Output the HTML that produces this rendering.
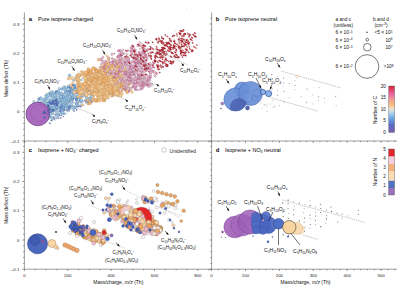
<!DOCTYPE html><html><head><meta charset="utf-8"><style>html,body{margin:0;padding:0;background:#fff;width:400px;height:300px;overflow:hidden}svg{display:block;font-family:"Liberation Sans",sans-serif}svg text{stroke:none}</style></head><body><svg width="400" height="300" viewBox="0 0 400 300"><rect width="400" height="300" fill="#fff"/><g><circle cx="83.6" cy="93.6" r="1.29" fill="#b2d8f5" stroke="#6e8597" stroke-width="0.3"/><circle cx="58.3" cy="90.8" r="1.09" fill="#b2d8f5" stroke="#6e8597" stroke-width="0.3"/><circle cx="69.1" cy="91.7" r="1.21" fill="#b2d8f5" stroke="#6e8597" stroke-width="0.3"/><circle cx="86.7" cy="91.5" r="1.22" fill="#b2d8f5" stroke="#6e8597" stroke-width="0.3"/><circle cx="69.5" cy="75.4" r="1.37" fill="#96c6f0" stroke="#5d7a94" stroke-width="0.3"/><circle cx="56.6" cy="104.6" r="0.95" fill="#b2d8f5" stroke="#6e8597" stroke-width="0.3"/><circle cx="48.6" cy="112.6" r="1.36" fill="#6996da" stroke="#415d87" stroke-width="0.3"/><circle cx="60.2" cy="102.7" r="0.87" fill="#b2d8f5" stroke="#6e8597" stroke-width="0.3"/><circle cx="57.5" cy="101.0" r="0.97" fill="#96c6f0" stroke="#5d7a94" stroke-width="0.3"/><circle cx="76.0" cy="103.5" r="0.88" fill="#6996da" stroke="#415d87" stroke-width="0.3"/><circle cx="68.4" cy="93.5" r="1.08" fill="#b2d8f5" stroke="#6e8597" stroke-width="0.3"/><circle cx="67.9" cy="86.8" r="0.99" fill="#b2d8f5" stroke="#6e8597" stroke-width="0.3"/><circle cx="62.4" cy="104.7" r="1.38" fill="#b2d8f5" stroke="#6e8597" stroke-width="0.3"/><circle cx="61.5" cy="108.6" r="0.84" fill="#b2d8f5" stroke="#6e8597" stroke-width="0.3"/><circle cx="52.1" cy="109.7" r="0.93" fill="#b2d8f5" stroke="#6e8597" stroke-width="0.3"/><circle cx="59.2" cy="88.7" r="1.27" fill="#b2d8f5" stroke="#6e8597" stroke-width="0.3"/><circle cx="51.9" cy="110.2" r="0.99" fill="#96c6f0" stroke="#5d7a94" stroke-width="0.3"/><circle cx="44.7" cy="107.3" r="1.28" fill="#b2d8f5" stroke="#6e8597" stroke-width="0.3"/><circle cx="48.5" cy="99.9" r="1.18" fill="#b2d8f5" stroke="#6e8597" stroke-width="0.3"/><circle cx="65.7" cy="107.2" r="1.13" fill="#b2d8f5" stroke="#6e8597" stroke-width="0.3"/><circle cx="59.0" cy="103.4" r="0.80" fill="#6996da" stroke="#415d87" stroke-width="0.3"/><circle cx="54.8" cy="108.7" r="1.19" fill="#96c6f0" stroke="#5d7a94" stroke-width="0.3"/><circle cx="45.3" cy="103.5" r="1.29" fill="#b2d8f5" stroke="#6e8597" stroke-width="0.3"/><circle cx="78.9" cy="93.0" r="1.28" fill="#b2d8f5" stroke="#6e8597" stroke-width="0.3"/><circle cx="68.1" cy="103.6" r="1.25" fill="#b2d8f5" stroke="#6e8597" stroke-width="0.3"/><circle cx="41.1" cy="104.0" r="1.39" fill="#96c6f0" stroke="#5d7a94" stroke-width="0.3"/><circle cx="81.4" cy="96.9" r="1.04" fill="#96c6f0" stroke="#5d7a94" stroke-width="0.3"/><circle cx="45.8" cy="103.9" r="1.34" fill="#b2d8f5" stroke="#6e8597" stroke-width="0.3"/><circle cx="79.1" cy="76.7" r="1.07" fill="#96c6f0" stroke="#5d7a94" stroke-width="0.3"/><circle cx="56.8" cy="92.8" r="1.26" fill="#b2d8f5" stroke="#6e8597" stroke-width="0.3"/><circle cx="73.4" cy="85.7" r="1.23" fill="#b2d8f5" stroke="#6e8597" stroke-width="0.3"/><circle cx="61.1" cy="93.0" r="1.11" fill="#96c6f0" stroke="#5d7a94" stroke-width="0.3"/><circle cx="67.6" cy="99.5" r="0.93" fill="#b2d8f5" stroke="#6e8597" stroke-width="0.3"/><circle cx="76.5" cy="104.2" r="1.31" fill="#96c6f0" stroke="#5d7a94" stroke-width="0.3"/><circle cx="53.7" cy="100.1" r="1.25" fill="#b2d8f5" stroke="#6e8597" stroke-width="0.3"/><circle cx="38.7" cy="98.5" r="0.88" fill="#b2d8f5" stroke="#6e8597" stroke-width="0.3"/><circle cx="46.4" cy="94.7" r="0.92" fill="#b2d8f5" stroke="#6e8597" stroke-width="0.3"/><circle cx="68.5" cy="96.7" r="1.10" fill="#b2d8f5" stroke="#6e8597" stroke-width="0.3"/><circle cx="69.5" cy="108.4" r="1.16" fill="#b2d8f5" stroke="#6e8597" stroke-width="0.3"/><circle cx="68.7" cy="86.9" r="1.32" fill="#6996da" stroke="#415d87" stroke-width="0.3"/><circle cx="46.9" cy="94.9" r="0.91" fill="#96c6f0" stroke="#5d7a94" stroke-width="0.3"/><circle cx="45.8" cy="110.6" r="1.11" fill="#96c6f0" stroke="#5d7a94" stroke-width="0.3"/><circle cx="58.2" cy="92.7" r="0.83" fill="#b2d8f5" stroke="#6e8597" stroke-width="0.3"/><circle cx="71.7" cy="107.9" r="0.88" fill="#b2d8f5" stroke="#6e8597" stroke-width="0.3"/><circle cx="66.7" cy="90.6" r="0.86" fill="#b2d8f5" stroke="#6e8597" stroke-width="0.3"/><circle cx="58.0" cy="99.8" r="0.91" fill="#b2d8f5" stroke="#6e8597" stroke-width="0.3"/><circle cx="57.7" cy="92.3" r="1.25" fill="#96c6f0" stroke="#5d7a94" stroke-width="0.3"/><circle cx="64.1" cy="106.1" r="1.25" fill="#96c6f0" stroke="#5d7a94" stroke-width="0.3"/><circle cx="68.9" cy="100.9" r="1.02" fill="#b2d8f5" stroke="#6e8597" stroke-width="0.3"/><circle cx="71.7" cy="95.4" r="1.06" fill="#b2d8f5" stroke="#6e8597" stroke-width="0.3"/><circle cx="63.1" cy="100.8" r="1.19" fill="#b2d8f5" stroke="#6e8597" stroke-width="0.3"/><circle cx="56.7" cy="107.3" r="1.32" fill="#b2d8f5" stroke="#6e8597" stroke-width="0.3"/><circle cx="52.8" cy="91.7" r="0.83" fill="#96c6f0" stroke="#5d7a94" stroke-width="0.3"/><circle cx="52.3" cy="100.6" r="0.95" fill="#b2d8f5" stroke="#6e8597" stroke-width="0.3"/><circle cx="78.0" cy="88.3" r="1.36" fill="#b2d8f5" stroke="#6e8597" stroke-width="0.3"/><circle cx="52.4" cy="94.2" r="1.25" fill="#96c6f0" stroke="#5d7a94" stroke-width="0.3"/><circle cx="62.3" cy="88.7" r="1.05" fill="#6996da" stroke="#415d87" stroke-width="0.3"/><circle cx="58.1" cy="106.8" r="1.15" fill="#96c6f0" stroke="#5d7a94" stroke-width="0.3"/><circle cx="59.1" cy="99.9" r="1.11" fill="#96c6f0" stroke="#5d7a94" stroke-width="0.3"/><circle cx="53.1" cy="110.7" r="1.32" fill="#b2d8f5" stroke="#6e8597" stroke-width="0.3"/><circle cx="45.9" cy="112.1" r="1.38" fill="#b2d8f5" stroke="#6e8597" stroke-width="0.3"/><circle cx="65.8" cy="92.3" r="1.34" fill="#6996da" stroke="#415d87" stroke-width="0.3"/><circle cx="62.0" cy="104.7" r="1.00" fill="#b2d8f5" stroke="#6e8597" stroke-width="0.3"/><circle cx="79.0" cy="98.1" r="0.96" fill="#b2d8f5" stroke="#6e8597" stroke-width="0.3"/><circle cx="69.7" cy="101.6" r="0.95" fill="#96c6f0" stroke="#5d7a94" stroke-width="0.3"/><circle cx="76.3" cy="100.4" r="1.20" fill="#b2d8f5" stroke="#6e8597" stroke-width="0.3"/><circle cx="69.6" cy="94.0" r="0.92" fill="#6996da" stroke="#415d87" stroke-width="0.3"/><circle cx="39.3" cy="103.6" r="1.37" fill="#96c6f0" stroke="#5d7a94" stroke-width="0.3"/><circle cx="77.0" cy="97.9" r="1.16" fill="#6996da" stroke="#415d87" stroke-width="0.3"/><circle cx="76.3" cy="98.8" r="1.03" fill="#96c6f0" stroke="#5d7a94" stroke-width="0.3"/><circle cx="77.6" cy="80.0" r="1.35" fill="#96c6f0" stroke="#5d7a94" stroke-width="0.3"/><circle cx="65.9" cy="99.3" r="1.16" fill="#96c6f0" stroke="#5d7a94" stroke-width="0.3"/><circle cx="44.4" cy="102.8" r="1.30" fill="#b2d8f5" stroke="#6e8597" stroke-width="0.3"/><circle cx="73.6" cy="90.5" r="1.31" fill="#96c6f0" stroke="#5d7a94" stroke-width="0.3"/><circle cx="47.1" cy="109.1" r="1.00" fill="#96c6f0" stroke="#5d7a94" stroke-width="0.3"/><circle cx="55.5" cy="103.8" r="1.17" fill="#b2d8f5" stroke="#6e8597" stroke-width="0.3"/><circle cx="56.5" cy="106.6" r="0.80" fill="#b2d8f5" stroke="#6e8597" stroke-width="0.3"/><circle cx="52.8" cy="106.4" r="1.39" fill="#b2d8f5" stroke="#6e8597" stroke-width="0.3"/><circle cx="66.4" cy="96.8" r="0.92" fill="#96c6f0" stroke="#5d7a94" stroke-width="0.3"/><circle cx="46.3" cy="102.3" r="1.17" fill="#b2d8f5" stroke="#6e8597" stroke-width="0.3"/><circle cx="64.0" cy="113.9" r="0.90" fill="#96c6f0" stroke="#5d7a94" stroke-width="0.3"/><circle cx="53.1" cy="104.4" r="1.34" fill="#b2d8f5" stroke="#6e8597" stroke-width="0.3"/><circle cx="87.4" cy="98.1" r="1.18" fill="#96c6f0" stroke="#5d7a94" stroke-width="0.3"/><circle cx="40.0" cy="104.0" r="1.11" fill="#96c6f0" stroke="#5d7a94" stroke-width="0.3"/><circle cx="75.1" cy="90.6" r="0.99" fill="#6996da" stroke="#415d87" stroke-width="0.3"/><circle cx="68.5" cy="95.3" r="1.07" fill="#96c6f0" stroke="#5d7a94" stroke-width="0.3"/><circle cx="85.7" cy="96.4" r="0.84" fill="#b2d8f5" stroke="#6e8597" stroke-width="0.3"/><circle cx="66.3" cy="103.5" r="0.88" fill="#6996da" stroke="#415d87" stroke-width="0.3"/><circle cx="60.6" cy="110.8" r="0.96" fill="#b2d8f5" stroke="#6e8597" stroke-width="0.3"/><circle cx="66.6" cy="99.3" r="1.22" fill="#96c6f0" stroke="#5d7a94" stroke-width="0.3"/><circle cx="79.1" cy="86.5" r="1.00" fill="#b2d8f5" stroke="#6e8597" stroke-width="0.3"/><circle cx="43.8" cy="109.3" r="1.02" fill="#b2d8f5" stroke="#6e8597" stroke-width="0.3"/><circle cx="61.1" cy="108.2" r="1.36" fill="#b2d8f5" stroke="#6e8597" stroke-width="0.3"/><circle cx="76.1" cy="77.0" r="1.17" fill="#b2d8f5" stroke="#6e8597" stroke-width="0.3"/><circle cx="52.7" cy="113.8" r="1.30" fill="#b2d8f5" stroke="#6e8597" stroke-width="0.3"/><circle cx="72.4" cy="84.8" r="0.85" fill="#6996da" stroke="#415d87" stroke-width="0.3"/><circle cx="74.9" cy="88.8" r="1.36" fill="#b2d8f5" stroke="#6e8597" stroke-width="0.3"/><circle cx="44.6" cy="104.4" r="1.06" fill="#b2d8f5" stroke="#6e8597" stroke-width="0.3"/><circle cx="42.3" cy="105.1" r="1.28" fill="#b2d8f5" stroke="#6e8597" stroke-width="0.3"/><circle cx="71.6" cy="100.8" r="1.05" fill="#b2d8f5" stroke="#6e8597" stroke-width="0.3"/><circle cx="46.0" cy="113.0" r="1.05" fill="#b2d8f5" stroke="#6e8597" stroke-width="0.3"/><circle cx="71.1" cy="97.7" r="1.25" fill="#6996da" stroke="#415d87" stroke-width="0.3"/><circle cx="53.8" cy="102.0" r="1.14" fill="#b2d8f5" stroke="#6e8597" stroke-width="0.3"/><circle cx="77.2" cy="103.6" r="1.03" fill="#6996da" stroke="#415d87" stroke-width="0.3"/><circle cx="67.9" cy="91.5" r="1.29" fill="#96c6f0" stroke="#5d7a94" stroke-width="0.3"/><circle cx="80.3" cy="98.6" r="1.33" fill="#b2d8f5" stroke="#6e8597" stroke-width="0.3"/><circle cx="58.4" cy="94.0" r="1.26" fill="#96c6f0" stroke="#5d7a94" stroke-width="0.3"/><circle cx="55.1" cy="105.1" r="1.18" fill="#96c6f0" stroke="#5d7a94" stroke-width="0.3"/><circle cx="56.5" cy="98.0" r="1.17" fill="#b2d8f5" stroke="#6e8597" stroke-width="0.3"/><circle cx="63.2" cy="104.9" r="1.35" fill="#96c6f0" stroke="#5d7a94" stroke-width="0.3"/><circle cx="53.7" cy="110.1" r="1.25" fill="#96c6f0" stroke="#5d7a94" stroke-width="0.3"/><circle cx="88.2" cy="100.3" r="1.04" fill="#96c6f0" stroke="#5d7a94" stroke-width="0.3"/><circle cx="59.9" cy="94.0" r="1.30" fill="#b2d8f5" stroke="#6e8597" stroke-width="0.3"/><circle cx="64.1" cy="106.7" r="1.30" fill="#b2d8f5" stroke="#6e8597" stroke-width="0.3"/><circle cx="46.3" cy="97.7" r="1.19" fill="#b2d8f5" stroke="#6e8597" stroke-width="0.3"/><circle cx="72.2" cy="91.1" r="1.16" fill="#b2d8f5" stroke="#6e8597" stroke-width="0.3"/><circle cx="74.1" cy="106.6" r="1.21" fill="#b2d8f5" stroke="#6e8597" stroke-width="0.3"/><circle cx="78.0" cy="101.6" r="1.12" fill="#b2d8f5" stroke="#6e8597" stroke-width="0.3"/><circle cx="43.4" cy="99.6" r="1.38" fill="#96c6f0" stroke="#5d7a94" stroke-width="0.3"/><circle cx="63.4" cy="110.3" r="1.35" fill="#96c6f0" stroke="#5d7a94" stroke-width="0.3"/><circle cx="51.2" cy="112.3" r="1.34" fill="#b2d8f5" stroke="#6e8597" stroke-width="0.3"/><circle cx="61.1" cy="104.9" r="1.08" fill="#b2d8f5" stroke="#6e8597" stroke-width="0.3"/><circle cx="45.8" cy="95.9" r="1.26" fill="#b2d8f5" stroke="#6e8597" stroke-width="0.3"/><circle cx="49.7" cy="93.4" r="1.13" fill="#b2d8f5" stroke="#6e8597" stroke-width="0.3"/><circle cx="67.8" cy="106.2" r="1.29" fill="#b2d8f5" stroke="#6e8597" stroke-width="0.3"/><circle cx="48.1" cy="106.8" r="1.37" fill="#b2d8f5" stroke="#6e8597" stroke-width="0.3"/><circle cx="62.6" cy="96.9" r="1.35" fill="#b2d8f5" stroke="#6e8597" stroke-width="0.3"/><circle cx="50.3" cy="94.0" r="1.40" fill="#6996da" stroke="#415d87" stroke-width="0.3"/><circle cx="68.9" cy="106.7" r="1.06" fill="#96c6f0" stroke="#5d7a94" stroke-width="0.3"/><circle cx="83.6" cy="94.5" r="0.95" fill="#96c6f0" stroke="#5d7a94" stroke-width="0.3"/><circle cx="76.7" cy="106.8" r="0.91" fill="#96c6f0" stroke="#5d7a94" stroke-width="0.3"/><circle cx="49.3" cy="109.9" r="0.89" fill="#6996da" stroke="#415d87" stroke-width="0.3"/><circle cx="54.1" cy="95.6" r="1.31" fill="#b2d8f5" stroke="#6e8597" stroke-width="0.3"/><circle cx="49.6" cy="94.7" r="1.37" fill="#96c6f0" stroke="#5d7a94" stroke-width="0.3"/><circle cx="65.7" cy="98.0" r="0.93" fill="#96c6f0" stroke="#5d7a94" stroke-width="0.3"/><circle cx="48.3" cy="103.5" r="1.04" fill="#96c6f0" stroke="#5d7a94" stroke-width="0.3"/><circle cx="49.7" cy="105.2" r="1.25" fill="#b2d8f5" stroke="#6e8597" stroke-width="0.3"/><circle cx="44.5" cy="100.9" r="1.10" fill="#96c6f0" stroke="#5d7a94" stroke-width="0.3"/><circle cx="48.2" cy="115.8" r="0.84" fill="#6996da" stroke="#415d87" stroke-width="0.3"/><circle cx="61.7" cy="99.0" r="1.32" fill="#b2d8f5" stroke="#6e8597" stroke-width="0.3"/><circle cx="63.2" cy="94.4" r="1.07" fill="#b2d8f5" stroke="#6e8597" stroke-width="0.3"/><circle cx="44.6" cy="116.0" r="0.83" fill="#96c6f0" stroke="#5d7a94" stroke-width="0.3"/><circle cx="53.7" cy="103.0" r="0.99" fill="#96c6f0" stroke="#5d7a94" stroke-width="0.3"/><circle cx="62.7" cy="102.3" r="1.31" fill="#96c6f0" stroke="#5d7a94" stroke-width="0.3"/><circle cx="65.9" cy="94.8" r="0.89" fill="#b2d8f5" stroke="#6e8597" stroke-width="0.3"/><circle cx="63.4" cy="107.3" r="1.40" fill="#96c6f0" stroke="#5d7a94" stroke-width="0.3"/><circle cx="64.3" cy="88.3" r="1.17" fill="#96c6f0" stroke="#5d7a94" stroke-width="0.3"/><circle cx="51.4" cy="99.6" r="1.00" fill="#b2d8f5" stroke="#6e8597" stroke-width="0.3"/><circle cx="69.6" cy="108.3" r="1.15" fill="#b2d8f5" stroke="#6e8597" stroke-width="0.3"/><circle cx="59.8" cy="107.8" r="1.28" fill="#b2d8f5" stroke="#6e8597" stroke-width="0.3"/><circle cx="72.4" cy="91.2" r="1.03" fill="#6996da" stroke="#415d87" stroke-width="0.3"/><circle cx="63.6" cy="112.7" r="0.89" fill="#96c6f0" stroke="#5d7a94" stroke-width="0.3"/><circle cx="58.2" cy="92.9" r="1.09" fill="#96c6f0" stroke="#5d7a94" stroke-width="0.3"/><circle cx="57.1" cy="109.0" r="0.81" fill="#6996da" stroke="#415d87" stroke-width="0.3"/><circle cx="45.4" cy="111.8" r="0.81" fill="#96c6f0" stroke="#5d7a94" stroke-width="0.3"/><circle cx="50.6" cy="102.5" r="1.09" fill="#b2d8f5" stroke="#6e8597" stroke-width="0.3"/><circle cx="66.2" cy="93.7" r="1.09" fill="#b2d8f5" stroke="#6e8597" stroke-width="0.3"/><circle cx="46.0" cy="104.3" r="1.22" fill="#96c6f0" stroke="#5d7a94" stroke-width="0.3"/><circle cx="87.5" cy="89.9" r="1.27" fill="#96c6f0" stroke="#5d7a94" stroke-width="0.3"/><circle cx="46.4" cy="104.0" r="0.91" fill="#b2d8f5" stroke="#6e8597" stroke-width="0.3"/><circle cx="65.9" cy="104.4" r="1.28" fill="#6996da" stroke="#415d87" stroke-width="0.3"/><circle cx="46.0" cy="107.2" r="0.99" fill="#6996da" stroke="#415d87" stroke-width="0.3"/><circle cx="51.2" cy="103.5" r="0.86" fill="#6996da" stroke="#415d87" stroke-width="0.3"/><circle cx="83.7" cy="85.2" r="1.12" fill="#b2d8f5" stroke="#6e8597" stroke-width="0.3"/><circle cx="82.3" cy="101.2" r="0.96" fill="#6996da" stroke="#415d87" stroke-width="0.3"/><circle cx="57.0" cy="92.0" r="1.34" fill="#96c6f0" stroke="#5d7a94" stroke-width="0.3"/><circle cx="68.8" cy="105.9" r="1.34" fill="#b2d8f5" stroke="#6e8597" stroke-width="0.3"/><circle cx="92.0" cy="99.2" r="0.88" fill="#6996da" stroke="#415d87" stroke-width="0.3"/><circle cx="71.9" cy="96.2" r="1.25" fill="#b2d8f5" stroke="#6e8597" stroke-width="0.3"/><circle cx="73.3" cy="95.5" r="1.34" fill="#96c6f0" stroke="#5d7a94" stroke-width="0.3"/><circle cx="87.1" cy="89.8" r="0.90" fill="#6996da" stroke="#415d87" stroke-width="0.3"/><circle cx="61.7" cy="101.8" r="1.12" fill="#b2d8f5" stroke="#6e8597" stroke-width="0.3"/><circle cx="66.1" cy="109.6" r="1.24" fill="#96c6f0" stroke="#5d7a94" stroke-width="0.3"/><circle cx="64.0" cy="97.8" r="0.94" fill="#b2d8f5" stroke="#6e8597" stroke-width="0.3"/><circle cx="52.6" cy="109.1" r="1.17" fill="#96c6f0" stroke="#5d7a94" stroke-width="0.3"/><circle cx="63.5" cy="97.3" r="1.26" fill="#6996da" stroke="#415d87" stroke-width="0.3"/><circle cx="82.8" cy="104.8" r="0.88" fill="#b2d8f5" stroke="#6e8597" stroke-width="0.3"/><circle cx="50.6" cy="109.3" r="0.85" fill="#b2d8f5" stroke="#6e8597" stroke-width="0.3"/><circle cx="62.8" cy="106.2" r="1.14" fill="#96c6f0" stroke="#5d7a94" stroke-width="0.3"/><circle cx="57.6" cy="108.8" r="0.83" fill="#96c6f0" stroke="#5d7a94" stroke-width="0.3"/><circle cx="51.9" cy="108.8" r="1.23" fill="#b2d8f5" stroke="#6e8597" stroke-width="0.3"/><circle cx="60.3" cy="101.7" r="0.85" fill="#6996da" stroke="#415d87" stroke-width="0.3"/><circle cx="46.0" cy="99.3" r="1.05" fill="#96c6f0" stroke="#5d7a94" stroke-width="0.3"/><circle cx="56.9" cy="93.0" r="0.98" fill="#b2d8f5" stroke="#6e8597" stroke-width="0.3"/><circle cx="61.8" cy="98.9" r="0.98" fill="#b2d8f5" stroke="#6e8597" stroke-width="0.3"/><circle cx="64.4" cy="104.7" r="1.39" fill="#b2d8f5" stroke="#6e8597" stroke-width="0.3"/><circle cx="73.8" cy="97.5" r="1.22" fill="#96c6f0" stroke="#5d7a94" stroke-width="0.3"/><circle cx="67.6" cy="96.5" r="1.30" fill="#96c6f0" stroke="#5d7a94" stroke-width="0.3"/><circle cx="88.5" cy="98.8" r="1.02" fill="#b2d8f5" stroke="#6e8597" stroke-width="0.3"/><circle cx="56.8" cy="112.3" r="1.27" fill="#b2d8f5" stroke="#6e8597" stroke-width="0.3"/><circle cx="73.1" cy="87.0" r="1.15" fill="#b2d8f5" stroke="#6e8597" stroke-width="0.3"/><circle cx="45.4" cy="103.2" r="1.02" fill="#b2d8f5" stroke="#6e8597" stroke-width="0.3"/><circle cx="71.9" cy="105.7" r="1.34" fill="#96c6f0" stroke="#5d7a94" stroke-width="0.3"/><circle cx="79.2" cy="84.5" r="1.09" fill="#6996da" stroke="#415d87" stroke-width="0.3"/><circle cx="54.0" cy="105.1" r="0.90" fill="#b2d8f5" stroke="#6e8597" stroke-width="0.3"/><circle cx="71.2" cy="102.5" r="1.00" fill="#96c6f0" stroke="#5d7a94" stroke-width="0.3"/><circle cx="69.2" cy="96.9" r="1.35" fill="#b2d8f5" stroke="#6e8597" stroke-width="0.3"/><circle cx="60.8" cy="106.5" r="1.06" fill="#b2d8f5" stroke="#6e8597" stroke-width="0.3"/><circle cx="111.7" cy="72.4" r="1.19" fill="#f8be7d" stroke="#b2885a" stroke-width="0.3"/><circle cx="66.2" cy="98.5" r="0.96" fill="#96c6f0" stroke="#5d7a94" stroke-width="0.3"/><circle cx="106.7" cy="73.5" r="1.41" fill="#facf98" stroke="#b4956d" stroke-width="0.3"/><circle cx="86.6" cy="83.0" r="1.35" fill="#f4af69" stroke="#af7e4b" stroke-width="0.3"/><circle cx="73.3" cy="90.4" r="1.36" fill="#96c6f0" stroke="#5d7a94" stroke-width="0.3"/><circle cx="120.8" cy="72.7" r="1.42" fill="#f4af69" stroke="#af7e4b" stroke-width="0.3"/><circle cx="116.2" cy="68.3" r="1.10" fill="#facf98" stroke="#b4956d" stroke-width="0.3"/><circle cx="124.8" cy="78.8" r="1.61" fill="#facf98" stroke="#b4956d" stroke-width="0.3"/><circle cx="95.0" cy="89.9" r="1.13" fill="#f8be7d" stroke="#b2885a" stroke-width="0.3"/><circle cx="121.7" cy="84.4" r="1.54" fill="#f8be7d" stroke="#b2885a" stroke-width="0.3"/><circle cx="54.7" cy="101.8" r="1.21" fill="#b2d8f5" stroke="#6e8597" stroke-width="0.3"/><circle cx="69.7" cy="99.1" r="0.84" fill="#96c6f0" stroke="#5d7a94" stroke-width="0.3"/><circle cx="61.4" cy="105.2" r="1.08" fill="#96c6f0" stroke="#5d7a94" stroke-width="0.3"/><circle cx="102.4" cy="91.0" r="1.50" fill="#f8be7d" stroke="#b2885a" stroke-width="0.3"/><circle cx="111.7" cy="77.5" r="1.16" fill="#f8be7d" stroke="#b2885a" stroke-width="0.3"/><circle cx="104.8" cy="83.6" r="1.04" fill="#facf98" stroke="#b4956d" stroke-width="0.3"/><circle cx="67.4" cy="102.0" r="1.32" fill="#b2d8f5" stroke="#6e8597" stroke-width="0.3"/><circle cx="105.1" cy="69.1" r="1.45" fill="#f8be7d" stroke="#b2885a" stroke-width="0.3"/><circle cx="114.8" cy="64.6" r="1.13" fill="#f4af69" stroke="#af7e4b" stroke-width="0.3"/><circle cx="118.9" cy="72.9" r="1.33" fill="#f8be7d" stroke="#b2885a" stroke-width="0.3"/><circle cx="116.2" cy="77.3" r="1.64" fill="#f8be7d" stroke="#b2885a" stroke-width="0.3"/><circle cx="79.5" cy="94.2" r="1.36" fill="#b2d8f5" stroke="#6e8597" stroke-width="0.3"/><circle cx="119.0" cy="75.5" r="1.59" fill="#f8be7d" stroke="#b2885a" stroke-width="0.3"/><circle cx="70.2" cy="85.5" r="1.10" fill="#96c6f0" stroke="#5d7a94" stroke-width="0.3"/><circle cx="71.3" cy="91.0" r="1.32" fill="#b2d8f5" stroke="#6e8597" stroke-width="0.3"/><circle cx="106.9" cy="74.4" r="1.40" fill="#f4af69" stroke="#af7e4b" stroke-width="0.3"/><circle cx="92.5" cy="94.6" r="1.43" fill="#facf98" stroke="#b4956d" stroke-width="0.3"/><circle cx="70.6" cy="101.0" r="0.99" fill="#6996da" stroke="#415d87" stroke-width="0.3"/><circle cx="102.8" cy="83.6" r="1.45" fill="#f8be7d" stroke="#b2885a" stroke-width="0.3"/><circle cx="132.0" cy="92.0" r="1.39" fill="#facf98" stroke="#b4956d" stroke-width="0.3"/><circle cx="119.4" cy="91.9" r="1.64" fill="#f8be7d" stroke="#b2885a" stroke-width="0.3"/><circle cx="87.7" cy="74.7" r="1.04" fill="#f8be7d" stroke="#b2885a" stroke-width="0.3"/><circle cx="70.8" cy="85.1" r="1.41" fill="#facf98" stroke="#b4956d" stroke-width="0.3"/><circle cx="53.6" cy="101.6" r="1.16" fill="#b2d8f5" stroke="#6e8597" stroke-width="0.3"/><circle cx="51.5" cy="101.1" r="1.13" fill="#b2d8f5" stroke="#6e8597" stroke-width="0.3"/><circle cx="79.0" cy="96.2" r="1.08" fill="#b2d8f5" stroke="#6e8597" stroke-width="0.3"/><circle cx="89.5" cy="93.8" r="1.02" fill="#f8be7d" stroke="#b2885a" stroke-width="0.3"/><circle cx="47.1" cy="106.8" r="1.12" fill="#b2d8f5" stroke="#6e8597" stroke-width="0.3"/><circle cx="107.5" cy="65.5" r="1.44" fill="#f8be7d" stroke="#b2885a" stroke-width="0.3"/><circle cx="76.6" cy="91.0" r="1.09" fill="#f4af69" stroke="#af7e4b" stroke-width="0.3"/><circle cx="85.4" cy="94.3" r="0.91" fill="#b2d8f5" stroke="#6e8597" stroke-width="0.3"/><circle cx="43.4" cy="113.0" r="0.94" fill="#b2d8f5" stroke="#6e8597" stroke-width="0.3"/><circle cx="42.3" cy="109.9" r="1.08" fill="#b2d8f5" stroke="#6e8597" stroke-width="0.3"/><circle cx="64.8" cy="95.6" r="1.35" fill="#b2d8f5" stroke="#6e8597" stroke-width="0.3"/><circle cx="65.8" cy="102.0" r="1.21" fill="#b2d8f5" stroke="#6e8597" stroke-width="0.3"/><circle cx="114.2" cy="60.4" r="1.22" fill="#facf98" stroke="#b4956d" stroke-width="0.3"/><circle cx="67.2" cy="102.2" r="1.31" fill="#96c6f0" stroke="#5d7a94" stroke-width="0.3"/><circle cx="83.8" cy="89.8" r="1.14" fill="#facf98" stroke="#b4956d" stroke-width="0.3"/><circle cx="74.5" cy="85.5" r="1.29" fill="#6996da" stroke="#415d87" stroke-width="0.3"/><circle cx="113.1" cy="92.4" r="1.18" fill="#f8be7d" stroke="#b2885a" stroke-width="0.3"/><circle cx="113.9" cy="70.5" r="1.12" fill="#facf98" stroke="#b4956d" stroke-width="0.3"/><circle cx="57.5" cy="101.7" r="1.27" fill="#b2d8f5" stroke="#6e8597" stroke-width="0.3"/><circle cx="58.2" cy="106.5" r="1.04" fill="#b2d8f5" stroke="#6e8597" stroke-width="0.3"/><circle cx="75.4" cy="87.0" r="0.97" fill="#96c6f0" stroke="#5d7a94" stroke-width="0.3"/><circle cx="52.2" cy="112.0" r="1.38" fill="#b2d8f5" stroke="#6e8597" stroke-width="0.3"/><circle cx="73.9" cy="87.0" r="1.14" fill="#96c6f0" stroke="#5d7a94" stroke-width="0.3"/><circle cx="93.2" cy="95.9" r="1.38" fill="#f8be7d" stroke="#b2885a" stroke-width="0.3"/><circle cx="119.5" cy="77.3" r="1.64" fill="#f4af69" stroke="#af7e4b" stroke-width="0.3"/><circle cx="97.6" cy="96.6" r="1.08" fill="#f8be7d" stroke="#b2885a" stroke-width="0.3"/><circle cx="95.4" cy="79.1" r="1.30" fill="#f4af69" stroke="#af7e4b" stroke-width="0.3"/><circle cx="74.6" cy="88.0" r="1.11" fill="#6996da" stroke="#415d87" stroke-width="0.3"/><circle cx="65.6" cy="92.7" r="1.04" fill="#b2d8f5" stroke="#6e8597" stroke-width="0.3"/><circle cx="91.3" cy="80.7" r="1.28" fill="#f4af69" stroke="#af7e4b" stroke-width="0.3"/><circle cx="93.8" cy="78.1" r="1.28" fill="#f4af69" stroke="#af7e4b" stroke-width="0.3"/><circle cx="99.3" cy="89.0" r="1.17" fill="#f8be7d" stroke="#b2885a" stroke-width="0.3"/><circle cx="105.7" cy="84.4" r="1.45" fill="#f8be7d" stroke="#b2885a" stroke-width="0.3"/><circle cx="72.9" cy="109.1" r="1.04" fill="#b2d8f5" stroke="#6e8597" stroke-width="0.3"/><circle cx="91.5" cy="100.6" r="1.32" fill="#b2d8f5" stroke="#6e8597" stroke-width="0.3"/><circle cx="115.2" cy="77.5" r="1.27" fill="#f8be7d" stroke="#b2885a" stroke-width="0.3"/><circle cx="80.1" cy="94.0" r="0.97" fill="#96c6f0" stroke="#5d7a94" stroke-width="0.3"/><circle cx="58.3" cy="114.6" r="1.02" fill="#6996da" stroke="#415d87" stroke-width="0.3"/><circle cx="55.5" cy="107.8" r="0.81" fill="#6996da" stroke="#415d87" stroke-width="0.3"/><circle cx="103.5" cy="81.9" r="1.62" fill="#f8be7d" stroke="#b2885a" stroke-width="0.3"/><circle cx="57.9" cy="101.7" r="1.10" fill="#96c6f0" stroke="#5d7a94" stroke-width="0.3"/><circle cx="65.0" cy="97.3" r="1.38" fill="#b2d8f5" stroke="#6e8597" stroke-width="0.3"/><circle cx="41.5" cy="105.2" r="0.95" fill="#b2d8f5" stroke="#6e8597" stroke-width="0.3"/><circle cx="99.3" cy="97.7" r="1.42" fill="#f8be7d" stroke="#b2885a" stroke-width="0.3"/><circle cx="56.2" cy="96.3" r="0.90" fill="#b2d8f5" stroke="#6e8597" stroke-width="0.3"/><circle cx="51.1" cy="106.5" r="1.27" fill="#b2d8f5" stroke="#6e8597" stroke-width="0.3"/><circle cx="33.9" cy="101.6" r="1.28" fill="#b2d8f5" stroke="#6e8597" stroke-width="0.3"/><circle cx="115.0" cy="90.6" r="1.01" fill="#f8be7d" stroke="#b2885a" stroke-width="0.3"/><circle cx="93.7" cy="73.4" r="1.09" fill="#f4af69" stroke="#af7e4b" stroke-width="0.3"/><circle cx="69.4" cy="105.7" r="0.88" fill="#b2d8f5" stroke="#6e8597" stroke-width="0.3"/><circle cx="124.8" cy="89.4" r="1.35" fill="#f8be7d" stroke="#b2885a" stroke-width="0.3"/><circle cx="113.2" cy="95.0" r="1.52" fill="#f8be7d" stroke="#b2885a" stroke-width="0.3"/><circle cx="104.7" cy="65.1" r="1.10" fill="#f4af69" stroke="#af7e4b" stroke-width="0.3"/><circle cx="107.2" cy="81.4" r="1.38" fill="#f8be7d" stroke="#b2885a" stroke-width="0.3"/><circle cx="47.8" cy="111.4" r="1.19" fill="#96c6f0" stroke="#5d7a94" stroke-width="0.3"/><circle cx="65.8" cy="107.5" r="0.94" fill="#96c6f0" stroke="#5d7a94" stroke-width="0.3"/><circle cx="100.1" cy="86.2" r="1.63" fill="#f8be7d" stroke="#b2885a" stroke-width="0.3"/><circle cx="55.3" cy="95.7" r="1.15" fill="#96c6f0" stroke="#5d7a94" stroke-width="0.3"/><circle cx="92.5" cy="77.1" r="1.25" fill="#f8be7d" stroke="#b2885a" stroke-width="0.3"/><circle cx="107.4" cy="73.0" r="1.37" fill="#f8be7d" stroke="#b2885a" stroke-width="0.3"/><circle cx="114.9" cy="77.4" r="1.43" fill="#f8be7d" stroke="#b2885a" stroke-width="0.3"/><circle cx="109.8" cy="63.4" r="1.29" fill="#facf98" stroke="#b4956d" stroke-width="0.3"/><circle cx="73.7" cy="86.3" r="1.13" fill="#96c6f0" stroke="#5d7a94" stroke-width="0.3"/><circle cx="109.8" cy="64.3" r="1.19" fill="#f4af69" stroke="#af7e4b" stroke-width="0.3"/><circle cx="56.1" cy="110.8" r="1.38" fill="#b2d8f5" stroke="#6e8597" stroke-width="0.3"/><circle cx="125.9" cy="87.4" r="1.05" fill="#f4af69" stroke="#af7e4b" stroke-width="0.3"/><circle cx="104.9" cy="93.7" r="1.33" fill="#facf98" stroke="#b4956d" stroke-width="0.3"/><circle cx="125.3" cy="71.3" r="1.47" fill="#facf98" stroke="#b4956d" stroke-width="0.3"/><circle cx="115.6" cy="75.8" r="1.65" fill="#facf98" stroke="#b4956d" stroke-width="0.3"/><circle cx="79.0" cy="92.4" r="1.06" fill="#f8be7d" stroke="#b2885a" stroke-width="0.3"/><circle cx="83.9" cy="84.4" r="1.33" fill="#f8be7d" stroke="#b2885a" stroke-width="0.3"/><circle cx="109.8" cy="66.6" r="1.31" fill="#f4af69" stroke="#af7e4b" stroke-width="0.3"/><circle cx="106.9" cy="63.2" r="1.40" fill="#facf98" stroke="#b4956d" stroke-width="0.3"/><circle cx="98.1" cy="85.2" r="1.18" fill="#facf98" stroke="#b4956d" stroke-width="0.3"/><circle cx="100.5" cy="87.3" r="1.01" fill="#facf98" stroke="#b4956d" stroke-width="0.3"/><circle cx="58.6" cy="95.5" r="1.07" fill="#b2d8f5" stroke="#6e8597" stroke-width="0.3"/><circle cx="45.3" cy="98.8" r="1.22" fill="#96c6f0" stroke="#5d7a94" stroke-width="0.3"/><circle cx="104.7" cy="72.7" r="1.36" fill="#f8be7d" stroke="#b2885a" stroke-width="0.3"/><circle cx="117.5" cy="83.3" r="1.46" fill="#f8be7d" stroke="#b2885a" stroke-width="0.3"/><circle cx="80.6" cy="106.1" r="1.21" fill="#6996da" stroke="#415d87" stroke-width="0.3"/><circle cx="107.9" cy="84.2" r="1.19" fill="#f8be7d" stroke="#b2885a" stroke-width="0.3"/><circle cx="73.3" cy="98.8" r="0.96" fill="#96c6f0" stroke="#5d7a94" stroke-width="0.3"/><circle cx="119.0" cy="81.2" r="1.08" fill="#f8be7d" stroke="#b2885a" stroke-width="0.3"/><circle cx="48.7" cy="101.3" r="0.80" fill="#96c6f0" stroke="#5d7a94" stroke-width="0.3"/><circle cx="70.8" cy="99.7" r="1.16" fill="#b2d8f5" stroke="#6e8597" stroke-width="0.3"/><circle cx="118.4" cy="79.8" r="1.21" fill="#facf98" stroke="#b4956d" stroke-width="0.3"/><circle cx="102.2" cy="72.5" r="1.08" fill="#f8be7d" stroke="#b2885a" stroke-width="0.3"/><circle cx="104.7" cy="100.0" r="1.42" fill="#f8be7d" stroke="#b2885a" stroke-width="0.3"/><circle cx="106.0" cy="76.6" r="1.06" fill="#f4af69" stroke="#af7e4b" stroke-width="0.3"/><circle cx="90.5" cy="96.8" r="1.23" fill="#facf98" stroke="#b4956d" stroke-width="0.3"/><circle cx="87.0" cy="100.8" r="1.45" fill="#f4af69" stroke="#af7e4b" stroke-width="0.3"/><circle cx="88.6" cy="93.8" r="0.87" fill="#6996da" stroke="#415d87" stroke-width="0.3"/><circle cx="102.2" cy="73.4" r="1.61" fill="#f8be7d" stroke="#b2885a" stroke-width="0.3"/><circle cx="105.6" cy="98.4" r="1.05" fill="#facf98" stroke="#b4956d" stroke-width="0.3"/><circle cx="111.4" cy="91.0" r="1.44" fill="#facf98" stroke="#b4956d" stroke-width="0.3"/><circle cx="100.2" cy="91.3" r="1.44" fill="#f8be7d" stroke="#b2885a" stroke-width="0.3"/><circle cx="67.0" cy="100.0" r="1.08" fill="#96c6f0" stroke="#5d7a94" stroke-width="0.3"/><circle cx="100.1" cy="81.1" r="1.46" fill="#facf98" stroke="#b4956d" stroke-width="0.3"/><circle cx="112.5" cy="65.4" r="1.08" fill="#facf98" stroke="#b4956d" stroke-width="0.3"/><circle cx="72.8" cy="93.4" r="1.19" fill="#96c6f0" stroke="#5d7a94" stroke-width="0.3"/><circle cx="64.6" cy="101.1" r="1.29" fill="#b2d8f5" stroke="#6e8597" stroke-width="0.3"/><circle cx="51.4" cy="112.1" r="1.34" fill="#b2d8f5" stroke="#6e8597" stroke-width="0.3"/><circle cx="106.5" cy="96.8" r="1.52" fill="#f8be7d" stroke="#b2885a" stroke-width="0.3"/><circle cx="108.4" cy="85.4" r="1.59" fill="#f8be7d" stroke="#b2885a" stroke-width="0.3"/><circle cx="98.9" cy="90.0" r="1.48" fill="#facf98" stroke="#b4956d" stroke-width="0.3"/><circle cx="90.3" cy="81.3" r="1.46" fill="#facf98" stroke="#b4956d" stroke-width="0.3"/><circle cx="63.7" cy="102.0" r="0.96" fill="#6996da" stroke="#415d87" stroke-width="0.3"/><circle cx="71.7" cy="102.0" r="1.25" fill="#6996da" stroke="#415d87" stroke-width="0.3"/><circle cx="73.4" cy="102.4" r="0.99" fill="#b2d8f5" stroke="#6e8597" stroke-width="0.3"/><circle cx="94.8" cy="90.4" r="1.08" fill="#f8be7d" stroke="#b2885a" stroke-width="0.3"/><circle cx="53.2" cy="106.1" r="1.06" fill="#96c6f0" stroke="#5d7a94" stroke-width="0.3"/><circle cx="103.6" cy="76.9" r="1.58" fill="#facf98" stroke="#b4956d" stroke-width="0.3"/><circle cx="95.8" cy="83.9" r="1.43" fill="#f4af69" stroke="#af7e4b" stroke-width="0.3"/><circle cx="94.6" cy="83.7" r="1.04" fill="#f4af69" stroke="#af7e4b" stroke-width="0.3"/><circle cx="68.7" cy="85.9" r="0.94" fill="#b2d8f5" stroke="#6e8597" stroke-width="0.3"/><circle cx="92.1" cy="80.7" r="1.11" fill="#facf98" stroke="#b4956d" stroke-width="0.3"/><circle cx="86.7" cy="88.3" r="1.13" fill="#f4af69" stroke="#af7e4b" stroke-width="0.3"/><circle cx="95.0" cy="91.7" r="1.40" fill="#f8be7d" stroke="#b2885a" stroke-width="0.3"/><circle cx="51.8" cy="99.5" r="0.89" fill="#b2d8f5" stroke="#6e8597" stroke-width="0.3"/><circle cx="100.5" cy="85.3" r="1.56" fill="#f8be7d" stroke="#b2885a" stroke-width="0.3"/><circle cx="87.6" cy="71.9" r="1.13" fill="#f8be7d" stroke="#b2885a" stroke-width="0.3"/><circle cx="123.7" cy="78.3" r="1.64" fill="#f8be7d" stroke="#b2885a" stroke-width="0.3"/><circle cx="47.9" cy="106.0" r="0.98" fill="#96c6f0" stroke="#5d7a94" stroke-width="0.3"/><circle cx="55.7" cy="110.0" r="0.87" fill="#b2d8f5" stroke="#6e8597" stroke-width="0.3"/><circle cx="76.3" cy="79.2" r="1.39" fill="#96c6f0" stroke="#5d7a94" stroke-width="0.3"/><circle cx="104.3" cy="95.0" r="1.26" fill="#f8be7d" stroke="#b2885a" stroke-width="0.3"/><circle cx="63.3" cy="97.0" r="0.96" fill="#b2d8f5" stroke="#6e8597" stroke-width="0.3"/><circle cx="94.3" cy="89.2" r="1.10" fill="#f8be7d" stroke="#b2885a" stroke-width="0.3"/><circle cx="106.9" cy="65.0" r="1.05" fill="#facf98" stroke="#b4956d" stroke-width="0.3"/><circle cx="99.0" cy="88.2" r="1.35" fill="#facf98" stroke="#b4956d" stroke-width="0.3"/><circle cx="94.2" cy="87.1" r="1.20" fill="#f8be7d" stroke="#b2885a" stroke-width="0.3"/><circle cx="51.3" cy="108.5" r="1.31" fill="#6996da" stroke="#415d87" stroke-width="0.3"/><circle cx="111.8" cy="87.7" r="1.21" fill="#f8be7d" stroke="#b2885a" stroke-width="0.3"/><circle cx="99.8" cy="94.2" r="1.60" fill="#f4af69" stroke="#af7e4b" stroke-width="0.3"/><circle cx="104.3" cy="100.3" r="1.51" fill="#f8be7d" stroke="#b2885a" stroke-width="0.3"/><circle cx="59.7" cy="107.1" r="1.10" fill="#96c6f0" stroke="#5d7a94" stroke-width="0.3"/><circle cx="61.3" cy="115.0" r="0.97" fill="#96c6f0" stroke="#5d7a94" stroke-width="0.3"/><circle cx="64.8" cy="101.9" r="0.94" fill="#b2d8f5" stroke="#6e8597" stroke-width="0.3"/><circle cx="71.6" cy="95.9" r="1.36" fill="#6996da" stroke="#415d87" stroke-width="0.3"/><circle cx="110.8" cy="85.2" r="1.15" fill="#facf98" stroke="#b4956d" stroke-width="0.3"/><circle cx="120.2" cy="88.1" r="1.59" fill="#f8be7d" stroke="#b2885a" stroke-width="0.3"/><circle cx="99.4" cy="84.7" r="1.36" fill="#facf98" stroke="#b4956d" stroke-width="0.3"/><circle cx="65.5" cy="99.2" r="1.33" fill="#b2d8f5" stroke="#6e8597" stroke-width="0.3"/><circle cx="81.7" cy="96.9" r="0.99" fill="#96c6f0" stroke="#5d7a94" stroke-width="0.3"/><circle cx="67.2" cy="88.9" r="1.21" fill="#96c6f0" stroke="#5d7a94" stroke-width="0.3"/><circle cx="100.6" cy="89.1" r="1.51" fill="#facf98" stroke="#b4956d" stroke-width="0.3"/><circle cx="100.5" cy="74.3" r="1.22" fill="#facf98" stroke="#b4956d" stroke-width="0.3"/><circle cx="67.3" cy="99.1" r="0.80" fill="#b2d8f5" stroke="#6e8597" stroke-width="0.3"/><circle cx="113.3" cy="64.3" r="1.09" fill="#f8be7d" stroke="#b2885a" stroke-width="0.3"/><circle cx="67.5" cy="94.3" r="0.93" fill="#96c6f0" stroke="#5d7a94" stroke-width="0.3"/><circle cx="47.8" cy="114.7" r="0.93" fill="#96c6f0" stroke="#5d7a94" stroke-width="0.3"/><circle cx="68.7" cy="109.9" r="1.35" fill="#b2d8f5" stroke="#6e8597" stroke-width="0.3"/><circle cx="98.2" cy="71.5" r="1.41" fill="#f8be7d" stroke="#b2885a" stroke-width="0.3"/><circle cx="100.7" cy="92.9" r="1.40" fill="#f4af69" stroke="#af7e4b" stroke-width="0.3"/><circle cx="70.1" cy="100.8" r="0.81" fill="#b2d8f5" stroke="#6e8597" stroke-width="0.3"/><circle cx="113.0" cy="88.2" r="1.22" fill="#f8be7d" stroke="#b2885a" stroke-width="0.3"/><circle cx="127.3" cy="88.1" r="1.48" fill="#facf98" stroke="#b4956d" stroke-width="0.3"/><circle cx="83.2" cy="94.6" r="1.05" fill="#f8be7d" stroke="#b2885a" stroke-width="0.3"/><circle cx="62.8" cy="102.2" r="0.85" fill="#96c6f0" stroke="#5d7a94" stroke-width="0.3"/><circle cx="79.6" cy="74.2" r="1.00" fill="#f8be7d" stroke="#b2885a" stroke-width="0.3"/><circle cx="41.3" cy="100.6" r="1.19" fill="#b2d8f5" stroke="#6e8597" stroke-width="0.3"/><circle cx="101.4" cy="78.6" r="1.35" fill="#f4af69" stroke="#af7e4b" stroke-width="0.3"/><circle cx="79.7" cy="101.0" r="1.24" fill="#96c6f0" stroke="#5d7a94" stroke-width="0.3"/><circle cx="81.6" cy="71.7" r="1.27" fill="#f8be7d" stroke="#b2885a" stroke-width="0.3"/><circle cx="90.3" cy="71.0" r="1.33" fill="#f8be7d" stroke="#b2885a" stroke-width="0.3"/><circle cx="83.3" cy="78.1" r="0.93" fill="#b2d8f5" stroke="#6e8597" stroke-width="0.3"/><circle cx="86.0" cy="100.8" r="1.61" fill="#f4af69" stroke="#af7e4b" stroke-width="0.3"/><circle cx="63.6" cy="105.1" r="1.17" fill="#96c6f0" stroke="#5d7a94" stroke-width="0.3"/><circle cx="71.7" cy="92.7" r="0.98" fill="#b2d8f5" stroke="#6e8597" stroke-width="0.3"/><circle cx="63.8" cy="86.7" r="1.11" fill="#b2d8f5" stroke="#6e8597" stroke-width="0.3"/><circle cx="55.3" cy="99.1" r="1.38" fill="#6996da" stroke="#415d87" stroke-width="0.3"/><circle cx="97.9" cy="78.7" r="1.27" fill="#facf98" stroke="#b4956d" stroke-width="0.3"/><circle cx="47.0" cy="108.6" r="1.06" fill="#96c6f0" stroke="#5d7a94" stroke-width="0.3"/><circle cx="103.7" cy="99.5" r="1.54" fill="#f8be7d" stroke="#b2885a" stroke-width="0.3"/><circle cx="88.8" cy="78.9" r="1.38" fill="#f8be7d" stroke="#b2885a" stroke-width="0.3"/><circle cx="128.7" cy="88.8" r="1.40" fill="#f8be7d" stroke="#b2885a" stroke-width="0.3"/><circle cx="106.6" cy="96.9" r="1.56" fill="#facf98" stroke="#b4956d" stroke-width="0.3"/><circle cx="116.4" cy="65.8" r="1.42" fill="#f4af69" stroke="#af7e4b" stroke-width="0.3"/><circle cx="79.5" cy="93.6" r="0.90" fill="#b2d8f5" stroke="#6e8597" stroke-width="0.3"/><circle cx="92.1" cy="92.9" r="1.43" fill="#f8be7d" stroke="#b2885a" stroke-width="0.3"/><circle cx="55.4" cy="102.0" r="1.11" fill="#b2d8f5" stroke="#6e8597" stroke-width="0.3"/><circle cx="49.5" cy="103.9" r="1.05" fill="#b2d8f5" stroke="#6e8597" stroke-width="0.3"/><circle cx="56.9" cy="98.2" r="1.29" fill="#b2d8f5" stroke="#6e8597" stroke-width="0.3"/><circle cx="61.1" cy="111.7" r="1.21" fill="#96c6f0" stroke="#5d7a94" stroke-width="0.3"/><circle cx="94.5" cy="85.4" r="1.15" fill="#f8be7d" stroke="#b2885a" stroke-width="0.3"/><circle cx="68.5" cy="108.7" r="0.90" fill="#6996da" stroke="#415d87" stroke-width="0.3"/><circle cx="107.2" cy="63.9" r="1.45" fill="#f8be7d" stroke="#b2885a" stroke-width="0.3"/><circle cx="118.8" cy="93.7" r="1.11" fill="#f8be7d" stroke="#b2885a" stroke-width="0.3"/><circle cx="68.0" cy="109.9" r="1.02" fill="#96c6f0" stroke="#5d7a94" stroke-width="0.3"/><circle cx="60.3" cy="107.4" r="1.10" fill="#b2d8f5" stroke="#6e8597" stroke-width="0.3"/><circle cx="72.5" cy="97.3" r="1.06" fill="#b2d8f5" stroke="#6e8597" stroke-width="0.3"/><circle cx="63.1" cy="97.9" r="0.87" fill="#96c6f0" stroke="#5d7a94" stroke-width="0.3"/><circle cx="60.1" cy="98.2" r="1.09" fill="#6996da" stroke="#415d87" stroke-width="0.3"/><circle cx="70.2" cy="95.3" r="0.83" fill="#96c6f0" stroke="#5d7a94" stroke-width="0.3"/><circle cx="70.8" cy="93.9" r="1.31" fill="#b2d8f5" stroke="#6e8597" stroke-width="0.3"/><circle cx="112.7" cy="78.8" r="1.29" fill="#f8be7d" stroke="#b2885a" stroke-width="0.3"/><circle cx="100.5" cy="86.9" r="1.11" fill="#f4af69" stroke="#af7e4b" stroke-width="0.3"/><circle cx="118.0" cy="76.8" r="1.15" fill="#f8be7d" stroke="#b2885a" stroke-width="0.3"/><circle cx="103.1" cy="69.1" r="1.21" fill="#f8be7d" stroke="#b2885a" stroke-width="0.3"/><circle cx="38.1" cy="101.5" r="1.25" fill="#b2d8f5" stroke="#6e8597" stroke-width="0.3"/><circle cx="42.8" cy="99.2" r="1.10" fill="#b2d8f5" stroke="#6e8597" stroke-width="0.3"/><circle cx="67.3" cy="97.4" r="1.30" fill="#96c6f0" stroke="#5d7a94" stroke-width="0.3"/><circle cx="86.3" cy="98.1" r="1.03" fill="#b2d8f5" stroke="#6e8597" stroke-width="0.3"/><circle cx="117.4" cy="88.5" r="1.20" fill="#f8be7d" stroke="#b2885a" stroke-width="0.3"/><circle cx="119.3" cy="74.8" r="1.20" fill="#f4af69" stroke="#af7e4b" stroke-width="0.3"/><circle cx="93.0" cy="89.7" r="1.10" fill="#f8be7d" stroke="#b2885a" stroke-width="0.3"/><circle cx="87.3" cy="90.5" r="1.44" fill="#f8be7d" stroke="#b2885a" stroke-width="0.3"/><circle cx="111.2" cy="64.0" r="1.39" fill="#f8be7d" stroke="#b2885a" stroke-width="0.3"/><circle cx="47.0" cy="103.5" r="1.14" fill="#96c6f0" stroke="#5d7a94" stroke-width="0.3"/><circle cx="119.1" cy="75.0" r="1.52" fill="#f4af69" stroke="#af7e4b" stroke-width="0.3"/><circle cx="116.8" cy="76.3" r="1.10" fill="#f4af69" stroke="#af7e4b" stroke-width="0.3"/><circle cx="111.4" cy="89.4" r="1.56" fill="#f4af69" stroke="#af7e4b" stroke-width="0.3"/><circle cx="107.9" cy="68.4" r="1.29" fill="#f8be7d" stroke="#b2885a" stroke-width="0.3"/><circle cx="113.3" cy="74.1" r="1.60" fill="#f8be7d" stroke="#b2885a" stroke-width="0.3"/><circle cx="45.8" cy="116.5" r="1.29" fill="#b2d8f5" stroke="#6e8597" stroke-width="0.3"/><circle cx="124.6" cy="78.0" r="1.57" fill="#f8be7d" stroke="#b2885a" stroke-width="0.3"/><circle cx="52.7" cy="103.5" r="1.02" fill="#96c6f0" stroke="#5d7a94" stroke-width="0.3"/><circle cx="103.8" cy="66.9" r="1.54" fill="#f4af69" stroke="#af7e4b" stroke-width="0.3"/><circle cx="65.2" cy="96.3" r="1.29" fill="#96c6f0" stroke="#5d7a94" stroke-width="0.3"/><circle cx="80.6" cy="100.7" r="1.40" fill="#6996da" stroke="#415d87" stroke-width="0.3"/><circle cx="114.7" cy="72.9" r="1.07" fill="#facf98" stroke="#b4956d" stroke-width="0.3"/><circle cx="103.9" cy="80.9" r="1.29" fill="#f8be7d" stroke="#b2885a" stroke-width="0.3"/><circle cx="119.0" cy="66.9" r="1.33" fill="#f4af69" stroke="#af7e4b" stroke-width="0.3"/><circle cx="39.9" cy="103.4" r="1.26" fill="#6996da" stroke="#415d87" stroke-width="0.3"/><circle cx="63.7" cy="95.9" r="1.20" fill="#96c6f0" stroke="#5d7a94" stroke-width="0.3"/><circle cx="39.8" cy="98.3" r="1.22" fill="#b2d8f5" stroke="#6e8597" stroke-width="0.3"/><circle cx="104.5" cy="86.0" r="1.55" fill="#f8be7d" stroke="#b2885a" stroke-width="0.3"/><circle cx="120.2" cy="95.7" r="1.16" fill="#f8be7d" stroke="#b2885a" stroke-width="0.3"/><circle cx="77.2" cy="74.8" r="1.13" fill="#f8be7d" stroke="#b2885a" stroke-width="0.3"/><circle cx="53.6" cy="98.8" r="1.00" fill="#b2d8f5" stroke="#6e8597" stroke-width="0.3"/><circle cx="113.5" cy="94.3" r="1.22" fill="#f8be7d" stroke="#b2885a" stroke-width="0.3"/><circle cx="87.7" cy="84.4" r="1.60" fill="#f4af69" stroke="#af7e4b" stroke-width="0.3"/><circle cx="37.8" cy="103.6" r="0.96" fill="#6996da" stroke="#415d87" stroke-width="0.3"/><circle cx="77.1" cy="79.9" r="1.36" fill="#f8be7d" stroke="#b2885a" stroke-width="0.3"/><circle cx="122.0" cy="67.6" r="1.39" fill="#facf98" stroke="#b4956d" stroke-width="0.3"/><circle cx="89.0" cy="89.2" r="1.61" fill="#facf98" stroke="#b4956d" stroke-width="0.3"/><circle cx="52.3" cy="93.2" r="1.17" fill="#b2d8f5" stroke="#6e8597" stroke-width="0.3"/><circle cx="117.0" cy="85.0" r="1.37" fill="#f8be7d" stroke="#b2885a" stroke-width="0.3"/><circle cx="75.7" cy="79.5" r="1.61" fill="#f8be7d" stroke="#b2885a" stroke-width="0.3"/><circle cx="102.3" cy="97.5" r="1.12" fill="#f4af69" stroke="#af7e4b" stroke-width="0.3"/><circle cx="51.0" cy="105.6" r="1.26" fill="#6996da" stroke="#415d87" stroke-width="0.3"/><circle cx="101.1" cy="59.5" r="1.17" fill="#f8be7d" stroke="#b2885a" stroke-width="0.3"/><circle cx="97.3" cy="91.1" r="1.53" fill="#f4af69" stroke="#af7e4b" stroke-width="0.3"/><circle cx="112.8" cy="77.1" r="1.42" fill="#f8be7d" stroke="#b2885a" stroke-width="0.3"/><circle cx="50.5" cy="114.3" r="0.81" fill="#96c6f0" stroke="#5d7a94" stroke-width="0.3"/><circle cx="50.8" cy="117.5" r="1.03" fill="#96c6f0" stroke="#5d7a94" stroke-width="0.3"/><circle cx="92.6" cy="92.6" r="1.00" fill="#f8be7d" stroke="#b2885a" stroke-width="0.3"/><circle cx="113.8" cy="86.6" r="1.16" fill="#f8be7d" stroke="#b2885a" stroke-width="0.3"/><circle cx="56.7" cy="115.6" r="1.34" fill="#96c6f0" stroke="#5d7a94" stroke-width="0.3"/><circle cx="117.1" cy="89.2" r="1.55" fill="#f8be7d" stroke="#b2885a" stroke-width="0.3"/><circle cx="97.9" cy="90.0" r="1.57" fill="#facf98" stroke="#b4956d" stroke-width="0.3"/><circle cx="41.3" cy="114.5" r="0.86" fill="#b2d8f5" stroke="#6e8597" stroke-width="0.3"/><circle cx="93.4" cy="67.7" r="1.18" fill="#f8be7d" stroke="#b2885a" stroke-width="0.3"/><circle cx="91.7" cy="101.4" r="1.02" fill="#b2d8f5" stroke="#6e8597" stroke-width="0.3"/><circle cx="88.0" cy="99.2" r="1.15" fill="#b2d8f5" stroke="#6e8597" stroke-width="0.3"/><circle cx="113.1" cy="88.3" r="1.07" fill="#f4af69" stroke="#af7e4b" stroke-width="0.3"/><circle cx="104.2" cy="79.1" r="1.15" fill="#facf98" stroke="#b4956d" stroke-width="0.3"/><circle cx="60.3" cy="114.5" r="1.07" fill="#b2d8f5" stroke="#6e8597" stroke-width="0.3"/><circle cx="63.1" cy="88.9" r="0.84" fill="#b2d8f5" stroke="#6e8597" stroke-width="0.3"/><circle cx="120.5" cy="83.5" r="1.10" fill="#facf98" stroke="#b4956d" stroke-width="0.3"/><circle cx="108.8" cy="86.8" r="1.40" fill="#f8be7d" stroke="#b2885a" stroke-width="0.3"/><circle cx="106.7" cy="73.4" r="1.18" fill="#f8be7d" stroke="#b2885a" stroke-width="0.3"/><circle cx="56.1" cy="99.6" r="1.30" fill="#6996da" stroke="#415d87" stroke-width="0.3"/><circle cx="54.1" cy="96.2" r="0.84" fill="#b2d8f5" stroke="#6e8597" stroke-width="0.3"/><circle cx="72.3" cy="91.0" r="0.80" fill="#96c6f0" stroke="#5d7a94" stroke-width="0.3"/><circle cx="96.6" cy="89.5" r="1.53" fill="#f4af69" stroke="#af7e4b" stroke-width="0.3"/><circle cx="115.7" cy="71.8" r="1.07" fill="#facf98" stroke="#b4956d" stroke-width="0.3"/><circle cx="106.7" cy="91.2" r="1.15" fill="#f4af69" stroke="#af7e4b" stroke-width="0.3"/><circle cx="86.4" cy="88.4" r="1.17" fill="#96c6f0" stroke="#5d7a94" stroke-width="0.3"/><circle cx="99.0" cy="79.7" r="1.27" fill="#f8be7d" stroke="#b2885a" stroke-width="0.3"/><circle cx="55.6" cy="109.1" r="1.17" fill="#96c6f0" stroke="#5d7a94" stroke-width="0.3"/><circle cx="99.5" cy="83.1" r="1.08" fill="#f4af69" stroke="#af7e4b" stroke-width="0.3"/><circle cx="50.5" cy="108.4" r="1.38" fill="#b2d8f5" stroke="#6e8597" stroke-width="0.3"/><circle cx="41.2" cy="103.7" r="1.36" fill="#b2d8f5" stroke="#6e8597" stroke-width="0.3"/><circle cx="52.0" cy="108.9" r="0.89" fill="#96c6f0" stroke="#5d7a94" stroke-width="0.3"/><circle cx="115.3" cy="84.3" r="1.05" fill="#f8be7d" stroke="#b2885a" stroke-width="0.3"/><circle cx="106.1" cy="91.8" r="1.61" fill="#facf98" stroke="#b4956d" stroke-width="0.3"/><circle cx="72.7" cy="88.5" r="1.05" fill="#b2d8f5" stroke="#6e8597" stroke-width="0.3"/><circle cx="101.8" cy="76.5" r="1.41" fill="#f8be7d" stroke="#b2885a" stroke-width="0.3"/><circle cx="103.5" cy="82.8" r="1.59" fill="#f8be7d" stroke="#b2885a" stroke-width="0.3"/><circle cx="99.7" cy="67.2" r="1.01" fill="#facf98" stroke="#b4956d" stroke-width="0.3"/><circle cx="38.9" cy="99.2" r="0.96" fill="#6996da" stroke="#415d87" stroke-width="0.3"/><circle cx="102.4" cy="97.4" r="1.43" fill="#f8be7d" stroke="#b2885a" stroke-width="0.3"/><circle cx="55.0" cy="96.9" r="1.12" fill="#b2d8f5" stroke="#6e8597" stroke-width="0.3"/><circle cx="73.1" cy="87.1" r="1.16" fill="#96c6f0" stroke="#5d7a94" stroke-width="0.3"/><circle cx="86.9" cy="102.5" r="1.03" fill="#b2d8f5" stroke="#6e8597" stroke-width="0.3"/><circle cx="61.3" cy="93.3" r="1.15" fill="#96c6f0" stroke="#5d7a94" stroke-width="0.3"/><circle cx="109.6" cy="93.9" r="1.55" fill="#facf98" stroke="#b4956d" stroke-width="0.3"/><circle cx="46.6" cy="105.9" r="0.92" fill="#b2d8f5" stroke="#6e8597" stroke-width="0.3"/><circle cx="86.2" cy="83.6" r="1.51" fill="#facf98" stroke="#b4956d" stroke-width="0.3"/><circle cx="78.2" cy="81.3" r="1.62" fill="#f4af69" stroke="#af7e4b" stroke-width="0.3"/><circle cx="96.5" cy="83.4" r="1.04" fill="#f8be7d" stroke="#b2885a" stroke-width="0.3"/><circle cx="118.9" cy="86.1" r="1.09" fill="#f4af69" stroke="#af7e4b" stroke-width="0.3"/><circle cx="116.6" cy="72.6" r="1.61" fill="#f4af69" stroke="#af7e4b" stroke-width="0.3"/><circle cx="78.1" cy="87.3" r="1.53" fill="#facf98" stroke="#b4956d" stroke-width="0.3"/><circle cx="72.0" cy="100.7" r="1.18" fill="#b2d8f5" stroke="#6e8597" stroke-width="0.3"/><circle cx="109.7" cy="69.4" r="1.55" fill="#f4af69" stroke="#af7e4b" stroke-width="0.3"/><circle cx="116.1" cy="74.0" r="1.13" fill="#f4af69" stroke="#af7e4b" stroke-width="0.3"/><circle cx="109.8" cy="64.4" r="1.65" fill="#facf98" stroke="#b4956d" stroke-width="0.3"/><circle cx="121.7" cy="75.3" r="1.30" fill="#f8be7d" stroke="#b2885a" stroke-width="0.3"/><circle cx="120.9" cy="85.4" r="1.46" fill="#f8be7d" stroke="#b2885a" stroke-width="0.3"/><circle cx="52.4" cy="104.2" r="1.21" fill="#96c6f0" stroke="#5d7a94" stroke-width="0.3"/><circle cx="112.9" cy="84.9" r="1.16" fill="#facf98" stroke="#b4956d" stroke-width="0.3"/><circle cx="70.6" cy="89.4" r="1.30" fill="#96c6f0" stroke="#5d7a94" stroke-width="0.3"/><circle cx="93.0" cy="80.6" r="1.29" fill="#f4af69" stroke="#af7e4b" stroke-width="0.3"/><circle cx="89.5" cy="99.8" r="1.47" fill="#f8be7d" stroke="#b2885a" stroke-width="0.3"/><circle cx="100.6" cy="93.9" r="1.59" fill="#facf98" stroke="#b4956d" stroke-width="0.3"/><circle cx="81.1" cy="88.1" r="1.35" fill="#facf98" stroke="#b4956d" stroke-width="0.3"/><circle cx="109.6" cy="90.9" r="1.38" fill="#facf98" stroke="#b4956d" stroke-width="0.3"/><circle cx="73.5" cy="80.0" r="1.29" fill="#b2d8f5" stroke="#6e8597" stroke-width="0.3"/><circle cx="92.1" cy="96.4" r="1.52" fill="#facf98" stroke="#b4956d" stroke-width="0.3"/><circle cx="50.1" cy="116.4" r="1.24" fill="#96c6f0" stroke="#5d7a94" stroke-width="0.3"/><circle cx="108.3" cy="82.7" r="1.47" fill="#f8be7d" stroke="#b2885a" stroke-width="0.3"/><circle cx="119.3" cy="82.5" r="1.26" fill="#facf98" stroke="#b4956d" stroke-width="0.3"/><circle cx="113.9" cy="87.2" r="1.08" fill="#f8be7d" stroke="#b2885a" stroke-width="0.3"/><circle cx="95.1" cy="68.9" r="1.46" fill="#f4af69" stroke="#af7e4b" stroke-width="0.3"/><circle cx="77.5" cy="90.5" r="1.23" fill="#b2d8f5" stroke="#6e8597" stroke-width="0.3"/><circle cx="98.6" cy="91.6" r="1.45" fill="#f8be7d" stroke="#b2885a" stroke-width="0.3"/><circle cx="95.9" cy="77.1" r="1.42" fill="#f8be7d" stroke="#b2885a" stroke-width="0.3"/><circle cx="69.7" cy="95.9" r="0.91" fill="#b2d8f5" stroke="#6e8597" stroke-width="0.3"/><circle cx="77.2" cy="96.7" r="1.33" fill="#f4af69" stroke="#af7e4b" stroke-width="0.3"/><circle cx="98.1" cy="87.7" r="1.19" fill="#f4af69" stroke="#af7e4b" stroke-width="0.3"/><circle cx="114.7" cy="92.1" r="1.12" fill="#facf98" stroke="#b4956d" stroke-width="0.3"/><circle cx="63.3" cy="110.3" r="1.05" fill="#b2d8f5" stroke="#6e8597" stroke-width="0.3"/><circle cx="90.9" cy="91.0" r="1.53" fill="#f8be7d" stroke="#b2885a" stroke-width="0.3"/><circle cx="95.5" cy="71.1" r="1.45" fill="#f8be7d" stroke="#b2885a" stroke-width="0.3"/><circle cx="68.8" cy="78.4" r="1.43" fill="#f8be7d" stroke="#b2885a" stroke-width="0.3"/><circle cx="90.1" cy="98.7" r="0.87" fill="#6996da" stroke="#415d87" stroke-width="0.3"/><circle cx="51.5" cy="92.1" r="1.30" fill="#96c6f0" stroke="#5d7a94" stroke-width="0.3"/><circle cx="49.0" cy="115.9" r="0.89" fill="#6996da" stroke="#415d87" stroke-width="0.3"/><circle cx="78.6" cy="74.7" r="1.55" fill="#f8be7d" stroke="#b2885a" stroke-width="0.3"/><circle cx="102.9" cy="96.1" r="1.31" fill="#f8be7d" stroke="#b2885a" stroke-width="0.3"/><circle cx="94.3" cy="92.4" r="1.40" fill="#f4af69" stroke="#af7e4b" stroke-width="0.3"/><circle cx="63.0" cy="97.0" r="1.35" fill="#96c6f0" stroke="#5d7a94" stroke-width="0.3"/><circle cx="111.9" cy="76.3" r="1.07" fill="#f4af69" stroke="#af7e4b" stroke-width="0.3"/><circle cx="112.9" cy="83.4" r="1.64" fill="#f8be7d" stroke="#b2885a" stroke-width="0.3"/><circle cx="106.6" cy="77.3" r="1.31" fill="#f8be7d" stroke="#b2885a" stroke-width="0.3"/><circle cx="104.6" cy="81.9" r="1.63" fill="#f4af69" stroke="#af7e4b" stroke-width="0.3"/><circle cx="74.9" cy="97.5" r="1.17" fill="#b2d8f5" stroke="#6e8597" stroke-width="0.3"/><circle cx="93.8" cy="78.4" r="1.12" fill="#f8be7d" stroke="#b2885a" stroke-width="0.3"/><circle cx="95.3" cy="75.5" r="1.04" fill="#f8be7d" stroke="#b2885a" stroke-width="0.3"/><circle cx="100.5" cy="90.2" r="1.52" fill="#f8be7d" stroke="#b2885a" stroke-width="0.3"/><circle cx="80.1" cy="92.6" r="0.81" fill="#b2d8f5" stroke="#6e8597" stroke-width="0.3"/><circle cx="87.5" cy="85.3" r="1.23" fill="#f8be7d" stroke="#b2885a" stroke-width="0.3"/><circle cx="96.0" cy="87.8" r="1.51" fill="#f4af69" stroke="#af7e4b" stroke-width="0.3"/><circle cx="64.5" cy="103.1" r="1.14" fill="#b2d8f5" stroke="#6e8597" stroke-width="0.3"/><circle cx="101.4" cy="90.8" r="1.37" fill="#f8be7d" stroke="#b2885a" stroke-width="0.3"/><circle cx="77.8" cy="93.0" r="0.92" fill="#96c6f0" stroke="#5d7a94" stroke-width="0.3"/><circle cx="104.8" cy="78.6" r="1.26" fill="#f4af69" stroke="#af7e4b" stroke-width="0.3"/><circle cx="111.2" cy="73.8" r="1.27" fill="#f8be7d" stroke="#b2885a" stroke-width="0.3"/><circle cx="55.5" cy="108.3" r="0.91" fill="#b2d8f5" stroke="#6e8597" stroke-width="0.3"/><circle cx="55.1" cy="93.5" r="1.08" fill="#6996da" stroke="#415d87" stroke-width="0.3"/><circle cx="80.8" cy="88.9" r="1.28" fill="#b2d8f5" stroke="#6e8597" stroke-width="0.3"/><circle cx="57.9" cy="93.3" r="1.33" fill="#b2d8f5" stroke="#6e8597" stroke-width="0.3"/><circle cx="64.4" cy="102.5" r="1.13" fill="#b2d8f5" stroke="#6e8597" stroke-width="0.3"/><circle cx="117.8" cy="78.7" r="1.03" fill="#facf98" stroke="#b4956d" stroke-width="0.3"/><circle cx="73.7" cy="95.8" r="1.07" fill="#b2d8f5" stroke="#6e8597" stroke-width="0.3"/><circle cx="64.1" cy="102.3" r="1.11" fill="#b2d8f5" stroke="#6e8597" stroke-width="0.3"/><circle cx="106.0" cy="82.3" r="1.59" fill="#f8be7d" stroke="#b2885a" stroke-width="0.3"/><circle cx="56.0" cy="108.1" r="0.99" fill="#6996da" stroke="#415d87" stroke-width="0.3"/><circle cx="89.9" cy="98.8" r="1.29" fill="#b2d8f5" stroke="#6e8597" stroke-width="0.3"/><circle cx="62.6" cy="109.6" r="1.14" fill="#96c6f0" stroke="#5d7a94" stroke-width="0.3"/><circle cx="110.7" cy="80.4" r="1.17" fill="#facf98" stroke="#b4956d" stroke-width="0.3"/><circle cx="50.7" cy="105.8" r="1.29" fill="#b2d8f5" stroke="#6e8597" stroke-width="0.3"/><circle cx="64.5" cy="108.3" r="0.84" fill="#6996da" stroke="#415d87" stroke-width="0.3"/><circle cx="60.7" cy="94.9" r="1.37" fill="#96c6f0" stroke="#5d7a94" stroke-width="0.3"/><circle cx="96.3" cy="73.9" r="1.19" fill="#f8be7d" stroke="#b2885a" stroke-width="0.3"/><circle cx="84.7" cy="90.4" r="1.50" fill="#f4af69" stroke="#af7e4b" stroke-width="0.3"/><circle cx="84.0" cy="77.6" r="1.28" fill="#facf98" stroke="#b4956d" stroke-width="0.3"/><circle cx="98.1" cy="85.7" r="1.46" fill="#facf98" stroke="#b4956d" stroke-width="0.3"/><circle cx="129.7" cy="83.7" r="1.60" fill="#f8be7d" stroke="#b2885a" stroke-width="0.3"/><circle cx="99.1" cy="89.1" r="1.55" fill="#f8be7d" stroke="#b2885a" stroke-width="0.3"/><circle cx="116.2" cy="92.1" r="1.13" fill="#f8be7d" stroke="#b2885a" stroke-width="0.3"/><circle cx="114.2" cy="90.2" r="1.60" fill="#facf98" stroke="#b4956d" stroke-width="0.3"/><circle cx="77.4" cy="94.1" r="1.05" fill="#b2d8f5" stroke="#6e8597" stroke-width="0.3"/><circle cx="113.5" cy="74.4" r="1.63" fill="#f4af69" stroke="#af7e4b" stroke-width="0.3"/><circle cx="58.5" cy="113.7" r="1.14" fill="#b2d8f5" stroke="#6e8597" stroke-width="0.3"/><circle cx="65.5" cy="100.8" r="1.08" fill="#b2d8f5" stroke="#6e8597" stroke-width="0.3"/><circle cx="58.5" cy="108.3" r="1.03" fill="#b2d8f5" stroke="#6e8597" stroke-width="0.3"/><circle cx="90.0" cy="98.3" r="0.88" fill="#b2d8f5" stroke="#6e8597" stroke-width="0.3"/><circle cx="53.4" cy="101.9" r="0.85" fill="#6996da" stroke="#415d87" stroke-width="0.3"/><circle cx="85.6" cy="74.7" r="1.56" fill="#facf98" stroke="#b4956d" stroke-width="0.3"/><circle cx="80.4" cy="101.6" r="1.38" fill="#b2d8f5" stroke="#6e8597" stroke-width="0.3"/><circle cx="83.1" cy="74.4" r="1.08" fill="#f8be7d" stroke="#b2885a" stroke-width="0.3"/><circle cx="118.0" cy="72.0" r="1.42" fill="#f4af69" stroke="#af7e4b" stroke-width="0.3"/><circle cx="84.9" cy="72.7" r="1.55" fill="#facf98" stroke="#b4956d" stroke-width="0.3"/><circle cx="67.2" cy="104.7" r="0.93" fill="#6996da" stroke="#415d87" stroke-width="0.3"/><circle cx="88.3" cy="100.8" r="1.51" fill="#facf98" stroke="#b4956d" stroke-width="0.3"/><circle cx="90.6" cy="80.5" r="1.64" fill="#facf98" stroke="#b4956d" stroke-width="0.3"/><circle cx="43.3" cy="108.8" r="1.07" fill="#b2d8f5" stroke="#6e8597" stroke-width="0.3"/><circle cx="91.6" cy="96.5" r="1.27" fill="#b2d8f5" stroke="#6e8597" stroke-width="0.3"/><circle cx="103.8" cy="88.1" r="1.34" fill="#f8be7d" stroke="#b2885a" stroke-width="0.3"/><circle cx="72.1" cy="77.9" r="1.61" fill="#facf98" stroke="#b4956d" stroke-width="0.3"/><circle cx="72.8" cy="82.8" r="1.27" fill="#facf98" stroke="#b4956d" stroke-width="0.3"/><circle cx="58.1" cy="95.9" r="1.39" fill="#b2d8f5" stroke="#6e8597" stroke-width="0.3"/><circle cx="96.8" cy="91.1" r="1.11" fill="#f8be7d" stroke="#b2885a" stroke-width="0.3"/><circle cx="105.8" cy="80.4" r="1.33" fill="#f8be7d" stroke="#b2885a" stroke-width="0.3"/><circle cx="92.9" cy="93.7" r="1.28" fill="#f8be7d" stroke="#b2885a" stroke-width="0.3"/><circle cx="56.6" cy="105.6" r="1.22" fill="#96c6f0" stroke="#5d7a94" stroke-width="0.3"/><circle cx="111.5" cy="85.3" r="1.05" fill="#f4af69" stroke="#af7e4b" stroke-width="0.3"/><circle cx="80.5" cy="99.1" r="1.31" fill="#96c6f0" stroke="#5d7a94" stroke-width="0.3"/><circle cx="85.5" cy="83.3" r="1.38" fill="#b2d8f5" stroke="#6e8597" stroke-width="0.3"/><circle cx="52.6" cy="95.0" r="0.97" fill="#b2d8f5" stroke="#6e8597" stroke-width="0.3"/><circle cx="92.8" cy="80.4" r="1.23" fill="#f8be7d" stroke="#b2885a" stroke-width="0.3"/><circle cx="117.4" cy="95.6" r="1.17" fill="#f8be7d" stroke="#b2885a" stroke-width="0.3"/><circle cx="92.5" cy="100.8" r="1.18" fill="#f8be7d" stroke="#b2885a" stroke-width="0.3"/><circle cx="47.5" cy="96.3" r="0.96" fill="#96c6f0" stroke="#5d7a94" stroke-width="0.3"/><circle cx="117.4" cy="90.6" r="1.59" fill="#f4af69" stroke="#af7e4b" stroke-width="0.3"/><circle cx="69.1" cy="100.0" r="1.15" fill="#96c6f0" stroke="#5d7a94" stroke-width="0.3"/><circle cx="98.2" cy="83.9" r="1.21" fill="#f8be7d" stroke="#b2885a" stroke-width="0.3"/><circle cx="107.2" cy="78.1" r="1.08" fill="#facf98" stroke="#b4956d" stroke-width="0.3"/><circle cx="121.9" cy="78.0" r="1.33" fill="#f8be7d" stroke="#b2885a" stroke-width="0.3"/><circle cx="107.3" cy="78.8" r="1.49" fill="#facf98" stroke="#b4956d" stroke-width="0.3"/><circle cx="61.8" cy="114.0" r="1.12" fill="#96c6f0" stroke="#5d7a94" stroke-width="0.3"/><circle cx="61.2" cy="93.0" r="0.91" fill="#b2d8f5" stroke="#6e8597" stroke-width="0.3"/><circle cx="104.9" cy="95.7" r="1.21" fill="#facf98" stroke="#b4956d" stroke-width="0.3"/><circle cx="49.4" cy="107.1" r="1.02" fill="#b2d8f5" stroke="#6e8597" stroke-width="0.3"/><circle cx="85.3" cy="86.0" r="1.21" fill="#facf98" stroke="#b4956d" stroke-width="0.3"/><circle cx="48.8" cy="109.6" r="1.38" fill="#6996da" stroke="#415d87" stroke-width="0.3"/><circle cx="91.5" cy="98.7" r="1.29" fill="#96c6f0" stroke="#5d7a94" stroke-width="0.3"/><circle cx="89.4" cy="73.0" r="1.38" fill="#f4af69" stroke="#af7e4b" stroke-width="0.3"/><circle cx="117.1" cy="84.4" r="1.21" fill="#facf98" stroke="#b4956d" stroke-width="0.3"/><circle cx="48.6" cy="102.6" r="0.93" fill="#6996da" stroke="#415d87" stroke-width="0.3"/><circle cx="64.3" cy="100.4" r="1.34" fill="#96c6f0" stroke="#5d7a94" stroke-width="0.3"/><circle cx="74.9" cy="89.8" r="1.03" fill="#b2d8f5" stroke="#6e8597" stroke-width="0.3"/><circle cx="64.1" cy="89.8" r="0.98" fill="#b2d8f5" stroke="#6e8597" stroke-width="0.3"/><circle cx="99.2" cy="82.2" r="1.25" fill="#f4af69" stroke="#af7e4b" stroke-width="0.3"/><circle cx="108.6" cy="58.5" r="1.47" fill="#f4af69" stroke="#af7e4b" stroke-width="0.3"/><circle cx="79.6" cy="88.9" r="0.81" fill="#b2d8f5" stroke="#6e8597" stroke-width="0.3"/><circle cx="49.6" cy="111.9" r="1.07" fill="#6996da" stroke="#415d87" stroke-width="0.3"/><circle cx="106.7" cy="85.3" r="1.17" fill="#f8be7d" stroke="#b2885a" stroke-width="0.3"/><circle cx="99.7" cy="70.2" r="1.54" fill="#f8be7d" stroke="#b2885a" stroke-width="0.3"/><circle cx="49.5" cy="99.6" r="0.83" fill="#96c6f0" stroke="#5d7a94" stroke-width="0.3"/><circle cx="63.9" cy="99.3" r="1.02" fill="#96c6f0" stroke="#5d7a94" stroke-width="0.3"/><circle cx="69.4" cy="78.5" r="1.53" fill="#facf98" stroke="#b4956d" stroke-width="0.3"/><circle cx="110.8" cy="83.1" r="1.03" fill="#f8be7d" stroke="#b2885a" stroke-width="0.3"/><circle cx="121.2" cy="60.4" r="1.09" fill="#facf98" stroke="#b4956d" stroke-width="0.3"/><circle cx="102.4" cy="94.8" r="1.03" fill="#f8be7d" stroke="#b2885a" stroke-width="0.3"/><circle cx="65.4" cy="90.5" r="1.10" fill="#96c6f0" stroke="#5d7a94" stroke-width="0.3"/><circle cx="103.3" cy="73.2" r="1.46" fill="#facf98" stroke="#b4956d" stroke-width="0.3"/><circle cx="116.7" cy="75.8" r="1.28" fill="#facf98" stroke="#b4956d" stroke-width="0.3"/><circle cx="41.7" cy="106.2" r="0.94" fill="#b2d8f5" stroke="#6e8597" stroke-width="0.3"/><circle cx="58.6" cy="107.4" r="1.03" fill="#96c6f0" stroke="#5d7a94" stroke-width="0.3"/><circle cx="60.0" cy="98.2" r="0.99" fill="#96c6f0" stroke="#5d7a94" stroke-width="0.3"/><circle cx="62.8" cy="101.6" r="1.19" fill="#b2d8f5" stroke="#6e8597" stroke-width="0.3"/><circle cx="86.7" cy="81.4" r="1.63" fill="#f4af69" stroke="#af7e4b" stroke-width="0.3"/><circle cx="72.9" cy="99.1" r="0.83" fill="#6996da" stroke="#415d87" stroke-width="0.3"/><circle cx="114.5" cy="91.1" r="1.50" fill="#f8be7d" stroke="#b2885a" stroke-width="0.3"/><circle cx="77.3" cy="91.7" r="1.33" fill="#f8be7d" stroke="#b2885a" stroke-width="0.3"/><circle cx="84.3" cy="84.3" r="1.22" fill="#6996da" stroke="#415d87" stroke-width="0.3"/><circle cx="57.9" cy="115.8" r="1.00" fill="#b2d8f5" stroke="#6e8597" stroke-width="0.3"/><circle cx="70.2" cy="100.1" r="0.90" fill="#96c6f0" stroke="#5d7a94" stroke-width="0.3"/><circle cx="63.9" cy="109.5" r="1.17" fill="#6996da" stroke="#415d87" stroke-width="0.3"/><circle cx="108.0" cy="91.1" r="1.35" fill="#f8be7d" stroke="#b2885a" stroke-width="0.3"/><circle cx="58.6" cy="91.9" r="1.07" fill="#96c6f0" stroke="#5d7a94" stroke-width="0.3"/><circle cx="114.2" cy="78.7" r="1.13" fill="#facf98" stroke="#b4956d" stroke-width="0.3"/><circle cx="94.2" cy="91.6" r="1.26" fill="#f8be7d" stroke="#b2885a" stroke-width="0.3"/><circle cx="84.2" cy="85.2" r="1.49" fill="#facf98" stroke="#b4956d" stroke-width="0.3"/><circle cx="81.1" cy="100.0" r="1.25" fill="#b2d8f5" stroke="#6e8597" stroke-width="0.3"/><circle cx="109.0" cy="63.5" r="1.25" fill="#f2b9d4" stroke="#9f7a8b" stroke-width="0.4"/><circle cx="94.1" cy="83.0" r="1.17" fill="#facf98" stroke="#b4956d" stroke-width="0.3"/><circle cx="71.8" cy="91.3" r="1.19" fill="#96c6f0" stroke="#5d7a94" stroke-width="0.3"/><circle cx="97.8" cy="83.9" r="1.00" fill="#facf98" stroke="#b4956d" stroke-width="0.3"/><circle cx="67.4" cy="104.8" r="1.37" fill="#96c6f0" stroke="#5d7a94" stroke-width="0.3"/><circle cx="47.8" cy="105.8" r="1.13" fill="#b2d8f5" stroke="#6e8597" stroke-width="0.3"/><circle cx="135.3" cy="63.8" r="0.95" fill="#f2b9d4" stroke="#9f7a8b" stroke-width="0.4"/><circle cx="135.8" cy="86.9" r="1.20" fill="#e48cb9" stroke="#965c7a" stroke-width="0.4"/><circle cx="100.6" cy="91.6" r="1.22" fill="#f8be7d" stroke="#b2885a" stroke-width="0.3"/><circle cx="98.6" cy="98.5" r="1.46" fill="#f8be7d" stroke="#b2885a" stroke-width="0.3"/><circle cx="113.3" cy="81.6" r="1.30" fill="#facf98" stroke="#b4956d" stroke-width="0.3"/><circle cx="90.0" cy="86.0" r="1.25" fill="#f8be7d" stroke="#b2885a" stroke-width="0.3"/><circle cx="119.3" cy="72.7" r="1.18" fill="#f2b9d4" stroke="#9f7a8b" stroke-width="0.4"/><circle cx="125.2" cy="63.6" r="1.14" fill="#f2b9d4" stroke="#9f7a8b" stroke-width="0.4"/><circle cx="101.1" cy="93.1" r="1.35" fill="#f4af69" stroke="#af7e4b" stroke-width="0.3"/><circle cx="68.3" cy="91.8" r="1.25" fill="#96c6f0" stroke="#5d7a94" stroke-width="0.3"/><circle cx="120.5" cy="72.4" r="0.90" fill="#fad2e4" stroke="#a58a96" stroke-width="0.4"/><circle cx="124.5" cy="62.7" r="1.21" fill="#e48cb9" stroke="#965c7a" stroke-width="0.4"/><circle cx="152.0" cy="84.1" r="0.82" fill="#fad2e4" stroke="#a58a96" stroke-width="0.4"/><circle cx="89.1" cy="91.3" r="1.01" fill="#96c6f0" stroke="#5d7a94" stroke-width="0.3"/><circle cx="95.1" cy="76.1" r="1.59" fill="#f8be7d" stroke="#b2885a" stroke-width="0.3"/><circle cx="69.4" cy="96.9" r="1.04" fill="#b2d8f5" stroke="#6e8597" stroke-width="0.3"/><circle cx="57.0" cy="112.6" r="1.08" fill="#b2d8f5" stroke="#6e8597" stroke-width="0.3"/><circle cx="54.3" cy="99.1" r="1.25" fill="#b2d8f5" stroke="#6e8597" stroke-width="0.3"/><circle cx="100.9" cy="95.2" r="1.33" fill="#f4af69" stroke="#af7e4b" stroke-width="0.3"/><circle cx="60.7" cy="107.1" r="1.39" fill="#96c6f0" stroke="#5d7a94" stroke-width="0.3"/><circle cx="107.9" cy="73.2" r="1.01" fill="#f2b9d4" stroke="#9f7a8b" stroke-width="0.4"/><circle cx="60.4" cy="96.5" r="0.80" fill="#96c6f0" stroke="#5d7a94" stroke-width="0.3"/><circle cx="79.3" cy="83.5" r="1.10" fill="#facf98" stroke="#b4956d" stroke-width="0.3"/><circle cx="79.2" cy="95.2" r="1.53" fill="#facf98" stroke="#b4956d" stroke-width="0.3"/><circle cx="91.0" cy="82.5" r="1.06" fill="#f4af69" stroke="#af7e4b" stroke-width="0.3"/><circle cx="129.3" cy="80.3" r="1.17" fill="#f2b9d4" stroke="#9f7a8b" stroke-width="0.4"/><circle cx="49.2" cy="100.6" r="0.88" fill="#6996da" stroke="#415d87" stroke-width="0.3"/><circle cx="54.1" cy="95.1" r="1.31" fill="#b2d8f5" stroke="#6e8597" stroke-width="0.3"/><circle cx="143.3" cy="74.2" r="0.92" fill="#f2b9d4" stroke="#9f7a8b" stroke-width="0.4"/><circle cx="104.7" cy="63.6" r="1.52" fill="#f8be7d" stroke="#b2885a" stroke-width="0.3"/><circle cx="103.5" cy="85.8" r="1.16" fill="#f4af69" stroke="#af7e4b" stroke-width="0.3"/><circle cx="112.6" cy="62.3" r="0.95" fill="#fad2e4" stroke="#a58a96" stroke-width="0.4"/><circle cx="58.1" cy="105.4" r="0.83" fill="#96c6f0" stroke="#5d7a94" stroke-width="0.3"/><circle cx="89.7" cy="91.4" r="1.01" fill="#facf98" stroke="#b4956d" stroke-width="0.3"/><circle cx="77.2" cy="94.0" r="1.46" fill="#f4af69" stroke="#af7e4b" stroke-width="0.3"/><circle cx="102.3" cy="93.4" r="1.32" fill="#f8be7d" stroke="#b2885a" stroke-width="0.3"/><circle cx="48.3" cy="93.9" r="1.03" fill="#96c6f0" stroke="#5d7a94" stroke-width="0.3"/><circle cx="97.4" cy="95.8" r="1.03" fill="#facf98" stroke="#b4956d" stroke-width="0.3"/><circle cx="116.3" cy="76.0" r="1.49" fill="#f8be7d" stroke="#b2885a" stroke-width="0.3"/><circle cx="48.3" cy="118.6" r="1.06" fill="#b2d8f5" stroke="#6e8597" stroke-width="0.3"/><circle cx="128.7" cy="60.9" r="0.90" fill="#f2b9d4" stroke="#9f7a8b" stroke-width="0.4"/><circle cx="75.7" cy="97.2" r="0.97" fill="#b2d8f5" stroke="#6e8597" stroke-width="0.3"/><circle cx="81.0" cy="101.9" r="1.20" fill="#96c6f0" stroke="#5d7a94" stroke-width="0.3"/><circle cx="86.3" cy="81.1" r="1.05" fill="#f8be7d" stroke="#b2885a" stroke-width="0.3"/><circle cx="58.8" cy="100.4" r="1.36" fill="#96c6f0" stroke="#5d7a94" stroke-width="0.3"/><circle cx="91.4" cy="82.8" r="1.28" fill="#f8be7d" stroke="#b2885a" stroke-width="0.3"/><circle cx="84.6" cy="88.8" r="1.39" fill="#f4af69" stroke="#af7e4b" stroke-width="0.3"/><circle cx="103.2" cy="100.3" r="1.41" fill="#f4af69" stroke="#af7e4b" stroke-width="0.3"/><circle cx="56.2" cy="116.5" r="0.92" fill="#b2d8f5" stroke="#6e8597" stroke-width="0.3"/><circle cx="92.1" cy="84.3" r="1.50" fill="#f8be7d" stroke="#b2885a" stroke-width="0.3"/><circle cx="60.0" cy="103.2" r="1.07" fill="#b2d8f5" stroke="#6e8597" stroke-width="0.3"/><circle cx="137.6" cy="64.2" r="1.10" fill="#e48cb9" stroke="#965c7a" stroke-width="0.4"/><circle cx="64.6" cy="99.2" r="1.23" fill="#96c6f0" stroke="#5d7a94" stroke-width="0.3"/><circle cx="119.4" cy="60.1" r="1.05" fill="#e48cb9" stroke="#965c7a" stroke-width="0.4"/><circle cx="61.5" cy="108.2" r="1.30" fill="#96c6f0" stroke="#5d7a94" stroke-width="0.3"/><circle cx="116.3" cy="87.8" r="1.50" fill="#facf98" stroke="#b4956d" stroke-width="0.3"/><circle cx="93.2" cy="98.7" r="1.53" fill="#f8be7d" stroke="#b2885a" stroke-width="0.3"/><circle cx="93.1" cy="79.4" r="1.10" fill="#f8be7d" stroke="#b2885a" stroke-width="0.3"/><circle cx="96.5" cy="69.4" r="1.01" fill="#f4af69" stroke="#af7e4b" stroke-width="0.3"/><circle cx="96.6" cy="85.4" r="1.43" fill="#facf98" stroke="#b4956d" stroke-width="0.3"/><circle cx="65.7" cy="105.9" r="1.05" fill="#96c6f0" stroke="#5d7a94" stroke-width="0.3"/><circle cx="146.6" cy="75.2" r="1.19" fill="#f2b9d4" stroke="#9f7a8b" stroke-width="0.4"/><circle cx="120.1" cy="55.7" r="1.02" fill="#f2b9d4" stroke="#9f7a8b" stroke-width="0.4"/><circle cx="77.9" cy="106.2" r="0.82" fill="#6996da" stroke="#415d87" stroke-width="0.3"/><circle cx="114.3" cy="95.1" r="1.14" fill="#f4af69" stroke="#af7e4b" stroke-width="0.3"/><circle cx="132.0" cy="72.2" r="0.91" fill="#fad2e4" stroke="#a58a96" stroke-width="0.4"/><circle cx="108.0" cy="71.4" r="1.57" fill="#f4af69" stroke="#af7e4b" stroke-width="0.3"/><circle cx="62.8" cy="102.6" r="1.24" fill="#96c6f0" stroke="#5d7a94" stroke-width="0.3"/><circle cx="111.8" cy="92.0" r="1.41" fill="#f4af69" stroke="#af7e4b" stroke-width="0.3"/><circle cx="156.5" cy="73.4" r="1.12" fill="#e48cb9" stroke="#965c7a" stroke-width="0.4"/><circle cx="61.2" cy="96.7" r="1.31" fill="#6996da" stroke="#415d87" stroke-width="0.3"/><circle cx="119.9" cy="50.6" r="1.23" fill="#f2b9d4" stroke="#9f7a8b" stroke-width="0.4"/><circle cx="50.2" cy="102.1" r="0.91" fill="#96c6f0" stroke="#5d7a94" stroke-width="0.3"/><circle cx="39.7" cy="110.0" r="1.08" fill="#b2d8f5" stroke="#6e8597" stroke-width="0.3"/><circle cx="139.0" cy="62.3" r="1.09" fill="#f2b9d4" stroke="#9f7a8b" stroke-width="0.4"/><circle cx="98.7" cy="87.6" r="1.33" fill="#facf98" stroke="#b4956d" stroke-width="0.3"/><circle cx="90.6" cy="84.0" r="1.39" fill="#f8be7d" stroke="#b2885a" stroke-width="0.3"/><circle cx="45.9" cy="114.9" r="1.37" fill="#b2d8f5" stroke="#6e8597" stroke-width="0.3"/><circle cx="78.3" cy="85.7" r="1.16" fill="#f4af69" stroke="#af7e4b" stroke-width="0.3"/><circle cx="146.0" cy="55.0" r="1.05" fill="#e48cb9" stroke="#965c7a" stroke-width="0.4"/><circle cx="47.1" cy="106.6" r="1.00" fill="#b2d8f5" stroke="#6e8597" stroke-width="0.3"/><circle cx="118.4" cy="87.1" r="1.23" fill="#facf98" stroke="#b4956d" stroke-width="0.3"/><circle cx="126.1" cy="65.5" r="0.99" fill="#fad2e4" stroke="#a58a96" stroke-width="0.4"/><circle cx="119.3" cy="81.0" r="1.11" fill="#e48cb9" stroke="#965c7a" stroke-width="0.4"/><circle cx="90.6" cy="93.0" r="1.37" fill="#facf98" stroke="#b4956d" stroke-width="0.3"/><circle cx="118.2" cy="72.5" r="1.16" fill="#facf98" stroke="#b4956d" stroke-width="0.3"/><circle cx="116.3" cy="91.4" r="1.59" fill="#f8be7d" stroke="#b2885a" stroke-width="0.3"/><circle cx="114.6" cy="77.2" r="1.34" fill="#f8be7d" stroke="#b2885a" stroke-width="0.3"/><circle cx="105.5" cy="79.4" r="1.25" fill="#f8be7d" stroke="#b2885a" stroke-width="0.3"/><circle cx="72.4" cy="95.6" r="1.32" fill="#b2d8f5" stroke="#6e8597" stroke-width="0.3"/><circle cx="122.7" cy="67.2" r="1.23" fill="#f2b9d4" stroke="#9f7a8b" stroke-width="0.4"/><circle cx="80.7" cy="75.6" r="1.03" fill="#f4af69" stroke="#af7e4b" stroke-width="0.3"/><circle cx="61.3" cy="89.1" r="1.29" fill="#96c6f0" stroke="#5d7a94" stroke-width="0.3"/><circle cx="144.4" cy="83.0" r="1.22" fill="#e48cb9" stroke="#965c7a" stroke-width="0.4"/><circle cx="128.5" cy="58.7" r="1.09" fill="#e48cb9" stroke="#965c7a" stroke-width="0.4"/><circle cx="43.7" cy="106.2" r="0.85" fill="#b2d8f5" stroke="#6e8597" stroke-width="0.3"/><circle cx="109.5" cy="83.0" r="1.02" fill="#f8be7d" stroke="#b2885a" stroke-width="0.3"/><circle cx="138.8" cy="81.8" r="0.88" fill="#f2b9d4" stroke="#9f7a8b" stroke-width="0.4"/><circle cx="132.7" cy="66.0" r="1.26" fill="#f2b9d4" stroke="#9f7a8b" stroke-width="0.4"/><circle cx="111.2" cy="78.5" r="1.64" fill="#f8be7d" stroke="#b2885a" stroke-width="0.3"/><circle cx="46.2" cy="95.7" r="1.08" fill="#b2d8f5" stroke="#6e8597" stroke-width="0.3"/><circle cx="97.0" cy="81.9" r="1.54" fill="#facf98" stroke="#b4956d" stroke-width="0.3"/><circle cx="142.4" cy="80.4" r="1.12" fill="#fad2e4" stroke="#a58a96" stroke-width="0.4"/><circle cx="81.7" cy="80.2" r="0.83" fill="#b2d8f5" stroke="#6e8597" stroke-width="0.3"/><circle cx="91.6" cy="72.3" r="1.04" fill="#facf98" stroke="#b4956d" stroke-width="0.3"/><circle cx="48.0" cy="103.5" r="1.06" fill="#96c6f0" stroke="#5d7a94" stroke-width="0.3"/><circle cx="53.7" cy="104.5" r="1.03" fill="#b2d8f5" stroke="#6e8597" stroke-width="0.3"/><circle cx="125.0" cy="57.7" r="1.24" fill="#f2b9d4" stroke="#9f7a8b" stroke-width="0.4"/><circle cx="120.5" cy="90.4" r="1.19" fill="#f8be7d" stroke="#b2885a" stroke-width="0.3"/><circle cx="88.1" cy="81.4" r="1.42" fill="#f8be7d" stroke="#b2885a" stroke-width="0.3"/><circle cx="97.0" cy="73.2" r="1.41" fill="#f8be7d" stroke="#b2885a" stroke-width="0.3"/><circle cx="135.6" cy="77.4" r="1.21" fill="#f2b9d4" stroke="#9f7a8b" stroke-width="0.4"/><circle cx="138.3" cy="80.0" r="0.99" fill="#e48cb9" stroke="#965c7a" stroke-width="0.4"/><circle cx="140.8" cy="86.1" r="1.26" fill="#f2b9d4" stroke="#9f7a8b" stroke-width="0.4"/><circle cx="61.4" cy="108.0" r="0.88" fill="#96c6f0" stroke="#5d7a94" stroke-width="0.3"/><circle cx="130.4" cy="82.2" r="0.97" fill="#f2b9d4" stroke="#9f7a8b" stroke-width="0.4"/><circle cx="104.6" cy="72.4" r="1.05" fill="#f8be7d" stroke="#b2885a" stroke-width="0.3"/><circle cx="111.1" cy="73.6" r="0.95" fill="#e48cb9" stroke="#965c7a" stroke-width="0.4"/><circle cx="49.1" cy="100.4" r="0.85" fill="#96c6f0" stroke="#5d7a94" stroke-width="0.3"/><circle cx="133.9" cy="48.5" r="1.17" fill="#fad2e4" stroke="#a58a96" stroke-width="0.4"/><circle cx="55.0" cy="97.8" r="1.13" fill="#96c6f0" stroke="#5d7a94" stroke-width="0.3"/><circle cx="60.8" cy="103.5" r="0.88" fill="#b2d8f5" stroke="#6e8597" stroke-width="0.3"/><circle cx="61.4" cy="104.9" r="1.06" fill="#b2d8f5" stroke="#6e8597" stroke-width="0.3"/><circle cx="122.4" cy="70.8" r="1.22" fill="#e48cb9" stroke="#965c7a" stroke-width="0.4"/><circle cx="68.7" cy="92.5" r="1.26" fill="#b2d8f5" stroke="#6e8597" stroke-width="0.3"/><circle cx="83.1" cy="91.0" r="1.19" fill="#facf98" stroke="#b4956d" stroke-width="0.3"/><circle cx="103.4" cy="80.0" r="1.53" fill="#f8be7d" stroke="#b2885a" stroke-width="0.3"/><circle cx="129.4" cy="69.5" r="0.92" fill="#fad2e4" stroke="#a58a96" stroke-width="0.4"/><circle cx="48.5" cy="99.2" r="1.33" fill="#b2d8f5" stroke="#6e8597" stroke-width="0.3"/><circle cx="122.2" cy="64.3" r="1.25" fill="#f2b9d4" stroke="#9f7a8b" stroke-width="0.4"/><circle cx="127.3" cy="60.2" r="0.90" fill="#f2b9d4" stroke="#9f7a8b" stroke-width="0.4"/><circle cx="69.8" cy="106.2" r="1.31" fill="#6996da" stroke="#415d87" stroke-width="0.3"/><circle cx="132.4" cy="78.3" r="0.92" fill="#f2b9d4" stroke="#9f7a8b" stroke-width="0.4"/><circle cx="66.0" cy="105.8" r="1.20" fill="#96c6f0" stroke="#5d7a94" stroke-width="0.3"/><circle cx="52.1" cy="119.8" r="1.22" fill="#b2d8f5" stroke="#6e8597" stroke-width="0.3"/><circle cx="92.3" cy="93.4" r="1.55" fill="#f4af69" stroke="#af7e4b" stroke-width="0.3"/><circle cx="96.4" cy="80.8" r="1.22" fill="#facf98" stroke="#b4956d" stroke-width="0.3"/><circle cx="126.9" cy="58.2" r="0.98" fill="#f2b9d4" stroke="#9f7a8b" stroke-width="0.4"/><circle cx="132.5" cy="61.4" r="1.14" fill="#f2b9d4" stroke="#9f7a8b" stroke-width="0.4"/><circle cx="85.3" cy="73.7" r="1.34" fill="#facf98" stroke="#b4956d" stroke-width="0.3"/><circle cx="53.6" cy="93.0" r="0.88" fill="#b2d8f5" stroke="#6e8597" stroke-width="0.3"/><circle cx="150.3" cy="75.6" r="1.21" fill="#f2b9d4" stroke="#9f7a8b" stroke-width="0.4"/><circle cx="146.6" cy="69.9" r="0.89" fill="#e48cb9" stroke="#965c7a" stroke-width="0.4"/><circle cx="79.8" cy="89.5" r="1.07" fill="#96c6f0" stroke="#5d7a94" stroke-width="0.3"/><circle cx="150.5" cy="84.1" r="1.17" fill="#f2b9d4" stroke="#9f7a8b" stroke-width="0.4"/><circle cx="60.7" cy="97.7" r="1.16" fill="#96c6f0" stroke="#5d7a94" stroke-width="0.3"/><circle cx="40.9" cy="97.5" r="0.99" fill="#96c6f0" stroke="#5d7a94" stroke-width="0.3"/><circle cx="65.4" cy="108.7" r="1.18" fill="#b2d8f5" stroke="#6e8597" stroke-width="0.3"/><circle cx="141.2" cy="80.5" r="1.18" fill="#f2b9d4" stroke="#9f7a8b" stroke-width="0.4"/><circle cx="62.2" cy="93.0" r="1.00" fill="#b2d8f5" stroke="#6e8597" stroke-width="0.3"/><circle cx="56.5" cy="100.8" r="1.15" fill="#b2d8f5" stroke="#6e8597" stroke-width="0.3"/><circle cx="50.7" cy="111.7" r="0.99" fill="#6996da" stroke="#415d87" stroke-width="0.3"/><circle cx="59.3" cy="99.1" r="1.19" fill="#b2d8f5" stroke="#6e8597" stroke-width="0.3"/><circle cx="56.8" cy="92.4" r="1.21" fill="#96c6f0" stroke="#5d7a94" stroke-width="0.3"/><circle cx="122.0" cy="54.8" r="1.04" fill="#e48cb9" stroke="#965c7a" stroke-width="0.4"/><circle cx="114.1" cy="78.2" r="1.02" fill="#e48cb9" stroke="#965c7a" stroke-width="0.4"/><circle cx="127.2" cy="75.0" r="1.24" fill="#fad2e4" stroke="#a58a96" stroke-width="0.4"/><circle cx="60.5" cy="99.5" r="0.81" fill="#96c6f0" stroke="#5d7a94" stroke-width="0.3"/><circle cx="59.4" cy="100.2" r="1.01" fill="#b2d8f5" stroke="#6e8597" stroke-width="0.3"/><circle cx="93.8" cy="89.6" r="1.38" fill="#f8be7d" stroke="#b2885a" stroke-width="0.3"/><circle cx="48.9" cy="106.1" r="0.83" fill="#6996da" stroke="#415d87" stroke-width="0.3"/><circle cx="79.3" cy="80.0" r="1.62" fill="#f8be7d" stroke="#b2885a" stroke-width="0.3"/><circle cx="115.5" cy="82.7" r="1.61" fill="#facf98" stroke="#b4956d" stroke-width="0.3"/><circle cx="71.8" cy="87.4" r="1.49" fill="#f8be7d" stroke="#b2885a" stroke-width="0.3"/><circle cx="68.8" cy="104.8" r="1.10" fill="#b2d8f5" stroke="#6e8597" stroke-width="0.3"/><circle cx="82.9" cy="74.0" r="1.49" fill="#f8be7d" stroke="#b2885a" stroke-width="0.3"/><circle cx="110.3" cy="91.3" r="1.25" fill="#facf98" stroke="#b4956d" stroke-width="0.3"/><circle cx="56.0" cy="91.5" r="1.01" fill="#6996da" stroke="#415d87" stroke-width="0.3"/><circle cx="72.6" cy="96.2" r="0.91" fill="#96c6f0" stroke="#5d7a94" stroke-width="0.3"/><circle cx="144.1" cy="65.2" r="1.22" fill="#e48cb9" stroke="#965c7a" stroke-width="0.4"/><circle cx="98.6" cy="59.7" r="1.43" fill="#f8be7d" stroke="#b2885a" stroke-width="0.3"/><circle cx="82.0" cy="105.0" r="1.21" fill="#facf98" stroke="#b4956d" stroke-width="0.3"/><circle cx="128.0" cy="76.5" r="1.03" fill="#e48cb9" stroke="#965c7a" stroke-width="0.4"/><circle cx="146.9" cy="70.4" r="1.00" fill="#f2b9d4" stroke="#9f7a8b" stroke-width="0.4"/><circle cx="96.0" cy="80.8" r="1.61" fill="#f8be7d" stroke="#b2885a" stroke-width="0.3"/><circle cx="87.0" cy="93.3" r="1.01" fill="#facf98" stroke="#b4956d" stroke-width="0.3"/><circle cx="71.5" cy="94.9" r="1.35" fill="#96c6f0" stroke="#5d7a94" stroke-width="0.3"/><circle cx="76.3" cy="99.5" r="1.21" fill="#6996da" stroke="#415d87" stroke-width="0.3"/><circle cx="140.0" cy="77.6" r="0.84" fill="#f2b9d4" stroke="#9f7a8b" stroke-width="0.4"/><circle cx="100.1" cy="91.5" r="1.12" fill="#f4af69" stroke="#af7e4b" stroke-width="0.3"/><circle cx="138.0" cy="45.6" r="1.19" fill="#f2b9d4" stroke="#9f7a8b" stroke-width="0.4"/><circle cx="134.3" cy="80.5" r="1.03" fill="#e48cb9" stroke="#965c7a" stroke-width="0.4"/><circle cx="46.1" cy="96.5" r="1.10" fill="#b2d8f5" stroke="#6e8597" stroke-width="0.3"/><circle cx="124.2" cy="71.7" r="1.42" fill="#facf98" stroke="#b4956d" stroke-width="0.3"/><circle cx="126.9" cy="54.4" r="0.87" fill="#fad2e4" stroke="#a58a96" stroke-width="0.4"/><circle cx="96.7" cy="94.8" r="1.43" fill="#f8be7d" stroke="#b2885a" stroke-width="0.3"/><circle cx="95.4" cy="84.8" r="1.06" fill="#f4af69" stroke="#af7e4b" stroke-width="0.3"/><circle cx="76.8" cy="103.7" r="1.23" fill="#96c6f0" stroke="#5d7a94" stroke-width="0.3"/><circle cx="122.8" cy="80.5" r="1.04" fill="#f2b9d4" stroke="#9f7a8b" stroke-width="0.4"/><circle cx="137.3" cy="89.9" r="0.94" fill="#f2b9d4" stroke="#9f7a8b" stroke-width="0.4"/><circle cx="119.1" cy="86.0" r="1.05" fill="#f8be7d" stroke="#b2885a" stroke-width="0.3"/><circle cx="56.3" cy="107.2" r="1.06" fill="#b2d8f5" stroke="#6e8597" stroke-width="0.3"/><circle cx="61.5" cy="109.0" r="0.89" fill="#96c6f0" stroke="#5d7a94" stroke-width="0.3"/><circle cx="124.7" cy="65.2" r="1.16" fill="#f2b9d4" stroke="#9f7a8b" stroke-width="0.4"/><circle cx="77.4" cy="95.0" r="1.28" fill="#b2d8f5" stroke="#6e8597" stroke-width="0.3"/><circle cx="131.3" cy="69.3" r="0.83" fill="#e48cb9" stroke="#965c7a" stroke-width="0.4"/><circle cx="97.4" cy="82.4" r="1.37" fill="#f8be7d" stroke="#b2885a" stroke-width="0.3"/><circle cx="120.4" cy="72.6" r="1.28" fill="#e48cb9" stroke="#965c7a" stroke-width="0.4"/><circle cx="90.5" cy="91.7" r="1.46" fill="#facf98" stroke="#b4956d" stroke-width="0.3"/><circle cx="145.1" cy="64.2" r="0.92" fill="#fad2e4" stroke="#a58a96" stroke-width="0.4"/><circle cx="113.2" cy="86.3" r="1.01" fill="#facf98" stroke="#b4956d" stroke-width="0.3"/><circle cx="57.3" cy="102.4" r="1.35" fill="#6996da" stroke="#415d87" stroke-width="0.3"/><circle cx="102.4" cy="76.8" r="1.19" fill="#facf98" stroke="#b4956d" stroke-width="0.3"/><circle cx="52.9" cy="116.9" r="0.87" fill="#b2d8f5" stroke="#6e8597" stroke-width="0.3"/><circle cx="109.2" cy="79.2" r="1.62" fill="#f8be7d" stroke="#b2885a" stroke-width="0.3"/><circle cx="149.3" cy="70.8" r="1.05" fill="#fad2e4" stroke="#a58a96" stroke-width="0.4"/><circle cx="95.6" cy="89.9" r="1.12" fill="#facf98" stroke="#b4956d" stroke-width="0.3"/><circle cx="123.8" cy="85.1" r="1.04" fill="#f4af69" stroke="#af7e4b" stroke-width="0.3"/><circle cx="64.5" cy="93.2" r="0.92" fill="#96c6f0" stroke="#5d7a94" stroke-width="0.3"/><circle cx="122.7" cy="87.5" r="1.30" fill="#f8be7d" stroke="#b2885a" stroke-width="0.3"/><circle cx="124.9" cy="60.6" r="0.82" fill="#f2b9d4" stroke="#9f7a8b" stroke-width="0.4"/><circle cx="121.1" cy="90.6" r="1.53" fill="#f8be7d" stroke="#b2885a" stroke-width="0.3"/><circle cx="140.6" cy="77.5" r="0.91" fill="#fad2e4" stroke="#a58a96" stroke-width="0.4"/><circle cx="50.4" cy="108.5" r="0.95" fill="#b2d8f5" stroke="#6e8597" stroke-width="0.3"/><circle cx="98.4" cy="70.9" r="1.15" fill="#facf98" stroke="#b4956d" stroke-width="0.3"/><circle cx="113.3" cy="67.6" r="1.01" fill="#f8be7d" stroke="#b2885a" stroke-width="0.3"/><circle cx="81.4" cy="90.2" r="1.18" fill="#b2d8f5" stroke="#6e8597" stroke-width="0.3"/><circle cx="106.8" cy="72.1" r="1.54" fill="#f4af69" stroke="#af7e4b" stroke-width="0.3"/><circle cx="82.2" cy="101.6" r="1.11" fill="#b2d8f5" stroke="#6e8597" stroke-width="0.3"/><circle cx="123.8" cy="83.5" r="1.40" fill="#f4af69" stroke="#af7e4b" stroke-width="0.3"/><circle cx="122.3" cy="64.5" r="1.45" fill="#f8be7d" stroke="#b2885a" stroke-width="0.3"/><circle cx="68.9" cy="90.5" r="1.17" fill="#b2d8f5" stroke="#6e8597" stroke-width="0.3"/><circle cx="140.5" cy="82.9" r="1.27" fill="#f2b9d4" stroke="#9f7a8b" stroke-width="0.4"/><circle cx="102.0" cy="84.0" r="1.04" fill="#f4af69" stroke="#af7e4b" stroke-width="0.3"/><circle cx="82.6" cy="84.6" r="1.31" fill="#f8be7d" stroke="#b2885a" stroke-width="0.3"/><circle cx="101.7" cy="88.8" r="1.21" fill="#facf98" stroke="#b4956d" stroke-width="0.3"/><circle cx="101.6" cy="97.6" r="1.29" fill="#f8be7d" stroke="#b2885a" stroke-width="0.3"/><circle cx="54.3" cy="93.3" r="0.95" fill="#b2d8f5" stroke="#6e8597" stroke-width="0.3"/><circle cx="113.7" cy="70.6" r="1.15" fill="#fad2e4" stroke="#a58a96" stroke-width="0.4"/><circle cx="46.2" cy="104.1" r="1.08" fill="#b2d8f5" stroke="#6e8597" stroke-width="0.3"/><circle cx="93.1" cy="89.1" r="1.33" fill="#facf98" stroke="#b4956d" stroke-width="0.3"/><circle cx="68.4" cy="89.3" r="1.31" fill="#b2d8f5" stroke="#6e8597" stroke-width="0.3"/><circle cx="105.6" cy="65.7" r="1.24" fill="#e48cb9" stroke="#965c7a" stroke-width="0.4"/><circle cx="55.0" cy="95.5" r="1.35" fill="#b2d8f5" stroke="#6e8597" stroke-width="0.3"/><circle cx="54.5" cy="94.6" r="1.06" fill="#96c6f0" stroke="#5d7a94" stroke-width="0.3"/><circle cx="87.1" cy="73.3" r="1.63" fill="#f4af69" stroke="#af7e4b" stroke-width="0.3"/><circle cx="68.0" cy="109.6" r="1.04" fill="#b2d8f5" stroke="#6e8597" stroke-width="0.3"/><circle cx="149.3" cy="76.9" r="1.17" fill="#e48cb9" stroke="#965c7a" stroke-width="0.4"/><circle cx="134.3" cy="51.4" r="1.04" fill="#e48cb9" stroke="#965c7a" stroke-width="0.4"/><circle cx="60.9" cy="96.4" r="1.19" fill="#b2d8f5" stroke="#6e8597" stroke-width="0.3"/><circle cx="150.4" cy="73.2" r="1.19" fill="#f2b9d4" stroke="#9f7a8b" stroke-width="0.4"/><circle cx="134.5" cy="74.2" r="0.96" fill="#f2b9d4" stroke="#9f7a8b" stroke-width="0.4"/><circle cx="140.1" cy="49.0" r="0.81" fill="#fad2e4" stroke="#a58a96" stroke-width="0.4"/><circle cx="101.2" cy="97.3" r="1.53" fill="#facf98" stroke="#b4956d" stroke-width="0.3"/><circle cx="71.7" cy="99.8" r="0.85" fill="#96c6f0" stroke="#5d7a94" stroke-width="0.3"/><circle cx="47.9" cy="96.3" r="1.28" fill="#96c6f0" stroke="#5d7a94" stroke-width="0.3"/><circle cx="44.0" cy="101.1" r="0.88" fill="#b2d8f5" stroke="#6e8597" stroke-width="0.3"/><circle cx="48.0" cy="94.5" r="1.35" fill="#b2d8f5" stroke="#6e8597" stroke-width="0.3"/><circle cx="106.2" cy="83.5" r="1.48" fill="#facf98" stroke="#b4956d" stroke-width="0.3"/><circle cx="101.5" cy="94.3" r="1.35" fill="#facf98" stroke="#b4956d" stroke-width="0.3"/><circle cx="78.3" cy="96.7" r="1.09" fill="#facf98" stroke="#b4956d" stroke-width="0.3"/><circle cx="104.5" cy="88.6" r="1.25" fill="#facf98" stroke="#b4956d" stroke-width="0.3"/><circle cx="102.0" cy="83.8" r="1.50" fill="#f4af69" stroke="#af7e4b" stroke-width="0.3"/><circle cx="106.3" cy="67.2" r="1.17" fill="#f8be7d" stroke="#b2885a" stroke-width="0.3"/><circle cx="110.9" cy="93.2" r="1.46" fill="#f8be7d" stroke="#b2885a" stroke-width="0.3"/><circle cx="134.5" cy="59.7" r="1.20" fill="#f2b9d4" stroke="#9f7a8b" stroke-width="0.4"/><circle cx="105.4" cy="91.3" r="1.06" fill="#f8be7d" stroke="#b2885a" stroke-width="0.3"/><circle cx="58.4" cy="100.5" r="1.03" fill="#96c6f0" stroke="#5d7a94" stroke-width="0.3"/><circle cx="114.9" cy="76.7" r="1.08" fill="#f8be7d" stroke="#b2885a" stroke-width="0.3"/><circle cx="121.2" cy="84.5" r="1.38" fill="#f8be7d" stroke="#b2885a" stroke-width="0.3"/><circle cx="137.4" cy="72.8" r="1.10" fill="#fad2e4" stroke="#a58a96" stroke-width="0.4"/><circle cx="147.8" cy="84.7" r="1.07" fill="#e48cb9" stroke="#965c7a" stroke-width="0.4"/><circle cx="148.6" cy="84.1" r="1.09" fill="#f2b9d4" stroke="#9f7a8b" stroke-width="0.4"/><circle cx="78.8" cy="90.5" r="1.52" fill="#f8be7d" stroke="#b2885a" stroke-width="0.3"/><circle cx="110.8" cy="62.8" r="1.29" fill="#e48cb9" stroke="#965c7a" stroke-width="0.4"/><circle cx="145.0" cy="68.0" r="0.96" fill="#e48cb9" stroke="#965c7a" stroke-width="0.4"/><circle cx="113.9" cy="60.1" r="1.17" fill="#f2b9d4" stroke="#9f7a8b" stroke-width="0.4"/><circle cx="70.0" cy="94.0" r="0.87" fill="#b2d8f5" stroke="#6e8597" stroke-width="0.3"/><circle cx="134.9" cy="77.8" r="0.82" fill="#f2b9d4" stroke="#9f7a8b" stroke-width="0.4"/><circle cx="149.6" cy="77.2" r="0.92" fill="#f2b9d4" stroke="#9f7a8b" stroke-width="0.4"/><circle cx="126.2" cy="61.9" r="0.99" fill="#f2b9d4" stroke="#9f7a8b" stroke-width="0.4"/><circle cx="56.5" cy="106.4" r="0.98" fill="#96c6f0" stroke="#5d7a94" stroke-width="0.3"/><circle cx="53.4" cy="104.3" r="0.84" fill="#96c6f0" stroke="#5d7a94" stroke-width="0.3"/><circle cx="137.7" cy="74.6" r="0.84" fill="#f2b9d4" stroke="#9f7a8b" stroke-width="0.4"/><circle cx="139.0" cy="75.4" r="0.99" fill="#fad2e4" stroke="#a58a96" stroke-width="0.4"/><circle cx="67.7" cy="95.7" r="0.92" fill="#96c6f0" stroke="#5d7a94" stroke-width="0.3"/><circle cx="54.7" cy="98.7" r="1.16" fill="#96c6f0" stroke="#5d7a94" stroke-width="0.3"/><circle cx="126.4" cy="77.3" r="1.27" fill="#f2b9d4" stroke="#9f7a8b" stroke-width="0.4"/><circle cx="48.6" cy="95.0" r="0.96" fill="#b2d8f5" stroke="#6e8597" stroke-width="0.3"/><circle cx="137.6" cy="83.7" r="0.86" fill="#fad2e4" stroke="#a58a96" stroke-width="0.4"/><circle cx="88.9" cy="101.3" r="1.04" fill="#f8be7d" stroke="#b2885a" stroke-width="0.3"/><circle cx="150.8" cy="64.9" r="1.16" fill="#f2b9d4" stroke="#9f7a8b" stroke-width="0.4"/><circle cx="121.4" cy="51.6" r="0.87" fill="#fad2e4" stroke="#a58a96" stroke-width="0.4"/><circle cx="126.3" cy="72.5" r="0.99" fill="#f2b9d4" stroke="#9f7a8b" stroke-width="0.4"/><circle cx="53.6" cy="107.7" r="1.34" fill="#96c6f0" stroke="#5d7a94" stroke-width="0.3"/><circle cx="109.3" cy="84.8" r="1.48" fill="#facf98" stroke="#b4956d" stroke-width="0.3"/><circle cx="56.7" cy="104.2" r="1.36" fill="#96c6f0" stroke="#5d7a94" stroke-width="0.3"/><circle cx="149.2" cy="77.5" r="0.98" fill="#f2b9d4" stroke="#9f7a8b" stroke-width="0.4"/><circle cx="113.3" cy="80.9" r="1.19" fill="#f4af69" stroke="#af7e4b" stroke-width="0.3"/><circle cx="85.7" cy="101.1" r="0.90" fill="#96c6f0" stroke="#5d7a94" stroke-width="0.3"/><circle cx="130.7" cy="51.1" r="1.05" fill="#e48cb9" stroke="#965c7a" stroke-width="0.4"/><circle cx="97.2" cy="71.7" r="1.11" fill="#facf98" stroke="#b4956d" stroke-width="0.3"/><circle cx="106.8" cy="89.9" r="1.45" fill="#f8be7d" stroke="#b2885a" stroke-width="0.3"/><circle cx="145.4" cy="78.1" r="0.82" fill="#f2b9d4" stroke="#9f7a8b" stroke-width="0.4"/><circle cx="140.6" cy="63.4" r="0.97" fill="#fad2e4" stroke="#a58a96" stroke-width="0.4"/><circle cx="136.1" cy="79.1" r="0.97" fill="#f2b9d4" stroke="#9f7a8b" stroke-width="0.4"/><circle cx="149.6" cy="86.1" r="0.96" fill="#f2b9d4" stroke="#9f7a8b" stroke-width="0.4"/><circle cx="108.1" cy="97.5" r="1.30" fill="#facf98" stroke="#b4956d" stroke-width="0.3"/><circle cx="115.3" cy="62.1" r="1.15" fill="#f4af69" stroke="#af7e4b" stroke-width="0.3"/><circle cx="110.8" cy="78.6" r="1.11" fill="#facf98" stroke="#b4956d" stroke-width="0.3"/><circle cx="76.3" cy="93.3" r="0.92" fill="#6996da" stroke="#415d87" stroke-width="0.3"/><circle cx="52.2" cy="102.6" r="1.11" fill="#b2d8f5" stroke="#6e8597" stroke-width="0.3"/><circle cx="102.1" cy="91.7" r="1.38" fill="#facf98" stroke="#b4956d" stroke-width="0.3"/><circle cx="119.6" cy="69.0" r="1.09" fill="#f4af69" stroke="#af7e4b" stroke-width="0.3"/><circle cx="142.9" cy="67.5" r="1.19" fill="#f2b9d4" stroke="#9f7a8b" stroke-width="0.4"/><circle cx="114.5" cy="76.0" r="1.07" fill="#e48cb9" stroke="#965c7a" stroke-width="0.4"/><circle cx="63.0" cy="100.3" r="1.20" fill="#96c6f0" stroke="#5d7a94" stroke-width="0.3"/><circle cx="89.2" cy="102.1" r="1.14" fill="#96c6f0" stroke="#5d7a94" stroke-width="0.3"/><circle cx="65.3" cy="87.0" r="0.99" fill="#96c6f0" stroke="#5d7a94" stroke-width="0.3"/><circle cx="107.0" cy="83.1" r="1.56" fill="#f8be7d" stroke="#b2885a" stroke-width="0.3"/><circle cx="88.3" cy="69.2" r="1.40" fill="#f4af69" stroke="#af7e4b" stroke-width="0.3"/><circle cx="118.3" cy="79.1" r="1.39" fill="#facf98" stroke="#b4956d" stroke-width="0.3"/><circle cx="98.0" cy="76.8" r="1.03" fill="#f4af69" stroke="#af7e4b" stroke-width="0.3"/><circle cx="142.5" cy="61.1" r="1.27" fill="#e48cb9" stroke="#965c7a" stroke-width="0.4"/><circle cx="98.6" cy="81.0" r="1.05" fill="#f8be7d" stroke="#b2885a" stroke-width="0.3"/><circle cx="112.4" cy="62.2" r="1.01" fill="#e48cb9" stroke="#965c7a" stroke-width="0.4"/><circle cx="123.7" cy="78.7" r="0.86" fill="#e48cb9" stroke="#965c7a" stroke-width="0.4"/><circle cx="114.1" cy="75.2" r="1.61" fill="#f4af69" stroke="#af7e4b" stroke-width="0.3"/><circle cx="74.0" cy="96.1" r="1.09" fill="#b2d8f5" stroke="#6e8597" stroke-width="0.3"/><circle cx="105.4" cy="77.8" r="1.03" fill="#f8be7d" stroke="#b2885a" stroke-width="0.3"/><circle cx="54.1" cy="118.4" r="1.00" fill="#96c6f0" stroke="#5d7a94" stroke-width="0.3"/><circle cx="60.8" cy="108.0" r="1.24" fill="#6996da" stroke="#415d87" stroke-width="0.3"/><circle cx="91.3" cy="92.0" r="1.16" fill="#facf98" stroke="#b4956d" stroke-width="0.3"/><circle cx="50.6" cy="96.2" r="1.03" fill="#96c6f0" stroke="#5d7a94" stroke-width="0.3"/><circle cx="51.8" cy="97.0" r="0.93" fill="#96c6f0" stroke="#5d7a94" stroke-width="0.3"/><circle cx="147.3" cy="51.2" r="0.87" fill="#fad2e4" stroke="#a58a96" stroke-width="0.4"/><circle cx="124.6" cy="83.8" r="1.41" fill="#f4af69" stroke="#af7e4b" stroke-width="0.3"/><circle cx="67.7" cy="103.1" r="0.93" fill="#b2d8f5" stroke="#6e8597" stroke-width="0.3"/><circle cx="94.9" cy="84.4" r="1.10" fill="#f8be7d" stroke="#b2885a" stroke-width="0.3"/><circle cx="51.0" cy="92.1" r="1.12" fill="#b2d8f5" stroke="#6e8597" stroke-width="0.3"/><circle cx="104.5" cy="73.2" r="1.43" fill="#f8be7d" stroke="#b2885a" stroke-width="0.3"/><circle cx="141.7" cy="72.1" r="1.24" fill="#f2b9d4" stroke="#9f7a8b" stroke-width="0.4"/><circle cx="141.6" cy="72.3" r="1.09" fill="#fad2e4" stroke="#a58a96" stroke-width="0.4"/><circle cx="107.3" cy="70.4" r="1.62" fill="#facf98" stroke="#b4956d" stroke-width="0.3"/><circle cx="125.5" cy="68.6" r="1.12" fill="#f4af69" stroke="#af7e4b" stroke-width="0.3"/><circle cx="81.1" cy="93.9" r="1.20" fill="#96c6f0" stroke="#5d7a94" stroke-width="0.3"/><circle cx="37.9" cy="106.4" r="0.83" fill="#b2d8f5" stroke="#6e8597" stroke-width="0.3"/><circle cx="42.7" cy="102.9" r="1.27" fill="#b2d8f5" stroke="#6e8597" stroke-width="0.3"/><circle cx="52.9" cy="98.6" r="0.94" fill="#b2d8f5" stroke="#6e8597" stroke-width="0.3"/><circle cx="115.4" cy="76.0" r="0.89" fill="#f2b9d4" stroke="#9f7a8b" stroke-width="0.4"/><circle cx="134.1" cy="74.8" r="0.94" fill="#f2b9d4" stroke="#9f7a8b" stroke-width="0.4"/><circle cx="69.7" cy="91.4" r="1.39" fill="#6996da" stroke="#415d87" stroke-width="0.3"/><circle cx="132.2" cy="70.7" r="1.25" fill="#f2b9d4" stroke="#9f7a8b" stroke-width="0.4"/><circle cx="90.1" cy="86.4" r="1.02" fill="#f8be7d" stroke="#b2885a" stroke-width="0.3"/><circle cx="149.2" cy="66.2" r="1.25" fill="#f2b9d4" stroke="#9f7a8b" stroke-width="0.4"/><circle cx="129.8" cy="67.0" r="1.28" fill="#f2b9d4" stroke="#9f7a8b" stroke-width="0.4"/><circle cx="65.2" cy="94.8" r="1.25" fill="#b2d8f5" stroke="#6e8597" stroke-width="0.3"/><circle cx="120.3" cy="68.5" r="0.99" fill="#f2b9d4" stroke="#9f7a8b" stroke-width="0.4"/><circle cx="155.4" cy="76.4" r="0.95" fill="#fad2e4" stroke="#a58a96" stroke-width="0.4"/><circle cx="100.4" cy="97.2" r="1.09" fill="#facf98" stroke="#b4956d" stroke-width="0.3"/><circle cx="91.3" cy="73.7" r="1.50" fill="#f8be7d" stroke="#b2885a" stroke-width="0.3"/><circle cx="117.4" cy="92.1" r="1.49" fill="#f4af69" stroke="#af7e4b" stroke-width="0.3"/><circle cx="83.1" cy="72.5" r="1.09" fill="#facf98" stroke="#b4956d" stroke-width="0.3"/><circle cx="83.8" cy="96.1" r="1.12" fill="#b2d8f5" stroke="#6e8597" stroke-width="0.3"/><circle cx="93.0" cy="79.8" r="1.54" fill="#f4af69" stroke="#af7e4b" stroke-width="0.3"/><circle cx="71.5" cy="102.1" r="1.22" fill="#b2d8f5" stroke="#6e8597" stroke-width="0.3"/><circle cx="115.4" cy="73.2" r="1.05" fill="#facf98" stroke="#b4956d" stroke-width="0.3"/><circle cx="114.1" cy="65.1" r="1.00" fill="#fad2e4" stroke="#a58a96" stroke-width="0.4"/><circle cx="90.4" cy="85.4" r="1.48" fill="#f4af69" stroke="#af7e4b" stroke-width="0.3"/><circle cx="103.5" cy="94.7" r="1.02" fill="#f8be7d" stroke="#b2885a" stroke-width="0.3"/><circle cx="76.0" cy="94.6" r="1.34" fill="#b2d8f5" stroke="#6e8597" stroke-width="0.3"/><circle cx="50.4" cy="114.3" r="1.35" fill="#b2d8f5" stroke="#6e8597" stroke-width="0.3"/><circle cx="117.5" cy="67.1" r="0.90" fill="#e48cb9" stroke="#965c7a" stroke-width="0.4"/><circle cx="113.3" cy="94.2" r="1.40" fill="#f4af69" stroke="#af7e4b" stroke-width="0.3"/><circle cx="52.7" cy="118.4" r="0.91" fill="#b2d8f5" stroke="#6e8597" stroke-width="0.3"/><circle cx="43.5" cy="109.1" r="1.13" fill="#b2d8f5" stroke="#6e8597" stroke-width="0.3"/><circle cx="130.1" cy="75.4" r="1.24" fill="#f2b9d4" stroke="#9f7a8b" stroke-width="0.4"/><circle cx="102.6" cy="73.0" r="1.52" fill="#f8be7d" stroke="#b2885a" stroke-width="0.3"/><circle cx="60.0" cy="102.6" r="0.87" fill="#b2d8f5" stroke="#6e8597" stroke-width="0.3"/><circle cx="119.2" cy="84.8" r="1.56" fill="#f8be7d" stroke="#b2885a" stroke-width="0.3"/><circle cx="124.6" cy="85.5" r="1.08" fill="#fad2e4" stroke="#a58a96" stroke-width="0.4"/><circle cx="68.6" cy="98.2" r="0.98" fill="#b2d8f5" stroke="#6e8597" stroke-width="0.3"/><circle cx="55.5" cy="103.9" r="0.98" fill="#96c6f0" stroke="#5d7a94" stroke-width="0.3"/><circle cx="89.0" cy="102.5" r="1.32" fill="#f8be7d" stroke="#b2885a" stroke-width="0.3"/><circle cx="106.0" cy="92.5" r="1.06" fill="#f8be7d" stroke="#b2885a" stroke-width="0.3"/><circle cx="126.6" cy="65.9" r="1.00" fill="#f2b9d4" stroke="#9f7a8b" stroke-width="0.4"/><circle cx="128.1" cy="57.6" r="1.26" fill="#fad2e4" stroke="#a58a96" stroke-width="0.4"/><circle cx="53.2" cy="105.3" r="1.37" fill="#b2d8f5" stroke="#6e8597" stroke-width="0.3"/><circle cx="119.6" cy="54.5" r="0.90" fill="#e48cb9" stroke="#965c7a" stroke-width="0.4"/><circle cx="96.1" cy="78.1" r="1.42" fill="#f4af69" stroke="#af7e4b" stroke-width="0.3"/><circle cx="60.5" cy="114.7" r="1.25" fill="#b2d8f5" stroke="#6e8597" stroke-width="0.3"/><circle cx="99.1" cy="81.5" r="1.43" fill="#f8be7d" stroke="#b2885a" stroke-width="0.3"/><circle cx="106.9" cy="56.0" r="1.12" fill="#facf98" stroke="#b4956d" stroke-width="0.3"/><circle cx="127.3" cy="71.5" r="1.06" fill="#f2b9d4" stroke="#9f7a8b" stroke-width="0.4"/><circle cx="139.4" cy="67.2" r="1.07" fill="#f2b9d4" stroke="#9f7a8b" stroke-width="0.4"/><circle cx="103.2" cy="82.3" r="1.05" fill="#f8be7d" stroke="#b2885a" stroke-width="0.3"/><circle cx="132.3" cy="50.5" r="1.28" fill="#e48cb9" stroke="#965c7a" stroke-width="0.4"/><circle cx="96.5" cy="76.7" r="1.09" fill="#f8be7d" stroke="#b2885a" stroke-width="0.3"/><circle cx="78.3" cy="104.9" r="1.10" fill="#b2d8f5" stroke="#6e8597" stroke-width="0.3"/><circle cx="59.8" cy="110.9" r="1.16" fill="#6996da" stroke="#415d87" stroke-width="0.3"/><circle cx="139.0" cy="61.8" r="0.89" fill="#e48cb9" stroke="#965c7a" stroke-width="0.4"/><circle cx="74.9" cy="107.9" r="1.34" fill="#96c6f0" stroke="#5d7a94" stroke-width="0.3"/><circle cx="85.7" cy="75.1" r="1.24" fill="#f8be7d" stroke="#b2885a" stroke-width="0.3"/><circle cx="140.7" cy="64.0" r="1.05" fill="#f2b9d4" stroke="#9f7a8b" stroke-width="0.4"/><circle cx="131.0" cy="68.9" r="1.05" fill="#e48cb9" stroke="#965c7a" stroke-width="0.4"/><circle cx="101.8" cy="66.6" r="1.16" fill="#f4af69" stroke="#af7e4b" stroke-width="0.3"/><circle cx="58.5" cy="103.9" r="1.25" fill="#b2d8f5" stroke="#6e8597" stroke-width="0.3"/><circle cx="103.2" cy="73.0" r="1.44" fill="#f8be7d" stroke="#b2885a" stroke-width="0.3"/><circle cx="111.3" cy="79.4" r="1.25" fill="#facf98" stroke="#b4956d" stroke-width="0.3"/><circle cx="109.6" cy="79.4" r="1.38" fill="#facf98" stroke="#b4956d" stroke-width="0.3"/><circle cx="61.3" cy="105.3" r="0.85" fill="#b2d8f5" stroke="#6e8597" stroke-width="0.3"/><circle cx="61.8" cy="105.8" r="1.04" fill="#6996da" stroke="#415d87" stroke-width="0.3"/><circle cx="140.4" cy="68.2" r="1.05" fill="#f2b9d4" stroke="#9f7a8b" stroke-width="0.4"/><circle cx="116.4" cy="85.4" r="1.05" fill="#facf98" stroke="#b4956d" stroke-width="0.3"/><circle cx="55.6" cy="104.9" r="1.19" fill="#96c6f0" stroke="#5d7a94" stroke-width="0.3"/><circle cx="134.2" cy="50.3" r="1.01" fill="#fad2e4" stroke="#a58a96" stroke-width="0.4"/><circle cx="125.7" cy="80.6" r="1.48" fill="#f4af69" stroke="#af7e4b" stroke-width="0.3"/><circle cx="100.1" cy="89.2" r="1.64" fill="#facf98" stroke="#b4956d" stroke-width="0.3"/><circle cx="126.7" cy="91.8" r="1.06" fill="#f8be7d" stroke="#b2885a" stroke-width="0.3"/><circle cx="54.8" cy="109.1" r="0.95" fill="#b2d8f5" stroke="#6e8597" stroke-width="0.3"/><circle cx="107.6" cy="86.7" r="1.07" fill="#f4af69" stroke="#af7e4b" stroke-width="0.3"/><circle cx="94.2" cy="79.3" r="1.38" fill="#f4af69" stroke="#af7e4b" stroke-width="0.3"/><circle cx="70.8" cy="88.1" r="0.98" fill="#6996da" stroke="#415d87" stroke-width="0.3"/><circle cx="100.8" cy="75.8" r="1.20" fill="#f8be7d" stroke="#b2885a" stroke-width="0.3"/><circle cx="138.4" cy="68.3" r="1.13" fill="#fad2e4" stroke="#a58a96" stroke-width="0.4"/><circle cx="113.6" cy="70.3" r="1.23" fill="#f2b9d4" stroke="#9f7a8b" stroke-width="0.4"/><circle cx="110.6" cy="87.4" r="1.13" fill="#facf98" stroke="#b4956d" stroke-width="0.3"/><circle cx="105.4" cy="82.8" r="1.00" fill="#f8be7d" stroke="#b2885a" stroke-width="0.3"/><circle cx="151.0" cy="76.9" r="0.97" fill="#f2b9d4" stroke="#9f7a8b" stroke-width="0.4"/><circle cx="102.0" cy="80.4" r="1.44" fill="#f8be7d" stroke="#b2885a" stroke-width="0.3"/><circle cx="89.8" cy="77.5" r="1.05" fill="#f4af69" stroke="#af7e4b" stroke-width="0.3"/><circle cx="139.9" cy="65.0" r="1.12" fill="#fad2e4" stroke="#a58a96" stroke-width="0.4"/><circle cx="151.7" cy="85.0" r="1.15" fill="#fad2e4" stroke="#a58a96" stroke-width="0.4"/><circle cx="109.9" cy="89.4" r="1.42" fill="#f8be7d" stroke="#b2885a" stroke-width="0.3"/><circle cx="133.5" cy="86.7" r="1.17" fill="#f2b9d4" stroke="#9f7a8b" stroke-width="0.4"/><circle cx="135.8" cy="89.9" r="0.82" fill="#f2b9d4" stroke="#9f7a8b" stroke-width="0.4"/><circle cx="85.3" cy="88.5" r="1.24" fill="#f4af69" stroke="#af7e4b" stroke-width="0.3"/><circle cx="117.9" cy="69.1" r="1.13" fill="#f2b9d4" stroke="#9f7a8b" stroke-width="0.4"/><circle cx="96.8" cy="100.0" r="1.38" fill="#f4af69" stroke="#af7e4b" stroke-width="0.3"/><circle cx="131.1" cy="88.0" r="1.07" fill="#f2b9d4" stroke="#9f7a8b" stroke-width="0.4"/><circle cx="133.3" cy="51.0" r="0.98" fill="#e48cb9" stroke="#965c7a" stroke-width="0.4"/><circle cx="123.7" cy="62.3" r="0.81" fill="#f2b9d4" stroke="#9f7a8b" stroke-width="0.4"/><circle cx="110.3" cy="66.5" r="1.29" fill="#facf98" stroke="#b4956d" stroke-width="0.3"/><circle cx="118.5" cy="76.1" r="1.65" fill="#f4af69" stroke="#af7e4b" stroke-width="0.3"/><circle cx="91.2" cy="71.2" r="1.49" fill="#f8be7d" stroke="#b2885a" stroke-width="0.3"/><circle cx="107.9" cy="80.2" r="1.26" fill="#f8be7d" stroke="#b2885a" stroke-width="0.3"/><circle cx="103.1" cy="74.4" r="1.01" fill="#f4af69" stroke="#af7e4b" stroke-width="0.3"/><circle cx="121.9" cy="88.9" r="1.13" fill="#facf98" stroke="#b4956d" stroke-width="0.3"/><circle cx="115.5" cy="79.9" r="1.23" fill="#f2b9d4" stroke="#9f7a8b" stroke-width="0.4"/><circle cx="87.6" cy="93.0" r="1.54" fill="#f4af69" stroke="#af7e4b" stroke-width="0.3"/><circle cx="143.8" cy="75.5" r="0.88" fill="#fad2e4" stroke="#a58a96" stroke-width="0.4"/><circle cx="102.9" cy="57.4" r="1.06" fill="#f2b9d4" stroke="#9f7a8b" stroke-width="0.4"/><circle cx="111.8" cy="62.8" r="1.12" fill="#e48cb9" stroke="#965c7a" stroke-width="0.4"/><circle cx="119.3" cy="72.6" r="1.38" fill="#f8be7d" stroke="#b2885a" stroke-width="0.3"/><circle cx="130.5" cy="77.7" r="0.95" fill="#fad2e4" stroke="#a58a96" stroke-width="0.4"/><circle cx="106.2" cy="71.1" r="1.55" fill="#facf98" stroke="#b4956d" stroke-width="0.3"/><circle cx="119.9" cy="83.7" r="1.05" fill="#f8be7d" stroke="#b2885a" stroke-width="0.3"/><circle cx="100.0" cy="77.7" r="1.26" fill="#facf98" stroke="#b4956d" stroke-width="0.3"/><circle cx="128.2" cy="61.5" r="1.01" fill="#f2b9d4" stroke="#9f7a8b" stroke-width="0.4"/><circle cx="118.6" cy="76.9" r="1.09" fill="#f8be7d" stroke="#b2885a" stroke-width="0.3"/><circle cx="128.0" cy="84.7" r="1.25" fill="#f8be7d" stroke="#b2885a" stroke-width="0.3"/><circle cx="95.6" cy="101.2" r="1.38" fill="#f8be7d" stroke="#b2885a" stroke-width="0.3"/><circle cx="111.4" cy="86.2" r="1.05" fill="#f8be7d" stroke="#b2885a" stroke-width="0.3"/><circle cx="116.3" cy="65.4" r="0.91" fill="#f2b9d4" stroke="#9f7a8b" stroke-width="0.4"/><circle cx="113.9" cy="72.6" r="1.23" fill="#f8be7d" stroke="#b2885a" stroke-width="0.3"/><circle cx="110.0" cy="85.3" r="1.45" fill="#f4af69" stroke="#af7e4b" stroke-width="0.3"/><circle cx="112.8" cy="73.1" r="1.46" fill="#f8be7d" stroke="#b2885a" stroke-width="0.3"/><circle cx="88.1" cy="87.1" r="1.15" fill="#facf98" stroke="#b4956d" stroke-width="0.3"/><circle cx="141.4" cy="56.7" r="1.28" fill="#e48cb9" stroke="#965c7a" stroke-width="0.4"/><circle cx="96.6" cy="71.2" r="1.57" fill="#f4af69" stroke="#af7e4b" stroke-width="0.3"/><circle cx="100.5" cy="90.1" r="1.34" fill="#f8be7d" stroke="#b2885a" stroke-width="0.3"/><circle cx="123.4" cy="88.5" r="1.21" fill="#f4af69" stroke="#af7e4b" stroke-width="0.3"/><circle cx="142.4" cy="77.1" r="1.25" fill="#fad2e4" stroke="#a58a96" stroke-width="0.4"/><circle cx="145.9" cy="67.5" r="1.22" fill="#fad2e4" stroke="#a58a96" stroke-width="0.4"/><circle cx="138.9" cy="78.3" r="1.27" fill="#f2b9d4" stroke="#9f7a8b" stroke-width="0.4"/><circle cx="110.3" cy="66.6" r="1.18" fill="#f4af69" stroke="#af7e4b" stroke-width="0.3"/><circle cx="129.5" cy="60.2" r="0.84" fill="#fad2e4" stroke="#a58a96" stroke-width="0.4"/><circle cx="141.6" cy="53.7" r="1.18" fill="#fad2e4" stroke="#a58a96" stroke-width="0.4"/><circle cx="95.4" cy="80.4" r="1.30" fill="#f8be7d" stroke="#b2885a" stroke-width="0.3"/><circle cx="100.9" cy="59.1" r="1.29" fill="#f2b9d4" stroke="#9f7a8b" stroke-width="0.4"/><circle cx="100.7" cy="77.7" r="1.36" fill="#f8be7d" stroke="#b2885a" stroke-width="0.3"/><circle cx="140.1" cy="59.7" r="0.82" fill="#f2b9d4" stroke="#9f7a8b" stroke-width="0.4"/><circle cx="142.4" cy="82.3" r="0.85" fill="#fad2e4" stroke="#a58a96" stroke-width="0.4"/><circle cx="123.0" cy="50.0" r="1.12" fill="#fad2e4" stroke="#a58a96" stroke-width="0.4"/><circle cx="92.6" cy="68.8" r="1.65" fill="#f8be7d" stroke="#b2885a" stroke-width="0.3"/><circle cx="142.9" cy="60.3" r="0.98" fill="#fad2e4" stroke="#a58a96" stroke-width="0.4"/><circle cx="111.9" cy="54.3" r="1.14" fill="#f2b9d4" stroke="#9f7a8b" stroke-width="0.4"/><circle cx="92.5" cy="91.4" r="1.18" fill="#f8be7d" stroke="#b2885a" stroke-width="0.3"/><circle cx="95.7" cy="84.5" r="1.44" fill="#facf98" stroke="#b4956d" stroke-width="0.3"/><circle cx="112.0" cy="75.9" r="1.26" fill="#facf98" stroke="#b4956d" stroke-width="0.3"/><circle cx="86.6" cy="95.3" r="1.61" fill="#f8be7d" stroke="#b2885a" stroke-width="0.3"/><circle cx="108.5" cy="74.1" r="1.16" fill="#f8be7d" stroke="#b2885a" stroke-width="0.3"/><circle cx="144.3" cy="48.8" r="1.19" fill="#f2b9d4" stroke="#9f7a8b" stroke-width="0.4"/><circle cx="94.5" cy="76.9" r="1.55" fill="#f8be7d" stroke="#b2885a" stroke-width="0.3"/><circle cx="117.4" cy="69.0" r="1.65" fill="#facf98" stroke="#b4956d" stroke-width="0.3"/><circle cx="103.6" cy="87.3" r="1.21" fill="#f8be7d" stroke="#b2885a" stroke-width="0.3"/><circle cx="90.8" cy="71.8" r="1.53" fill="#f4af69" stroke="#af7e4b" stroke-width="0.3"/><circle cx="120.6" cy="56.2" r="1.23" fill="#fad2e4" stroke="#a58a96" stroke-width="0.4"/><circle cx="90.6" cy="92.1" r="1.50" fill="#facf98" stroke="#b4956d" stroke-width="0.3"/><circle cx="146.5" cy="84.7" r="1.01" fill="#f2b9d4" stroke="#9f7a8b" stroke-width="0.4"/><circle cx="99.7" cy="100.1" r="1.53" fill="#facf98" stroke="#b4956d" stroke-width="0.3"/><circle cx="148.0" cy="81.3" r="0.88" fill="#e48cb9" stroke="#965c7a" stroke-width="0.4"/><circle cx="108.0" cy="97.3" r="1.50" fill="#facf98" stroke="#b4956d" stroke-width="0.3"/><circle cx="131.4" cy="83.0" r="0.88" fill="#f2b9d4" stroke="#9f7a8b" stroke-width="0.4"/><circle cx="134.1" cy="74.4" r="0.83" fill="#f2b9d4" stroke="#9f7a8b" stroke-width="0.4"/><circle cx="114.6" cy="81.7" r="1.39" fill="#facf98" stroke="#b4956d" stroke-width="0.3"/><circle cx="81.1" cy="97.7" r="1.00" fill="#f8be7d" stroke="#b2885a" stroke-width="0.3"/><circle cx="124.6" cy="62.6" r="0.84" fill="#e48cb9" stroke="#965c7a" stroke-width="0.4"/><circle cx="112.5" cy="75.0" r="1.52" fill="#f8be7d" stroke="#b2885a" stroke-width="0.3"/><circle cx="142.5" cy="44.8" r="1.17" fill="#fad2e4" stroke="#a58a96" stroke-width="0.4"/><circle cx="108.9" cy="94.0" r="1.21" fill="#f4af69" stroke="#af7e4b" stroke-width="0.3"/><circle cx="135.7" cy="67.7" r="0.84" fill="#f2b9d4" stroke="#9f7a8b" stroke-width="0.4"/><circle cx="138.4" cy="78.2" r="0.86" fill="#f2b9d4" stroke="#9f7a8b" stroke-width="0.4"/><circle cx="105.4" cy="78.3" r="1.42" fill="#f4af69" stroke="#af7e4b" stroke-width="0.3"/><circle cx="137.7" cy="67.8" r="0.93" fill="#fad2e4" stroke="#a58a96" stroke-width="0.4"/><circle cx="97.3" cy="74.0" r="1.37" fill="#facf98" stroke="#b4956d" stroke-width="0.3"/><circle cx="115.7" cy="92.4" r="1.14" fill="#facf98" stroke="#b4956d" stroke-width="0.3"/><circle cx="118.3" cy="90.6" r="1.46" fill="#f4af69" stroke="#af7e4b" stroke-width="0.3"/><circle cx="101.8" cy="82.7" r="1.35" fill="#f4af69" stroke="#af7e4b" stroke-width="0.3"/><circle cx="121.1" cy="64.8" r="1.53" fill="#f8be7d" stroke="#b2885a" stroke-width="0.3"/><circle cx="100.8" cy="69.4" r="1.04" fill="#facf98" stroke="#b4956d" stroke-width="0.3"/><circle cx="143.1" cy="75.3" r="0.84" fill="#f2b9d4" stroke="#9f7a8b" stroke-width="0.4"/><circle cx="115.4" cy="75.1" r="1.10" fill="#f4af69" stroke="#af7e4b" stroke-width="0.3"/><circle cx="147.3" cy="64.5" r="1.14" fill="#fad2e4" stroke="#a58a96" stroke-width="0.4"/><circle cx="142.0" cy="82.4" r="0.81" fill="#f2b9d4" stroke="#9f7a8b" stroke-width="0.4"/><circle cx="90.1" cy="78.9" r="1.47" fill="#f8be7d" stroke="#b2885a" stroke-width="0.3"/><circle cx="118.9" cy="91.4" r="1.19" fill="#facf98" stroke="#b4956d" stroke-width="0.3"/><circle cx="149.9" cy="67.7" r="1.22" fill="#f2b9d4" stroke="#9f7a8b" stroke-width="0.4"/><circle cx="117.0" cy="64.2" r="1.13" fill="#f2b9d4" stroke="#9f7a8b" stroke-width="0.4"/><circle cx="83.3" cy="93.6" r="1.12" fill="#f8be7d" stroke="#b2885a" stroke-width="0.3"/><circle cx="87.3" cy="71.8" r="1.00" fill="#f4af69" stroke="#af7e4b" stroke-width="0.3"/><circle cx="84.8" cy="82.4" r="1.47" fill="#facf98" stroke="#b4956d" stroke-width="0.3"/><circle cx="115.8" cy="60.1" r="1.45" fill="#facf98" stroke="#b4956d" stroke-width="0.3"/><circle cx="121.6" cy="62.2" r="1.11" fill="#e48cb9" stroke="#965c7a" stroke-width="0.4"/><circle cx="135.3" cy="88.4" r="1.14" fill="#f2b9d4" stroke="#9f7a8b" stroke-width="0.4"/><circle cx="92.1" cy="92.9" r="1.23" fill="#facf98" stroke="#b4956d" stroke-width="0.3"/><circle cx="134.1" cy="79.8" r="0.91" fill="#f2b9d4" stroke="#9f7a8b" stroke-width="0.4"/><circle cx="143.1" cy="81.4" r="0.82" fill="#f2b9d4" stroke="#9f7a8b" stroke-width="0.4"/><circle cx="106.7" cy="65.8" r="1.32" fill="#f8be7d" stroke="#b2885a" stroke-width="0.3"/><circle cx="148.6" cy="86.5" r="1.23" fill="#fad2e4" stroke="#a58a96" stroke-width="0.4"/><circle cx="120.2" cy="79.5" r="0.89" fill="#f2b9d4" stroke="#9f7a8b" stroke-width="0.4"/><circle cx="122.6" cy="74.1" r="1.05" fill="#f2b9d4" stroke="#9f7a8b" stroke-width="0.4"/><circle cx="115.1" cy="81.9" r="1.61" fill="#f8be7d" stroke="#b2885a" stroke-width="0.3"/><circle cx="131.5" cy="55.1" r="1.10" fill="#f2b9d4" stroke="#9f7a8b" stroke-width="0.4"/><circle cx="122.0" cy="87.6" r="1.00" fill="#f2b9d4" stroke="#9f7a8b" stroke-width="0.4"/><circle cx="105.4" cy="96.6" r="1.59" fill="#facf98" stroke="#b4956d" stroke-width="0.3"/><circle cx="113.6" cy="71.4" r="0.95" fill="#f2b9d4" stroke="#9f7a8b" stroke-width="0.4"/><circle cx="149.9" cy="63.3" r="1.15" fill="#fad2e4" stroke="#a58a96" stroke-width="0.4"/><circle cx="128.8" cy="79.7" r="1.17" fill="#fad2e4" stroke="#a58a96" stroke-width="0.4"/><circle cx="100.0" cy="75.5" r="1.43" fill="#facf98" stroke="#b4956d" stroke-width="0.3"/><circle cx="117.8" cy="57.1" r="1.29" fill="#f2b9d4" stroke="#9f7a8b" stroke-width="0.4"/><circle cx="118.1" cy="56.5" r="1.13" fill="#e48cb9" stroke="#965c7a" stroke-width="0.4"/><circle cx="99.5" cy="77.5" r="1.46" fill="#facf98" stroke="#b4956d" stroke-width="0.3"/><circle cx="84.6" cy="88.8" r="1.20" fill="#facf98" stroke="#b4956d" stroke-width="0.3"/><circle cx="115.7" cy="65.9" r="0.87" fill="#e48cb9" stroke="#965c7a" stroke-width="0.4"/><circle cx="112.9" cy="73.9" r="0.81" fill="#e48cb9" stroke="#965c7a" stroke-width="0.4"/><circle cx="133.9" cy="83.5" r="0.91" fill="#fad2e4" stroke="#a58a96" stroke-width="0.4"/><circle cx="101.2" cy="87.0" r="1.62" fill="#facf98" stroke="#b4956d" stroke-width="0.3"/><circle cx="121.1" cy="65.3" r="1.05" fill="#f2b9d4" stroke="#9f7a8b" stroke-width="0.4"/><circle cx="153.1" cy="71.4" r="1.15" fill="#e48cb9" stroke="#965c7a" stroke-width="0.4"/><circle cx="135.2" cy="65.4" r="1.26" fill="#fad2e4" stroke="#a58a96" stroke-width="0.4"/><circle cx="94.8" cy="86.5" r="1.26" fill="#f8be7d" stroke="#b2885a" stroke-width="0.3"/><circle cx="143.7" cy="66.8" r="1.23" fill="#e48cb9" stroke="#965c7a" stroke-width="0.4"/><circle cx="132.2" cy="51.2" r="0.90" fill="#f2b9d4" stroke="#9f7a8b" stroke-width="0.4"/><circle cx="145.9" cy="84.6" r="1.13" fill="#f2b9d4" stroke="#9f7a8b" stroke-width="0.4"/><circle cx="116.7" cy="63.7" r="1.44" fill="#f4af69" stroke="#af7e4b" stroke-width="0.3"/><circle cx="104.1" cy="68.1" r="1.23" fill="#e48cb9" stroke="#965c7a" stroke-width="0.4"/><circle cx="90.0" cy="102.3" r="1.58" fill="#facf98" stroke="#b4956d" stroke-width="0.3"/><circle cx="81.4" cy="93.9" r="1.45" fill="#f8be7d" stroke="#b2885a" stroke-width="0.3"/><circle cx="143.8" cy="54.3" r="1.12" fill="#e48cb9" stroke="#965c7a" stroke-width="0.4"/><circle cx="84.9" cy="85.9" r="1.01" fill="#f8be7d" stroke="#b2885a" stroke-width="0.3"/><circle cx="128.4" cy="58.3" r="1.00" fill="#f2b9d4" stroke="#9f7a8b" stroke-width="0.4"/><circle cx="106.9" cy="63.9" r="1.59" fill="#f4af69" stroke="#af7e4b" stroke-width="0.3"/><circle cx="121.3" cy="90.1" r="1.00" fill="#f8be7d" stroke="#b2885a" stroke-width="0.3"/><circle cx="102.6" cy="61.4" r="1.09" fill="#fad2e4" stroke="#a58a96" stroke-width="0.4"/><circle cx="88.9" cy="79.5" r="1.47" fill="#f8be7d" stroke="#b2885a" stroke-width="0.3"/><circle cx="101.5" cy="72.1" r="1.21" fill="#f8be7d" stroke="#b2885a" stroke-width="0.3"/><circle cx="99.0" cy="78.1" r="1.09" fill="#f4af69" stroke="#af7e4b" stroke-width="0.3"/><circle cx="151.0" cy="69.6" r="1.22" fill="#f2b9d4" stroke="#9f7a8b" stroke-width="0.4"/><circle cx="110.5" cy="71.5" r="1.43" fill="#f8be7d" stroke="#b2885a" stroke-width="0.3"/><circle cx="137.2" cy="60.3" r="1.09" fill="#f2b9d4" stroke="#9f7a8b" stroke-width="0.4"/><circle cx="149.6" cy="77.6" r="1.12" fill="#e48cb9" stroke="#965c7a" stroke-width="0.4"/><circle cx="137.2" cy="82.4" r="1.06" fill="#e48cb9" stroke="#965c7a" stroke-width="0.4"/><circle cx="111.4" cy="62.2" r="0.86" fill="#fad2e4" stroke="#a58a96" stroke-width="0.4"/><circle cx="113.6" cy="67.4" r="1.09" fill="#facf98" stroke="#b4956d" stroke-width="0.3"/><circle cx="142.0" cy="71.4" r="0.86" fill="#f2b9d4" stroke="#9f7a8b" stroke-width="0.4"/><circle cx="111.4" cy="66.9" r="1.56" fill="#f8be7d" stroke="#b2885a" stroke-width="0.3"/><circle cx="106.0" cy="95.9" r="1.64" fill="#f8be7d" stroke="#b2885a" stroke-width="0.3"/><circle cx="126.7" cy="79.3" r="1.27" fill="#e48cb9" stroke="#965c7a" stroke-width="0.4"/><circle cx="105.4" cy="87.1" r="1.32" fill="#f8be7d" stroke="#b2885a" stroke-width="0.3"/><circle cx="99.6" cy="70.6" r="1.08" fill="#f4af69" stroke="#af7e4b" stroke-width="0.3"/><circle cx="85.6" cy="80.1" r="1.38" fill="#f8be7d" stroke="#b2885a" stroke-width="0.3"/><circle cx="111.9" cy="72.4" r="1.18" fill="#f2b9d4" stroke="#9f7a8b" stroke-width="0.4"/><circle cx="91.4" cy="74.7" r="1.17" fill="#f8be7d" stroke="#b2885a" stroke-width="0.3"/><circle cx="129.7" cy="87.9" r="1.05" fill="#facf98" stroke="#b4956d" stroke-width="0.3"/><circle cx="121.8" cy="80.7" r="1.05" fill="#f2b9d4" stroke="#9f7a8b" stroke-width="0.4"/><circle cx="86.1" cy="85.0" r="1.48" fill="#facf98" stroke="#b4956d" stroke-width="0.3"/><circle cx="122.7" cy="53.7" r="1.22" fill="#fad2e4" stroke="#a58a96" stroke-width="0.4"/><circle cx="123.8" cy="62.8" r="0.93" fill="#f2b9d4" stroke="#9f7a8b" stroke-width="0.4"/><circle cx="136.4" cy="83.0" r="0.82" fill="#e48cb9" stroke="#965c7a" stroke-width="0.4"/><circle cx="136.6" cy="78.8" r="1.08" fill="#e48cb9" stroke="#965c7a" stroke-width="0.4"/><circle cx="128.1" cy="74.7" r="1.27" fill="#f2b9d4" stroke="#9f7a8b" stroke-width="0.4"/><circle cx="77.9" cy="78.9" r="1.24" fill="#facf98" stroke="#b4956d" stroke-width="0.3"/><circle cx="91.2" cy="93.1" r="1.45" fill="#f8be7d" stroke="#b2885a" stroke-width="0.3"/><circle cx="78.6" cy="75.9" r="1.52" fill="#f8be7d" stroke="#b2885a" stroke-width="0.3"/><circle cx="140.0" cy="89.5" r="1.06" fill="#f2b9d4" stroke="#9f7a8b" stroke-width="0.4"/><circle cx="119.4" cy="94.6" r="1.22" fill="#facf98" stroke="#b4956d" stroke-width="0.3"/><circle cx="89.0" cy="79.2" r="1.02" fill="#f8be7d" stroke="#b2885a" stroke-width="0.3"/><circle cx="137.1" cy="70.5" r="1.19" fill="#f2b9d4" stroke="#9f7a8b" stroke-width="0.4"/><circle cx="90.1" cy="103.5" r="1.23" fill="#f4af69" stroke="#af7e4b" stroke-width="0.3"/><circle cx="146.1" cy="68.0" r="1.24" fill="#e48cb9" stroke="#965c7a" stroke-width="0.4"/><circle cx="104.7" cy="80.8" r="1.45" fill="#facf98" stroke="#b4956d" stroke-width="0.3"/><circle cx="139.2" cy="52.5" r="1.18" fill="#e48cb9" stroke="#965c7a" stroke-width="0.4"/><circle cx="118.7" cy="72.7" r="0.97" fill="#e48cb9" stroke="#965c7a" stroke-width="0.4"/><circle cx="97.4" cy="74.0" r="1.61" fill="#f8be7d" stroke="#b2885a" stroke-width="0.3"/><circle cx="108.8" cy="60.6" r="0.83" fill="#f2b9d4" stroke="#9f7a8b" stroke-width="0.4"/><circle cx="122.6" cy="60.9" r="1.00" fill="#f2b9d4" stroke="#9f7a8b" stroke-width="0.4"/><circle cx="107.8" cy="92.6" r="1.43" fill="#facf98" stroke="#b4956d" stroke-width="0.3"/><circle cx="133.9" cy="79.8" r="0.95" fill="#f2b9d4" stroke="#9f7a8b" stroke-width="0.4"/><circle cx="119.1" cy="81.6" r="1.07" fill="#facf98" stroke="#b4956d" stroke-width="0.3"/><circle cx="116.9" cy="71.0" r="1.16" fill="#facf98" stroke="#b4956d" stroke-width="0.3"/><circle cx="109.0" cy="64.1" r="1.42" fill="#f4af69" stroke="#af7e4b" stroke-width="0.3"/><circle cx="126.8" cy="90.6" r="0.98" fill="#fad2e4" stroke="#a58a96" stroke-width="0.4"/><circle cx="134.9" cy="89.1" r="0.84" fill="#e48cb9" stroke="#965c7a" stroke-width="0.4"/><circle cx="99.6" cy="81.6" r="1.35" fill="#f8be7d" stroke="#b2885a" stroke-width="0.3"/><circle cx="149.9" cy="80.2" r="0.99" fill="#f2b9d4" stroke="#9f7a8b" stroke-width="0.4"/><circle cx="127.4" cy="92.0" r="1.57" fill="#f4af69" stroke="#af7e4b" stroke-width="0.3"/><circle cx="136.5" cy="77.7" r="0.98" fill="#e48cb9" stroke="#965c7a" stroke-width="0.4"/><circle cx="124.4" cy="70.7" r="0.91" fill="#fad2e4" stroke="#a58a96" stroke-width="0.4"/><circle cx="88.1" cy="104.1" r="1.08" fill="#f8be7d" stroke="#b2885a" stroke-width="0.3"/><circle cx="86.5" cy="94.6" r="1.53" fill="#facf98" stroke="#b4956d" stroke-width="0.3"/><circle cx="131.5" cy="47.9" r="1.22" fill="#e48cb9" stroke="#965c7a" stroke-width="0.4"/><circle cx="75.5" cy="91.6" r="1.40" fill="#f4af69" stroke="#af7e4b" stroke-width="0.3"/><circle cx="103.3" cy="84.6" r="1.39" fill="#f8be7d" stroke="#b2885a" stroke-width="0.3"/><circle cx="142.4" cy="80.1" r="1.09" fill="#f2b9d4" stroke="#9f7a8b" stroke-width="0.4"/><circle cx="141.1" cy="61.6" r="0.86" fill="#fad2e4" stroke="#a58a96" stroke-width="0.4"/><circle cx="120.0" cy="92.2" r="1.28" fill="#facf98" stroke="#b4956d" stroke-width="0.3"/><circle cx="126.1" cy="73.2" r="1.25" fill="#f2b9d4" stroke="#9f7a8b" stroke-width="0.4"/><circle cx="84.3" cy="73.6" r="1.05" fill="#f8be7d" stroke="#b2885a" stroke-width="0.3"/><circle cx="144.0" cy="70.6" r="0.88" fill="#f2b9d4" stroke="#9f7a8b" stroke-width="0.4"/><circle cx="113.7" cy="79.4" r="1.22" fill="#f8be7d" stroke="#b2885a" stroke-width="0.3"/><circle cx="128.8" cy="70.4" r="1.15" fill="#f2b9d4" stroke="#9f7a8b" stroke-width="0.4"/><circle cx="131.0" cy="65.3" r="0.99" fill="#f2b9d4" stroke="#9f7a8b" stroke-width="0.4"/><circle cx="114.2" cy="53.6" r="0.82" fill="#f2b9d4" stroke="#9f7a8b" stroke-width="0.4"/><circle cx="136.7" cy="80.7" r="1.11" fill="#e48cb9" stroke="#965c7a" stroke-width="0.4"/><circle cx="114.6" cy="87.3" r="1.56" fill="#f8be7d" stroke="#b2885a" stroke-width="0.3"/><circle cx="147.0" cy="84.7" r="0.88" fill="#e48cb9" stroke="#965c7a" stroke-width="0.4"/><circle cx="129.7" cy="62.6" r="0.94" fill="#f2b9d4" stroke="#9f7a8b" stroke-width="0.4"/><circle cx="118.4" cy="92.6" r="1.46" fill="#f4af69" stroke="#af7e4b" stroke-width="0.3"/><circle cx="94.5" cy="94.0" r="1.53" fill="#facf98" stroke="#b4956d" stroke-width="0.3"/><circle cx="119.1" cy="63.2" r="1.02" fill="#f2b9d4" stroke="#9f7a8b" stroke-width="0.4"/><circle cx="116.3" cy="72.5" r="1.07" fill="#facf98" stroke="#b4956d" stroke-width="0.3"/><circle cx="124.3" cy="87.6" r="1.63" fill="#f4af69" stroke="#af7e4b" stroke-width="0.3"/><circle cx="120.9" cy="95.5" r="1.44" fill="#facf98" stroke="#b4956d" stroke-width="0.3"/><circle cx="122.3" cy="83.6" r="1.38" fill="#f8be7d" stroke="#b2885a" stroke-width="0.3"/><circle cx="91.5" cy="90.8" r="1.34" fill="#f8be7d" stroke="#b2885a" stroke-width="0.3"/><circle cx="101.3" cy="81.7" r="1.14" fill="#f4af69" stroke="#af7e4b" stroke-width="0.3"/><circle cx="92.4" cy="82.2" r="1.08" fill="#f4af69" stroke="#af7e4b" stroke-width="0.3"/><circle cx="123.4" cy="79.3" r="0.92" fill="#f2b9d4" stroke="#9f7a8b" stroke-width="0.4"/><circle cx="138.8" cy="60.4" r="1.17" fill="#f2b9d4" stroke="#9f7a8b" stroke-width="0.4"/><circle cx="130.1" cy="72.1" r="1.17" fill="#f2b9d4" stroke="#9f7a8b" stroke-width="0.4"/><circle cx="118.9" cy="81.1" r="1.15" fill="#f8be7d" stroke="#b2885a" stroke-width="0.3"/><circle cx="107.9" cy="75.8" r="1.05" fill="#facf98" stroke="#b4956d" stroke-width="0.3"/><circle cx="89.4" cy="76.2" r="1.15" fill="#f4af69" stroke="#af7e4b" stroke-width="0.3"/><circle cx="104.4" cy="96.4" r="1.26" fill="#f8be7d" stroke="#b2885a" stroke-width="0.3"/><circle cx="141.6" cy="54.7" r="0.88" fill="#e48cb9" stroke="#965c7a" stroke-width="0.4"/><circle cx="99.5" cy="93.0" r="1.60" fill="#f4af69" stroke="#af7e4b" stroke-width="0.3"/><circle cx="106.4" cy="92.6" r="1.33" fill="#facf98" stroke="#b4956d" stroke-width="0.3"/><circle cx="110.2" cy="87.1" r="1.17" fill="#facf98" stroke="#b4956d" stroke-width="0.3"/><circle cx="127.3" cy="91.0" r="1.61" fill="#f8be7d" stroke="#b2885a" stroke-width="0.3"/><circle cx="123.5" cy="71.4" r="1.50" fill="#f8be7d" stroke="#b2885a" stroke-width="0.3"/><circle cx="115.4" cy="62.9" r="0.90" fill="#f2b9d4" stroke="#9f7a8b" stroke-width="0.4"/><circle cx="86.8" cy="84.2" r="1.19" fill="#f8be7d" stroke="#b2885a" stroke-width="0.3"/><circle cx="111.0" cy="76.6" r="1.64" fill="#f8be7d" stroke="#b2885a" stroke-width="0.3"/><circle cx="137.8" cy="69.8" r="0.89" fill="#e48cb9" stroke="#965c7a" stroke-width="0.4"/><circle cx="135.2" cy="56.5" r="1.04" fill="#fad2e4" stroke="#a58a96" stroke-width="0.4"/><circle cx="132.0" cy="80.7" r="0.81" fill="#f2b9d4" stroke="#9f7a8b" stroke-width="0.4"/><circle cx="142.8" cy="87.4" r="1.11" fill="#f2b9d4" stroke="#9f7a8b" stroke-width="0.4"/><circle cx="133.5" cy="71.5" r="1.01" fill="#f2b9d4" stroke="#9f7a8b" stroke-width="0.4"/><circle cx="128.1" cy="71.5" r="1.12" fill="#fad2e4" stroke="#a58a96" stroke-width="0.4"/><circle cx="78.1" cy="87.5" r="1.14" fill="#f4af69" stroke="#af7e4b" stroke-width="0.3"/><circle cx="85.1" cy="86.8" r="1.57" fill="#f8be7d" stroke="#b2885a" stroke-width="0.3"/><circle cx="98.7" cy="82.9" r="1.44" fill="#f8be7d" stroke="#b2885a" stroke-width="0.3"/><circle cx="99.4" cy="73.8" r="1.63" fill="#f4af69" stroke="#af7e4b" stroke-width="0.3"/><circle cx="124.2" cy="82.0" r="1.51" fill="#facf98" stroke="#b4956d" stroke-width="0.3"/><circle cx="120.6" cy="76.1" r="1.61" fill="#facf98" stroke="#b4956d" stroke-width="0.3"/><circle cx="130.1" cy="89.2" r="1.56" fill="#f8be7d" stroke="#b2885a" stroke-width="0.3"/><circle cx="89.2" cy="93.2" r="1.52" fill="#facf98" stroke="#b4956d" stroke-width="0.3"/><circle cx="100.1" cy="101.0" r="1.08" fill="#facf98" stroke="#b4956d" stroke-width="0.3"/><circle cx="92.4" cy="89.8" r="1.56" fill="#f8be7d" stroke="#b2885a" stroke-width="0.3"/><circle cx="79.1" cy="85.3" r="1.02" fill="#f8be7d" stroke="#b2885a" stroke-width="0.3"/><circle cx="106.7" cy="87.3" r="1.31" fill="#facf98" stroke="#b4956d" stroke-width="0.3"/><circle cx="134.6" cy="65.8" r="0.86" fill="#f2b9d4" stroke="#9f7a8b" stroke-width="0.4"/><circle cx="83.9" cy="87.0" r="1.13" fill="#f4af69" stroke="#af7e4b" stroke-width="0.3"/><circle cx="114.0" cy="95.1" r="1.02" fill="#facf98" stroke="#b4956d" stroke-width="0.3"/><circle cx="110.8" cy="83.4" r="1.08" fill="#facf98" stroke="#b4956d" stroke-width="0.3"/><circle cx="96.0" cy="86.8" r="1.05" fill="#facf98" stroke="#b4956d" stroke-width="0.3"/><circle cx="81.5" cy="84.2" r="1.17" fill="#f4af69" stroke="#af7e4b" stroke-width="0.3"/><circle cx="108.6" cy="78.7" r="1.17" fill="#f8be7d" stroke="#b2885a" stroke-width="0.3"/><circle cx="145.1" cy="78.9" r="0.91" fill="#f2b9d4" stroke="#9f7a8b" stroke-width="0.4"/><circle cx="119.0" cy="68.7" r="1.03" fill="#f2b9d4" stroke="#9f7a8b" stroke-width="0.4"/><circle cx="111.8" cy="65.3" r="1.60" fill="#f4af69" stroke="#af7e4b" stroke-width="0.3"/><circle cx="89.0" cy="77.2" r="1.50" fill="#f4af69" stroke="#af7e4b" stroke-width="0.3"/><circle cx="94.4" cy="77.5" r="1.23" fill="#f4af69" stroke="#af7e4b" stroke-width="0.3"/><circle cx="133.2" cy="74.7" r="0.94" fill="#e48cb9" stroke="#965c7a" stroke-width="0.4"/><circle cx="128.5" cy="84.7" r="1.02" fill="#f2b9d4" stroke="#9f7a8b" stroke-width="0.4"/><circle cx="135.9" cy="62.4" r="0.81" fill="#e48cb9" stroke="#965c7a" stroke-width="0.4"/><circle cx="79.3" cy="93.1" r="1.56" fill="#f8be7d" stroke="#b2885a" stroke-width="0.3"/><circle cx="111.8" cy="96.3" r="1.02" fill="#f4af69" stroke="#af7e4b" stroke-width="0.3"/><circle cx="93.8" cy="82.5" r="1.13" fill="#facf98" stroke="#b4956d" stroke-width="0.3"/><circle cx="77.2" cy="83.9" r="1.13" fill="#f8be7d" stroke="#b2885a" stroke-width="0.3"/><circle cx="97.3" cy="100.9" r="1.24" fill="#f4af69" stroke="#af7e4b" stroke-width="0.3"/><circle cx="119.1" cy="70.8" r="1.11" fill="#e48cb9" stroke="#965c7a" stroke-width="0.4"/><circle cx="147.8" cy="67.8" r="1.21" fill="#f2b9d4" stroke="#9f7a8b" stroke-width="0.4"/><circle cx="102.2" cy="91.7" r="1.59" fill="#facf98" stroke="#b4956d" stroke-width="0.3"/><circle cx="115.3" cy="75.8" r="1.01" fill="#f8be7d" stroke="#b2885a" stroke-width="0.3"/><circle cx="148.0" cy="49.2" r="0.98" fill="#f2b9d4" stroke="#9f7a8b" stroke-width="0.4"/><circle cx="112.6" cy="82.7" r="1.59" fill="#facf98" stroke="#b4956d" stroke-width="0.3"/><circle cx="96.8" cy="84.9" r="1.63" fill="#f8be7d" stroke="#b2885a" stroke-width="0.3"/><circle cx="120.0" cy="88.1" r="1.10" fill="#facf98" stroke="#b4956d" stroke-width="0.3"/><circle cx="121.9" cy="87.2" r="1.60" fill="#f4af69" stroke="#af7e4b" stroke-width="0.3"/><circle cx="74.1" cy="92.3" r="1.43" fill="#facf98" stroke="#b4956d" stroke-width="0.3"/><circle cx="125.7" cy="79.4" r="1.11" fill="#f8be7d" stroke="#b2885a" stroke-width="0.3"/><circle cx="99.6" cy="81.4" r="1.51" fill="#facf98" stroke="#b4956d" stroke-width="0.3"/><circle cx="139.0" cy="61.5" r="1.10" fill="#f2b9d4" stroke="#9f7a8b" stroke-width="0.4"/><circle cx="81.5" cy="89.3" r="1.44" fill="#f8be7d" stroke="#b2885a" stroke-width="0.3"/><circle cx="89.6" cy="82.8" r="1.59" fill="#f8be7d" stroke="#b2885a" stroke-width="0.3"/><circle cx="105.8" cy="78.3" r="1.61" fill="#f8be7d" stroke="#b2885a" stroke-width="0.3"/><circle cx="144.5" cy="53.5" r="1.18" fill="#e48cb9" stroke="#965c7a" stroke-width="0.4"/><circle cx="107.0" cy="62.5" r="1.35" fill="#f8be7d" stroke="#b2885a" stroke-width="0.3"/><circle cx="115.7" cy="79.3" r="1.16" fill="#f8be7d" stroke="#b2885a" stroke-width="0.3"/><circle cx="91.5" cy="94.1" r="1.26" fill="#f8be7d" stroke="#b2885a" stroke-width="0.3"/><circle cx="81.9" cy="85.5" r="1.63" fill="#f8be7d" stroke="#b2885a" stroke-width="0.3"/><circle cx="123.2" cy="83.5" r="1.43" fill="#f4af69" stroke="#af7e4b" stroke-width="0.3"/><circle cx="98.3" cy="85.7" r="1.32" fill="#facf98" stroke="#b4956d" stroke-width="0.3"/><circle cx="100.4" cy="92.0" r="1.11" fill="#facf98" stroke="#b4956d" stroke-width="0.3"/><circle cx="104.0" cy="72.8" r="1.24" fill="#f4af69" stroke="#af7e4b" stroke-width="0.3"/><circle cx="143.3" cy="83.1" r="0.85" fill="#fad2e4" stroke="#a58a96" stroke-width="0.4"/><circle cx="116.1" cy="73.0" r="1.09" fill="#f2b9d4" stroke="#9f7a8b" stroke-width="0.4"/><circle cx="87.8" cy="71.4" r="1.00" fill="#f4af69" stroke="#af7e4b" stroke-width="0.3"/><circle cx="89.0" cy="77.9" r="1.29" fill="#f8be7d" stroke="#b2885a" stroke-width="0.3"/><circle cx="115.8" cy="88.4" r="1.48" fill="#facf98" stroke="#b4956d" stroke-width="0.3"/><circle cx="116.6" cy="73.9" r="1.37" fill="#facf98" stroke="#b4956d" stroke-width="0.3"/><circle cx="102.7" cy="84.3" r="1.19" fill="#f8be7d" stroke="#b2885a" stroke-width="0.3"/><circle cx="150.1" cy="76.2" r="0.90" fill="#fad2e4" stroke="#a58a96" stroke-width="0.4"/><circle cx="142.3" cy="79.9" r="0.99" fill="#fad2e4" stroke="#a58a96" stroke-width="0.4"/><circle cx="144.1" cy="85.2" r="0.96" fill="#f2b9d4" stroke="#9f7a8b" stroke-width="0.4"/><circle cx="111.3" cy="71.7" r="1.11" fill="#e48cb9" stroke="#965c7a" stroke-width="0.4"/><circle cx="129.2" cy="77.2" r="1.07" fill="#e48cb9" stroke="#965c7a" stroke-width="0.4"/><circle cx="102.1" cy="91.3" r="1.57" fill="#facf98" stroke="#b4956d" stroke-width="0.3"/><circle cx="124.0" cy="73.7" r="1.20" fill="#e48cb9" stroke="#965c7a" stroke-width="0.4"/><circle cx="125.7" cy="81.3" r="1.20" fill="#fad2e4" stroke="#a58a96" stroke-width="0.4"/><circle cx="136.8" cy="65.0" r="0.86" fill="#f2b9d4" stroke="#9f7a8b" stroke-width="0.4"/><circle cx="139.2" cy="54.8" r="1.16" fill="#e48cb9" stroke="#965c7a" stroke-width="0.4"/><circle cx="118.1" cy="88.8" r="1.05" fill="#f8be7d" stroke="#b2885a" stroke-width="0.3"/><circle cx="138.4" cy="67.8" r="0.81" fill="#f2b9d4" stroke="#9f7a8b" stroke-width="0.4"/><circle cx="90.5" cy="75.0" r="1.13" fill="#f8be7d" stroke="#b2885a" stroke-width="0.3"/><circle cx="85.7" cy="72.2" r="1.50" fill="#f8be7d" stroke="#b2885a" stroke-width="0.3"/><circle cx="115.3" cy="74.1" r="1.06" fill="#e48cb9" stroke="#965c7a" stroke-width="0.4"/><circle cx="104.9" cy="97.7" r="1.09" fill="#facf98" stroke="#b4956d" stroke-width="0.3"/><circle cx="141.5" cy="52.7" r="1.21" fill="#f2b9d4" stroke="#9f7a8b" stroke-width="0.4"/><circle cx="112.2" cy="69.1" r="1.45" fill="#facf98" stroke="#b4956d" stroke-width="0.3"/><circle cx="120.8" cy="89.6" r="1.54" fill="#facf98" stroke="#b4956d" stroke-width="0.3"/><circle cx="106.2" cy="74.8" r="1.20" fill="#f8be7d" stroke="#b2885a" stroke-width="0.3"/><circle cx="136.7" cy="84.3" r="0.81" fill="#f2b9d4" stroke="#9f7a8b" stroke-width="0.4"/><circle cx="103.6" cy="72.8" r="1.63" fill="#facf98" stroke="#b4956d" stroke-width="0.3"/><circle cx="91.1" cy="93.1" r="1.11" fill="#f8be7d" stroke="#b2885a" stroke-width="0.3"/><circle cx="121.7" cy="57.9" r="1.17" fill="#fad2e4" stroke="#a58a96" stroke-width="0.4"/><circle cx="77.3" cy="79.4" r="1.05" fill="#facf98" stroke="#b4956d" stroke-width="0.3"/><circle cx="142.9" cy="55.2" r="1.01" fill="#fad2e4" stroke="#a58a96" stroke-width="0.4"/><circle cx="140.5" cy="72.9" r="1.06" fill="#e48cb9" stroke="#965c7a" stroke-width="0.4"/><circle cx="103.1" cy="91.1" r="1.53" fill="#facf98" stroke="#b4956d" stroke-width="0.3"/><circle cx="128.7" cy="81.0" r="0.98" fill="#e48cb9" stroke="#965c7a" stroke-width="0.4"/><circle cx="132.6" cy="81.0" r="0.88" fill="#f2b9d4" stroke="#9f7a8b" stroke-width="0.4"/><circle cx="95.6" cy="99.7" r="1.30" fill="#f4af69" stroke="#af7e4b" stroke-width="0.3"/><circle cx="147.2" cy="59.5" r="0.88" fill="#f2b9d4" stroke="#9f7a8b" stroke-width="0.4"/><circle cx="111.0" cy="81.8" r="1.54" fill="#facf98" stroke="#b4956d" stroke-width="0.3"/><circle cx="136.8" cy="72.8" r="1.29" fill="#f2b9d4" stroke="#9f7a8b" stroke-width="0.4"/><circle cx="141.1" cy="86.2" r="1.23" fill="#f2b9d4" stroke="#9f7a8b" stroke-width="0.4"/><circle cx="134.9" cy="55.0" r="1.14" fill="#fad2e4" stroke="#a58a96" stroke-width="0.4"/><circle cx="118.7" cy="82.9" r="1.28" fill="#facf98" stroke="#b4956d" stroke-width="0.3"/><circle cx="78.5" cy="74.5" r="1.39" fill="#facf98" stroke="#b4956d" stroke-width="0.3"/><circle cx="89.0" cy="82.7" r="1.41" fill="#facf98" stroke="#b4956d" stroke-width="0.3"/><circle cx="135.6" cy="78.9" r="1.28" fill="#f2b9d4" stroke="#9f7a8b" stroke-width="0.4"/><circle cx="134.4" cy="72.2" r="1.06" fill="#fad2e4" stroke="#a58a96" stroke-width="0.4"/><circle cx="127.2" cy="75.7" r="0.94" fill="#f2b9d4" stroke="#9f7a8b" stroke-width="0.4"/><circle cx="120.5" cy="73.8" r="1.24" fill="#facf98" stroke="#b4956d" stroke-width="0.3"/><circle cx="129.0" cy="67.1" r="0.87" fill="#fad2e4" stroke="#a58a96" stroke-width="0.4"/><circle cx="138.1" cy="80.8" r="1.18" fill="#fad2e4" stroke="#a58a96" stroke-width="0.4"/><circle cx="86.3" cy="77.0" r="1.49" fill="#f8be7d" stroke="#b2885a" stroke-width="0.3"/><circle cx="130.8" cy="82.2" r="0.98" fill="#fad2e4" stroke="#a58a96" stroke-width="0.4"/><circle cx="102.6" cy="86.2" r="1.16" fill="#facf98" stroke="#b4956d" stroke-width="0.3"/><circle cx="109.8" cy="83.7" r="1.26" fill="#f8be7d" stroke="#b2885a" stroke-width="0.3"/><circle cx="146.5" cy="57.5" r="1.02" fill="#e48cb9" stroke="#965c7a" stroke-width="0.4"/><circle cx="109.0" cy="80.0" r="1.19" fill="#f8be7d" stroke="#b2885a" stroke-width="0.3"/><circle cx="130.7" cy="75.5" r="0.84" fill="#e48cb9" stroke="#965c7a" stroke-width="0.4"/><circle cx="115.0" cy="68.0" r="1.17" fill="#f8be7d" stroke="#b2885a" stroke-width="0.3"/><circle cx="132.4" cy="68.8" r="0.97" fill="#fad2e4" stroke="#a58a96" stroke-width="0.4"/><circle cx="88.7" cy="88.5" r="1.38" fill="#f4af69" stroke="#af7e4b" stroke-width="0.3"/><circle cx="108.2" cy="68.0" r="0.92" fill="#f2b9d4" stroke="#9f7a8b" stroke-width="0.4"/><circle cx="115.0" cy="77.4" r="0.85" fill="#e48cb9" stroke="#965c7a" stroke-width="0.4"/><circle cx="101.7" cy="80.6" r="1.07" fill="#f8be7d" stroke="#b2885a" stroke-width="0.3"/><circle cx="108.5" cy="90.8" r="1.35" fill="#f8be7d" stroke="#b2885a" stroke-width="0.3"/><circle cx="81.1" cy="91.8" r="1.57" fill="#facf98" stroke="#b4956d" stroke-width="0.3"/><circle cx="88.2" cy="77.0" r="1.61" fill="#f8be7d" stroke="#b2885a" stroke-width="0.3"/><circle cx="142.3" cy="69.3" r="0.85" fill="#f2b9d4" stroke="#9f7a8b" stroke-width="0.4"/><circle cx="96.0" cy="76.2" r="1.48" fill="#f8be7d" stroke="#b2885a" stroke-width="0.3"/><circle cx="115.6" cy="82.0" r="1.41" fill="#f8be7d" stroke="#b2885a" stroke-width="0.3"/><circle cx="99.3" cy="74.7" r="1.16" fill="#facf98" stroke="#b4956d" stroke-width="0.3"/><circle cx="91.9" cy="84.5" r="1.57" fill="#f8be7d" stroke="#b2885a" stroke-width="0.3"/><circle cx="110.1" cy="84.8" r="1.27" fill="#f8be7d" stroke="#b2885a" stroke-width="0.3"/><circle cx="135.6" cy="70.5" r="0.84" fill="#f2b9d4" stroke="#9f7a8b" stroke-width="0.4"/><circle cx="143.4" cy="51.2" r="1.03" fill="#fad2e4" stroke="#a58a96" stroke-width="0.4"/><circle cx="114.8" cy="88.2" r="1.14" fill="#facf98" stroke="#b4956d" stroke-width="0.3"/><circle cx="132.4" cy="80.2" r="1.22" fill="#f2b9d4" stroke="#9f7a8b" stroke-width="0.4"/><circle cx="116.9" cy="66.0" r="1.46" fill="#f8be7d" stroke="#b2885a" stroke-width="0.3"/><circle cx="102.4" cy="77.1" r="1.24" fill="#f8be7d" stroke="#b2885a" stroke-width="0.3"/><circle cx="104.8" cy="90.4" r="1.30" fill="#f8be7d" stroke="#b2885a" stroke-width="0.3"/><circle cx="114.5" cy="71.1" r="1.36" fill="#f8be7d" stroke="#b2885a" stroke-width="0.3"/><circle cx="103.7" cy="92.2" r="1.19" fill="#f8be7d" stroke="#b2885a" stroke-width="0.3"/><circle cx="149.7" cy="78.3" r="1.08" fill="#e48cb9" stroke="#965c7a" stroke-width="0.4"/><circle cx="122.8" cy="84.7" r="1.03" fill="#f4af69" stroke="#af7e4b" stroke-width="0.3"/><circle cx="105.3" cy="73.1" r="1.49" fill="#facf98" stroke="#b4956d" stroke-width="0.3"/><circle cx="121.5" cy="52.1" r="1.13" fill="#fad2e4" stroke="#a58a96" stroke-width="0.4"/><circle cx="144.2" cy="59.8" r="1.29" fill="#fad2e4" stroke="#a58a96" stroke-width="0.4"/><circle cx="107.4" cy="88.6" r="1.34" fill="#f8be7d" stroke="#b2885a" stroke-width="0.3"/><circle cx="109.6" cy="83.6" r="1.09" fill="#facf98" stroke="#b4956d" stroke-width="0.3"/><circle cx="122.2" cy="83.4" r="1.41" fill="#f8be7d" stroke="#b2885a" stroke-width="0.3"/><circle cx="115.5" cy="83.7" r="1.03" fill="#f2b9d4" stroke="#9f7a8b" stroke-width="0.4"/><circle cx="103.9" cy="93.4" r="1.24" fill="#f8be7d" stroke="#b2885a" stroke-width="0.3"/><circle cx="143.0" cy="48.8" r="1.16" fill="#e48cb9" stroke="#965c7a" stroke-width="0.4"/><circle cx="114.0" cy="71.3" r="1.11" fill="#fad2e4" stroke="#a58a96" stroke-width="0.4"/><circle cx="83.2" cy="86.9" r="1.62" fill="#f8be7d" stroke="#b2885a" stroke-width="0.3"/><circle cx="106.8" cy="64.2" r="0.90" fill="#f2b9d4" stroke="#9f7a8b" stroke-width="0.4"/><circle cx="104.1" cy="70.5" r="1.10" fill="#f4af69" stroke="#af7e4b" stroke-width="0.3"/><circle cx="140.2" cy="85.2" r="0.97" fill="#f2b9d4" stroke="#9f7a8b" stroke-width="0.4"/><circle cx="100.2" cy="78.8" r="1.43" fill="#f8be7d" stroke="#b2885a" stroke-width="0.3"/><circle cx="136.8" cy="62.8" r="1.26" fill="#e48cb9" stroke="#965c7a" stroke-width="0.4"/><circle cx="119.9" cy="75.4" r="1.25" fill="#facf98" stroke="#b4956d" stroke-width="0.3"/><circle cx="154.6" cy="75.4" r="0.90" fill="#fad2e4" stroke="#a58a96" stroke-width="0.4"/><circle cx="109.2" cy="86.0" r="1.12" fill="#f8be7d" stroke="#b2885a" stroke-width="0.3"/><circle cx="131.7" cy="50.6" r="0.85" fill="#f2b9d4" stroke="#9f7a8b" stroke-width="0.4"/><circle cx="115.9" cy="64.5" r="1.22" fill="#e48cb9" stroke="#965c7a" stroke-width="0.4"/><circle cx="129.3" cy="62.7" r="0.90" fill="#f2b9d4" stroke="#9f7a8b" stroke-width="0.4"/><circle cx="105.4" cy="71.5" r="1.49" fill="#f8be7d" stroke="#b2885a" stroke-width="0.3"/><circle cx="121.6" cy="53.3" r="1.30" fill="#f2b9d4" stroke="#9f7a8b" stroke-width="0.4"/><circle cx="88.7" cy="76.8" r="1.06" fill="#facf98" stroke="#b4956d" stroke-width="0.3"/><circle cx="143.2" cy="64.9" r="0.99" fill="#f2b9d4" stroke="#9f7a8b" stroke-width="0.4"/><circle cx="116.4" cy="76.4" r="1.19" fill="#f8be7d" stroke="#b2885a" stroke-width="0.3"/><circle cx="154.4" cy="72.3" r="1.28" fill="#f2b9d4" stroke="#9f7a8b" stroke-width="0.4"/><circle cx="106.4" cy="76.3" r="1.62" fill="#f4af69" stroke="#af7e4b" stroke-width="0.3"/><circle cx="118.3" cy="92.2" r="1.18" fill="#f8be7d" stroke="#b2885a" stroke-width="0.3"/><circle cx="99.6" cy="94.1" r="1.43" fill="#facf98" stroke="#b4956d" stroke-width="0.3"/><circle cx="115.6" cy="60.9" r="0.82" fill="#f2b9d4" stroke="#9f7a8b" stroke-width="0.4"/><circle cx="134.4" cy="50.9" r="0.86" fill="#f2b9d4" stroke="#9f7a8b" stroke-width="0.4"/><circle cx="112.1" cy="71.5" r="1.23" fill="#fad2e4" stroke="#a58a96" stroke-width="0.4"/><circle cx="117.0" cy="74.2" r="0.92" fill="#e48cb9" stroke="#965c7a" stroke-width="0.4"/><circle cx="124.4" cy="73.3" r="1.30" fill="#f4af69" stroke="#af7e4b" stroke-width="0.3"/><circle cx="104.0" cy="80.3" r="1.60" fill="#f4af69" stroke="#af7e4b" stroke-width="0.3"/><circle cx="139.2" cy="78.4" r="1.18" fill="#e48cb9" stroke="#965c7a" stroke-width="0.4"/><circle cx="79.4" cy="89.1" r="1.60" fill="#f8be7d" stroke="#b2885a" stroke-width="0.3"/><circle cx="135.6" cy="50.0" r="1.01" fill="#fad2e4" stroke="#a58a96" stroke-width="0.4"/><circle cx="126.8" cy="76.0" r="1.17" fill="#f2b9d4" stroke="#9f7a8b" stroke-width="0.4"/><circle cx="122.9" cy="83.8" r="1.34" fill="#f8be7d" stroke="#b2885a" stroke-width="0.3"/><circle cx="102.6" cy="61.4" r="0.87" fill="#f2b9d4" stroke="#9f7a8b" stroke-width="0.4"/><circle cx="97.2" cy="85.0" r="1.20" fill="#f8be7d" stroke="#b2885a" stroke-width="0.3"/><circle cx="105.4" cy="72.9" r="1.14" fill="#f4af69" stroke="#af7e4b" stroke-width="0.3"/><circle cx="80.9" cy="84.2" r="1.40" fill="#f8be7d" stroke="#b2885a" stroke-width="0.3"/><circle cx="77.2" cy="76.6" r="1.57" fill="#f8be7d" stroke="#b2885a" stroke-width="0.3"/><circle cx="110.6" cy="77.1" r="1.30" fill="#facf98" stroke="#b4956d" stroke-width="0.3"/><circle cx="129.3" cy="66.9" r="0.87" fill="#f2b9d4" stroke="#9f7a8b" stroke-width="0.4"/><circle cx="108.8" cy="57.4" r="0.83" fill="#fad2e4" stroke="#a58a96" stroke-width="0.4"/><circle cx="96.0" cy="74.6" r="1.37" fill="#f8be7d" stroke="#b2885a" stroke-width="0.3"/><circle cx="133.7" cy="71.5" r="0.94" fill="#f2b9d4" stroke="#9f7a8b" stroke-width="0.4"/><circle cx="129.0" cy="63.2" r="0.91" fill="#fad2e4" stroke="#a58a96" stroke-width="0.4"/><circle cx="108.7" cy="64.3" r="1.64" fill="#f8be7d" stroke="#b2885a" stroke-width="0.3"/><circle cx="92.1" cy="88.3" r="1.55" fill="#facf98" stroke="#b4956d" stroke-width="0.3"/><circle cx="137.5" cy="57.6" r="1.03" fill="#e48cb9" stroke="#965c7a" stroke-width="0.4"/><circle cx="139.4" cy="67.6" r="1.29" fill="#fad2e4" stroke="#a58a96" stroke-width="0.4"/><circle cx="122.1" cy="93.5" r="1.46" fill="#facf98" stroke="#b4956d" stroke-width="0.3"/><circle cx="147.7" cy="65.1" r="1.11" fill="#fad2e4" stroke="#a58a96" stroke-width="0.4"/><circle cx="133.7" cy="83.4" r="1.06" fill="#e48cb9" stroke="#965c7a" stroke-width="0.4"/><circle cx="116.7" cy="93.2" r="1.62" fill="#facf98" stroke="#b4956d" stroke-width="0.3"/><circle cx="130.4" cy="76.6" r="1.10" fill="#f2b9d4" stroke="#9f7a8b" stroke-width="0.4"/><circle cx="84.6" cy="83.7" r="1.61" fill="#f8be7d" stroke="#b2885a" stroke-width="0.3"/><ellipse transform="translate(147.7 42.9) rotate(32)" rx="0.74" ry="0.37" fill="#d7323e" stroke="#96232b" stroke-width="0.4"/><ellipse transform="translate(173.8 47.0) rotate(32)" rx="1.04" ry="0.52" fill="#c31e2d" stroke="#88151f" stroke-width="0.4"/><circle cx="130.5" cy="74.0" r="0.88" fill="#f2b9d4" stroke="#9f7a8b" stroke-width="0.4"/><ellipse transform="translate(185.5 55.4) rotate(32)" rx="0.82" ry="0.41" fill="#c31e2d" stroke="#88151f" stroke-width="0.4"/><circle cx="147.3" cy="78.0" r="0.80" fill="#fad2e4" stroke="#a58a96" stroke-width="0.4"/><circle cx="105.1" cy="71.1" r="0.95" fill="#f2b9d4" stroke="#9f7a8b" stroke-width="0.4"/><ellipse transform="translate(186.3 44.8) rotate(32)" rx="0.80" ry="0.40" fill="#eb7882" stroke="#a4545b" stroke-width="0.4"/><circle cx="127.8" cy="74.8" r="1.12" fill="#fad2e4" stroke="#a58a96" stroke-width="0.4"/><circle cx="140.1" cy="75.7" r="1.02" fill="#e48cb9" stroke="#965c7a" stroke-width="0.4"/><circle cx="115.4" cy="64.8" r="0.94" fill="#f2b9d4" stroke="#9f7a8b" stroke-width="0.4"/><circle cx="144.7" cy="60.5" r="1.09" fill="#fad2e4" stroke="#a58a96" stroke-width="0.4"/><circle cx="130.5" cy="63.8" r="1.15" fill="#f2b9d4" stroke="#9f7a8b" stroke-width="0.4"/><ellipse transform="translate(186.5 40.4) rotate(32)" rx="0.97" ry="0.48" fill="#c31e2d" stroke="#88151f" stroke-width="0.4"/><ellipse transform="translate(179.2 33.1) rotate(32)" rx="1.05" ry="0.53" fill="#eb7882" stroke="#a4545b" stroke-width="0.4"/><circle cx="133.7" cy="67.7" r="0.94" fill="#e48cb9" stroke="#965c7a" stroke-width="0.4"/><ellipse transform="translate(173.0 62.2) rotate(32)" rx="1.02" ry="0.51" fill="#d7323e" stroke="#96232b" stroke-width="0.4"/><ellipse transform="translate(157.6 52.4) rotate(32)" rx="1.09" ry="0.55" fill="#c31e2d" stroke="#88151f" stroke-width="0.4"/><ellipse transform="translate(164.2 48.4) rotate(32)" rx="0.93" ry="0.47" fill="#d7323e" stroke="#96232b" stroke-width="0.4"/><ellipse transform="translate(167.5 64.8) rotate(32)" rx="1.05" ry="0.52" fill="#d7323e" stroke="#96232b" stroke-width="0.4"/><circle cx="134.0" cy="85.8" r="0.93" fill="#e48cb9" stroke="#965c7a" stroke-width="0.4"/><circle cx="134.8" cy="57.8" r="0.86" fill="#e48cb9" stroke="#965c7a" stroke-width="0.4"/><ellipse transform="translate(170.2 48.4) rotate(32)" rx="0.80" ry="0.40" fill="#c31e2d" stroke="#88151f" stroke-width="0.4"/><ellipse transform="translate(148.5 68.1) rotate(32)" rx="0.77" ry="0.39" fill="#d7323e" stroke="#96232b" stroke-width="0.4"/><circle cx="140.0" cy="76.9" r="0.82" fill="#f2b9d4" stroke="#9f7a8b" stroke-width="0.4"/><ellipse transform="translate(189.9 34.5) rotate(32)" rx="0.98" ry="0.49" fill="#d7323e" stroke="#96232b" stroke-width="0.4"/><circle cx="146.3" cy="68.0" r="0.84" fill="#f2b9d4" stroke="#9f7a8b" stroke-width="0.4"/><ellipse transform="translate(180.8 47.7) rotate(32)" rx="0.79" ry="0.40" fill="#c31e2d" stroke="#88151f" stroke-width="0.4"/><ellipse transform="translate(150.3 47.0) rotate(32)" rx="0.77" ry="0.39" fill="#d7323e" stroke="#96232b" stroke-width="0.4"/><circle cx="127.1" cy="73.9" r="1.01" fill="#e48cb9" stroke="#965c7a" stroke-width="0.4"/><ellipse transform="translate(152.7 62.4) rotate(32)" rx="0.68" ry="0.34" fill="#eb7882" stroke="#a4545b" stroke-width="0.4"/><ellipse transform="translate(196.9 45.1) rotate(32)" rx="0.70" ry="0.35" fill="#d7323e" stroke="#96232b" stroke-width="0.4"/><ellipse transform="translate(159.7 39.9) rotate(32)" rx="0.88" ry="0.44" fill="#eb7882" stroke="#a4545b" stroke-width="0.4"/><circle cx="134.5" cy="75.2" r="0.89" fill="#f2b9d4" stroke="#9f7a8b" stroke-width="0.4"/><circle cx="124.0" cy="88.0" r="0.84" fill="#f2b9d4" stroke="#9f7a8b" stroke-width="0.4"/><circle cx="146.4" cy="65.7" r="1.16" fill="#fad2e4" stroke="#a58a96" stroke-width="0.4"/><circle cx="143.1" cy="55.3" r="1.24" fill="#fad2e4" stroke="#a58a96" stroke-width="0.4"/><circle cx="130.8" cy="76.6" r="1.10" fill="#f2b9d4" stroke="#9f7a8b" stroke-width="0.4"/><circle cx="125.1" cy="72.4" r="1.29" fill="#e48cb9" stroke="#965c7a" stroke-width="0.4"/><ellipse transform="translate(192.5 50.2) rotate(32)" rx="1.07" ry="0.54" fill="#d7323e" stroke="#96232b" stroke-width="0.4"/><circle cx="144.1" cy="80.1" r="1.06" fill="#fad2e4" stroke="#a58a96" stroke-width="0.4"/><circle cx="132.1" cy="45.9" r="1.02" fill="#f2b9d4" stroke="#9f7a8b" stroke-width="0.4"/><circle cx="136.6" cy="59.5" r="0.87" fill="#fad2e4" stroke="#a58a96" stroke-width="0.4"/><ellipse transform="translate(170.9 40.7) rotate(32)" rx="0.70" ry="0.35" fill="#d7323e" stroke="#96232b" stroke-width="0.4"/><circle cx="138.8" cy="85.7" r="1.12" fill="#f2b9d4" stroke="#9f7a8b" stroke-width="0.4"/><circle cx="101.0" cy="67.5" r="0.93" fill="#f2b9d4" stroke="#9f7a8b" stroke-width="0.4"/><ellipse transform="translate(136.2 59.2) rotate(32)" rx="1.02" ry="0.51" fill="#d7323e" stroke="#96232b" stroke-width="0.4"/><circle cx="141.3" cy="73.8" r="1.19" fill="#f2b9d4" stroke="#9f7a8b" stroke-width="0.4"/><ellipse transform="translate(163.1 48.0) rotate(32)" rx="0.96" ry="0.48" fill="#d7323e" stroke="#96232b" stroke-width="0.4"/><ellipse transform="translate(145.6 51.3) rotate(32)" rx="0.80" ry="0.40" fill="#d7323e" stroke="#96232b" stroke-width="0.4"/><circle cx="127.2" cy="58.3" r="1.07" fill="#f2b9d4" stroke="#9f7a8b" stroke-width="0.4"/><circle cx="125.6" cy="81.5" r="0.93" fill="#f2b9d4" stroke="#9f7a8b" stroke-width="0.4"/><circle cx="149.7" cy="71.1" r="1.21" fill="#e48cb9" stroke="#965c7a" stroke-width="0.4"/><circle cx="119.8" cy="63.6" r="1.16" fill="#e48cb9" stroke="#965c7a" stroke-width="0.4"/><ellipse transform="translate(162.6 59.4) rotate(32)" rx="0.81" ry="0.40" fill="#d7323e" stroke="#96232b" stroke-width="0.4"/><circle cx="132.4" cy="80.7" r="1.19" fill="#f2b9d4" stroke="#9f7a8b" stroke-width="0.4"/><circle cx="120.6" cy="78.4" r="1.25" fill="#f2b9d4" stroke="#9f7a8b" stroke-width="0.4"/><circle cx="127.9" cy="69.6" r="1.22" fill="#f2b9d4" stroke="#9f7a8b" stroke-width="0.4"/><circle cx="114.5" cy="62.9" r="1.02" fill="#fad2e4" stroke="#a58a96" stroke-width="0.4"/><ellipse transform="translate(170.5 56.3) rotate(32)" rx="0.68" ry="0.34" fill="#eb7882" stroke="#a4545b" stroke-width="0.4"/><circle cx="128.8" cy="71.7" r="1.29" fill="#f2b9d4" stroke="#9f7a8b" stroke-width="0.4"/><circle cx="112.3" cy="62.9" r="1.00" fill="#e48cb9" stroke="#965c7a" stroke-width="0.4"/><ellipse transform="translate(185.8 52.1) rotate(32)" rx="1.09" ry="0.55" fill="#eb7882" stroke="#a4545b" stroke-width="0.4"/><ellipse transform="translate(160.3 66.4) rotate(32)" rx="1.05" ry="0.53" fill="#eb7882" stroke="#a4545b" stroke-width="0.4"/><circle cx="130.3" cy="68.7" r="0.95" fill="#e48cb9" stroke="#965c7a" stroke-width="0.4"/><circle cx="143.3" cy="51.6" r="0.97" fill="#f2b9d4" stroke="#9f7a8b" stroke-width="0.4"/><circle cx="128.9" cy="89.1" r="0.96" fill="#fad2e4" stroke="#a58a96" stroke-width="0.4"/><circle cx="132.9" cy="81.4" r="0.81" fill="#fad2e4" stroke="#a58a96" stroke-width="0.4"/><ellipse transform="translate(185.3 55.5) rotate(32)" rx="0.87" ry="0.44" fill="#eb7882" stroke="#a4545b" stroke-width="0.4"/><ellipse transform="translate(154.7 61.0) rotate(32)" rx="1.01" ry="0.51" fill="#d7323e" stroke="#96232b" stroke-width="0.4"/><circle cx="123.8" cy="87.1" r="1.11" fill="#f2b9d4" stroke="#9f7a8b" stroke-width="0.4"/><circle cx="128.3" cy="67.2" r="1.06" fill="#fad2e4" stroke="#a58a96" stroke-width="0.4"/><circle cx="123.7" cy="62.8" r="1.08" fill="#e48cb9" stroke="#965c7a" stroke-width="0.4"/><ellipse transform="translate(177.2 44.6) rotate(32)" rx="1.08" ry="0.54" fill="#d7323e" stroke="#96232b" stroke-width="0.4"/><ellipse transform="translate(181.4 42.4) rotate(32)" rx="1.06" ry="0.53" fill="#eb7882" stroke="#a4545b" stroke-width="0.4"/><circle cx="136.7" cy="70.1" r="1.06" fill="#f2b9d4" stroke="#9f7a8b" stroke-width="0.4"/><circle cx="144.8" cy="82.0" r="1.18" fill="#f2b9d4" stroke="#9f7a8b" stroke-width="0.4"/><ellipse transform="translate(167.5 46.5) rotate(32)" rx="0.98" ry="0.49" fill="#c31e2d" stroke="#88151f" stroke-width="0.4"/><ellipse transform="translate(155.5 60.6) rotate(32)" rx="0.82" ry="0.41" fill="#c31e2d" stroke="#88151f" stroke-width="0.4"/><ellipse transform="translate(152.8 48.9) rotate(32)" rx="1.04" ry="0.52" fill="#d7323e" stroke="#96232b" stroke-width="0.4"/><circle cx="120.6" cy="57.5" r="0.88" fill="#f2b9d4" stroke="#9f7a8b" stroke-width="0.4"/><ellipse transform="translate(169.1 42.8) rotate(32)" rx="0.92" ry="0.46" fill="#c31e2d" stroke="#88151f" stroke-width="0.4"/><ellipse transform="translate(180.8 50.5) rotate(32)" rx="1.05" ry="0.53" fill="#c31e2d" stroke="#88151f" stroke-width="0.4"/><ellipse transform="translate(163.1 49.2) rotate(32)" rx="0.84" ry="0.42" fill="#c31e2d" stroke="#88151f" stroke-width="0.4"/><ellipse transform="translate(166.2 51.8) rotate(32)" rx="0.85" ry="0.43" fill="#eb7882" stroke="#a4545b" stroke-width="0.4"/><circle cx="122.5" cy="59.7" r="1.16" fill="#f2b9d4" stroke="#9f7a8b" stroke-width="0.4"/><ellipse transform="translate(125.2 56.8) rotate(32)" rx="0.84" ry="0.42" fill="#d7323e" stroke="#96232b" stroke-width="0.4"/><ellipse transform="translate(121.1 55.3) rotate(32)" rx="0.78" ry="0.39" fill="#c31e2d" stroke="#88151f" stroke-width="0.4"/><circle cx="110.8" cy="63.3" r="1.28" fill="#f2b9d4" stroke="#9f7a8b" stroke-width="0.4"/><circle cx="145.4" cy="61.7" r="1.20" fill="#f2b9d4" stroke="#9f7a8b" stroke-width="0.4"/><ellipse transform="translate(183.9 46.3) rotate(32)" rx="0.99" ry="0.50" fill="#d7323e" stroke="#96232b" stroke-width="0.4"/><ellipse transform="translate(162.6 56.2) rotate(32)" rx="0.94" ry="0.47" fill="#c31e2d" stroke="#88151f" stroke-width="0.4"/><circle cx="133.5" cy="57.9" r="1.14" fill="#e48cb9" stroke="#965c7a" stroke-width="0.4"/><circle cx="125.4" cy="75.9" r="0.84" fill="#e48cb9" stroke="#965c7a" stroke-width="0.4"/><ellipse transform="translate(158.4 41.3) rotate(32)" rx="0.71" ry="0.35" fill="#c31e2d" stroke="#88151f" stroke-width="0.4"/><circle cx="124.3" cy="83.5" r="0.93" fill="#fad2e4" stroke="#a58a96" stroke-width="0.4"/><ellipse transform="translate(170.4 61.1) rotate(32)" rx="0.70" ry="0.35" fill="#d7323e" stroke="#96232b" stroke-width="0.4"/><circle cx="151.1" cy="72.2" r="1.29" fill="#f2b9d4" stroke="#9f7a8b" stroke-width="0.4"/><ellipse transform="translate(185.3 52.8) rotate(32)" rx="0.78" ry="0.39" fill="#c31e2d" stroke="#88151f" stroke-width="0.4"/><ellipse transform="translate(159.6 51.3) rotate(32)" rx="0.89" ry="0.45" fill="#d7323e" stroke="#96232b" stroke-width="0.4"/><ellipse transform="translate(182.5 52.4) rotate(32)" rx="0.74" ry="0.37" fill="#c31e2d" stroke="#88151f" stroke-width="0.4"/><ellipse transform="translate(156.6 46.9) rotate(32)" rx="0.84" ry="0.42" fill="#d7323e" stroke="#96232b" stroke-width="0.4"/><circle cx="133.7" cy="85.6" r="0.98" fill="#f2b9d4" stroke="#9f7a8b" stroke-width="0.4"/><circle cx="118.5" cy="61.3" r="0.97" fill="#fad2e4" stroke="#a58a96" stroke-width="0.4"/><circle cx="144.3" cy="62.8" r="1.10" fill="#e48cb9" stroke="#965c7a" stroke-width="0.4"/><circle cx="143.0" cy="51.9" r="0.84" fill="#f2b9d4" stroke="#9f7a8b" stroke-width="0.4"/><circle cx="149.1" cy="70.4" r="1.28" fill="#f2b9d4" stroke="#9f7a8b" stroke-width="0.4"/><circle cx="133.6" cy="67.1" r="1.18" fill="#f2b9d4" stroke="#9f7a8b" stroke-width="0.4"/><ellipse transform="translate(191.8 51.3) rotate(32)" rx="1.07" ry="0.54" fill="#c31e2d" stroke="#88151f" stroke-width="0.4"/><circle cx="138.4" cy="75.1" r="1.06" fill="#e48cb9" stroke="#965c7a" stroke-width="0.4"/><circle cx="129.8" cy="66.2" r="0.83" fill="#e48cb9" stroke="#965c7a" stroke-width="0.4"/><ellipse transform="translate(181.4 30.9) rotate(32)" rx="0.73" ry="0.36" fill="#c31e2d" stroke="#88151f" stroke-width="0.4"/><ellipse transform="translate(174.5 56.6) rotate(32)" rx="1.09" ry="0.54" fill="#d7323e" stroke="#96232b" stroke-width="0.4"/><ellipse transform="translate(186.8 49.6) rotate(32)" rx="1.01" ry="0.51" fill="#c31e2d" stroke="#88151f" stroke-width="0.4"/><circle cx="130.9" cy="88.7" r="0.99" fill="#fad2e4" stroke="#a58a96" stroke-width="0.4"/><circle cx="136.9" cy="84.0" r="1.25" fill="#fad2e4" stroke="#a58a96" stroke-width="0.4"/><circle cx="128.2" cy="75.2" r="0.88" fill="#f2b9d4" stroke="#9f7a8b" stroke-width="0.4"/><ellipse transform="translate(169.3 48.9) rotate(32)" rx="1.08" ry="0.54" fill="#d7323e" stroke="#96232b" stroke-width="0.4"/><circle cx="105.7" cy="61.1" r="1.00" fill="#f2b9d4" stroke="#9f7a8b" stroke-width="0.4"/><ellipse transform="translate(189.9 49.0) rotate(32)" rx="0.88" ry="0.44" fill="#c31e2d" stroke="#88151f" stroke-width="0.4"/><circle cx="131.0" cy="80.7" r="1.02" fill="#e48cb9" stroke="#965c7a" stroke-width="0.4"/><ellipse transform="translate(179.4 43.1) rotate(32)" rx="0.80" ry="0.40" fill="#d7323e" stroke="#96232b" stroke-width="0.4"/><circle cx="109.6" cy="66.2" r="0.93" fill="#fad2e4" stroke="#a58a96" stroke-width="0.4"/><circle cx="119.6" cy="81.1" r="1.12" fill="#fad2e4" stroke="#a58a96" stroke-width="0.4"/><ellipse transform="translate(145.0 56.4) rotate(32)" rx="0.78" ry="0.39" fill="#eb7882" stroke="#a4545b" stroke-width="0.4"/><ellipse transform="translate(170.9 41.4) rotate(32)" rx="0.94" ry="0.47" fill="#d7323e" stroke="#96232b" stroke-width="0.4"/><circle cx="141.1" cy="74.9" r="1.00" fill="#e48cb9" stroke="#965c7a" stroke-width="0.4"/><circle cx="118.4" cy="61.5" r="0.91" fill="#f2b9d4" stroke="#9f7a8b" stroke-width="0.4"/><circle cx="130.5" cy="72.5" r="1.04" fill="#e48cb9" stroke="#965c7a" stroke-width="0.4"/><circle cx="148.4" cy="78.3" r="1.17" fill="#f2b9d4" stroke="#9f7a8b" stroke-width="0.4"/><circle cx="141.8" cy="70.4" r="1.12" fill="#f2b9d4" stroke="#9f7a8b" stroke-width="0.4"/><circle cx="143.5" cy="67.7" r="1.10" fill="#fad2e4" stroke="#a58a96" stroke-width="0.4"/><ellipse transform="translate(182.0 41.1) rotate(32)" rx="1.06" ry="0.53" fill="#d7323e" stroke="#96232b" stroke-width="0.4"/><ellipse transform="translate(144.5 51.8) rotate(32)" rx="0.93" ry="0.47" fill="#c31e2d" stroke="#88151f" stroke-width="0.4"/><circle cx="112.2" cy="58.4" r="0.99" fill="#f2b9d4" stroke="#9f7a8b" stroke-width="0.4"/><ellipse transform="translate(137.1 66.0) rotate(32)" rx="0.69" ry="0.34" fill="#eb7882" stroke="#a4545b" stroke-width="0.4"/><circle cx="120.8" cy="79.1" r="0.96" fill="#f2b9d4" stroke="#9f7a8b" stroke-width="0.4"/><ellipse transform="translate(171.3 52.2) rotate(32)" rx="0.72" ry="0.36" fill="#c31e2d" stroke="#88151f" stroke-width="0.4"/><circle cx="143.7" cy="77.6" r="0.93" fill="#f2b9d4" stroke="#9f7a8b" stroke-width="0.4"/><circle cx="127.5" cy="59.8" r="0.89" fill="#f2b9d4" stroke="#9f7a8b" stroke-width="0.4"/><circle cx="138.4" cy="78.2" r="1.12" fill="#f2b9d4" stroke="#9f7a8b" stroke-width="0.4"/><circle cx="113.2" cy="59.8" r="1.28" fill="#f2b9d4" stroke="#9f7a8b" stroke-width="0.4"/><ellipse transform="translate(181.1 39.1) rotate(32)" rx="0.73" ry="0.37" fill="#eb7882" stroke="#a4545b" stroke-width="0.4"/><circle cx="147.8" cy="43.1" r="1.16" fill="#f2b9d4" stroke="#9f7a8b" stroke-width="0.4"/><circle cx="125.8" cy="80.2" r="0.83" fill="#f2b9d4" stroke="#9f7a8b" stroke-width="0.4"/><circle cx="141.9" cy="88.8" r="0.88" fill="#e48cb9" stroke="#965c7a" stroke-width="0.4"/><ellipse transform="translate(151.3 58.9) rotate(32)" rx="0.82" ry="0.41" fill="#c31e2d" stroke="#88151f" stroke-width="0.4"/><circle cx="120.3" cy="57.8" r="1.11" fill="#f2b9d4" stroke="#9f7a8b" stroke-width="0.4"/><ellipse transform="translate(182.7 46.4) rotate(32)" rx="0.70" ry="0.35" fill="#c31e2d" stroke="#88151f" stroke-width="0.4"/><ellipse transform="translate(164.9 61.2) rotate(32)" rx="0.83" ry="0.42" fill="#d7323e" stroke="#96232b" stroke-width="0.4"/><ellipse transform="translate(170.2 50.6) rotate(32)" rx="0.65" ry="0.33" fill="#eb7882" stroke="#a4545b" stroke-width="0.4"/><circle cx="122.9" cy="67.0" r="1.17" fill="#f2b9d4" stroke="#9f7a8b" stroke-width="0.4"/><circle cx="130.2" cy="78.2" r="0.95" fill="#e48cb9" stroke="#965c7a" stroke-width="0.4"/><circle cx="139.5" cy="58.9" r="1.00" fill="#f2b9d4" stroke="#9f7a8b" stroke-width="0.4"/><ellipse transform="translate(186.6 50.3) rotate(32)" rx="0.75" ry="0.38" fill="#d7323e" stroke="#96232b" stroke-width="0.4"/><circle cx="122.8" cy="61.7" r="1.26" fill="#fad2e4" stroke="#a58a96" stroke-width="0.4"/><ellipse transform="translate(183.2 36.0) rotate(32)" rx="0.90" ry="0.45" fill="#d7323e" stroke="#96232b" stroke-width="0.4"/><ellipse transform="translate(150.9 56.0) rotate(32)" rx="1.01" ry="0.51" fill="#c31e2d" stroke="#88151f" stroke-width="0.4"/><circle cx="123.5" cy="63.9" r="1.17" fill="#f2b9d4" stroke="#9f7a8b" stroke-width="0.4"/><circle cx="137.7" cy="82.8" r="0.87" fill="#e48cb9" stroke="#965c7a" stroke-width="0.4"/><circle cx="138.1" cy="61.8" r="1.05" fill="#e48cb9" stroke="#965c7a" stroke-width="0.4"/><ellipse transform="translate(179.8 34.1) rotate(32)" rx="0.99" ry="0.49" fill="#c31e2d" stroke="#88151f" stroke-width="0.4"/><circle cx="139.9" cy="42.8" r="1.26" fill="#fad2e4" stroke="#a58a96" stroke-width="0.4"/><ellipse transform="translate(165.6 48.8) rotate(32)" rx="0.72" ry="0.36" fill="#eb7882" stroke="#a4545b" stroke-width="0.4"/><ellipse transform="translate(162.0 38.5) rotate(32)" rx="0.67" ry="0.33" fill="#c31e2d" stroke="#88151f" stroke-width="0.4"/><circle cx="135.4" cy="83.8" r="1.01" fill="#e48cb9" stroke="#965c7a" stroke-width="0.4"/><ellipse transform="translate(170.8 61.7) rotate(32)" rx="0.82" ry="0.41" fill="#d7323e" stroke="#96232b" stroke-width="0.4"/><circle cx="122.0" cy="53.8" r="1.02" fill="#f2b9d4" stroke="#9f7a8b" stroke-width="0.4"/><circle cx="146.2" cy="81.9" r="1.18" fill="#f2b9d4" stroke="#9f7a8b" stroke-width="0.4"/><ellipse transform="translate(167.1 43.9) rotate(32)" rx="0.99" ry="0.49" fill="#d7323e" stroke="#96232b" stroke-width="0.4"/><circle cx="148.1" cy="81.5" r="1.24" fill="#f2b9d4" stroke="#9f7a8b" stroke-width="0.4"/><circle cx="103.8" cy="63.0" r="1.27" fill="#f2b9d4" stroke="#9f7a8b" stroke-width="0.4"/><circle cx="136.9" cy="55.2" r="0.94" fill="#e48cb9" stroke="#965c7a" stroke-width="0.4"/><circle cx="143.1" cy="62.1" r="0.92" fill="#fad2e4" stroke="#a58a96" stroke-width="0.4"/><ellipse transform="translate(184.1 34.5) rotate(32)" rx="0.92" ry="0.46" fill="#c31e2d" stroke="#88151f" stroke-width="0.4"/><circle cx="127.1" cy="66.4" r="1.25" fill="#fad2e4" stroke="#a58a96" stroke-width="0.4"/><circle cx="126.3" cy="61.0" r="0.87" fill="#f2b9d4" stroke="#9f7a8b" stroke-width="0.4"/><ellipse transform="translate(143.0 62.0) rotate(32)" rx="0.93" ry="0.46" fill="#d7323e" stroke="#96232b" stroke-width="0.4"/><circle cx="142.3" cy="58.0" r="1.02" fill="#f2b9d4" stroke="#9f7a8b" stroke-width="0.4"/><circle cx="107.6" cy="74.1" r="1.20" fill="#fad2e4" stroke="#a58a96" stroke-width="0.4"/><circle cx="122.5" cy="68.1" r="1.09" fill="#f2b9d4" stroke="#9f7a8b" stroke-width="0.4"/><circle cx="141.2" cy="67.1" r="1.14" fill="#f2b9d4" stroke="#9f7a8b" stroke-width="0.4"/><circle cx="149.3" cy="56.3" r="1.09" fill="#f2b9d4" stroke="#9f7a8b" stroke-width="0.4"/><ellipse transform="translate(180.5 52.1) rotate(32)" rx="0.70" ry="0.35" fill="#c31e2d" stroke="#88151f" stroke-width="0.4"/><ellipse transform="translate(194.8 36.4) rotate(32)" rx="1.03" ry="0.51" fill="#c31e2d" stroke="#88151f" stroke-width="0.4"/><circle cx="118.0" cy="60.9" r="1.23" fill="#f2b9d4" stroke="#9f7a8b" stroke-width="0.4"/><circle cx="122.3" cy="80.4" r="0.95" fill="#f2b9d4" stroke="#9f7a8b" stroke-width="0.4"/><circle cx="144.2" cy="75.8" r="1.10" fill="#f2b9d4" stroke="#9f7a8b" stroke-width="0.4"/><ellipse transform="translate(131.7 57.1) rotate(32)" rx="0.90" ry="0.45" fill="#d7323e" stroke="#96232b" stroke-width="0.4"/><ellipse transform="translate(170.2 47.1) rotate(32)" rx="1.01" ry="0.50" fill="#c31e2d" stroke="#88151f" stroke-width="0.4"/><circle cx="135.5" cy="66.1" r="0.81" fill="#f2b9d4" stroke="#9f7a8b" stroke-width="0.4"/><circle cx="119.3" cy="76.3" r="0.83" fill="#f2b9d4" stroke="#9f7a8b" stroke-width="0.4"/><circle cx="128.3" cy="61.2" r="0.85" fill="#e48cb9" stroke="#965c7a" stroke-width="0.4"/><circle cx="124.9" cy="76.3" r="1.22" fill="#f2b9d4" stroke="#9f7a8b" stroke-width="0.4"/><circle cx="132.9" cy="50.8" r="1.27" fill="#fad2e4" stroke="#a58a96" stroke-width="0.4"/><ellipse transform="translate(172.0 53.1) rotate(32)" rx="1.06" ry="0.53" fill="#d7323e" stroke="#96232b" stroke-width="0.4"/><ellipse transform="translate(160.8 61.4) rotate(32)" rx="1.03" ry="0.52" fill="#d7323e" stroke="#96232b" stroke-width="0.4"/><circle cx="145.9" cy="65.6" r="1.01" fill="#f2b9d4" stroke="#9f7a8b" stroke-width="0.4"/><circle cx="135.5" cy="66.1" r="1.07" fill="#e48cb9" stroke="#965c7a" stroke-width="0.4"/><circle cx="142.4" cy="74.0" r="1.14" fill="#fad2e4" stroke="#a58a96" stroke-width="0.4"/><circle cx="127.9" cy="88.8" r="1.01" fill="#fad2e4" stroke="#a58a96" stroke-width="0.4"/><ellipse transform="translate(173.8 45.0) rotate(32)" rx="0.71" ry="0.35" fill="#d7323e" stroke="#96232b" stroke-width="0.4"/><ellipse transform="translate(155.3 55.4) rotate(32)" rx="0.68" ry="0.34" fill="#d7323e" stroke="#96232b" stroke-width="0.4"/><circle cx="140.7" cy="73.4" r="0.98" fill="#fad2e4" stroke="#a58a96" stroke-width="0.4"/><circle cx="140.8" cy="60.8" r="1.23" fill="#f2b9d4" stroke="#9f7a8b" stroke-width="0.4"/><circle cx="129.8" cy="75.0" r="1.02" fill="#e48cb9" stroke="#965c7a" stroke-width="0.4"/><circle cx="141.7" cy="84.8" r="1.23" fill="#e48cb9" stroke="#965c7a" stroke-width="0.4"/><circle cx="128.1" cy="60.0" r="0.92" fill="#f2b9d4" stroke="#9f7a8b" stroke-width="0.4"/><circle cx="116.8" cy="76.0" r="1.26" fill="#f2b9d4" stroke="#9f7a8b" stroke-width="0.4"/><circle cx="142.7" cy="61.7" r="0.87" fill="#e48cb9" stroke="#965c7a" stroke-width="0.4"/><ellipse transform="translate(158.2 50.0) rotate(32)" rx="0.99" ry="0.49" fill="#eb7882" stroke="#a4545b" stroke-width="0.4"/><ellipse transform="translate(162.1 53.2) rotate(32)" rx="0.87" ry="0.44" fill="#eb7882" stroke="#a4545b" stroke-width="0.4"/><circle cx="152.8" cy="67.1" r="0.96" fill="#e48cb9" stroke="#965c7a" stroke-width="0.4"/><circle cx="120.7" cy="89.7" r="1.27" fill="#fad2e4" stroke="#a58a96" stroke-width="0.4"/><circle cx="137.0" cy="57.1" r="1.20" fill="#fad2e4" stroke="#a58a96" stroke-width="0.4"/><circle cx="120.0" cy="64.0" r="0.88" fill="#fad2e4" stroke="#a58a96" stroke-width="0.4"/><ellipse transform="translate(175.7 57.3) rotate(32)" rx="0.72" ry="0.36" fill="#c31e2d" stroke="#88151f" stroke-width="0.4"/><circle cx="113.4" cy="74.6" r="1.08" fill="#fad2e4" stroke="#a58a96" stroke-width="0.4"/><circle cx="139.3" cy="72.7" r="1.28" fill="#fad2e4" stroke="#a58a96" stroke-width="0.4"/><ellipse transform="translate(180.8 50.8) rotate(32)" rx="0.86" ry="0.43" fill="#d7323e" stroke="#96232b" stroke-width="0.4"/><circle cx="131.7" cy="53.6" r="0.97" fill="#e48cb9" stroke="#965c7a" stroke-width="0.4"/><circle cx="126.9" cy="87.0" r="1.21" fill="#fad2e4" stroke="#a58a96" stroke-width="0.4"/><circle cx="127.4" cy="65.0" r="1.12" fill="#f2b9d4" stroke="#9f7a8b" stroke-width="0.4"/><circle cx="133.0" cy="72.1" r="1.22" fill="#e48cb9" stroke="#965c7a" stroke-width="0.4"/><ellipse transform="translate(178.8 39.6) rotate(32)" rx="1.07" ry="0.54" fill="#c31e2d" stroke="#88151f" stroke-width="0.4"/><circle cx="135.3" cy="52.8" r="1.26" fill="#fad2e4" stroke="#a58a96" stroke-width="0.4"/><ellipse transform="translate(164.3 51.6) rotate(32)" rx="0.88" ry="0.44" fill="#c31e2d" stroke="#88151f" stroke-width="0.4"/><circle cx="122.1" cy="72.2" r="0.81" fill="#f2b9d4" stroke="#9f7a8b" stroke-width="0.4"/><circle cx="136.4" cy="77.2" r="0.85" fill="#fad2e4" stroke="#a58a96" stroke-width="0.4"/><circle cx="126.0" cy="64.6" r="1.03" fill="#f2b9d4" stroke="#9f7a8b" stroke-width="0.4"/><ellipse transform="translate(177.1 36.1) rotate(32)" rx="0.73" ry="0.36" fill="#eb7882" stroke="#a4545b" stroke-width="0.4"/><circle cx="112.4" cy="72.4" r="0.88" fill="#f2b9d4" stroke="#9f7a8b" stroke-width="0.4"/><circle cx="139.6" cy="70.7" r="0.91" fill="#f2b9d4" stroke="#9f7a8b" stroke-width="0.4"/><circle cx="118.7" cy="50.9" r="1.20" fill="#e48cb9" stroke="#965c7a" stroke-width="0.4"/><ellipse transform="translate(179.7 38.2) rotate(32)" rx="0.91" ry="0.46" fill="#eb7882" stroke="#a4545b" stroke-width="0.4"/><circle cx="135.7" cy="67.1" r="1.20" fill="#f2b9d4" stroke="#9f7a8b" stroke-width="0.4"/><ellipse transform="translate(194.0 46.8) rotate(32)" rx="0.93" ry="0.47" fill="#d7323e" stroke="#96232b" stroke-width="0.4"/><circle cx="134.3" cy="62.2" r="1.14" fill="#e48cb9" stroke="#965c7a" stroke-width="0.4"/><ellipse transform="translate(156.1 53.6) rotate(32)" rx="0.83" ry="0.41" fill="#d7323e" stroke="#96232b" stroke-width="0.4"/><ellipse transform="translate(148.4 53.8) rotate(32)" rx="0.79" ry="0.39" fill="#d7323e" stroke="#96232b" stroke-width="0.4"/><circle cx="132.9" cy="55.8" r="0.88" fill="#fad2e4" stroke="#a58a96" stroke-width="0.4"/><ellipse transform="translate(194.9 33.1) rotate(32)" rx="0.96" ry="0.48" fill="#c31e2d" stroke="#88151f" stroke-width="0.4"/><ellipse transform="translate(170.7 39.9) rotate(32)" rx="0.96" ry="0.48" fill="#eb7882" stroke="#a4545b" stroke-width="0.4"/><ellipse transform="translate(155.2 57.3) rotate(32)" rx="1.01" ry="0.51" fill="#d7323e" stroke="#96232b" stroke-width="0.4"/><ellipse transform="translate(185.4 33.8) rotate(32)" rx="0.72" ry="0.36" fill="#d7323e" stroke="#96232b" stroke-width="0.4"/><circle cx="103.6" cy="61.3" r="1.08" fill="#fad2e4" stroke="#a58a96" stroke-width="0.4"/><circle cx="153.9" cy="63.0" r="1.18" fill="#e48cb9" stroke="#965c7a" stroke-width="0.4"/><circle cx="125.2" cy="89.8" r="1.00" fill="#e48cb9" stroke="#965c7a" stroke-width="0.4"/><ellipse transform="translate(188.6 52.1) rotate(32)" rx="0.88" ry="0.44" fill="#c31e2d" stroke="#88151f" stroke-width="0.4"/><ellipse transform="translate(174.0 48.1) rotate(32)" rx="0.75" ry="0.37" fill="#eb7882" stroke="#a4545b" stroke-width="0.4"/><ellipse transform="translate(160.4 50.3) rotate(32)" rx="0.80" ry="0.40" fill="#c31e2d" stroke="#88151f" stroke-width="0.4"/><circle cx="133.0" cy="86.5" r="0.90" fill="#e48cb9" stroke="#965c7a" stroke-width="0.4"/><ellipse transform="translate(159.5 60.7) rotate(32)" rx="1.00" ry="0.50" fill="#c31e2d" stroke="#88151f" stroke-width="0.4"/><ellipse transform="translate(157.7 66.7) rotate(32)" rx="1.04" ry="0.52" fill="#c31e2d" stroke="#88151f" stroke-width="0.4"/><circle cx="128.0" cy="50.6" r="1.02" fill="#f2b9d4" stroke="#9f7a8b" stroke-width="0.4"/><circle cx="124.2" cy="78.5" r="1.14" fill="#fad2e4" stroke="#a58a96" stroke-width="0.4"/><ellipse transform="translate(179.2 47.8) rotate(32)" rx="0.99" ry="0.50" fill="#d7323e" stroke="#96232b" stroke-width="0.4"/><circle cx="122.4" cy="82.0" r="0.94" fill="#f2b9d4" stroke="#9f7a8b" stroke-width="0.4"/><ellipse transform="translate(126.6 56.2) rotate(32)" rx="0.89" ry="0.45" fill="#d7323e" stroke="#96232b" stroke-width="0.4"/><circle cx="134.4" cy="67.0" r="0.96" fill="#f2b9d4" stroke="#9f7a8b" stroke-width="0.4"/><circle cx="143.4" cy="86.2" r="1.09" fill="#e48cb9" stroke="#965c7a" stroke-width="0.4"/><ellipse transform="translate(170.7 49.1) rotate(32)" rx="0.81" ry="0.40" fill="#c31e2d" stroke="#88151f" stroke-width="0.4"/><circle cx="127.2" cy="82.4" r="1.24" fill="#fad2e4" stroke="#a58a96" stroke-width="0.4"/><ellipse transform="translate(183.4 55.3) rotate(32)" rx="0.94" ry="0.47" fill="#c31e2d" stroke="#88151f" stroke-width="0.4"/><ellipse transform="translate(178.2 57.2) rotate(32)" rx="1.01" ry="0.50" fill="#c31e2d" stroke="#88151f" stroke-width="0.4"/><circle cx="101.2" cy="64.1" r="0.94" fill="#f2b9d4" stroke="#9f7a8b" stroke-width="0.4"/><ellipse transform="translate(176.2 49.3) rotate(32)" rx="0.86" ry="0.43" fill="#c31e2d" stroke="#88151f" stroke-width="0.4"/><circle cx="122.7" cy="67.5" r="1.14" fill="#f2b9d4" stroke="#9f7a8b" stroke-width="0.4"/><ellipse transform="translate(195.9 47.9) rotate(32)" rx="1.01" ry="0.50" fill="#eb7882" stroke="#a4545b" stroke-width="0.4"/><circle cx="134.0" cy="65.9" r="1.15" fill="#f2b9d4" stroke="#9f7a8b" stroke-width="0.4"/><ellipse transform="translate(188.6 43.7) rotate(32)" rx="1.06" ry="0.53" fill="#d7323e" stroke="#96232b" stroke-width="0.4"/><ellipse transform="translate(162.7 62.2) rotate(32)" rx="0.82" ry="0.41" fill="#d7323e" stroke="#96232b" stroke-width="0.4"/><circle cx="136.1" cy="69.3" r="1.26" fill="#fad2e4" stroke="#a58a96" stroke-width="0.4"/><ellipse transform="translate(163.9 51.9) rotate(32)" rx="0.83" ry="0.41" fill="#c31e2d" stroke="#88151f" stroke-width="0.4"/><circle cx="147.6" cy="85.4" r="0.98" fill="#e48cb9" stroke="#965c7a" stroke-width="0.4"/><ellipse transform="translate(172.5 53.2) rotate(32)" rx="0.98" ry="0.49" fill="#d7323e" stroke="#96232b" stroke-width="0.4"/><circle cx="126.3" cy="60.3" r="1.22" fill="#f2b9d4" stroke="#9f7a8b" stroke-width="0.4"/><circle cx="125.9" cy="77.9" r="1.21" fill="#fad2e4" stroke="#a58a96" stroke-width="0.4"/><circle cx="133.8" cy="67.6" r="1.10" fill="#e48cb9" stroke="#965c7a" stroke-width="0.4"/><ellipse transform="translate(195.6 36.4) rotate(32)" rx="1.02" ry="0.51" fill="#c31e2d" stroke="#88151f" stroke-width="0.4"/><ellipse transform="translate(140.5 60.6) rotate(32)" rx="0.93" ry="0.47" fill="#c31e2d" stroke="#88151f" stroke-width="0.4"/><ellipse transform="translate(145.2 45.9) rotate(32)" rx="0.99" ry="0.49" fill="#c31e2d" stroke="#88151f" stroke-width="0.4"/><circle cx="126.0" cy="83.3" r="1.10" fill="#f2b9d4" stroke="#9f7a8b" stroke-width="0.4"/><circle cx="140.2" cy="46.0" r="0.96" fill="#f2b9d4" stroke="#9f7a8b" stroke-width="0.4"/><ellipse transform="translate(150.7 48.7) rotate(32)" rx="0.78" ry="0.39" fill="#d7323e" stroke="#96232b" stroke-width="0.4"/><circle cx="108.1" cy="74.2" r="0.99" fill="#fad2e4" stroke="#a58a96" stroke-width="0.4"/><circle cx="143.1" cy="83.2" r="0.94" fill="#e48cb9" stroke="#965c7a" stroke-width="0.4"/><circle cx="127.6" cy="85.0" r="1.28" fill="#f2b9d4" stroke="#9f7a8b" stroke-width="0.4"/><ellipse transform="translate(176.7 55.0) rotate(32)" rx="0.87" ry="0.44" fill="#c31e2d" stroke="#88151f" stroke-width="0.4"/><circle cx="124.4" cy="53.4" r="0.81" fill="#f2b9d4" stroke="#9f7a8b" stroke-width="0.4"/><circle cx="129.9" cy="82.0" r="1.04" fill="#f2b9d4" stroke="#9f7a8b" stroke-width="0.4"/><ellipse transform="translate(133.8 51.2) rotate(32)" rx="1.09" ry="0.55" fill="#d7323e" stroke="#96232b" stroke-width="0.4"/><circle cx="144.4" cy="71.3" r="1.27" fill="#f2b9d4" stroke="#9f7a8b" stroke-width="0.4"/><circle cx="137.8" cy="65.2" r="1.25" fill="#f2b9d4" stroke="#9f7a8b" stroke-width="0.4"/><circle cx="129.1" cy="91.1" r="0.85" fill="#e48cb9" stroke="#965c7a" stroke-width="0.4"/><ellipse transform="translate(163.0 51.1) rotate(32)" rx="1.00" ry="0.50" fill="#eb7882" stroke="#a4545b" stroke-width="0.4"/><circle cx="118.3" cy="82.8" r="0.81" fill="#f2b9d4" stroke="#9f7a8b" stroke-width="0.4"/><circle cx="138.1" cy="79.0" r="1.09" fill="#e48cb9" stroke="#965c7a" stroke-width="0.4"/><circle cx="139.5" cy="58.8" r="1.26" fill="#fad2e4" stroke="#a58a96" stroke-width="0.4"/><ellipse transform="translate(185.5 42.1) rotate(32)" rx="0.88" ry="0.44" fill="#c31e2d" stroke="#88151f" stroke-width="0.4"/><circle cx="135.1" cy="85.6" r="1.25" fill="#f2b9d4" stroke="#9f7a8b" stroke-width="0.4"/><circle cx="144.0" cy="62.7" r="0.81" fill="#fad2e4" stroke="#a58a96" stroke-width="0.4"/><circle cx="141.2" cy="78.8" r="0.86" fill="#f2b9d4" stroke="#9f7a8b" stroke-width="0.4"/><circle cx="144.5" cy="80.1" r="1.16" fill="#fad2e4" stroke="#a58a96" stroke-width="0.4"/><ellipse transform="translate(185.1 43.9) rotate(32)" rx="0.95" ry="0.47" fill="#d7323e" stroke="#96232b" stroke-width="0.4"/><circle cx="122.5" cy="73.2" r="1.29" fill="#fad2e4" stroke="#a58a96" stroke-width="0.4"/><ellipse transform="translate(188.0 43.2) rotate(32)" rx="0.83" ry="0.42" fill="#c31e2d" stroke="#88151f" stroke-width="0.4"/><circle cx="132.6" cy="78.3" r="0.84" fill="#fad2e4" stroke="#a58a96" stroke-width="0.4"/><circle cx="140.7" cy="60.4" r="1.13" fill="#f2b9d4" stroke="#9f7a8b" stroke-width="0.4"/><circle cx="126.8" cy="63.6" r="1.05" fill="#f2b9d4" stroke="#9f7a8b" stroke-width="0.4"/><ellipse transform="translate(180.3 31.1) rotate(32)" rx="0.93" ry="0.47" fill="#d7323e" stroke="#96232b" stroke-width="0.4"/><circle cx="128.1" cy="89.1" r="1.15" fill="#fad2e4" stroke="#a58a96" stroke-width="0.4"/><circle cx="128.1" cy="73.8" r="0.99" fill="#fad2e4" stroke="#a58a96" stroke-width="0.4"/><circle cx="110.1" cy="71.1" r="1.06" fill="#f2b9d4" stroke="#9f7a8b" stroke-width="0.4"/><circle cx="124.0" cy="87.2" r="1.07" fill="#f2b9d4" stroke="#9f7a8b" stroke-width="0.4"/><circle cx="126.9" cy="87.2" r="0.96" fill="#f2b9d4" stroke="#9f7a8b" stroke-width="0.4"/><ellipse transform="translate(189.4 46.9) rotate(32)" rx="0.76" ry="0.38" fill="#eb7882" stroke="#a4545b" stroke-width="0.4"/><circle cx="115.4" cy="68.8" r="1.15" fill="#fad2e4" stroke="#a58a96" stroke-width="0.4"/><ellipse transform="translate(126.3 50.8) rotate(32)" rx="1.09" ry="0.55" fill="#d7323e" stroke="#96232b" stroke-width="0.4"/><circle cx="147.5" cy="79.9" r="0.87" fill="#e48cb9" stroke="#965c7a" stroke-width="0.4"/><ellipse transform="translate(148.7 64.0) rotate(32)" rx="1.02" ry="0.51" fill="#d7323e" stroke="#96232b" stroke-width="0.4"/><circle cx="136.5" cy="61.0" r="0.96" fill="#f2b9d4" stroke="#9f7a8b" stroke-width="0.4"/><ellipse transform="translate(145.3 69.6) rotate(32)" rx="0.73" ry="0.36" fill="#eb7882" stroke="#a4545b" stroke-width="0.4"/><circle cx="128.4" cy="73.0" r="0.97" fill="#f2b9d4" stroke="#9f7a8b" stroke-width="0.4"/><circle cx="131.1" cy="62.8" r="1.10" fill="#f2b9d4" stroke="#9f7a8b" stroke-width="0.4"/><circle cx="130.5" cy="70.6" r="1.11" fill="#f2b9d4" stroke="#9f7a8b" stroke-width="0.4"/><ellipse transform="translate(143.8 45.3) rotate(32)" rx="0.68" ry="0.34" fill="#c31e2d" stroke="#88151f" stroke-width="0.4"/><ellipse transform="translate(166.9 44.2) rotate(32)" rx="0.76" ry="0.38" fill="#d7323e" stroke="#96232b" stroke-width="0.4"/><ellipse transform="translate(157.1 65.3) rotate(32)" rx="1.02" ry="0.51" fill="#d7323e" stroke="#96232b" stroke-width="0.4"/><ellipse transform="translate(168.2 50.1) rotate(32)" rx="0.73" ry="0.37" fill="#eb7882" stroke="#a4545b" stroke-width="0.4"/><ellipse transform="translate(171.2 45.0) rotate(32)" rx="0.86" ry="0.43" fill="#c31e2d" stroke="#88151f" stroke-width="0.4"/><ellipse transform="translate(181.6 52.0) rotate(32)" rx="0.89" ry="0.45" fill="#c31e2d" stroke="#88151f" stroke-width="0.4"/><ellipse transform="translate(170.1 44.9) rotate(32)" rx="0.78" ry="0.39" fill="#d7323e" stroke="#96232b" stroke-width="0.4"/><ellipse transform="translate(162.2 40.9) rotate(32)" rx="0.76" ry="0.38" fill="#c31e2d" stroke="#88151f" stroke-width="0.4"/><ellipse transform="translate(176.8 34.0) rotate(32)" rx="0.78" ry="0.39" fill="#d7323e" stroke="#96232b" stroke-width="0.4"/><ellipse transform="translate(174.7 47.8) rotate(32)" rx="0.73" ry="0.36" fill="#d7323e" stroke="#96232b" stroke-width="0.4"/><ellipse transform="translate(163.6 62.5) rotate(32)" rx="0.98" ry="0.49" fill="#d7323e" stroke="#96232b" stroke-width="0.4"/><ellipse transform="translate(188.6 43.0) rotate(32)" rx="0.71" ry="0.36" fill="#d7323e" stroke="#96232b" stroke-width="0.4"/><ellipse transform="translate(145.5 70.4) rotate(32)" rx="0.86" ry="0.43" fill="#eb7882" stroke="#a4545b" stroke-width="0.4"/><ellipse transform="translate(168.8 51.2) rotate(32)" rx="0.89" ry="0.44" fill="#eb7882" stroke="#a4545b" stroke-width="0.4"/><ellipse transform="translate(160.5 57.2) rotate(32)" rx="0.86" ry="0.43" fill="#c31e2d" stroke="#88151f" stroke-width="0.4"/><ellipse transform="translate(157.6 53.6) rotate(32)" rx="0.89" ry="0.44" fill="#c31e2d" stroke="#88151f" stroke-width="0.4"/><ellipse transform="translate(172.6 36.3) rotate(32)" rx="0.89" ry="0.44" fill="#d7323e" stroke="#96232b" stroke-width="0.4"/><ellipse transform="translate(187.1 41.0) rotate(32)" rx="0.87" ry="0.43" fill="#d7323e" stroke="#96232b" stroke-width="0.4"/><ellipse transform="translate(181.1 55.2) rotate(32)" rx="0.66" ry="0.33" fill="#d7323e" stroke="#96232b" stroke-width="0.4"/><ellipse transform="translate(169.4 47.9) rotate(32)" rx="1.06" ry="0.53" fill="#d7323e" stroke="#96232b" stroke-width="0.4"/><ellipse transform="translate(137.4 54.9) rotate(32)" rx="0.94" ry="0.47" fill="#d7323e" stroke="#96232b" stroke-width="0.4"/><ellipse transform="translate(145.7 42.4) rotate(32)" rx="0.82" ry="0.41" fill="#c31e2d" stroke="#88151f" stroke-width="0.4"/><ellipse transform="translate(146.2 60.3) rotate(32)" rx="0.79" ry="0.40" fill="#c31e2d" stroke="#88151f" stroke-width="0.4"/><ellipse transform="translate(160.1 50.3) rotate(32)" rx="0.97" ry="0.49" fill="#c31e2d" stroke="#88151f" stroke-width="0.4"/><ellipse transform="translate(167.4 36.5) rotate(32)" rx="0.96" ry="0.48" fill="#eb7882" stroke="#a4545b" stroke-width="0.4"/><ellipse transform="translate(179.5 46.6) rotate(32)" rx="0.93" ry="0.46" fill="#d7323e" stroke="#96232b" stroke-width="0.4"/><ellipse transform="translate(133.7 58.0) rotate(32)" rx="0.92" ry="0.46" fill="#c31e2d" stroke="#88151f" stroke-width="0.4"/><ellipse transform="translate(181.5 36.0) rotate(32)" rx="1.03" ry="0.52" fill="#eb7882" stroke="#a4545b" stroke-width="0.4"/><ellipse transform="translate(157.4 49.3) rotate(32)" rx="0.92" ry="0.46" fill="#c31e2d" stroke="#88151f" stroke-width="0.4"/><ellipse transform="translate(188.8 42.2) rotate(32)" rx="1.06" ry="0.53" fill="#d7323e" stroke="#96232b" stroke-width="0.4"/><ellipse transform="translate(144.6 69.0) rotate(32)" rx="0.74" ry="0.37" fill="#c31e2d" stroke="#88151f" stroke-width="0.4"/><ellipse transform="translate(152.9 65.2) rotate(32)" rx="1.01" ry="0.51" fill="#d7323e" stroke="#96232b" stroke-width="0.4"/><ellipse transform="translate(138.4 44.7) rotate(32)" rx="1.08" ry="0.54" fill="#c31e2d" stroke="#88151f" stroke-width="0.4"/><ellipse transform="translate(188.1 40.8) rotate(32)" rx="1.03" ry="0.52" fill="#eb7882" stroke="#a4545b" stroke-width="0.4"/><ellipse transform="translate(183.7 39.6) rotate(32)" rx="0.98" ry="0.49" fill="#c31e2d" stroke="#88151f" stroke-width="0.4"/><ellipse transform="translate(163.3 56.8) rotate(32)" rx="1.09" ry="0.55" fill="#eb7882" stroke="#a4545b" stroke-width="0.4"/><ellipse transform="translate(180.4 33.3) rotate(32)" rx="1.04" ry="0.52" fill="#c31e2d" stroke="#88151f" stroke-width="0.4"/><ellipse transform="translate(144.4 65.9) rotate(32)" rx="0.94" ry="0.47" fill="#d7323e" stroke="#96232b" stroke-width="0.4"/><ellipse transform="translate(178.9 41.2) rotate(32)" rx="0.70" ry="0.35" fill="#eb7882" stroke="#a4545b" stroke-width="0.4"/><ellipse transform="translate(174.4 35.7) rotate(32)" rx="0.79" ry="0.40" fill="#eb7882" stroke="#a4545b" stroke-width="0.4"/><ellipse transform="translate(180.0 48.7) rotate(32)" rx="0.72" ry="0.36" fill="#d7323e" stroke="#96232b" stroke-width="0.4"/><ellipse transform="translate(188.8 36.8) rotate(32)" rx="0.72" ry="0.36" fill="#c31e2d" stroke="#88151f" stroke-width="0.4"/><ellipse transform="translate(149.0 71.8) rotate(32)" rx="0.69" ry="0.35" fill="#eb7882" stroke="#a4545b" stroke-width="0.4"/><ellipse transform="translate(184.1 52.9) rotate(32)" rx="1.02" ry="0.51" fill="#c31e2d" stroke="#88151f" stroke-width="0.4"/><ellipse transform="translate(182.8 50.1) rotate(32)" rx="0.97" ry="0.49" fill="#eb7882" stroke="#a4545b" stroke-width="0.4"/><ellipse transform="translate(192.6 42.8) rotate(32)" rx="0.80" ry="0.40" fill="#c31e2d" stroke="#88151f" stroke-width="0.4"/><ellipse transform="translate(177.1 57.4) rotate(32)" rx="0.89" ry="0.44" fill="#c31e2d" stroke="#88151f" stroke-width="0.4"/><ellipse transform="translate(151.8 52.4) rotate(32)" rx="0.65" ry="0.33" fill="#c31e2d" stroke="#88151f" stroke-width="0.4"/><ellipse transform="translate(178.9 57.1) rotate(32)" rx="0.91" ry="0.46" fill="#d7323e" stroke="#96232b" stroke-width="0.4"/><ellipse transform="translate(166.0 66.0) rotate(32)" rx="0.96" ry="0.48" fill="#c31e2d" stroke="#88151f" stroke-width="0.4"/><ellipse transform="translate(136.2 58.0) rotate(32)" rx="0.96" ry="0.48" fill="#eb7882" stroke="#a4545b" stroke-width="0.4"/><ellipse transform="translate(184.7 45.2) rotate(32)" rx="0.75" ry="0.38" fill="#d7323e" stroke="#96232b" stroke-width="0.4"/><ellipse transform="translate(186.0 42.4) rotate(32)" rx="0.67" ry="0.34" fill="#c31e2d" stroke="#88151f" stroke-width="0.4"/><ellipse transform="translate(191.7 40.2) rotate(32)" rx="0.97" ry="0.48" fill="#eb7882" stroke="#a4545b" stroke-width="0.4"/><ellipse transform="translate(156.9 56.8) rotate(32)" rx="0.73" ry="0.37" fill="#c31e2d" stroke="#88151f" stroke-width="0.4"/><ellipse transform="translate(167.8 50.9) rotate(32)" rx="0.66" ry="0.33" fill="#d7323e" stroke="#96232b" stroke-width="0.4"/><ellipse transform="translate(162.7 63.7) rotate(32)" rx="0.66" ry="0.33" fill="#d7323e" stroke="#96232b" stroke-width="0.4"/><ellipse transform="translate(149.9 49.4) rotate(32)" rx="1.06" ry="0.53" fill="#c31e2d" stroke="#88151f" stroke-width="0.4"/><ellipse transform="translate(161.3 41.3) rotate(32)" rx="1.07" ry="0.54" fill="#d7323e" stroke="#96232b" stroke-width="0.4"/><ellipse transform="translate(165.7 58.3) rotate(32)" rx="0.87" ry="0.43" fill="#d7323e" stroke="#96232b" stroke-width="0.4"/><ellipse transform="translate(171.1 56.8) rotate(32)" rx="1.07" ry="0.53" fill="#d7323e" stroke="#96232b" stroke-width="0.4"/><ellipse transform="translate(160.4 53.7) rotate(32)" rx="1.08" ry="0.54" fill="#d7323e" stroke="#96232b" stroke-width="0.4"/><ellipse transform="translate(183.0 42.5) rotate(32)" rx="0.69" ry="0.35" fill="#eb7882" stroke="#a4545b" stroke-width="0.4"/><ellipse transform="translate(169.5 38.6) rotate(32)" rx="0.74" ry="0.37" fill="#c31e2d" stroke="#88151f" stroke-width="0.4"/><ellipse transform="translate(161.8 49.5) rotate(32)" rx="0.73" ry="0.36" fill="#d7323e" stroke="#96232b" stroke-width="0.4"/><ellipse transform="translate(165.5 45.1) rotate(32)" rx="1.05" ry="0.53" fill="#c31e2d" stroke="#88151f" stroke-width="0.4"/><ellipse transform="translate(184.4 39.6) rotate(32)" rx="0.98" ry="0.49" fill="#eb7882" stroke="#a4545b" stroke-width="0.4"/><ellipse transform="translate(172.7 53.0) rotate(32)" rx="0.66" ry="0.33" fill="#d7323e" stroke="#96232b" stroke-width="0.4"/><ellipse transform="translate(157.7 61.9) rotate(32)" rx="0.98" ry="0.49" fill="#d7323e" stroke="#96232b" stroke-width="0.4"/><ellipse transform="translate(155.3 58.5) rotate(32)" rx="0.69" ry="0.35" fill="#d7323e" stroke="#96232b" stroke-width="0.4"/><ellipse transform="translate(181.8 52.2) rotate(32)" rx="0.87" ry="0.43" fill="#d7323e" stroke="#96232b" stroke-width="0.4"/><ellipse transform="translate(166.0 64.1) rotate(32)" rx="0.97" ry="0.48" fill="#d7323e" stroke="#96232b" stroke-width="0.4"/><ellipse transform="translate(162.4 47.8) rotate(32)" rx="1.05" ry="0.53" fill="#c31e2d" stroke="#88151f" stroke-width="0.4"/><ellipse transform="translate(180.8 53.6) rotate(32)" rx="0.98" ry="0.49" fill="#c31e2d" stroke="#88151f" stroke-width="0.4"/><ellipse transform="translate(157.6 67.4) rotate(32)" rx="0.86" ry="0.43" fill="#d7323e" stroke="#96232b" stroke-width="0.4"/><ellipse transform="translate(185.5 44.7) rotate(32)" rx="0.73" ry="0.37" fill="#d7323e" stroke="#96232b" stroke-width="0.4"/><ellipse transform="translate(170.6 47.1) rotate(32)" rx="0.92" ry="0.46" fill="#d7323e" stroke="#96232b" stroke-width="0.4"/><ellipse transform="translate(192.0 37.7) rotate(32)" rx="1.06" ry="0.53" fill="#d7323e" stroke="#96232b" stroke-width="0.4"/><ellipse transform="translate(175.3 52.3) rotate(32)" rx="1.06" ry="0.53" fill="#d7323e" stroke="#96232b" stroke-width="0.4"/><ellipse transform="translate(176.0 54.5) rotate(32)" rx="0.81" ry="0.41" fill="#c31e2d" stroke="#88151f" stroke-width="0.4"/><ellipse transform="translate(159.4 52.9) rotate(32)" rx="0.96" ry="0.48" fill="#d7323e" stroke="#96232b" stroke-width="0.4"/><ellipse transform="translate(130.3 55.4) rotate(32)" rx="0.80" ry="0.40" fill="#d7323e" stroke="#96232b" stroke-width="0.4"/><ellipse transform="translate(155.2 61.6) rotate(32)" rx="1.05" ry="0.52" fill="#d7323e" stroke="#96232b" stroke-width="0.4"/><ellipse transform="translate(155.0 60.5) rotate(32)" rx="0.98" ry="0.49" fill="#c31e2d" stroke="#88151f" stroke-width="0.4"/><ellipse transform="translate(141.0 63.8) rotate(32)" rx="0.72" ry="0.36" fill="#c31e2d" stroke="#88151f" stroke-width="0.4"/><ellipse transform="translate(144.0 65.3) rotate(32)" rx="0.99" ry="0.50" fill="#d7323e" stroke="#96232b" stroke-width="0.4"/><ellipse transform="translate(182.7 31.1) rotate(32)" rx="1.06" ry="0.53" fill="#d7323e" stroke="#96232b" stroke-width="0.4"/><ellipse transform="translate(184.0 43.7) rotate(32)" rx="0.75" ry="0.38" fill="#c31e2d" stroke="#88151f" stroke-width="0.4"/><ellipse transform="translate(159.4 54.5) rotate(32)" rx="1.07" ry="0.54" fill="#d7323e" stroke="#96232b" stroke-width="0.4"/><ellipse transform="translate(167.9 43.0) rotate(32)" rx="1.09" ry="0.55" fill="#d7323e" stroke="#96232b" stroke-width="0.4"/><ellipse transform="translate(156.1 55.1) rotate(32)" rx="0.86" ry="0.43" fill="#eb7882" stroke="#a4545b" stroke-width="0.4"/><ellipse transform="translate(134.5 51.9) rotate(32)" rx="0.82" ry="0.41" fill="#d7323e" stroke="#96232b" stroke-width="0.4"/><ellipse transform="translate(165.0 63.5) rotate(32)" rx="0.77" ry="0.39" fill="#eb7882" stroke="#a4545b" stroke-width="0.4"/><ellipse transform="translate(135.8 66.2) rotate(32)" rx="1.03" ry="0.51" fill="#c31e2d" stroke="#88151f" stroke-width="0.4"/><ellipse transform="translate(186.5 49.9) rotate(32)" rx="0.74" ry="0.37" fill="#d7323e" stroke="#96232b" stroke-width="0.4"/><ellipse transform="translate(176.4 50.7) rotate(32)" rx="0.85" ry="0.43" fill="#d7323e" stroke="#96232b" stroke-width="0.4"/><ellipse transform="translate(137.8 56.6) rotate(32)" rx="0.92" ry="0.46" fill="#d7323e" stroke="#96232b" stroke-width="0.4"/><ellipse transform="translate(187.2 47.0) rotate(32)" rx="0.81" ry="0.40" fill="#d7323e" stroke="#96232b" stroke-width="0.4"/><ellipse transform="translate(163.7 54.8) rotate(32)" rx="0.83" ry="0.42" fill="#eb7882" stroke="#a4545b" stroke-width="0.4"/><ellipse transform="translate(166.9 65.0) rotate(32)" rx="0.72" ry="0.36" fill="#c31e2d" stroke="#88151f" stroke-width="0.4"/><ellipse transform="translate(171.2 61.9) rotate(32)" rx="1.04" ry="0.52" fill="#d7323e" stroke="#96232b" stroke-width="0.4"/><ellipse transform="translate(161.4 67.7) rotate(32)" rx="0.66" ry="0.33" fill="#d7323e" stroke="#96232b" stroke-width="0.4"/><ellipse transform="translate(162.5 50.6) rotate(32)" rx="0.86" ry="0.43" fill="#c31e2d" stroke="#88151f" stroke-width="0.4"/><ellipse transform="translate(165.5 59.5) rotate(32)" rx="0.82" ry="0.41" fill="#d7323e" stroke="#96232b" stroke-width="0.4"/><ellipse transform="translate(161.2 51.6) rotate(32)" rx="0.68" ry="0.34" fill="#eb7882" stroke="#a4545b" stroke-width="0.4"/><ellipse transform="translate(158.2 69.4) rotate(32)" rx="0.90" ry="0.45" fill="#d7323e" stroke="#96232b" stroke-width="0.4"/><ellipse transform="translate(156.3 39.6) rotate(32)" rx="0.94" ry="0.47" fill="#c31e2d" stroke="#88151f" stroke-width="0.4"/><ellipse transform="translate(143.6 45.7) rotate(32)" rx="1.05" ry="0.52" fill="#c31e2d" stroke="#88151f" stroke-width="0.4"/><ellipse transform="translate(174.6 55.6) rotate(32)" rx="0.81" ry="0.41" fill="#d7323e" stroke="#96232b" stroke-width="0.4"/><ellipse transform="translate(175.8 46.2) rotate(32)" rx="0.76" ry="0.38" fill="#d7323e" stroke="#96232b" stroke-width="0.4"/><ellipse transform="translate(182.1 38.5) rotate(32)" rx="0.95" ry="0.47" fill="#d7323e" stroke="#96232b" stroke-width="0.4"/><ellipse transform="translate(164.4 48.1) rotate(32)" rx="0.79" ry="0.40" fill="#c31e2d" stroke="#88151f" stroke-width="0.4"/><ellipse transform="translate(158.0 66.2) rotate(32)" rx="0.65" ry="0.33" fill="#d7323e" stroke="#96232b" stroke-width="0.4"/><ellipse transform="translate(161.7 42.7) rotate(32)" rx="0.82" ry="0.41" fill="#d7323e" stroke="#96232b" stroke-width="0.4"/><ellipse transform="translate(173.5 61.3) rotate(32)" rx="0.90" ry="0.45" fill="#d7323e" stroke="#96232b" stroke-width="0.4"/><ellipse transform="translate(163.4 44.2) rotate(32)" rx="0.69" ry="0.35" fill="#eb7882" stroke="#a4545b" stroke-width="0.4"/><ellipse transform="translate(174.9 43.3) rotate(32)" rx="1.09" ry="0.54" fill="#c31e2d" stroke="#88151f" stroke-width="0.4"/><ellipse transform="translate(134.5 50.5) rotate(32)" rx="0.99" ry="0.50" fill="#d7323e" stroke="#96232b" stroke-width="0.4"/><ellipse transform="translate(135.8 69.8) rotate(32)" rx="0.98" ry="0.49" fill="#d7323e" stroke="#96232b" stroke-width="0.4"/><ellipse transform="translate(173.9 35.5) rotate(32)" rx="0.76" ry="0.38" fill="#d7323e" stroke="#96232b" stroke-width="0.4"/><ellipse transform="translate(156.5 38.9) rotate(32)" rx="0.85" ry="0.42" fill="#c31e2d" stroke="#88151f" stroke-width="0.4"/><ellipse transform="translate(141.0 59.3) rotate(32)" rx="0.89" ry="0.45" fill="#c31e2d" stroke="#88151f" stroke-width="0.4"/><ellipse transform="translate(154.2 67.6) rotate(32)" rx="0.83" ry="0.41" fill="#eb7882" stroke="#a4545b" stroke-width="0.4"/><ellipse transform="translate(174.1 41.5) rotate(32)" rx="0.77" ry="0.38" fill="#d7323e" stroke="#96232b" stroke-width="0.4"/><ellipse transform="translate(161.9 57.4) rotate(32)" rx="1.01" ry="0.51" fill="#c31e2d" stroke="#88151f" stroke-width="0.4"/><ellipse transform="translate(181.0 40.6) rotate(32)" rx="0.85" ry="0.42" fill="#c31e2d" stroke="#88151f" stroke-width="0.4"/><ellipse transform="translate(160.0 57.8) rotate(32)" rx="0.76" ry="0.38" fill="#d7323e" stroke="#96232b" stroke-width="0.4"/><ellipse transform="translate(161.8 37.1) rotate(32)" rx="0.73" ry="0.36" fill="#c31e2d" stroke="#88151f" stroke-width="0.4"/><ellipse transform="translate(158.5 65.2) rotate(32)" rx="0.76" ry="0.38" fill="#d7323e" stroke="#96232b" stroke-width="0.4"/><ellipse transform="translate(157.9 57.5) rotate(32)" rx="0.66" ry="0.33" fill="#c31e2d" stroke="#88151f" stroke-width="0.4"/><ellipse transform="translate(152.9 52.6) rotate(32)" rx="0.89" ry="0.44" fill="#eb7882" stroke="#a4545b" stroke-width="0.4"/><ellipse transform="translate(178.3 47.2) rotate(32)" rx="0.66" ry="0.33" fill="#d7323e" stroke="#96232b" stroke-width="0.4"/><ellipse transform="translate(152.5 52.0) rotate(32)" rx="0.78" ry="0.39" fill="#d7323e" stroke="#96232b" stroke-width="0.4"/><ellipse transform="translate(150.9 47.1) rotate(32)" rx="0.70" ry="0.35" fill="#d7323e" stroke="#96232b" stroke-width="0.4"/><ellipse transform="translate(160.8 54.7) rotate(32)" rx="0.80" ry="0.40" fill="#c31e2d" stroke="#88151f" stroke-width="0.4"/><ellipse transform="translate(163.0 47.6) rotate(32)" rx="0.66" ry="0.33" fill="#c31e2d" stroke="#88151f" stroke-width="0.4"/><ellipse transform="translate(166.6 54.1) rotate(32)" rx="1.05" ry="0.53" fill="#eb7882" stroke="#a4545b" stroke-width="0.4"/><ellipse transform="translate(142.1 75.0) rotate(32)" rx="0.96" ry="0.48" fill="#c31e2d" stroke="#88151f" stroke-width="0.4"/><ellipse transform="translate(170.4 63.4) rotate(32)" rx="0.86" ry="0.43" fill="#c31e2d" stroke="#88151f" stroke-width="0.4"/><ellipse transform="translate(146.5 68.5) rotate(32)" rx="1.01" ry="0.50" fill="#c31e2d" stroke="#88151f" stroke-width="0.4"/><ellipse transform="translate(162.0 43.7) rotate(32)" rx="0.65" ry="0.33" fill="#c31e2d" stroke="#88151f" stroke-width="0.4"/><ellipse transform="translate(129.4 63.0) rotate(32)" rx="0.91" ry="0.45" fill="#c31e2d" stroke="#88151f" stroke-width="0.4"/><ellipse transform="translate(163.4 42.8) rotate(32)" rx="1.09" ry="0.54" fill="#d7323e" stroke="#96232b" stroke-width="0.4"/><ellipse transform="translate(190.6 39.4) rotate(32)" rx="0.99" ry="0.49" fill="#c31e2d" stroke="#88151f" stroke-width="0.4"/><ellipse transform="translate(172.2 47.8) rotate(32)" rx="0.69" ry="0.35" fill="#c31e2d" stroke="#88151f" stroke-width="0.4"/><ellipse transform="translate(182.4 40.9) rotate(32)" rx="1.01" ry="0.50" fill="#c31e2d" stroke="#88151f" stroke-width="0.4"/><ellipse transform="translate(183.6 29.9) rotate(32)" rx="0.81" ry="0.41" fill="#c31e2d" stroke="#88151f" stroke-width="0.4"/><ellipse transform="translate(143.7 50.8) rotate(32)" rx="1.08" ry="0.54" fill="#c31e2d" stroke="#88151f" stroke-width="0.4"/><ellipse transform="translate(140.4 55.3) rotate(32)" rx="0.96" ry="0.48" fill="#c31e2d" stroke="#88151f" stroke-width="0.4"/><ellipse transform="translate(143.8 57.6) rotate(32)" rx="0.98" ry="0.49" fill="#c31e2d" stroke="#88151f" stroke-width="0.4"/><ellipse transform="translate(152.6 42.4) rotate(32)" rx="0.77" ry="0.38" fill="#c31e2d" stroke="#88151f" stroke-width="0.4"/><ellipse transform="translate(172.5 63.3) rotate(32)" rx="0.80" ry="0.40" fill="#eb7882" stroke="#a4545b" stroke-width="0.4"/><ellipse transform="translate(164.9 53.3) rotate(32)" rx="0.70" ry="0.35" fill="#eb7882" stroke="#a4545b" stroke-width="0.4"/><ellipse transform="translate(142.4 47.2) rotate(32)" rx="0.99" ry="0.50" fill="#d7323e" stroke="#96232b" stroke-width="0.4"/><ellipse transform="translate(179.1 48.5) rotate(32)" rx="0.96" ry="0.48" fill="#eb7882" stroke="#a4545b" stroke-width="0.4"/><ellipse transform="translate(189.5 35.7) rotate(32)" rx="0.75" ry="0.38" fill="#c31e2d" stroke="#88151f" stroke-width="0.4"/><ellipse transform="translate(181.6 44.5) rotate(32)" rx="0.85" ry="0.43" fill="#c31e2d" stroke="#88151f" stroke-width="0.4"/><ellipse transform="translate(146.8 50.2) rotate(32)" rx="1.01" ry="0.51" fill="#eb7882" stroke="#a4545b" stroke-width="0.4"/><ellipse transform="translate(163.5 52.8) rotate(32)" rx="1.08" ry="0.54" fill="#c31e2d" stroke="#88151f" stroke-width="0.4"/><ellipse transform="translate(157.1 52.9) rotate(32)" rx="0.78" ry="0.39" fill="#d7323e" stroke="#96232b" stroke-width="0.4"/><ellipse transform="translate(184.7 34.0) rotate(32)" rx="0.96" ry="0.48" fill="#c31e2d" stroke="#88151f" stroke-width="0.4"/><ellipse transform="translate(185.7 49.1) rotate(32)" rx="0.81" ry="0.41" fill="#d7323e" stroke="#96232b" stroke-width="0.4"/><ellipse transform="translate(160.8 65.2) rotate(32)" rx="0.75" ry="0.37" fill="#c31e2d" stroke="#88151f" stroke-width="0.4"/><ellipse transform="translate(168.8 61.5) rotate(32)" rx="0.67" ry="0.33" fill="#c31e2d" stroke="#88151f" stroke-width="0.4"/><ellipse transform="translate(150.6 52.9) rotate(32)" rx="0.91" ry="0.45" fill="#d7323e" stroke="#96232b" stroke-width="0.4"/><ellipse transform="translate(168.9 43.5) rotate(32)" rx="0.99" ry="0.49" fill="#c31e2d" stroke="#88151f" stroke-width="0.4"/><ellipse transform="translate(181.9 46.5) rotate(32)" rx="0.67" ry="0.34" fill="#d7323e" stroke="#96232b" stroke-width="0.4"/><ellipse transform="translate(134.9 54.6) rotate(32)" rx="1.00" ry="0.50" fill="#d7323e" stroke="#96232b" stroke-width="0.4"/><ellipse transform="translate(174.3 46.0) rotate(32)" rx="0.97" ry="0.48" fill="#d7323e" stroke="#96232b" stroke-width="0.4"/><ellipse transform="translate(148.7 42.7) rotate(32)" rx="0.82" ry="0.41" fill="#d7323e" stroke="#96232b" stroke-width="0.4"/><ellipse transform="translate(171.5 63.7) rotate(32)" rx="0.78" ry="0.39" fill="#c31e2d" stroke="#88151f" stroke-width="0.4"/><ellipse transform="translate(188.0 33.3) rotate(32)" rx="0.81" ry="0.41" fill="#eb7882" stroke="#a4545b" stroke-width="0.4"/><ellipse transform="translate(174.4 40.4) rotate(32)" rx="0.89" ry="0.45" fill="#eb7882" stroke="#a4545b" stroke-width="0.4"/><ellipse transform="translate(140.6 58.2) rotate(32)" rx="0.67" ry="0.33" fill="#c31e2d" stroke="#88151f" stroke-width="0.4"/><ellipse transform="translate(170.0 51.3) rotate(32)" rx="1.05" ry="0.52" fill="#eb7882" stroke="#a4545b" stroke-width="0.4"/><ellipse transform="translate(185.4 55.3) rotate(32)" rx="0.92" ry="0.46" fill="#d7323e" stroke="#96232b" stroke-width="0.4"/><ellipse transform="translate(148.6 55.7) rotate(32)" rx="0.79" ry="0.40" fill="#eb7882" stroke="#a4545b" stroke-width="0.4"/><ellipse transform="translate(160.1 41.6) rotate(32)" rx="0.89" ry="0.45" fill="#d7323e" stroke="#96232b" stroke-width="0.4"/><ellipse transform="translate(183.5 52.5) rotate(32)" rx="0.68" ry="0.34" fill="#c31e2d" stroke="#88151f" stroke-width="0.4"/><ellipse transform="translate(145.7 74.4) rotate(32)" rx="0.89" ry="0.44" fill="#c31e2d" stroke="#88151f" stroke-width="0.4"/><ellipse transform="translate(179.0 46.3) rotate(32)" rx="0.99" ry="0.50" fill="#d7323e" stroke="#96232b" stroke-width="0.4"/><ellipse transform="translate(165.4 35.1) rotate(32)" rx="0.71" ry="0.35" fill="#c31e2d" stroke="#88151f" stroke-width="0.4"/><ellipse transform="translate(173.8 46.0) rotate(32)" rx="0.93" ry="0.47" fill="#d7323e" stroke="#96232b" stroke-width="0.4"/><ellipse transform="translate(162.5 56.3) rotate(32)" rx="1.07" ry="0.54" fill="#eb7882" stroke="#a4545b" stroke-width="0.4"/><ellipse transform="translate(159.7 72.6) rotate(32)" rx="0.72" ry="0.36" fill="#c31e2d" stroke="#88151f" stroke-width="0.4"/><ellipse transform="translate(133.1 46.1) rotate(32)" rx="1.09" ry="0.54" fill="#c31e2d" stroke="#88151f" stroke-width="0.4"/><ellipse transform="translate(181.6 46.2) rotate(32)" rx="0.66" ry="0.33" fill="#c31e2d" stroke="#88151f" stroke-width="0.4"/><ellipse transform="translate(155.5 56.2) rotate(32)" rx="0.92" ry="0.46" fill="#c31e2d" stroke="#88151f" stroke-width="0.4"/><ellipse transform="translate(161.9 50.1) rotate(32)" rx="1.06" ry="0.53" fill="#c31e2d" stroke="#88151f" stroke-width="0.4"/><ellipse transform="translate(165.6 45.4) rotate(32)" rx="1.05" ry="0.52" fill="#d7323e" stroke="#96232b" stroke-width="0.4"/><ellipse transform="translate(164.5 45.7) rotate(32)" rx="0.69" ry="0.35" fill="#c31e2d" stroke="#88151f" stroke-width="0.4"/><ellipse transform="translate(173.1 49.2) rotate(32)" rx="0.73" ry="0.37" fill="#eb7882" stroke="#a4545b" stroke-width="0.4"/><ellipse transform="translate(165.4 54.9) rotate(32)" rx="0.88" ry="0.44" fill="#c31e2d" stroke="#88151f" stroke-width="0.4"/><ellipse transform="translate(151.2 58.1) rotate(32)" rx="0.74" ry="0.37" fill="#d7323e" stroke="#96232b" stroke-width="0.4"/><ellipse transform="translate(166.9 53.8) rotate(32)" rx="0.67" ry="0.33" fill="#eb7882" stroke="#a4545b" stroke-width="0.4"/><ellipse transform="translate(169.8 40.9) rotate(32)" rx="0.74" ry="0.37" fill="#eb7882" stroke="#a4545b" stroke-width="0.4"/><ellipse transform="translate(167.4 66.2) rotate(32)" rx="0.86" ry="0.43" fill="#c31e2d" stroke="#88151f" stroke-width="0.4"/><ellipse transform="translate(145.8 64.6) rotate(32)" rx="0.79" ry="0.40" fill="#eb7882" stroke="#a4545b" stroke-width="0.4"/><ellipse transform="translate(173.5 47.9) rotate(32)" rx="0.73" ry="0.36" fill="#c31e2d" stroke="#88151f" stroke-width="0.4"/><ellipse transform="translate(171.0 49.3) rotate(32)" rx="0.71" ry="0.35" fill="#d7323e" stroke="#96232b" stroke-width="0.4"/><ellipse transform="translate(157.9 42.7) rotate(32)" rx="0.90" ry="0.45" fill="#d7323e" stroke="#96232b" stroke-width="0.4"/><ellipse transform="translate(150.5 55.6) rotate(32)" rx="0.98" ry="0.49" fill="#d7323e" stroke="#96232b" stroke-width="0.4"/><ellipse transform="translate(181.4 31.2) rotate(32)" rx="0.67" ry="0.33" fill="#d7323e" stroke="#96232b" stroke-width="0.4"/><ellipse transform="translate(182.4 57.1) rotate(32)" rx="0.67" ry="0.34" fill="#d7323e" stroke="#96232b" stroke-width="0.4"/><ellipse transform="translate(174.3 41.6) rotate(32)" rx="0.91" ry="0.45" fill="#d7323e" stroke="#96232b" stroke-width="0.4"/><ellipse transform="translate(143.2 61.1) rotate(32)" rx="1.02" ry="0.51" fill="#c31e2d" stroke="#88151f" stroke-width="0.4"/><ellipse transform="translate(193.3 34.7) rotate(32)" rx="0.97" ry="0.48" fill="#c31e2d" stroke="#88151f" stroke-width="0.4"/><ellipse transform="translate(184.2 35.8) rotate(32)" rx="0.68" ry="0.34" fill="#eb7882" stroke="#a4545b" stroke-width="0.4"/><ellipse transform="translate(159.2 69.1) rotate(32)" rx="0.77" ry="0.39" fill="#d7323e" stroke="#96232b" stroke-width="0.4"/><ellipse transform="translate(166.7 60.3) rotate(32)" rx="1.02" ry="0.51" fill="#c31e2d" stroke="#88151f" stroke-width="0.4"/><ellipse transform="translate(156.4 49.2) rotate(32)" rx="0.86" ry="0.43" fill="#eb7882" stroke="#a4545b" stroke-width="0.4"/><ellipse transform="translate(143.3 48.0) rotate(32)" rx="0.84" ry="0.42" fill="#eb7882" stroke="#a4545b" stroke-width="0.4"/><ellipse transform="translate(186.9 39.5) rotate(32)" rx="0.69" ry="0.34" fill="#d7323e" stroke="#96232b" stroke-width="0.4"/><ellipse transform="translate(158.9 38.2) rotate(32)" rx="1.03" ry="0.51" fill="#eb7882" stroke="#a4545b" stroke-width="0.4"/><ellipse transform="translate(188.4 44.8) rotate(32)" rx="0.81" ry="0.41" fill="#eb7882" stroke="#a4545b" stroke-width="0.4"/><ellipse transform="translate(163.4 38.4) rotate(32)" rx="0.69" ry="0.35" fill="#eb7882" stroke="#a4545b" stroke-width="0.4"/><ellipse transform="translate(166.4 42.7) rotate(32)" rx="0.91" ry="0.45" fill="#c31e2d" stroke="#88151f" stroke-width="0.4"/><ellipse transform="translate(163.3 38.9) rotate(32)" rx="0.70" ry="0.35" fill="#c31e2d" stroke="#88151f" stroke-width="0.4"/><ellipse transform="translate(145.6 65.2) rotate(32)" rx="0.65" ry="0.33" fill="#c31e2d" stroke="#88151f" stroke-width="0.4"/><ellipse transform="translate(187.8 34.4) rotate(32)" rx="0.75" ry="0.37" fill="#eb7882" stroke="#a4545b" stroke-width="0.4"/><ellipse transform="translate(162.9 66.7) rotate(32)" rx="1.09" ry="0.54" fill="#c31e2d" stroke="#88151f" stroke-width="0.4"/><ellipse transform="translate(159.0 39.0) rotate(32)" rx="0.72" ry="0.36" fill="#d7323e" stroke="#96232b" stroke-width="0.4"/></g><line x1="150" y1="47" x2="188" y2="65" stroke="#8a8a8a" stroke-width="0.5" stroke-dasharray="1.3 0.7"/><line x1="128" y1="72" x2="156" y2="85" stroke="#8a8a8a" stroke-width="0.5" stroke-dasharray="1.3 0.7"/><line x1="108" y1="92" x2="126" y2="100" stroke="#8a8a8a" stroke-width="0.5" stroke-dasharray="1.3 0.7"/><line x1="72" y1="106" x2="92" y2="114" stroke="#8a8a8a" stroke-width="0.5" stroke-dasharray="1.3 0.7"/><g fill="#888"><circle cx="115.0" cy="65.5" r="0.35"/><circle cx="85.1" cy="105.6" r="0.35"/><circle cx="101.5" cy="69.4" r="0.35"/><circle cx="80.6" cy="86.1" r="0.35"/><circle cx="99.5" cy="81.2" r="0.35"/><circle cx="68.7" cy="109.5" r="0.35"/><circle cx="112.0" cy="59.1" r="0.35"/><circle cx="114.0" cy="65.6" r="0.35"/><circle cx="114.4" cy="48.4" r="0.35"/><circle cx="99.4" cy="73.1" r="0.35"/><circle cx="115.0" cy="61.4" r="0.35"/><circle cx="90.4" cy="100.3" r="0.35"/><circle cx="93.8" cy="73.5" r="0.35"/><circle cx="118.9" cy="55.0" r="0.35"/><circle cx="81.1" cy="100.0" r="0.35"/><circle cx="119.4" cy="87.3" r="0.35"/><circle cx="158.0" cy="63.8" r="0.35"/><circle cx="146.4" cy="51.7" r="0.35"/><circle cx="93.2" cy="90.0" r="0.35"/><circle cx="175.3" cy="31.0" r="0.35"/><circle cx="73.6" cy="91.8" r="0.35"/><circle cx="104.2" cy="88.4" r="0.35"/><circle cx="143.6" cy="78.1" r="0.35"/><circle cx="127.1" cy="53.0" r="0.35"/><circle cx="145.8" cy="50.8" r="0.35"/><circle cx="124.1" cy="71.1" r="0.35"/><circle cx="117.9" cy="87.8" r="0.35"/><circle cx="132.4" cy="72.2" r="0.35"/><circle cx="154.3" cy="52.9" r="0.35"/><circle cx="139.9" cy="55.5" r="0.35"/><circle cx="140.5" cy="81.3" r="0.35"/><circle cx="147.3" cy="65.5" r="0.35"/><circle cx="109.9" cy="101.0" r="0.35"/><circle cx="109.3" cy="68.2" r="0.35"/><circle cx="156.8" cy="64.2" r="0.35"/><circle cx="108.7" cy="98.2" r="0.35"/><circle cx="145.3" cy="54.2" r="0.35"/><circle cx="189.7" cy="70.8" r="0.35"/><circle cx="109.8" cy="75.8" r="0.35"/><circle cx="154.1" cy="44.5" r="0.35"/><circle cx="173.8" cy="45.2" r="0.35"/><circle cx="169.1" cy="61.9" r="0.35"/><circle cx="138.0" cy="60.2" r="0.35"/><circle cx="109.2" cy="73.7" r="0.35"/><circle cx="191.6" cy="38.5" r="0.35"/><circle cx="174.5" cy="47.7" r="0.35"/><circle cx="57.4" cy="99.3" r="0.35"/><circle cx="42.3" cy="116.3" r="0.35"/><circle cx="77.4" cy="75.2" r="0.35"/><circle cx="127.5" cy="64.9" r="0.35"/><circle cx="130.5" cy="101.5" r="0.35"/><circle cx="171.5" cy="53.3" r="0.35"/><circle cx="183.4" cy="63.1" r="0.35"/><circle cx="76.1" cy="86.3" r="0.35"/><circle cx="121.2" cy="75.8" r="0.35"/><circle cx="77.9" cy="98.3" r="0.35"/><circle cx="149.5" cy="68.9" r="0.35"/><circle cx="186.9" cy="8.8" r="0.35"/><circle cx="123.4" cy="73.4" r="0.35"/><circle cx="135.6" cy="78.1" r="0.35"/></g><g><circle cx="76.0" cy="105.8" r="0.60" fill="#8090b0"/><circle cx="69.2" cy="111.0" r="0.52" fill="#6070b8"/><circle cx="73.7" cy="111.1" r="0.65" fill="#9aa0b0"/><circle cx="54.1" cy="119.0" r="0.61" fill="#6070b8"/><circle cx="65.7" cy="114.0" r="0.66" fill="#8090b0"/><circle cx="56.7" cy="118.5" r="0.63" fill="#9aa0b0"/><circle cx="88.0" cy="102.3" r="0.78" fill="#6070b8"/><circle cx="73.1" cy="109.9" r="0.47" fill="#8090b0"/><circle cx="61.1" cy="117.7" r="0.72" fill="#9aa0b0"/><circle cx="91.5" cy="101.2" r="0.51" fill="#5a6a9a"/><circle cx="54.0" cy="117.2" r="0.70" fill="#6070b8"/><circle cx="78.9" cy="106.5" r="0.78" fill="#5a6a9a"/><circle cx="63.0" cy="109.1" r="0.78" fill="#9aa0b0"/><circle cx="55.0" cy="114.3" r="0.72" fill="#5a6a9a"/><circle cx="76.6" cy="109.9" r="0.80" fill="#5a6a9a"/><circle cx="90.4" cy="94.3" r="0.83" fill="#9aa0b0"/><circle cx="60.4" cy="111.2" r="0.57" fill="#6070b8"/><circle cx="54.8" cy="118.5" r="0.78" fill="#9aa0b0"/><circle cx="63.3" cy="116.6" r="0.66" fill="#5a6a9a"/><circle cx="58.8" cy="113.9" r="0.52" fill="#9aa0b0"/><circle cx="68.8" cy="109.4" r="0.61" fill="#5a6a9a"/><circle cx="60.3" cy="118.2" r="0.82" fill="#8090b0"/><circle cx="68.4" cy="107.1" r="0.72" fill="#6070b8"/><circle cx="94.0" cy="99.0" r="0.48" fill="#8090b0"/><circle cx="64.4" cy="108.8" r="0.61" fill="#5a6a9a"/><circle cx="69.0" cy="108.3" r="0.49" fill="#6070b8"/><circle cx="84.8" cy="100.3" r="0.53" fill="#5a6a9a"/><circle cx="50.3" cy="123.7" r="0.52" fill="#5a6a9a"/><circle cx="92.1" cy="102.0" r="0.77" fill="#8090b0"/><circle cx="58.1" cy="118.0" r="0.84" fill="#5a6a9a"/><circle cx="69.8" cy="107.3" r="0.69" fill="#6070b8"/><circle cx="59.5" cy="115.7" r="0.65" fill="#6070b8"/><circle cx="67.3" cy="110.0" r="0.71" fill="#8090b0"/><circle cx="67.3" cy="111.7" r="0.70" fill="#9aa0b0"/><circle cx="88.9" cy="99.1" r="0.51" fill="#8090b0"/><circle cx="82.3" cy="104.9" r="0.45" fill="#9aa0b0"/><circle cx="78.3" cy="101.4" r="0.67" fill="#9aa0b0"/><circle cx="55.1" cy="119.9" r="0.56" fill="#9aa0b0"/><circle cx="51.2" cy="120.4" r="0.74" fill="#5a6a9a"/><circle cx="85.7" cy="103.1" r="0.60" fill="#9aa0b0"/><circle cx="58.2" cy="114.6" r="0.46" fill="#5a6a9a"/><circle cx="51.6" cy="123.4" r="0.45" fill="#9aa0b0"/><circle cx="74.1" cy="111.1" r="0.75" fill="#6070b8"/><circle cx="49.4" cy="123.0" r="0.70" fill="#6070b8"/><circle cx="77.8" cy="103.5" r="0.76" fill="#9aa0b0"/></g><circle cx="37.8" cy="114" r="11.8" fill="#ab6cc0" stroke="#6a3a80" stroke-width="0.7"/><circle cx="39" cy="113" r="8.5" fill="none" stroke="#8a4aa0" stroke-width="0.6" opacity="0.6"/><g stroke-width="0.3"><circle cx="55.7" cy="100.7" r="1.04" fill="#6080c8" stroke="#304080"/><circle cx="53.7" cy="110.3" r="0.97" fill="#6080c8" stroke="#304080"/><circle cx="54.2" cy="104.3" r="1.03" fill="#6080c8" stroke="#304080"/><circle cx="56.1" cy="100.5" r="0.71" fill="#6080c8" stroke="#304080"/><circle cx="48.8" cy="106.9" r="0.88" fill="#6080c8" stroke="#304080"/><circle cx="45.5" cy="113.3" r="0.69" fill="#6080c8" stroke="#304080"/><circle cx="57.5" cy="103.3" r="1.07" fill="#6080c8" stroke="#304080"/><circle cx="47.7" cy="110.5" r="0.75" fill="#6080c8" stroke="#304080"/><circle cx="44.1" cy="112.3" r="1.07" fill="#6080c8" stroke="#304080"/><circle cx="56.9" cy="104.8" r="0.88" fill="#6080c8" stroke="#304080"/><circle cx="53.0" cy="101.1" r="0.97" fill="#6080c8" stroke="#304080"/><circle cx="48.7" cy="113.8" r="0.88" fill="#6080c8" stroke="#304080"/><circle cx="49.4" cy="109.2" r="0.81" fill="#6080c8" stroke="#304080"/><circle cx="50.3" cy="109.2" r="0.61" fill="#6080c8" stroke="#304080"/><circle cx="53.2" cy="103.0" r="1.03" fill="#6080c8" stroke="#304080"/><circle cx="43.3" cy="113.1" r="0.75" fill="#6080c8" stroke="#304080"/><circle cx="55.2" cy="103.5" r="0.66" fill="#6080c8" stroke="#304080"/><circle cx="52.7" cy="110.5" r="1.00" fill="#6080c8" stroke="#304080"/><circle cx="51.3" cy="104.1" r="0.94" fill="#6080c8" stroke="#304080"/><circle cx="49.8" cy="102.9" r="0.63" fill="#6080c8" stroke="#304080"/><circle cx="44.5" cy="111.9" r="0.86" fill="#6080c8" stroke="#304080"/><circle cx="56.5" cy="105.2" r="0.73" fill="#6080c8" stroke="#304080"/><circle cx="44.4" cy="117.7" r="1.04" fill="#6080c8" stroke="#304080"/><circle cx="51.3" cy="102.7" r="1.01" fill="#6080c8" stroke="#304080"/><circle cx="48.0" cy="105.4" r="1.00" fill="#6080c8" stroke="#304080"/></g><g font-family="Liberation Sans, sans-serif"><text x="34.50" y="83.00" font-size="4.6" text-anchor="start" fill="#111" stroke="#111" stroke-width="0.12"><tspan dy="0.00" font-size="4.6">C</tspan><tspan dy="1.29" font-size="3.13">5</tspan><tspan dy="-1.29" font-size="4.6">H</tspan><tspan dy="1.29" font-size="3.13">8</tspan><tspan dy="-1.29" font-size="4.6">O</tspan><tspan dy="1.29" font-size="3.13">x</tspan><tspan dy="-1.29" font-size="4.6">NO</tspan><tspan dy="1.29" font-size="3.13">3</tspan><tspan dy="-3.04" font-size="3.13">–</tspan></text><text x="57.50" y="62.80" font-size="4.6" text-anchor="start" fill="#111" stroke="#111" stroke-width="0.12"><tspan dy="0.00" font-size="4.6">C</tspan><tspan dy="1.29" font-size="3.13">10</tspan><tspan dy="-1.29" font-size="4.6">H</tspan><tspan dy="1.29" font-size="3.13">16</tspan><tspan dy="-1.29" font-size="4.6">O</tspan><tspan dy="1.29" font-size="3.13">x</tspan><tspan dy="-1.29" font-size="4.6">NO</tspan><tspan dy="1.29" font-size="3.13">3</tspan><tspan dy="-3.04" font-size="3.13">–</tspan></text><text x="83.00" y="46.80" font-size="4.6" text-anchor="start" fill="#111" stroke="#111" stroke-width="0.12"><tspan dy="0.00" font-size="4.6">C</tspan><tspan dy="1.29" font-size="3.13">15</tspan><tspan dy="-1.29" font-size="4.6">H</tspan><tspan dy="1.29" font-size="3.13">24</tspan><tspan dy="-1.29" font-size="4.6">O</tspan><tspan dy="1.29" font-size="3.13">x</tspan><tspan dy="-1.29" font-size="4.6">NO</tspan><tspan dy="1.29" font-size="3.13">3</tspan><tspan dy="-3.04" font-size="3.13">–</tspan></text><text x="117.00" y="32.20" font-size="4.6" text-anchor="start" fill="#111" stroke="#111" stroke-width="0.12"><tspan dy="0.00" font-size="4.6">C</tspan><tspan dy="1.29" font-size="3.13">20</tspan><tspan dy="-1.29" font-size="4.6">H</tspan><tspan dy="1.29" font-size="3.13">32</tspan><tspan dy="-1.29" font-size="4.6">O</tspan><tspan dy="1.29" font-size="3.13">x</tspan><tspan dy="-1.29" font-size="4.6">NO</tspan><tspan dy="1.29" font-size="3.13">3</tspan><tspan dy="-3.04" font-size="3.13">–</tspan></text><text x="92.00" y="123.00" font-size="4.6" text-anchor="start" fill="#111" stroke="#111" stroke-width="0.12"><tspan dy="0.00" font-size="4.6">C</tspan><tspan dy="1.29" font-size="3.13">5</tspan><tspan dy="-1.29" font-size="4.6">H</tspan><tspan dy="1.29" font-size="3.13">8</tspan><tspan dy="-1.29" font-size="4.6">O</tspan><tspan dy="1.29" font-size="3.13">x</tspan><tspan dy="-3.04" font-size="3.13">–</tspan></text><text x="125.00" y="109.30" font-size="4.6" text-anchor="start" fill="#111" stroke="#111" stroke-width="0.12"><tspan dy="0.00" font-size="4.6">C</tspan><tspan dy="1.29" font-size="3.13">10</tspan><tspan dy="-1.29" font-size="4.6">H</tspan><tspan dy="1.29" font-size="3.13">16</tspan><tspan dy="-1.29" font-size="4.6">O</tspan><tspan dy="1.29" font-size="3.13">x</tspan><tspan dy="-3.04" font-size="3.13">–</tspan></text><text x="154.00" y="91.80" font-size="4.6" text-anchor="start" fill="#111" stroke="#111" stroke-width="0.12"><tspan dy="0.00" font-size="4.6">C</tspan><tspan dy="1.29" font-size="3.13">15</tspan><tspan dy="-1.29" font-size="4.6">H</tspan><tspan dy="1.29" font-size="3.13">24</tspan><tspan dy="-1.29" font-size="4.6">O</tspan><tspan dy="1.29" font-size="3.13">x</tspan><tspan dy="-3.04" font-size="3.13">–</tspan></text><text x="180.00" y="71.80" font-size="4.6" text-anchor="start" fill="#111" stroke="#111" stroke-width="0.12"><tspan dy="0.00" font-size="4.6">C</tspan><tspan dy="1.29" font-size="3.13">20</tspan><tspan dy="-1.29" font-size="4.6">H</tspan><tspan dy="1.29" font-size="3.13">32</tspan><tspan dy="-1.29" font-size="4.6">O</tspan><tspan dy="1.29" font-size="3.13">x</tspan><tspan dy="-3.04" font-size="3.13">–</tspan></text></g><line x1="47.5" y1="85" x2="50" y2="89.5" stroke="#111" stroke-width="0.6"/><polygon points="50.00,89.50 47.82,87.74 49.66,86.72" fill="#111"/><line x1="71.8" y1="66" x2="74.5" y2="70.8" stroke="#111" stroke-width="0.6"/><polygon points="74.50,70.80 72.31,69.05 74.14,68.02" fill="#111"/><line x1="102.5" y1="50" x2="105" y2="54.5" stroke="#111" stroke-width="0.6"/><polygon points="105.00,54.50 102.82,52.74 104.66,51.72" fill="#111"/><line x1="134.5" y1="35" x2="137" y2="39.5" stroke="#111" stroke-width="0.6"/><polygon points="137.00,39.50 134.82,37.74 136.66,36.72" fill="#111"/><line x1="95" y1="117" x2="92.5" y2="114.5" stroke="#111" stroke-width="0.6"/><polygon points="92.50,114.50 95.08,115.60 93.60,117.08" fill="#111"/><line x1="128" y1="102" x2="125.5" y2="99.5" stroke="#111" stroke-width="0.6"/><polygon points="125.50,99.50 128.08,100.60 126.60,102.08" fill="#111"/><line x1="159" y1="86.5" x2="156.5" y2="84" stroke="#111" stroke-width="0.6"/><polygon points="156.50,84.00 159.08,85.10 157.60,86.58" fill="#111"/><line x1="184" y1="66" x2="181.5" y2="63.5" stroke="#111" stroke-width="0.6"/><polygon points="181.50,63.50 184.08,64.60 182.60,66.08" fill="#111"/><line x1="281" y1="71" x2="341" y2="88" stroke="#8a8a8a" stroke-width="0.5" stroke-dasharray="1.3 0.7"/><line x1="270" y1="97.5" x2="317.5" y2="111" stroke="#8a8a8a" stroke-width="0.5" stroke-dasharray="1.3 0.7"/><g fill="#777"><circle cx="271.8" cy="74.4" r="0.53"/><circle cx="277.8" cy="76.3" r="0.41"/><circle cx="283.4" cy="78.0" r="0.55"/><circle cx="294.9" cy="80.8" r="0.49"/><circle cx="319.2" cy="87.4" r="0.47"/><circle cx="272.4" cy="78.8" r="0.58"/><circle cx="283.5" cy="83.1" r="0.52"/><circle cx="289.3" cy="83.5" r="0.49"/><circle cx="295.1" cy="85.6" r="0.52"/><circle cx="307.2" cy="89.0" r="0.56"/><circle cx="335.7" cy="96.3" r="0.54"/><circle cx="271.7" cy="83.5" r="0.49"/><circle cx="278.0" cy="84.8" r="0.42"/><circle cx="283.1" cy="86.6" r="0.45"/><circle cx="294.7" cy="89.8" r="0.49"/><circle cx="312.9" cy="95.0" r="0.47"/><circle cx="318.4" cy="96.7" r="0.55"/><circle cx="324.5" cy="98.0" r="0.46"/><circle cx="272.1" cy="88.7" r="0.51"/><circle cx="277.7" cy="90.3" r="0.43"/><circle cx="283.9" cy="91.2" r="0.53"/><circle cx="301.3" cy="96.8" r="0.46"/><circle cx="318.5" cy="100.5" r="0.42"/><circle cx="324.7" cy="102.8" r="0.40"/><circle cx="336.1" cy="105.8" r="0.44"/><circle cx="271.6" cy="93.1" r="0.46"/><circle cx="277.6" cy="95.0" r="0.55"/><circle cx="289.8" cy="97.6" r="0.47"/><circle cx="306.7" cy="102.3" r="0.56"/><circle cx="312.9" cy="103.9" r="0.43"/><circle cx="283.6" cy="101.6" r="0.45"/><circle cx="274.1" cy="107.2" r="0.45"/><circle cx="267.1" cy="111.5" r="0.45"/><circle cx="273.6" cy="100.9" r="0.45"/><circle cx="279.7" cy="105.7" r="0.45"/><circle cx="266.0" cy="104.3" r="0.45"/><circle cx="274.8" cy="106.0" r="0.45"/><circle cx="272.1" cy="100.1" r="0.45"/><circle cx="264.3" cy="105.0" r="0.45"/><circle cx="284.4" cy="102.1" r="0.45"/></g><circle cx="297" cy="76.5" r="1.4" fill="none" stroke="#e0a060" stroke-width="0.4"/><g stroke="#3d5ca8" stroke-width="0.45" fill="#6a90d8" fill-opacity="0.92"><circle cx="242" cy="89.5" r="7.5"/><circle cx="235.5" cy="99.5" r="11.6"/><circle cx="250.5" cy="93.5" r="12"/></g><g fill="none" stroke="#4a68b8" stroke-width="0.35" opacity="0.8"><circle cx="257" cy="93" r="4"/><circle cx="255" cy="98" r="3"/><circle cx="246" cy="97" r="6"/></g><clipPath id="cpb"><circle cx="235.5" cy="99.5" r="11.6"/></clipPath><circle cx="239" cy="107" r="9" fill="#4a5cae" opacity="0.8" clip-path="url(#cpb)"/><circle cx="263" cy="92" r="2.6" fill="#8ab0ea" stroke="#22408a" stroke-width="0.6"/><circle cx="268.6" cy="93.6" r="3.1" fill="#8ab0ea" stroke="#22408a" stroke-width="0.6"/><circle cx="247.5" cy="108" r="2" fill="#4a62b0" stroke="#2d3a80" stroke-width="0.4"/><circle cx="222.3" cy="103.6" r="1.4" fill="#b090d0" stroke="#503070" stroke-width="0.5"/><circle cx="221" cy="108.5" r="0.7" fill="#503070"/><g fill="#888"><circle cx="258" cy="101" r="0.45"/><circle cx="261" cy="103" r="0.45"/><circle cx="264" cy="105" r="0.45"/><circle cx="267" cy="106" r="0.45"/><circle cx="270" cy="104" r="0.45"/><circle cx="273" cy="107" r="0.45"/><circle cx="262" cy="108" r="0.45"/><circle cx="256" cy="104" r="0.45"/></g><g font-family="Liberation Sans, sans-serif"><text x="218.00" y="76.30" font-size="5.1" text-anchor="start" fill="#111" stroke="#111" stroke-width="0.12"><tspan dy="0.00" font-size="5.1">C</tspan><tspan dy="1.43" font-size="3.47">5</tspan><tspan dy="-1.43" font-size="5.1">H</tspan><tspan dy="1.43" font-size="3.47">10</tspan><tspan dy="-1.43" font-size="5.1">O</tspan><tspan dy="1.43" font-size="3.47">x</tspan></text><text x="248.00" y="76.30" font-size="5.1" text-anchor="start" fill="#111" stroke="#111" stroke-width="0.12"><tspan dy="0.00" font-size="5.1">C</tspan><tspan dy="1.43" font-size="3.47">5</tspan><tspan dy="-1.43" font-size="5.1">H</tspan><tspan dy="1.43" font-size="3.47">10</tspan><tspan dy="-1.43" font-size="5.1">O</tspan><tspan dy="1.43" font-size="3.47">3</tspan></text><text x="262.00" y="82.30" font-size="5.1" text-anchor="start" fill="#111" stroke="#111" stroke-width="0.12"><tspan dy="0.00" font-size="5.1">C</tspan><tspan dy="1.43" font-size="3.47">5</tspan><tspan dy="-1.43" font-size="5.1">H</tspan><tspan dy="1.43" font-size="3.47">10</tspan><tspan dy="-1.43" font-size="5.1">O</tspan><tspan dy="1.43" font-size="3.47">4</tspan></text><text x="265.00" y="60.50" font-size="5.1" text-anchor="start" fill="#111" stroke="#111" stroke-width="0.12"><tspan dy="0.00" font-size="5.1">C</tspan><tspan dy="1.43" font-size="3.47">10</tspan><tspan dy="-1.43" font-size="5.1">H</tspan><tspan dy="1.43" font-size="3.47">16</tspan><tspan dy="-1.43" font-size="5.1">O</tspan><tspan dy="1.43" font-size="3.47">x</tspan></text></g><line x1="226" y1="79" x2="229" y2="83.5" stroke="#111" stroke-width="0.6"/><polygon points="229.00,83.50 226.68,81.92 228.43,80.75" fill="#111"/><line x1="256" y1="78" x2="261" y2="88" stroke="#111" stroke-width="0.6"/><polygon points="261.00,88.00 258.90,86.14 260.78,85.20" fill="#111"/><line x1="272" y1="84.5" x2="270" y2="89.5" stroke="#111" stroke-width="0.6"/><polygon points="270.00,89.50 269.99,86.70 271.94,87.48" fill="#111"/><line x1="277" y1="63" x2="280" y2="67.5" stroke="#111" stroke-width="0.6"/><polygon points="280.00,67.50 277.68,65.92 279.43,64.75" fill="#111"/><g font-family="Liberation Sans, sans-serif" font-size="4.8" fill="#111" text-anchor="middle"><text x="343.3" y="20.8">a and c</text><text x="343.3" y="26.6">(unitless)</text><text x="381" y="20.8">b and d</text><text x="381" y="26.6">(cm<tspan font-size="3.2" dy="-1.6">–3</tspan><tspan dy="1.6">)</tspan></text></g><g font-family="Liberation Sans, sans-serif" font-size="4.8" fill="#111" text-anchor="end"><text x="352.5" y="34.2">6 × 10<tspan font-size="3.2" dy="-1.7">–5</tspan></text><text x="352.5" y="41.7">6 × 10<tspan font-size="3.2" dy="-1.7">–4</tspan></text><text x="352.5" y="49.2">6 × 10<tspan font-size="3.2" dy="-1.7">–3</tspan></text><text x="352.5" y="68.2">6 × 10<tspan font-size="3.2" dy="-1.7">–2</tspan></text><text x="392.5" y="34.2">&lt;5 × 10<tspan font-size="3.2" dy="-1.7">5</tspan></text><text x="392.5" y="41.7">10<tspan font-size="3.2" dy="-1.7">6</tspan></text><text x="392.5" y="49.2">10<tspan font-size="3.2" dy="-1.7">7</tspan></text><text x="393.5" y="68.2">&gt;10<tspan font-size="3.2" dy="-1.7">8</tspan></text></g><g fill="none" stroke="#222" stroke-width="0.6"><circle cx="367" cy="32.2" r="0.4" fill="#222"/><circle cx="367.2" cy="39.7" r="1.4"/><circle cx="367.3" cy="47.2" r="3.8"/><circle cx="367" cy="66.5" r="11.8"/></g><defs><linearGradient id="gc" x1="0" y1="1" x2="0" y2="0"><stop offset="0.000" stop-color="#7d5faa"/><stop offset="0.150" stop-color="#5a69c3"/><stop offset="0.300" stop-color="#69a5e4"/><stop offset="0.425" stop-color="#afd7f0"/><stop offset="0.500" stop-color="#f0e4d2"/><stop offset="0.600" stop-color="#f8bc76"/><stop offset="0.700" stop-color="#f2a096"/><stop offset="0.825" stop-color="#e864a0"/><stop offset="1.000" stop-color="#d4233c"/></linearGradient></defs><rect x="388.8" y="86" width="5.8" height="46.4" fill="url(#gc)" stroke="#555" stroke-width="0.4"/><g font-family="Liberation Sans, sans-serif" font-size="4.6" fill="#111" text-anchor="end"><text x="385.8" y="133.90">0</text><text x="385.8" y="122.30">5</text><text x="385.8" y="110.70">10</text><text x="385.8" y="99.10">15</text><text x="385.8" y="87.50">20</text><text transform="translate(376.5 110) rotate(-90)" text-anchor="middle" font-size="5">Number of C</text></g><line x1="89" y1="204.5" x2="117" y2="217.5" stroke="#999" stroke-width="0.45" stroke-dasharray="1.2 0.8"/><line x1="125" y1="190" x2="180" y2="217.5" stroke="#999" stroke-width="0.45" stroke-dasharray="1.2 0.8"/><line x1="100.5" y1="239.5" x2="125" y2="248" stroke="#999" stroke-width="0.45" stroke-dasharray="1.2 0.8"/><line x1="165.6" y1="210" x2="182" y2="215.8" stroke="#999" stroke-width="0.45" stroke-dasharray="1.2 0.8"/><g><circle cx="119.6" cy="199.7" r="1.12" fill="#fcf8f8" stroke="#969696" stroke-width="0.35"/><circle cx="172.2" cy="222.1" r="1.00" fill="#fcf8f8" stroke="#969696" stroke-width="0.35"/><circle cx="130.3" cy="214.8" r="1.29" fill="#4866c4" stroke="#2c3f79" stroke-width="0.35"/><circle cx="111.8" cy="194.2" r="1.43" fill="#4866c4" stroke="#2c3f79" stroke-width="0.35"/><circle cx="148.8" cy="209.9" r="1.15" fill="#f0bed2" stroke="#947582" stroke-width="0.35"/><circle cx="136.4" cy="199.3" r="1.00" fill="#fcf8f8" stroke="#969696" stroke-width="0.35"/><circle cx="149.0" cy="208.6" r="1.05" fill="#fcf8f8" stroke="#969696" stroke-width="0.35"/><circle cx="106.0" cy="198.2" r="1.55" fill="#fad7aa" stroke="#9b8569" stroke-width="0.35"/><circle cx="121.9" cy="208.5" r="1.48" fill="#fcf8f8" stroke="#969696" stroke-width="0.35"/><circle cx="110.8" cy="205.0" r="1.50" fill="#fcf8f8" stroke="#969696" stroke-width="0.35"/><circle cx="164.7" cy="213.0" r="1.49" fill="#fcf8f8" stroke="#969696" stroke-width="0.35"/><circle cx="126.8" cy="202.5" r="1.16" fill="#fcf8f8" stroke="#969696" stroke-width="0.35"/><circle cx="117.3" cy="200.6" r="1.47" fill="#fcf8f8" stroke="#969696" stroke-width="0.35"/><circle cx="106.8" cy="209.8" r="1.47" fill="#4866c4" stroke="#2c3f79" stroke-width="0.35"/><circle cx="112.0" cy="214.4" r="1.21" fill="#f0bed2" stroke="#947582" stroke-width="0.35"/><circle cx="173.4" cy="225.3" r="1.53" fill="#fad7aa" stroke="#9b8569" stroke-width="0.35"/><circle cx="152.9" cy="216.5" r="1.07" fill="#f0aa69" stroke="#946941" stroke-width="0.35"/><circle cx="151.4" cy="216.5" r="1.54" fill="#fcf8f8" stroke="#969696" stroke-width="0.35"/><circle cx="156.5" cy="198.7" r="1.15" fill="#fcf8f8" stroke="#969696" stroke-width="0.35"/><circle cx="121.2" cy="210.0" r="1.24" fill="#fcf8f8" stroke="#969696" stroke-width="0.35"/><circle cx="174.0" cy="228.2" r="0.99" fill="#4866c4" stroke="#2c3f79" stroke-width="0.35"/><circle cx="107.3" cy="205.1" r="1.54" fill="#4866c4" stroke="#2c3f79" stroke-width="0.35"/><circle cx="151.4" cy="219.0" r="1.43" fill="#fcf8f8" stroke="#969696" stroke-width="0.35"/><circle cx="168.8" cy="219.6" r="1.32" fill="#fcf8f8" stroke="#969696" stroke-width="0.35"/><circle cx="108.1" cy="201.2" r="1.06" fill="#fcf8f8" stroke="#969696" stroke-width="0.35"/><circle cx="152.2" cy="211.6" r="1.55" fill="#fcf8f8" stroke="#969696" stroke-width="0.35"/><circle cx="128.0" cy="200.6" r="0.97" fill="#fcf8f8" stroke="#969696" stroke-width="0.35"/><circle cx="156.7" cy="207.8" r="1.52" fill="#fcf8f8" stroke="#969696" stroke-width="0.35"/><circle cx="122.1" cy="208.8" r="1.54" fill="#fcf8f8" stroke="#969696" stroke-width="0.35"/><circle cx="135.2" cy="209.6" r="1.41" fill="#fad7aa" stroke="#9b8569" stroke-width="0.35"/><circle cx="179.0" cy="231.9" r="0.95" fill="#4866c4" stroke="#2c3f79" stroke-width="0.35"/><circle cx="104.2" cy="213.0" r="1.39" fill="#fad7aa" stroke="#9b8569" stroke-width="0.35"/><circle cx="109.4" cy="198.3" r="1.20" fill="#fad7aa" stroke="#9b8569" stroke-width="0.35"/><circle cx="135.8" cy="215.0" r="1.21" fill="#fad7aa" stroke="#9b8569" stroke-width="0.35"/><circle cx="181.2" cy="221.1" r="1.45" fill="#f0aa69" stroke="#946941" stroke-width="0.35"/><circle cx="158.0" cy="192.0" r="1.75" fill="#f0aa69" stroke="#90663f" stroke-width="0.45"/><circle cx="162.2" cy="193.1" r="1.75" fill="#f0aa69" stroke="#90663f" stroke-width="0.45"/><circle cx="166.4" cy="194.2" r="1.75" fill="#f0aa69" stroke="#90663f" stroke-width="0.45"/><circle cx="170.6" cy="195.3" r="1.75" fill="#f0aa69" stroke="#90663f" stroke-width="0.45"/><circle cx="174.8" cy="196.4" r="1.75" fill="#f0aa69" stroke="#90663f" stroke-width="0.45"/><circle cx="157.4" cy="185.0" r="1.50" fill="#f0aa69" stroke="#90663f" stroke-width="0.45"/><circle cx="153.7" cy="191.0" r="1.40" fill="#fbf8f8" stroke="#9a9a9a" stroke-width="0.4"/><circle cx="166.3" cy="202.1" r="1.54" fill="#fad7aa" stroke="#968166" stroke-width="0.4"/><circle cx="162.7" cy="203.8" r="1.95" fill="#f0bed2" stroke="#90727e" stroke-width="0.4"/><circle cx="163.7" cy="204.9" r="1.70" fill="#f0aa69" stroke="#90663f" stroke-width="0.4"/><circle cx="168.8" cy="203.7" r="1.94" fill="#f0aa69" stroke="#90663f" stroke-width="0.4"/><circle cx="146.1" cy="198.9" r="1.64" fill="#f0aa69" stroke="#90663f" stroke-width="0.4"/><circle cx="177.4" cy="201.4" r="1.78" fill="#f0aa69" stroke="#90663f" stroke-width="0.4"/><circle cx="172.8" cy="203.9" r="1.89" fill="#fad7aa" stroke="#968166" stroke-width="0.4"/><circle cx="143.1" cy="199.5" r="1.62" fill="#fad7aa" stroke="#968166" stroke-width="0.4"/><circle cx="151.2" cy="198.7" r="1.87" fill="#f0aa69" stroke="#90663f" stroke-width="0.4"/><circle cx="173.4" cy="204.4" r="1.91" fill="#f0aa69" stroke="#90663f" stroke-width="0.4"/><circle cx="144.6" cy="202.3" r="1.64" fill="#f0aa69" stroke="#90663f" stroke-width="0.4"/><circle cx="144.8" cy="200.4" r="1.34" fill="#f0aa69" stroke="#90663f" stroke-width="0.4"/><circle cx="183.7" cy="210.7" r="1.76" fill="#f0aa69" stroke="#90663f" stroke-width="0.4"/><circle cx="152.8" cy="201.3" r="1.61" fill="#fad7aa" stroke="#968166" stroke-width="0.4"/><circle cx="154.8" cy="198.8" r="1.85" fill="#fcf8f8" stroke="#969696" stroke-width="0.4"/><circle cx="145.2" cy="198.0" r="1.93" fill="#fad7aa" stroke="#968166" stroke-width="0.4"/><circle cx="145.3" cy="197.5" r="1.37" fill="#fad7aa" stroke="#968166" stroke-width="0.4"/><circle cx="143.0" cy="197.0" r="1.76" fill="#f0bed2" stroke="#90727e" stroke-width="0.4"/><circle cx="156.4" cy="200.4" r="1.58" fill="#fcf8f8" stroke="#969696" stroke-width="0.4"/><circle cx="146.6" cy="199.4" r="1.91" fill="#fad7aa" stroke="#968166" stroke-width="0.4"/><circle cx="147.0" cy="201.2" r="1.65" fill="#fcf8f8" stroke="#969696" stroke-width="0.4"/><circle cx="175.8" cy="205.4" r="1.44" fill="#fcf8f8" stroke="#969696" stroke-width="0.4"/><circle cx="148.1" cy="201.4" r="1.97" fill="#f0bed2" stroke="#90727e" stroke-width="0.4"/><circle cx="161.8" cy="205.8" r="1.75" fill="#f0aa69" stroke="#90663f" stroke-width="0.4"/><circle cx="143.8" cy="198.7" r="1.78" fill="#f0bed2" stroke="#90727e" stroke-width="0.4"/><circle cx="148.8" cy="200.9" r="1.51" fill="#fcf8f8" stroke="#969696" stroke-width="0.4"/><circle cx="175.5" cy="208.4" r="1.51" fill="#fcf8f8" stroke="#969696" stroke-width="0.4"/><circle cx="168.5" cy="206.1" r="1.87" fill="#fcf8f8" stroke="#969696" stroke-width="0.4"/><circle cx="145.5" cy="199.0" r="1.30" fill="#4866c4" stroke="#2b3d75" stroke-width="0.35"/><circle cx="152.0" cy="203.0" r="1.30" fill="#4866c4" stroke="#2b3d75" stroke-width="0.35"/><circle cx="165.6" cy="208.5" r="1.30" fill="#4866c4" stroke="#2b3d75" stroke-width="0.35"/><circle cx="148.0" cy="201.0" r="1.30" fill="#4866c4" stroke="#2b3d75" stroke-width="0.35"/><circle cx="154.0" cy="228.5" r="1.94" fill="#f0bed2" stroke="#947582" stroke-width="0.35"/><circle cx="160.5" cy="228.6" r="2.24" fill="#f0aa69" stroke="#946941" stroke-width="0.35"/><circle cx="148.2" cy="227.5" r="1.60" fill="#f0aa69" stroke="#946941" stroke-width="0.35"/><circle cx="154.6" cy="222.7" r="2.47" fill="#f0aa69" stroke="#946941" stroke-width="0.35"/><circle cx="125.6" cy="222.7" r="1.54" fill="#f0bed2" stroke="#947582" stroke-width="0.35"/><circle cx="149.9" cy="223.2" r="1.95" fill="#f0aa69" stroke="#946941" stroke-width="0.35"/><circle cx="126.4" cy="221.5" r="2.47" fill="#fcf8f8" stroke="#969696" stroke-width="0.35"/><circle cx="129.6" cy="210.6" r="2.17" fill="#fad7aa" stroke="#9b8569" stroke-width="0.35"/><circle cx="113.3" cy="206.1" r="1.53" fill="#f0bed2" stroke="#947582" stroke-width="0.35"/><circle cx="115.7" cy="217.0" r="1.25" fill="#fad7aa" stroke="#9b8569" stroke-width="0.35"/><circle cx="153.0" cy="230.9" r="2.24" fill="#f0aa69" stroke="#946941" stroke-width="0.35"/><circle cx="115.6" cy="210.5" r="2.49" fill="#f0bed2" stroke="#947582" stroke-width="0.35"/><circle cx="156.7" cy="232.9" r="1.35" fill="#fcf8f8" stroke="#969696" stroke-width="0.35"/><circle cx="113.3" cy="206.1" r="1.26" fill="#f0bed2" stroke="#947582" stroke-width="0.35"/><circle cx="122.7" cy="206.1" r="2.08" fill="#fad7aa" stroke="#9b8569" stroke-width="0.35"/><circle cx="123.0" cy="209.5" r="1.76" fill="#fcf8f8" stroke="#969696" stroke-width="0.35"/><circle cx="122.0" cy="217.0" r="1.88" fill="#f0bed2" stroke="#947582" stroke-width="0.35"/><circle cx="115.1" cy="207.6" r="1.56" fill="#f0bed2" stroke="#947582" stroke-width="0.35"/><circle cx="119.0" cy="208.7" r="2.38" fill="#f0bed2" stroke="#947582" stroke-width="0.35"/><circle cx="152.0" cy="232.8" r="2.46" fill="#fcf8f8" stroke="#969696" stroke-width="0.35"/><circle cx="152.1" cy="229.2" r="2.50" fill="#f0aa69" stroke="#946941" stroke-width="0.35"/><circle cx="121.9" cy="210.3" r="1.77" fill="#f0bed2" stroke="#947582" stroke-width="0.35"/><circle cx="111.4" cy="209.3" r="1.88" fill="#fcf8f8" stroke="#969696" stroke-width="0.35"/><circle cx="150.6" cy="223.4" r="2.16" fill="#f0aa69" stroke="#946941" stroke-width="0.35"/><circle cx="129.1" cy="212.9" r="1.95" fill="#fcf8f8" stroke="#969696" stroke-width="0.35"/><circle cx="145.7" cy="232.7" r="2.13" fill="#fad7aa" stroke="#9b8569" stroke-width="0.35"/><circle cx="113.2" cy="209.6" r="2.19" fill="#f0bed2" stroke="#947582" stroke-width="0.35"/><circle cx="158.4" cy="226.4" r="1.71" fill="#f0bed2" stroke="#947582" stroke-width="0.35"/><circle cx="109.2" cy="210.4" r="2.30" fill="#f0bed2" stroke="#947582" stroke-width="0.35"/><circle cx="113.5" cy="214.3" r="1.57" fill="#fad7aa" stroke="#9b8569" stroke-width="0.35"/><circle cx="135.0" cy="227.1" r="1.86" fill="#fcf8f8" stroke="#969696" stroke-width="0.35"/><circle cx="145.6" cy="230.6" r="2.48" fill="#fad7aa" stroke="#9b8569" stroke-width="0.35"/><circle cx="145.9" cy="230.6" r="1.51" fill="#f0aa69" stroke="#946941" stroke-width="0.35"/><circle cx="115.0" cy="217.0" r="2.33" fill="#f0aa69" stroke="#946941" stroke-width="0.35"/><circle cx="116.9" cy="217.7" r="2.24" fill="#fad7aa" stroke="#9b8569" stroke-width="0.35"/><circle cx="156.4" cy="233.7" r="2.35" fill="#f0aa69" stroke="#946941" stroke-width="0.35"/><circle cx="119.1" cy="215.0" r="1.38" fill="#f0bed2" stroke="#947582" stroke-width="0.35"/><circle cx="141.8" cy="229.3" r="2.40" fill="#fad7aa" stroke="#9b8569" stroke-width="0.35"/><circle cx="130.0" cy="212.9" r="2.05" fill="#fcf8f8" stroke="#969696" stroke-width="0.35"/><circle cx="133.7" cy="228.0" r="1.86" fill="#fad7aa" stroke="#9b8569" stroke-width="0.35"/><circle cx="129.3" cy="224.9" r="1.68" fill="#fad7aa" stroke="#9b8569" stroke-width="0.35"/><circle cx="121.1" cy="209.6" r="1.47" fill="#f0bed2" stroke="#947582" stroke-width="0.35"/><circle cx="151.2" cy="231.6" r="1.35" fill="#f0aa69" stroke="#946941" stroke-width="0.35"/><circle cx="152.1" cy="228.5" r="2.42" fill="#f0bed2" stroke="#947582" stroke-width="0.35"/><circle cx="117.8" cy="214.3" r="1.84" fill="#f0aa69" stroke="#946941" stroke-width="0.35"/><circle cx="114.0" cy="214.3" r="1.39" fill="#fad7aa" stroke="#9b8569" stroke-width="0.35"/><circle cx="116.0" cy="209.8" r="2.12" fill="#f0aa69" stroke="#946941" stroke-width="0.35"/><circle cx="119.5" cy="209.3" r="1.65" fill="#fcf8f8" stroke="#969696" stroke-width="0.35"/><circle cx="117.7" cy="207.2" r="1.41" fill="#fcf8f8" stroke="#969696" stroke-width="0.35"/><circle cx="119.6" cy="214.0" r="1.26" fill="#fad7aa" stroke="#9b8569" stroke-width="0.35"/><circle cx="129.8" cy="218.7" r="1.36" fill="#fad7aa" stroke="#9b8569" stroke-width="0.35"/><circle cx="150.7" cy="226.6" r="2.49" fill="#f0aa69" stroke="#946941" stroke-width="0.35"/><circle cx="125.5" cy="205.9" r="1.76" fill="#f0bed2" stroke="#947582" stroke-width="0.35"/><circle cx="126.4" cy="221.1" r="1.38" fill="#fcf8f8" stroke="#969696" stroke-width="0.35"/><circle cx="146.9" cy="233.4" r="1.60" fill="#fcf8f8" stroke="#969696" stroke-width="0.35"/><circle cx="112.0" cy="209.2" r="1.51" fill="#fad7aa" stroke="#9b8569" stroke-width="0.35"/><circle cx="154.1" cy="225.9" r="1.55" fill="#f0aa69" stroke="#946941" stroke-width="0.35"/><circle cx="156.6" cy="225.0" r="1.64" fill="#f0aa69" stroke="#946941" stroke-width="0.35"/><circle cx="119.0" cy="217.7" r="1.48" fill="#fad7aa" stroke="#9b8569" stroke-width="0.35"/><circle cx="159.9" cy="229.7" r="2.03" fill="#fad7aa" stroke="#9b8569" stroke-width="0.35"/><circle cx="159.1" cy="231.5" r="1.72" fill="#f0bed2" stroke="#947582" stroke-width="0.35"/><circle cx="123.0" cy="219.3" r="1.77" fill="#fad7aa" stroke="#9b8569" stroke-width="0.35"/><circle cx="115.0" cy="209.8" r="2.15" fill="#f0aa69" stroke="#946941" stroke-width="0.35"/><circle cx="120.9" cy="213.7" r="1.21" fill="#fad7aa" stroke="#9b8569" stroke-width="0.35"/><circle cx="159.6" cy="228.2" r="2.40" fill="#f0bed2" stroke="#947582" stroke-width="0.35"/><circle cx="114.6" cy="207.9" r="1.72" fill="#fad7aa" stroke="#9b8569" stroke-width="0.35"/><circle cx="119.8" cy="214.8" r="1.71" fill="#f0bed2" stroke="#947582" stroke-width="0.35"/><circle cx="122.7" cy="210.2" r="2.45" fill="#f0aa69" stroke="#946941" stroke-width="0.35"/><circle cx="155.9" cy="222.6" r="2.27" fill="#f0aa69" stroke="#946941" stroke-width="0.35"/><circle cx="157.2" cy="228.4" r="2.33" fill="#fad7aa" stroke="#9b8569" stroke-width="0.35"/><circle cx="110.6" cy="208.6" r="1.89" fill="#f0bed2" stroke="#947582" stroke-width="0.35"/><circle cx="117.3" cy="213.5" r="1.87" fill="#f0bed2" stroke="#947582" stroke-width="0.35"/><circle cx="132.4" cy="224.7" r="1.58" fill="#f0aa69" stroke="#946941" stroke-width="0.35"/><circle cx="131.4" cy="214.6" r="2.19" fill="#f0bed2" stroke="#947582" stroke-width="0.35"/><circle cx="132.2" cy="227.6" r="2.31" fill="#fcf8f8" stroke="#969696" stroke-width="0.35"/><circle cx="143.6" cy="232.1" r="2.10" fill="#f0aa69" stroke="#946941" stroke-width="0.35"/><circle cx="130.5" cy="216.0" r="1.89" fill="#fcf8f8" stroke="#969696" stroke-width="0.35"/><circle cx="151.1" cy="222.8" r="1.52" fill="#fad7aa" stroke="#9b8569" stroke-width="0.35"/><circle cx="136.0" cy="228.1" r="1.99" fill="#fad7aa" stroke="#9b8569" stroke-width="0.35"/><circle cx="152.1" cy="227.5" r="1.27" fill="#f0bed2" stroke="#947582" stroke-width="0.35"/><circle cx="111.6" cy="214.4" r="2.35" fill="#f0bed2" stroke="#947582" stroke-width="0.35"/><circle cx="121.9" cy="221.6" r="1.51" fill="#f0bed2" stroke="#947582" stroke-width="0.35"/><circle cx="156.0" cy="228.7" r="1.38" fill="#f0aa69" stroke="#946941" stroke-width="0.35"/><circle cx="127.1" cy="214.4" r="1.28" fill="#f0bed2" stroke="#947582" stroke-width="0.35"/><circle cx="113.9" cy="213.3" r="1.23" fill="#f0aa69" stroke="#946941" stroke-width="0.35"/><circle cx="113.3" cy="211.6" r="2.41" fill="#fad7aa" stroke="#9b8569" stroke-width="0.35"/><circle cx="115.9" cy="213.4" r="2.26" fill="#f0aa69" stroke="#946941" stroke-width="0.35"/><circle cx="109.2" cy="209.1" r="2.39" fill="#fad7aa" stroke="#9b8569" stroke-width="0.35"/><circle cx="116.4" cy="210.8" r="1.28" fill="#f0bed2" stroke="#947582" stroke-width="0.35"/><circle cx="134.3" cy="229.3" r="1.53" fill="#f0aa69" stroke="#946941" stroke-width="0.35"/><circle cx="122.2" cy="214.2" r="1.97" fill="#f0aa69" stroke="#946941" stroke-width="0.35"/><circle cx="160.1" cy="227.6" r="2.21" fill="#fcf8f8" stroke="#969696" stroke-width="0.35"/><circle cx="110.3" cy="208.9" r="1.56" fill="#f0aa69" stroke="#946941" stroke-width="0.35"/><circle cx="126.3" cy="212.3" r="2.33" fill="#fad7aa" stroke="#9b8569" stroke-width="0.35"/><circle cx="155.5" cy="229.0" r="1.66" fill="#f0aa69" stroke="#946941" stroke-width="0.35"/><circle cx="159.9" cy="227.8" r="1.95" fill="#f0bed2" stroke="#947582" stroke-width="0.35"/><circle cx="146.8" cy="230.3" r="2.27" fill="#fad7aa" stroke="#9b8569" stroke-width="0.35"/><circle cx="148.5" cy="231.4" r="1.39" fill="#fcf8f8" stroke="#969696" stroke-width="0.35"/><circle cx="130.1" cy="228.0" r="1.63" fill="#f0aa69" stroke="#946941" stroke-width="0.35"/><circle cx="151.2" cy="231.1" r="2.30" fill="#f0bed2" stroke="#947582" stroke-width="0.35"/><circle cx="160.7" cy="230.3" r="1.73" fill="#fad7aa" stroke="#9b8569" stroke-width="0.35"/><circle cx="127.1" cy="223.4" r="2.11" fill="#fcf8f8" stroke="#969696" stroke-width="0.35"/><circle cx="110.9" cy="208.1" r="1.88" fill="#fcf8f8" stroke="#969696" stroke-width="0.35"/><circle cx="123.4" cy="207.4" r="1.31" fill="#f0aa69" stroke="#946941" stroke-width="0.35"/><circle cx="150.2" cy="229.3" r="2.21" fill="#fad7aa" stroke="#9b8569" stroke-width="0.35"/><circle cx="130.8" cy="223.8" r="2.08" fill="#f0bed2" stroke="#947582" stroke-width="0.35"/><circle cx="116.0" cy="218.9" r="2.15" fill="#fad7aa" stroke="#9b8569" stroke-width="0.35"/><circle cx="126.0" cy="207.9" r="1.28" fill="#f0aa69" stroke="#946941" stroke-width="0.35"/><circle cx="160.3" cy="228.1" r="2.38" fill="#f0aa69" stroke="#946941" stroke-width="0.35"/><circle cx="109.4" cy="209.3" r="2.39" fill="#f0bed2" stroke="#947582" stroke-width="0.35"/><circle cx="159.7" cy="231.7" r="1.56" fill="#f0aa69" stroke="#946941" stroke-width="0.35"/><circle cx="148.2" cy="226.4" r="1.67" fill="#fcf8f8" stroke="#969696" stroke-width="0.35"/><circle cx="117.9" cy="216.0" r="1.60" fill="#f0aa69" stroke="#946941" stroke-width="0.35"/><circle cx="130.3" cy="218.7" r="2.36" fill="#fad7aa" stroke="#9b8569" stroke-width="0.35"/><circle cx="153.9" cy="222.5" r="2.06" fill="#f0aa69" stroke="#946941" stroke-width="0.35"/><circle cx="124.8" cy="225.1" r="1.46" fill="#f0aa69" stroke="#946941" stroke-width="0.35"/><circle cx="125.5" cy="219.5" r="1.52" fill="#fad7aa" stroke="#9b8569" stroke-width="0.35"/><circle cx="153.8" cy="233.5" r="1.59" fill="#f0bed2" stroke="#947582" stroke-width="0.35"/><circle cx="111.9" cy="210.6" r="2.37" fill="#f0bed2" stroke="#947582" stroke-width="0.35"/><circle cx="111.4" cy="207.1" r="2.50" fill="#fcf8f8" stroke="#969696" stroke-width="0.35"/><circle cx="124.1" cy="222.3" r="1.35" fill="#f0bed2" stroke="#947582" stroke-width="0.35"/><circle cx="149.3" cy="224.2" r="2.13" fill="#f0aa69" stroke="#946941" stroke-width="0.35"/><circle cx="128.3" cy="224.8" r="1.52" fill="#f0aa69" stroke="#946941" stroke-width="0.35"/><circle cx="111.9" cy="213.2" r="1.28" fill="#fad7aa" stroke="#9b8569" stroke-width="0.35"/><circle cx="160.2" cy="228.6" r="2.08" fill="#f0aa69" stroke="#946941" stroke-width="0.35"/><circle cx="157.8" cy="233.2" r="1.65" fill="#fcf8f8" stroke="#969696" stroke-width="0.35"/><circle cx="130.9" cy="208.4" r="2.32" fill="#f0bed2" stroke="#947582" stroke-width="0.35"/><circle cx="111.0" cy="207.6" r="1.74" fill="#fcf8f8" stroke="#969696" stroke-width="0.35"/><circle cx="150.5" cy="225.0" r="1.32" fill="#fcf8f8" stroke="#969696" stroke-width="0.35"/><circle cx="143.7" cy="232.0" r="2.30" fill="#f0bed2" stroke="#947582" stroke-width="0.35"/><circle cx="125.3" cy="216.1" r="1.24" fill="#fad7aa" stroke="#9b8569" stroke-width="0.35"/><circle cx="152.8" cy="219.8" r="1.57" fill="#f0aa69" stroke="#946941" stroke-width="0.35"/><circle cx="155.6" cy="233.2" r="1.68" fill="#f0aa69" stroke="#946941" stroke-width="0.35"/><circle cx="120.0" cy="209.0" r="2.39" fill="#f0aa69" stroke="#946941" stroke-width="0.35"/><circle cx="129.3" cy="210.8" r="1.39" fill="#f0aa69" stroke="#946941" stroke-width="0.35"/><circle cx="111.5" cy="208.2" r="2.40" fill="#f0bed2" stroke="#947582" stroke-width="0.35"/><circle cx="124.6" cy="207.5" r="1.23" fill="#fad7aa" stroke="#9b8569" stroke-width="0.35"/><circle cx="152.2" cy="223.9" r="2.35" fill="#f0aa69" stroke="#946941" stroke-width="0.35"/><circle cx="155.6" cy="233.1" r="1.64" fill="#fad7aa" stroke="#9b8569" stroke-width="0.35"/><circle cx="111.6" cy="214.4" r="2.27" fill="#f0aa69" stroke="#946941" stroke-width="0.35"/><circle cx="151.3" cy="231.7" r="1.75" fill="#f0bed2" stroke="#947582" stroke-width="0.35"/><circle cx="154.4" cy="226.1" r="1.27" fill="#fcf8f8" stroke="#969696" stroke-width="0.35"/><circle cx="154.3" cy="226.4" r="1.25" fill="#fad7aa" stroke="#9b8569" stroke-width="0.35"/><circle cx="110.8" cy="206.7" r="1.59" fill="#f0aa69" stroke="#946941" stroke-width="0.35"/><circle cx="113.4" cy="213.3" r="2.34" fill="#fad7aa" stroke="#9b8569" stroke-width="0.35"/><circle cx="156.5" cy="228.7" r="1.42" fill="#f0aa69" stroke="#946941" stroke-width="0.35"/><circle cx="149.1" cy="226.1" r="1.81" fill="#f0bed2" stroke="#947582" stroke-width="0.35"/><circle cx="150.9" cy="231.7" r="1.58" fill="#f0aa69" stroke="#946941" stroke-width="0.35"/><circle cx="160.1" cy="230.4" r="2.38" fill="#fad7aa" stroke="#9b8569" stroke-width="0.35"/><circle cx="130.1" cy="217.9" r="2.42" fill="#fcf8f8" stroke="#969696" stroke-width="0.35"/><circle cx="126.3" cy="208.0" r="1.74" fill="#fad7aa" stroke="#9b8569" stroke-width="0.35"/><circle cx="148.3" cy="225.2" r="1.72" fill="#f0aa69" stroke="#946941" stroke-width="0.35"/><circle cx="117.3" cy="216.5" r="2.18" fill="#fad7aa" stroke="#9b8569" stroke-width="0.35"/><circle cx="113.2" cy="217.0" r="2.01" fill="#fad7aa" stroke="#9b8569" stroke-width="0.35"/><circle cx="148.4" cy="229.2" r="1.40" fill="#fcf8f8" stroke="#969696" stroke-width="0.35"/><circle cx="144.6" cy="232.5" r="2.26" fill="#f0bed2" stroke="#947582" stroke-width="0.35"/><circle cx="117.2" cy="207.9" r="1.63" fill="#fcf8f8" stroke="#969696" stroke-width="0.35"/><circle cx="160.2" cy="230.1" r="1.85" fill="#f0aa69" stroke="#946941" stroke-width="0.35"/><circle cx="152.4" cy="223.1" r="1.47" fill="#f0aa69" stroke="#946941" stroke-width="0.35"/><circle cx="135.9" cy="230.1" r="1.54" fill="#fcf8f8" stroke="#969696" stroke-width="0.35"/><circle cx="110.9" cy="206.4" r="2.25" fill="#f0bed2" stroke="#947582" stroke-width="0.35"/><circle cx="115.1" cy="212.6" r="1.61" fill="#f0aa69" stroke="#946941" stroke-width="0.35"/><circle cx="133.6" cy="229.0" r="2.13" fill="#f0aa69" stroke="#946941" stroke-width="0.35"/><circle cx="154.7" cy="227.9" r="1.70" fill="#fcf8f8" stroke="#969696" stroke-width="0.35"/><circle cx="111.4" cy="208.2" r="1.99" fill="#fad7aa" stroke="#9b8569" stroke-width="0.35"/><circle cx="113.9" cy="205.5" r="1.39" fill="#f0aa69" stroke="#946941" stroke-width="0.35"/><circle cx="119.4" cy="214.8" r="2.33" fill="#f0aa69" stroke="#946941" stroke-width="0.35"/><circle cx="152.1" cy="232.9" r="2.50" fill="#f0bed2" stroke="#947582" stroke-width="0.35"/><circle cx="114.9" cy="217.9" r="2.35" fill="#f0bed2" stroke="#947582" stroke-width="0.35"/><circle cx="152.9" cy="232.2" r="1.26" fill="#fad7aa" stroke="#9b8569" stroke-width="0.35"/><circle cx="127.8" cy="226.7" r="1.90" fill="#f0aa69" stroke="#946941" stroke-width="0.35"/><circle cx="116.0" cy="216.1" r="1.35" fill="#f0bed2" stroke="#947582" stroke-width="0.35"/><circle cx="137.9" cy="231.2" r="1.85" fill="#f0aa69" stroke="#946941" stroke-width="0.35"/><circle cx="158.1" cy="228.7" r="2.12" fill="#fcf8f8" stroke="#969696" stroke-width="0.35"/><circle cx="154.5" cy="233.6" r="1.81" fill="#fcf8f8" stroke="#969696" stroke-width="0.35"/><circle cx="156.9" cy="232.6" r="2.25" fill="#fad7aa" stroke="#9b8569" stroke-width="0.35"/><circle cx="128.5" cy="207.6" r="2.31" fill="#fad7aa" stroke="#9b8569" stroke-width="0.35"/><circle cx="119.3" cy="206.4" r="1.87" fill="#f0aa69" stroke="#946941" stroke-width="0.35"/><circle cx="158.0" cy="233.0" r="1.63" fill="#f0bed2" stroke="#947582" stroke-width="0.35"/><circle cx="156.8" cy="222.4" r="1.96" fill="#fad7aa" stroke="#9b8569" stroke-width="0.35"/><circle cx="160.3" cy="230.2" r="1.70" fill="#fcf8f8" stroke="#969696" stroke-width="0.35"/><circle cx="157.9" cy="230.6" r="1.91" fill="#f0aa69" stroke="#946941" stroke-width="0.35"/><circle cx="141.5" cy="217.5" r="10.20" fill="#e02828" stroke="#a01818" stroke-width="0.4"/><circle cx="126.0" cy="212.0" r="5.50" fill="#f6d2de" stroke="#d0a0b0" stroke-width="0.35" fill-opacity="0.8"/><circle cx="130.0" cy="211.5" r="2.64" fill="#fad7aa" stroke="#9b8569" stroke-width="0.35"/><circle cx="128.2" cy="214.2" r="1.66" fill="#fad7aa" stroke="#9b8569" stroke-width="0.35"/><circle cx="132.9" cy="226.4" r="2.47" fill="#fad7aa" stroke="#9b8569" stroke-width="0.35"/><circle cx="146.5" cy="229.3" r="2.34" fill="#fad7aa" stroke="#9b8569" stroke-width="0.35"/><circle cx="131.7" cy="223.9" r="2.28" fill="#f0bed2" stroke="#947582" stroke-width="0.35"/><circle cx="132.1" cy="215.7" r="2.44" fill="#fcf8f8" stroke="#969696" stroke-width="0.35"/><circle cx="131.4" cy="222.4" r="1.80" fill="#f0aa69" stroke="#946941" stroke-width="0.35"/><circle cx="134.4" cy="221.0" r="1.50" fill="#f0bed2" stroke="#947582" stroke-width="0.35"/><circle cx="137.5" cy="215.5" r="1.46" fill="#fcf8f8" stroke="#969696" stroke-width="0.35"/><circle cx="134.0" cy="215.2" r="1.75" fill="#f0aa69" stroke="#946941" stroke-width="0.35"/><circle cx="128.6" cy="218.9" r="2.27" fill="#fad7aa" stroke="#9b8569" stroke-width="0.35"/><circle cx="149.8" cy="226.5" r="2.29" fill="#f0bed2" stroke="#947582" stroke-width="0.35"/><circle cx="143.0" cy="226.7" r="2.62" fill="#f0aa69" stroke="#946941" stroke-width="0.35"/><circle cx="136.4" cy="229.8" r="1.46" fill="#fcf8f8" stroke="#969696" stroke-width="0.35"/><circle cx="131.3" cy="217.9" r="1.59" fill="#f0bed2" stroke="#947582" stroke-width="0.35"/><circle cx="141.6" cy="217.6" r="1.80" fill="#fad7aa" stroke="#9b8569" stroke-width="0.35"/><circle cx="125.5" cy="220.9" r="2.60" fill="#f0bed2" stroke="#947582" stroke-width="0.35"/><circle cx="127.9" cy="219.1" r="2.56" fill="#fad7aa" stroke="#9b8569" stroke-width="0.35"/><circle cx="130.6" cy="213.9" r="2.69" fill="#fad7aa" stroke="#9b8569" stroke-width="0.35"/><circle cx="129.6" cy="217.7" r="1.45" fill="#f0aa69" stroke="#946941" stroke-width="0.35"/><circle cx="146.0" cy="224.1" r="2.55" fill="#fad7aa" stroke="#9b8569" stroke-width="0.35"/><circle cx="137.6" cy="229.8" r="2.41" fill="#f0aa69" stroke="#946941" stroke-width="0.35"/><circle cx="126.4" cy="219.9" r="2.56" fill="#fad7aa" stroke="#9b8569" stroke-width="0.35"/><circle cx="131.2" cy="224.3" r="1.50" fill="#fad7aa" stroke="#9b8569" stroke-width="0.35"/><circle cx="141.8" cy="218.0" r="2.41" fill="#f0bed2" stroke="#947582" stroke-width="0.35"/><circle cx="136.2" cy="214.4" r="2.60" fill="#f0bed2" stroke="#947582" stroke-width="0.35"/><circle cx="147.2" cy="228.2" r="2.53" fill="#f0aa69" stroke="#946941" stroke-width="0.35"/><circle cx="134.4" cy="219.8" r="2.38" fill="#f0aa69" stroke="#946941" stroke-width="0.35"/><circle cx="149.4" cy="225.7" r="2.02" fill="#f0aa69" stroke="#946941" stroke-width="0.35"/><circle cx="131.1" cy="212.9" r="1.98" fill="#fad7aa" stroke="#9b8569" stroke-width="0.35"/><circle cx="123.8" cy="217.0" r="2.47" fill="#fcf8f8" stroke="#969696" stroke-width="0.35"/><circle cx="131.1" cy="220.8" r="2.44" fill="#fcf8f8" stroke="#969696" stroke-width="0.35"/><circle cx="148.5" cy="227.7" r="1.76" fill="#f0aa69" stroke="#946941" stroke-width="0.35"/><circle cx="127.3" cy="224.5" r="2.17" fill="#fad7aa" stroke="#9b8569" stroke-width="0.35"/><circle cx="128.6" cy="224.3" r="1.78" fill="#fad7aa" stroke="#9b8569" stroke-width="0.35"/><circle cx="142.8" cy="218.2" r="2.26" fill="#f0bed2" stroke="#947582" stroke-width="0.35"/><circle cx="148.4" cy="222.4" r="2.30" fill="#f0aa69" stroke="#946941" stroke-width="0.35"/><circle cx="135.4" cy="228.5" r="2.59" fill="#fcf8f8" stroke="#969696" stroke-width="0.35"/><circle cx="124.5" cy="217.1" r="2.27" fill="#f0bed2" stroke="#947582" stroke-width="0.35"/><circle cx="131.0" cy="216.8" r="1.57" fill="#fad7aa" stroke="#9b8569" stroke-width="0.35"/><circle cx="142.3" cy="217.9" r="2.25" fill="#f0aa69" stroke="#946941" stroke-width="0.35"/><circle cx="131.1" cy="224.6" r="2.64" fill="#f0aa69" stroke="#946941" stroke-width="0.35"/><circle cx="143.3" cy="220.5" r="2.55" fill="#fad7aa" stroke="#9b8569" stroke-width="0.35"/><circle cx="149.1" cy="224.7" r="2.02" fill="#f0bed2" stroke="#947582" stroke-width="0.35"/><circle cx="141.0" cy="227.3" r="1.59" fill="#fad7aa" stroke="#9b8569" stroke-width="0.35"/><circle cx="125.9" cy="220.4" r="2.48" fill="#fad7aa" stroke="#9b8569" stroke-width="0.35"/><circle cx="144.3" cy="227.6" r="2.69" fill="#f0aa69" stroke="#946941" stroke-width="0.35"/><circle cx="131.5" cy="227.6" r="2.39" fill="#f0aa69" stroke="#946941" stroke-width="0.35"/><circle cx="145.1" cy="229.0" r="2.70" fill="#f0bed2" stroke="#947582" stroke-width="0.35"/><circle cx="130.8" cy="217.3" r="2.45" fill="#f0aa69" stroke="#946941" stroke-width="0.35"/><circle cx="136.4" cy="226.2" r="1.46" fill="#f0aa69" stroke="#946941" stroke-width="0.35"/><circle cx="124.9" cy="219.4" r="1.48" fill="#fad7aa" stroke="#9b8569" stroke-width="0.35"/><circle cx="124.9" cy="217.7" r="2.27" fill="#f0aa69" stroke="#946941" stroke-width="0.35"/><circle cx="126.9" cy="222.7" r="2.39" fill="#f0aa69" stroke="#946941" stroke-width="0.35"/><circle cx="135.4" cy="211.3" r="2.44" fill="#f0aa69" stroke="#946941" stroke-width="0.35"/><circle cx="131.7" cy="222.4" r="1.97" fill="#f0aa69" stroke="#946941" stroke-width="0.35"/><circle cx="136.4" cy="225.8" r="1.88" fill="#fcf8f8" stroke="#969696" stroke-width="0.35"/><circle cx="133.7" cy="214.4" r="2.27" fill="#f0bed2" stroke="#947582" stroke-width="0.35"/><circle cx="133.2" cy="214.0" r="1.56" fill="#f0aa69" stroke="#946941" stroke-width="0.35"/><circle cx="141.9" cy="228.2" r="2.40" fill="#fad7aa" stroke="#9b8569" stroke-width="0.35"/><circle cx="137.0" cy="223.0" r="2.00" fill="#f0bed2" stroke="#947582" stroke-width="0.35"/><circle cx="134.1" cy="229.4" r="2.20" fill="#fcf8f8" stroke="#969696" stroke-width="0.35"/><circle cx="140.5" cy="213.0" r="1.77" fill="#fad7aa" stroke="#9b8569" stroke-width="0.35"/><circle cx="137.6" cy="216.1" r="1.70" fill="#fcf8f8" stroke="#969696" stroke-width="0.35"/><circle cx="131.1" cy="227.9" r="1.52" fill="#fad7aa" stroke="#9b8569" stroke-width="0.35"/><circle cx="139.1" cy="228.5" r="2.20" fill="#f0aa69" stroke="#946941" stroke-width="0.35"/><circle cx="125.2" cy="218.9" r="2.47" fill="#fad7aa" stroke="#9b8569" stroke-width="0.35"/><circle cx="147.6" cy="227.9" r="1.96" fill="#f0bed2" stroke="#947582" stroke-width="0.35"/><circle cx="129.3" cy="225.5" r="2.54" fill="#f0aa69" stroke="#946941" stroke-width="0.35"/><circle cx="139.6" cy="212.8" r="2.38" fill="#fad7aa" stroke="#9b8569" stroke-width="0.35"/><circle cx="123.7" cy="218.0" r="1.99" fill="#f0aa69" stroke="#946941" stroke-width="0.35"/><circle cx="142.7" cy="225.0" r="2.66" fill="#fad7aa" stroke="#9b8569" stroke-width="0.35"/><circle cx="126.5" cy="219.2" r="2.40" fill="#f0aa69" stroke="#946941" stroke-width="0.35"/><circle cx="143.1" cy="222.1" r="2.14" fill="#fad7aa" stroke="#9b8569" stroke-width="0.35"/><circle cx="148.8" cy="222.2" r="2.00" fill="#fad7aa" stroke="#9b8569" stroke-width="0.35"/><circle cx="135.1" cy="215.3" r="1.84" fill="#fad7aa" stroke="#9b8569" stroke-width="0.35"/><circle cx="139.8" cy="221.0" r="2.49" fill="#f0bed2" stroke="#947582" stroke-width="0.35"/><circle cx="135.4" cy="227.6" r="1.86" fill="#fad7aa" stroke="#9b8569" stroke-width="0.35"/><circle cx="136.4" cy="227.6" r="2.44" fill="#fad7aa" stroke="#9b8569" stroke-width="0.35"/><circle cx="132.1" cy="221.9" r="2.25" fill="#fad7aa" stroke="#9b8569" stroke-width="0.35"/><circle cx="138.3" cy="214.3" r="1.51" fill="#f0aa69" stroke="#946941" stroke-width="0.35"/><circle cx="126.3" cy="215.4" r="2.22" fill="#fad7aa" stroke="#9b8569" stroke-width="0.35"/><circle cx="148.9" cy="225.7" r="2.20" fill="#f0aa69" stroke="#946941" stroke-width="0.35"/><circle cx="140.9" cy="213.9" r="1.86" fill="#f0bed2" stroke="#947582" stroke-width="0.35"/><circle cx="137.1" cy="224.0" r="1.82" fill="#fcf8f8" stroke="#969696" stroke-width="0.35"/><circle cx="133.4" cy="226.7" r="2.35" fill="#fcf8f8" stroke="#969696" stroke-width="0.35"/><circle cx="140.4" cy="218.7" r="2.22" fill="#fad7aa" stroke="#9b8569" stroke-width="0.35"/><circle cx="131.9" cy="225.7" r="1.48" fill="#f0bed2" stroke="#947582" stroke-width="0.35"/><circle cx="145.8" cy="228.0" r="1.80" fill="#f0bed2" stroke="#947582" stroke-width="0.35"/><circle cx="132.8" cy="223.9" r="1.78" fill="#f0bed2" stroke="#947582" stroke-width="0.35"/><circle cx="142.4" cy="221.4" r="2.03" fill="#fad7aa" stroke="#9b8569" stroke-width="0.35"/><circle cx="131.3" cy="225.9" r="1.46" fill="#f0bed2" stroke="#947582" stroke-width="0.35"/><circle cx="127.4" cy="212.6" r="1.68" fill="#f0aa69" stroke="#946941" stroke-width="0.35"/><circle cx="130.6" cy="214.7" r="2.34" fill="#fad7aa" stroke="#9b8569" stroke-width="0.35"/><circle cx="142.2" cy="216.1" r="2.16" fill="#f0bed2" stroke="#947582" stroke-width="0.35"/><circle cx="124.0" cy="215.9" r="2.05" fill="#f0aa69" stroke="#946941" stroke-width="0.35"/><circle cx="140.7" cy="214.0" r="1.62" fill="#f0aa69" stroke="#946941" stroke-width="0.35"/><circle cx="146.2" cy="229.4" r="1.72" fill="#f0bed2" stroke="#947582" stroke-width="0.35"/><circle cx="134.6" cy="220.8" r="1.58" fill="#f0aa69" stroke="#946941" stroke-width="0.35"/><circle cx="139.2" cy="214.3" r="2.09" fill="#fad7aa" stroke="#9b8569" stroke-width="0.35"/><circle cx="124.3" cy="217.2" r="2.02" fill="#fad7aa" stroke="#9b8569" stroke-width="0.35"/><circle cx="138.4" cy="228.6" r="1.63" fill="#f0aa69" stroke="#946941" stroke-width="0.35"/><circle cx="137.7" cy="228.7" r="2.01" fill="#f0aa69" stroke="#946941" stroke-width="0.35"/><circle cx="126.7" cy="212.5" r="2.39" fill="#fcf8f8" stroke="#969696" stroke-width="0.35"/><circle cx="140.6" cy="226.6" r="2.45" fill="#f0aa69" stroke="#946941" stroke-width="0.35"/><circle cx="149.9" cy="226.3" r="1.78" fill="#f0aa69" stroke="#946941" stroke-width="0.35"/><circle cx="126.0" cy="219.0" r="1.60" fill="#4866c4" stroke="#2b3d75" stroke-width="0.35"/><circle cx="129.0" cy="223.0" r="1.80" fill="#4866c4" stroke="#2b3d75" stroke-width="0.35"/><circle cx="133.0" cy="227.0" r="1.50" fill="#4866c4" stroke="#2b3d75" stroke-width="0.35"/><circle cx="137.0" cy="230.0" r="1.60" fill="#4866c4" stroke="#2b3d75" stroke-width="0.35"/><circle cx="123.0" cy="226.0" r="1.40" fill="#4866c4" stroke="#2b3d75" stroke-width="0.35"/><circle cx="131.0" cy="230.0" r="1.30" fill="#4866c4" stroke="#2b3d75" stroke-width="0.35"/><circle cx="110.5" cy="206.0" r="1.60" fill="#4866c4" stroke="#2b3d75" stroke-width="0.35"/><circle cx="109.0" cy="220.0" r="1.40" fill="#4866c4" stroke="#2b3d75" stroke-width="0.35"/><circle cx="145.5" cy="200.0" r="1.30" fill="#4866c4" stroke="#2b3d75" stroke-width="0.35"/><circle cx="152.0" cy="202.0" r="1.50" fill="#4866c4" stroke="#2b3d75" stroke-width="0.35"/><circle cx="138.0" cy="229.0" r="1.60" fill="#4866c4" stroke="#2b3d75" stroke-width="0.35"/><circle cx="140.0" cy="232.4" r="1.50" fill="#4866c4" stroke="#2b3d75" stroke-width="0.35"/><circle cx="131.0" cy="224.0" r="1.80" fill="#4866c4" stroke="#2b3d75" stroke-width="0.35"/><circle cx="127.0" cy="226.0" r="1.40" fill="#4866c4" stroke="#2b3d75" stroke-width="0.35"/><circle cx="160.0" cy="213.0" r="1.20" fill="#4866c4" stroke="#2b3d75" stroke-width="0.35"/><circle cx="170.0" cy="220.0" r="1.10" fill="#4866c4" stroke="#2b3d75" stroke-width="0.35"/><circle cx="103.0" cy="210.0" r="1.20" fill="#4866c4" stroke="#2b3d75" stroke-width="0.35"/><circle cx="118.0" cy="214.0" r="1.30" fill="#4866c4" stroke="#2b3d75" stroke-width="0.35"/><circle cx="150.0" cy="230.0" r="1.30" fill="#4866c4" stroke="#2b3d75" stroke-width="0.35"/><circle cx="93.9" cy="237.6" r="1.89" fill="#f0bed2" stroke="#947582" stroke-width="0.35"/><circle cx="92.7" cy="235.1" r="1.23" fill="#f0aa69" stroke="#946941" stroke-width="0.35"/><circle cx="94.0" cy="230.0" r="1.71" fill="#fad7aa" stroke="#9b8569" stroke-width="0.35"/><circle cx="100.4" cy="233.8" r="1.35" fill="#fad7aa" stroke="#9b8569" stroke-width="0.35"/><circle cx="101.8" cy="239.3" r="1.25" fill="#f0aa69" stroke="#946941" stroke-width="0.35"/><circle cx="76.0" cy="229.4" r="1.26" fill="#f0aa69" stroke="#946941" stroke-width="0.35"/><circle cx="93.9" cy="239.7" r="2.05" fill="#f0bed2" stroke="#947582" stroke-width="0.35"/><circle cx="75.7" cy="229.9" r="1.33" fill="#fad7aa" stroke="#9b8569" stroke-width="0.35"/><circle cx="85.2" cy="229.1" r="1.99" fill="#f0aa69" stroke="#946941" stroke-width="0.35"/><circle cx="87.8" cy="235.7" r="1.86" fill="#f0aa69" stroke="#946941" stroke-width="0.35"/><circle cx="77.8" cy="232.8" r="1.49" fill="#f0aa69" stroke="#946941" stroke-width="0.35"/><circle cx="73.0" cy="230.9" r="1.39" fill="#f0aa69" stroke="#946941" stroke-width="0.35"/><circle cx="105.9" cy="233.2" r="1.08" fill="#f0aa69" stroke="#946941" stroke-width="0.35"/><circle cx="95.5" cy="237.5" r="1.51" fill="#f0aa69" stroke="#946941" stroke-width="0.35"/><circle cx="73.4" cy="230.3" r="1.78" fill="#f0aa69" stroke="#946941" stroke-width="0.35"/><circle cx="83.4" cy="230.1" r="1.54" fill="#f0bed2" stroke="#947582" stroke-width="0.35"/><circle cx="79.9" cy="228.4" r="1.13" fill="#f0bed2" stroke="#947582" stroke-width="0.35"/><circle cx="96.1" cy="238.4" r="1.61" fill="#f0bed2" stroke="#947582" stroke-width="0.35"/><circle cx="95.1" cy="234.0" r="1.13" fill="#f0aa69" stroke="#946941" stroke-width="0.35"/><circle cx="100.4" cy="236.8" r="1.12" fill="#fad7aa" stroke="#9b8569" stroke-width="0.35"/><circle cx="104.8" cy="236.5" r="1.05" fill="#f0aa69" stroke="#946941" stroke-width="0.35"/><circle cx="90.5" cy="228.9" r="1.02" fill="#fad7aa" stroke="#9b8569" stroke-width="0.35"/><circle cx="95.9" cy="239.1" r="2.07" fill="#fad7aa" stroke="#9b8569" stroke-width="0.35"/><circle cx="84.3" cy="236.9" r="2.00" fill="#f0aa69" stroke="#946941" stroke-width="0.35"/><circle cx="88.2" cy="232.9" r="1.92" fill="#f0aa69" stroke="#946941" stroke-width="0.35"/><circle cx="90.3" cy="239.5" r="1.31" fill="#f0aa69" stroke="#946941" stroke-width="0.35"/><circle cx="97.3" cy="237.7" r="1.02" fill="#f0aa69" stroke="#946941" stroke-width="0.35"/><circle cx="85.9" cy="229.9" r="1.42" fill="#fad7aa" stroke="#9b8569" stroke-width="0.35"/><circle cx="83.8" cy="237.5" r="1.36" fill="#f0aa69" stroke="#946941" stroke-width="0.35"/><circle cx="92.0" cy="239.9" r="1.62" fill="#f0bed2" stroke="#947582" stroke-width="0.35"/><circle cx="76.0" cy="234.1" r="1.14" fill="#f0aa69" stroke="#946941" stroke-width="0.35"/><circle cx="77.7" cy="226.9" r="2.07" fill="#f0aa69" stroke="#946941" stroke-width="0.35"/><circle cx="79.2" cy="219.7" r="1.08" fill="#fad7aa" stroke="#9b8569" stroke-width="0.35"/><circle cx="82.6" cy="233.5" r="1.75" fill="#f0aa69" stroke="#946941" stroke-width="0.35"/><circle cx="88.9" cy="235.2" r="1.06" fill="#f0aa69" stroke="#946941" stroke-width="0.35"/><circle cx="94.7" cy="234.9" r="1.64" fill="#fad7aa" stroke="#9b8569" stroke-width="0.35"/><circle cx="102.0" cy="241.1" r="1.23" fill="#f0aa69" stroke="#946941" stroke-width="0.35"/><circle cx="79.9" cy="226.8" r="1.74" fill="#fad7aa" stroke="#9b8569" stroke-width="0.35"/><circle cx="99.2" cy="233.8" r="1.62" fill="#f0aa69" stroke="#946941" stroke-width="0.35"/><circle cx="96.1" cy="240.5" r="1.52" fill="#f0bed2" stroke="#947582" stroke-width="0.35"/><circle cx="78.9" cy="221.0" r="2.08" fill="#f0bed2" stroke="#947582" stroke-width="0.35"/><circle cx="102.8" cy="242.5" r="1.37" fill="#fad7aa" stroke="#9b8569" stroke-width="0.35"/><circle cx="99.5" cy="241.2" r="1.05" fill="#f0aa69" stroke="#946941" stroke-width="0.35"/><circle cx="84.1" cy="235.3" r="1.49" fill="#f0aa69" stroke="#946941" stroke-width="0.35"/><circle cx="82.6" cy="227.6" r="1.18" fill="#f0aa69" stroke="#946941" stroke-width="0.35"/><circle cx="90.6" cy="237.6" r="1.10" fill="#f0aa69" stroke="#946941" stroke-width="0.35"/><circle cx="83.4" cy="230.6" r="1.96" fill="#fad7aa" stroke="#9b8569" stroke-width="0.35"/><circle cx="74.4" cy="229.6" r="1.05" fill="#f0aa69" stroke="#946941" stroke-width="0.35"/><circle cx="102.7" cy="243.6" r="1.07" fill="#f0aa69" stroke="#946941" stroke-width="0.35"/><circle cx="87.0" cy="228.7" r="1.47" fill="#fad7aa" stroke="#9b8569" stroke-width="0.35"/><circle cx="83.3" cy="226.1" r="1.49" fill="#f0aa69" stroke="#946941" stroke-width="0.35"/><circle cx="93.5" cy="238.2" r="1.51" fill="#f0aa69" stroke="#946941" stroke-width="0.35"/><circle cx="79.9" cy="234.6" r="1.02" fill="#f0bed2" stroke="#947582" stroke-width="0.35"/><circle cx="82.6" cy="232.3" r="2.03" fill="#f0aa69" stroke="#946941" stroke-width="0.35"/><circle cx="83.3" cy="234.7" r="2.00" fill="#fad7aa" stroke="#9b8569" stroke-width="0.35"/><circle cx="104.8" cy="234.9" r="1.11" fill="#fad7aa" stroke="#9b8569" stroke-width="0.35"/><circle cx="96.5" cy="231.4" r="1.85" fill="#f0aa69" stroke="#946941" stroke-width="0.35"/><circle cx="107.0" cy="235.8" r="2.03" fill="#fad7aa" stroke="#9b8569" stroke-width="0.35"/><circle cx="84.5" cy="231.5" r="1.57" fill="#f0aa69" stroke="#946941" stroke-width="0.35"/><circle cx="75.5" cy="228.4" r="1.60" fill="#f0aa69" stroke="#946941" stroke-width="0.35"/><circle cx="81.8" cy="227.7" r="1.16" fill="#fad7aa" stroke="#9b8569" stroke-width="0.35"/><circle cx="76.4" cy="229.5" r="1.85" fill="#f0aa69" stroke="#946941" stroke-width="0.35"/><circle cx="78.8" cy="234.0" r="2.06" fill="#fad7aa" stroke="#9b8569" stroke-width="0.35"/><circle cx="86.0" cy="234.8" r="1.41" fill="#fad7aa" stroke="#9b8569" stroke-width="0.35"/><circle cx="77.5" cy="227.8" r="1.01" fill="#f0aa69" stroke="#946941" stroke-width="0.35"/><circle cx="104.3" cy="230.5" r="1.87" fill="#f0aa69" stroke="#946941" stroke-width="0.35"/><circle cx="86.4" cy="238.9" r="1.14" fill="#f0aa69" stroke="#946941" stroke-width="0.35"/><circle cx="102.0" cy="242.2" r="1.49" fill="#f0aa69" stroke="#946941" stroke-width="0.35"/><circle cx="77.1" cy="234.6" r="1.34" fill="#fad7aa" stroke="#9b8569" stroke-width="0.35"/><circle cx="78.1" cy="224.9" r="2.09" fill="#f0aa69" stroke="#946941" stroke-width="0.35"/><circle cx="87.8" cy="227.6" r="1.99" fill="#f0bed2" stroke="#947582" stroke-width="0.35"/><circle cx="76.2" cy="232.0" r="1.83" fill="#fad7aa" stroke="#9b8569" stroke-width="0.35"/><circle cx="98.9" cy="241.3" r="1.89" fill="#fad7aa" stroke="#9b8569" stroke-width="0.35"/><circle cx="102.3" cy="235.6" r="1.37" fill="#f0bed2" stroke="#947582" stroke-width="0.35"/><circle cx="73.9" cy="227.4" r="1.42" fill="#fad7aa" stroke="#9b8569" stroke-width="0.35"/><circle cx="91.1" cy="236.8" r="1.23" fill="#f0aa69" stroke="#946941" stroke-width="0.35"/><circle cx="93.6" cy="243.3" r="1.92" fill="#f0bed2" stroke="#947582" stroke-width="0.35"/><circle cx="84.3" cy="231.5" r="1.99" fill="#fad7aa" stroke="#9b8569" stroke-width="0.35"/><circle cx="103.6" cy="241.5" r="1.07" fill="#f0aa69" stroke="#946941" stroke-width="0.35"/><circle cx="103.7" cy="242.3" r="1.98" fill="#f0aa69" stroke="#946941" stroke-width="0.35"/><circle cx="98.3" cy="234.7" r="2.03" fill="#fad7aa" stroke="#9b8569" stroke-width="0.35"/><circle cx="89.4" cy="231.1" r="2.07" fill="#f0bed2" stroke="#947582" stroke-width="0.35"/><circle cx="100.4" cy="241.7" r="1.05" fill="#f0aa69" stroke="#946941" stroke-width="0.35"/><circle cx="89.5" cy="238.5" r="1.12" fill="#fad7aa" stroke="#9b8569" stroke-width="0.35"/><circle cx="77.6" cy="228.9" r="1.84" fill="#f0aa69" stroke="#946941" stroke-width="0.35"/><circle cx="92.2" cy="234.8" r="1.91" fill="#f0aa69" stroke="#946941" stroke-width="0.35"/><circle cx="103.3" cy="240.6" r="1.68" fill="#fad7aa" stroke="#9b8569" stroke-width="0.35"/><circle cx="79.0" cy="233.8" r="2.05" fill="#f0aa69" stroke="#946941" stroke-width="0.35"/><circle cx="95.9" cy="237.4" r="1.82" fill="#f0aa69" stroke="#946941" stroke-width="0.35"/><circle cx="78.8" cy="231.8" r="1.55" fill="#f0aa69" stroke="#946941" stroke-width="0.35"/><circle cx="77.9" cy="225.7" r="1.56" fill="#f0aa69" stroke="#946941" stroke-width="0.35"/><circle cx="76.6" cy="233.3" r="1.27" fill="#f0aa69" stroke="#946941" stroke-width="0.35"/><circle cx="95.9" cy="240.9" r="1.68" fill="#f0aa69" stroke="#946941" stroke-width="0.35"/><circle cx="89.9" cy="239.0" r="2.02" fill="#fad7aa" stroke="#9b8569" stroke-width="0.35"/><circle cx="77.4" cy="228.0" r="1.73" fill="#f0aa69" stroke="#946941" stroke-width="0.35"/><circle cx="76.4" cy="228.0" r="1.84" fill="#f0aa69" stroke="#946941" stroke-width="0.35"/><circle cx="80.6" cy="227.1" r="1.09" fill="#fad7aa" stroke="#9b8569" stroke-width="0.35"/><circle cx="89.5" cy="236.4" r="2.10" fill="#f0aa69" stroke="#946941" stroke-width="0.35"/><circle cx="76.3" cy="227.4" r="1.78" fill="#f0aa69" stroke="#946941" stroke-width="0.35"/><circle cx="79.7" cy="229.4" r="1.66" fill="#f0aa69" stroke="#946941" stroke-width="0.35"/><circle cx="101.5" cy="244.6" r="1.42" fill="#f0aa69" stroke="#946941" stroke-width="0.35"/><circle cx="88.9" cy="237.4" r="1.15" fill="#f0bed2" stroke="#947582" stroke-width="0.35"/><circle cx="101.1" cy="233.9" r="1.60" fill="#fad7aa" stroke="#9b8569" stroke-width="0.35"/><circle cx="91.5" cy="240.2" r="1.29" fill="#f0aa69" stroke="#946941" stroke-width="0.35"/><circle cx="74.9" cy="226.0" r="2.01" fill="#f0aa69" stroke="#946941" stroke-width="0.35"/><circle cx="91.8" cy="233.9" r="1.95" fill="#f0aa69" stroke="#946941" stroke-width="0.35"/><circle cx="96.9" cy="238.2" r="1.91" fill="#fad7aa" stroke="#9b8569" stroke-width="0.35"/><circle cx="93.6" cy="239.8" r="1.50" fill="#fad7aa" stroke="#9b8569" stroke-width="0.35"/><circle cx="78.0" cy="223.7" r="1.32" fill="#fad7aa" stroke="#9b8569" stroke-width="0.35"/><circle cx="98.9" cy="234.4" r="1.99" fill="#f0bed2" stroke="#947582" stroke-width="0.35"/><circle cx="82.8" cy="235.5" r="1.57" fill="#4866c4" stroke="#2c3f79" stroke-width="0.35"/><circle cx="75.7" cy="226.4" r="1.69" fill="#4866c4" stroke="#2c3f79" stroke-width="0.35"/><circle cx="74.2" cy="225.0" r="0.91" fill="#4866c4" stroke="#2c3f79" stroke-width="0.35"/><circle cx="79.7" cy="231.1" r="0.96" fill="#4866c4" stroke="#2c3f79" stroke-width="0.35"/><circle cx="83.1" cy="226.5" r="1.54" fill="#4866c4" stroke="#2c3f79" stroke-width="0.35"/><circle cx="73.2" cy="228.7" r="1.20" fill="#4866c4" stroke="#2c3f79" stroke-width="0.35"/><circle cx="82.3" cy="230.4" r="1.52" fill="#966eb4" stroke="#5d446f" stroke-width="0.35"/><circle cx="72.4" cy="222.1" r="1.63" fill="#966eb4" stroke="#5d446f" stroke-width="0.35"/><circle cx="75.5" cy="227.3" r="1.12" fill="#966eb4" stroke="#5d446f" stroke-width="0.35"/><circle cx="77.2" cy="226.4" r="1.12" fill="#4866c4" stroke="#2c3f79" stroke-width="0.35"/><circle cx="76.8" cy="224.3" r="1.03" fill="#966eb4" stroke="#5d446f" stroke-width="0.35"/><circle cx="74.4" cy="227.4" r="1.38" fill="#4866c4" stroke="#2c3f79" stroke-width="0.35"/><circle cx="76.5" cy="229.4" r="1.32" fill="#4866c4" stroke="#2c3f79" stroke-width="0.35"/><circle cx="79.6" cy="227.9" r="1.06" fill="#4866c4" stroke="#2c3f79" stroke-width="0.35"/><circle cx="71.6" cy="224.5" r="1.29" fill="#4866c4" stroke="#2c3f79" stroke-width="0.35"/><circle cx="81.0" cy="227.0" r="1.58" fill="#4866c4" stroke="#2c3f79" stroke-width="0.35"/><circle cx="70.2" cy="226.4" r="1.35" fill="#4866c4" stroke="#2c3f79" stroke-width="0.35"/><circle cx="74.6" cy="222.5" r="1.24" fill="#4866c4" stroke="#2c3f79" stroke-width="0.35"/><circle cx="75.2" cy="231.4" r="1.30" fill="#4866c4" stroke="#2c3f79" stroke-width="0.35"/><circle cx="74.3" cy="228.3" r="0.92" fill="#4866c4" stroke="#2c3f79" stroke-width="0.35"/><circle cx="75.4" cy="231.1" r="1.28" fill="#966eb4" stroke="#5d446f" stroke-width="0.35"/><circle cx="74.4" cy="227.4" r="1.66" fill="#4866c4" stroke="#2c3f79" stroke-width="0.35"/><circle cx="77.8" cy="230.1" r="1.03" fill="#4866c4" stroke="#2c3f79" stroke-width="0.35"/><circle cx="82.3" cy="233.0" r="1.42" fill="#4866c4" stroke="#2c3f79" stroke-width="0.35"/><circle cx="77.7" cy="229.7" r="1.34" fill="#4866c4" stroke="#2c3f79" stroke-width="0.35"/><circle cx="78.8" cy="227.5" r="1.16" fill="#4866c4" stroke="#2c3f79" stroke-width="0.35"/><circle cx="76.3" cy="229.8" r="1.33" fill="#4866c4" stroke="#2c3f79" stroke-width="0.35"/><circle cx="73.8" cy="228.0" r="1.31" fill="#4866c4" stroke="#2c3f79" stroke-width="0.35"/><circle cx="86.7" cy="228.0" r="1.11" fill="#4866c4" stroke="#2c3f79" stroke-width="0.35"/><circle cx="83.0" cy="226.8" r="1.38" fill="#966eb4" stroke="#5d446f" stroke-width="0.35"/><circle cx="79.9" cy="233.4" r="0.97" fill="#4866c4" stroke="#2c3f79" stroke-width="0.35"/><circle cx="82.3" cy="228.3" r="1.14" fill="#4866c4" stroke="#2c3f79" stroke-width="0.35"/><circle cx="76.5" cy="227.0" r="1.68" fill="#4866c4" stroke="#2c3f79" stroke-width="0.35"/><circle cx="71.6" cy="228.1" r="1.41" fill="#4866c4" stroke="#2c3f79" stroke-width="0.35"/><circle cx="86.6" cy="227.5" r="0.93" fill="#4866c4" stroke="#2c3f79" stroke-width="0.35"/><circle cx="74.0" cy="230.1" r="1.01" fill="#4866c4" stroke="#2c3f79" stroke-width="0.35"/><circle cx="75.5" cy="223.5" r="0.90" fill="#4866c4" stroke="#2c3f79" stroke-width="0.35"/><circle cx="75.0" cy="229.5" r="0.94" fill="#966eb4" stroke="#5d446f" stroke-width="0.35"/><circle cx="80.3" cy="231.9" r="0.93" fill="#4866c4" stroke="#2c3f79" stroke-width="0.35"/><circle cx="75.8" cy="228.5" r="1.03" fill="#4866c4" stroke="#2c3f79" stroke-width="0.35"/><circle cx="73.9" cy="222.8" r="1.64" fill="#4866c4" stroke="#2c3f79" stroke-width="0.35"/><circle cx="87.0" cy="226.0" r="1.26" fill="#4866c4" stroke="#2c3f79" stroke-width="0.35"/><circle cx="72.3" cy="229.4" r="1.25" fill="#4866c4" stroke="#2c3f79" stroke-width="0.35"/><circle cx="83.9" cy="230.2" r="1.39" fill="#966eb4" stroke="#5d446f" stroke-width="0.35"/><circle cx="74.1" cy="227.3" r="1.21" fill="#4866c4" stroke="#2c3f79" stroke-width="0.35"/><circle cx="93.0" cy="232.6" r="3.00" fill="#4866c4" stroke="#2b3d75" stroke-width="0.35"/><circle cx="104.0" cy="232.6" r="2.00" fill="#de2828" stroke="#851818" stroke-width="0.35"/><circle cx="103.0" cy="237.4" r="2.00" fill="#f0bed2" stroke="#90727e" stroke-width="0.35"/><circle cx="107.4" cy="238.8" r="2.00" fill="#4866c4" stroke="#2b3d75" stroke-width="0.35"/><circle cx="109.5" cy="219.6" r="2.00" fill="#4866c4" stroke="#2b3d75" stroke-width="0.35"/><circle cx="111.5" cy="235.4" r="1.60" fill="#966eb4" stroke="#5a426c" stroke-width="0.35"/><circle cx="71.0" cy="227.0" r="1.80" fill="#4866c4" stroke="#2b3d75" stroke-width="0.35"/><circle cx="76.0" cy="230.0" r="1.50" fill="#4866c4" stroke="#2b3d75" stroke-width="0.35"/><circle cx="81.0" cy="218.0" r="1.80" fill="#fbf8f8" stroke="#9a9a9a" stroke-width="0.4"/><circle cx="94.0" cy="222.0" r="1.60" fill="#fbf8f8" stroke="#9a9a9a" stroke-width="0.4"/><circle cx="70.0" cy="233.0" r="1.60" fill="#fbf8f8" stroke="#9a9a9a" stroke-width="0.4"/><circle cx="77.0" cy="236.0" r="1.50" fill="#fbf8f8" stroke="#9a9a9a" stroke-width="0.4"/><circle cx="100.5" cy="245.0" r="1.50" fill="#fbf8f8" stroke="#9a9a9a" stroke-width="0.4"/><circle cx="118.0" cy="202.0" r="1.80" fill="#fbf8f8" stroke="#9a9a9a" stroke-width="0.4"/><circle cx="137.0" cy="203.0" r="1.50" fill="#fbf8f8" stroke="#9a9a9a" stroke-width="0.4"/><circle cx="143.0" cy="237.0" r="1.60" fill="#fbf8f8" stroke="#9a9a9a" stroke-width="0.4"/></g><circle cx="37.5" cy="243.8" r="10.00" fill="#4b68c0" stroke="#263a80" stroke-width="0.6"/><circle cx="35.0" cy="240.5" r="5.00" fill="#3c55a8" stroke="#2a3c80" stroke-width="0.3" fill-opacity="0.7"/><circle cx="42.5" cy="241.5" r="0.90" fill="#c04060"/><circle cx="44.5" cy="243.0" r="0.70" fill="#c04060"/><circle cx="41.0" cy="240.0" r="0.60" fill="#c04060"/><circle cx="52.0" cy="243.5" r="4.00" fill="#fcd5a5" stroke="#a08060" stroke-width="0.45"/><circle cx="55.8" cy="246.8" r="2.00" fill="#fcd5a5" stroke="#a08060" stroke-width="0.4"/><circle cx="57.6" cy="248.3" r="1.30" fill="#fcd5a5" stroke="#a08060" stroke-width="0.4"/><circle cx="65.0" cy="245.0" r="2.20" fill="#f0a870" stroke="#b07040" stroke-width="0.4"/><circle cx="68.0" cy="246.3" r="2.20" fill="#f0a870" stroke="#b07040" stroke-width="0.4"/><circle cx="71.0" cy="247.7" r="2.20" fill="#f0a870" stroke="#b07040" stroke-width="0.4"/><circle cx="74.0" cy="249.1" r="2.20" fill="#f0a870" stroke="#b07040" stroke-width="0.4"/><circle cx="77.0" cy="250.4" r="2.20" fill="#f0a870" stroke="#b07040" stroke-width="0.4"/><circle cx="56.0" cy="232.0" r="0.90" fill="#222"/><circle cx="164.0" cy="150.0" r="2.30" fill="none" stroke="#999" stroke-width="0.5"/><text font-family="Liberation Sans, sans-serif" x="169.6" y="152.7" font-size="5" fill="#222" stroke="#222" stroke-width="0.1">Unidentified</text><g font-family="Liberation Sans, sans-serif"><text x="99.00" y="174.00" font-size="4.5" text-anchor="start" fill="#111" stroke="#111" stroke-width="0.12"><tspan dy="0.00" font-size="4.5">(C</tspan><tspan dy="1.26" font-size="3.06">15</tspan><tspan dy="-1.26" font-size="4.5">H</tspan><tspan dy="1.26" font-size="3.06">24</tspan><tspan dy="-1.26" font-size="4.5">O</tspan><tspan dy="1.26" font-size="3.06">1–7</tspan><tspan dy="-1.26" font-size="4.5">NO</tspan><tspan dy="1.26" font-size="3.06">3</tspan><tspan dy="-1.26" font-size="4.5">)</tspan></text><text x="105.00" y="181.60" font-size="4.5" text-anchor="start" fill="#111" stroke="#111" stroke-width="0.12"><tspan dy="0.00" font-size="4.5">C</tspan><tspan dy="1.26" font-size="3.06">15</tspan><tspan dy="-1.26" font-size="4.5">H</tspan><tspan dy="1.26" font-size="3.06">24</tspan><tspan dy="-1.26" font-size="4.5">NO</tspan><tspan dy="1.26" font-size="3.06">3</tspan><tspan dy="-2.97" font-size="3.06">–</tspan></text><text x="69.00" y="189.60" font-size="4.5" text-anchor="start" fill="#111" stroke="#111" stroke-width="0.12"><tspan dy="0.00" font-size="4.5">(C</tspan><tspan dy="1.26" font-size="3.06">10</tspan><tspan dy="-1.26" font-size="4.5">H</tspan><tspan dy="1.26" font-size="3.06">16</tspan><tspan dy="-1.26" font-size="4.5">O</tspan><tspan dy="1.26" font-size="3.06">1–5</tspan><tspan dy="-1.26" font-size="4.5">NO</tspan><tspan dy="1.26" font-size="3.06">3</tspan><tspan dy="-1.26" font-size="4.5">)</tspan></text><text x="74.00" y="197.00" font-size="4.5" text-anchor="start" fill="#111" stroke="#111" stroke-width="0.12"><tspan dy="0.00" font-size="4.5">C</tspan><tspan dy="1.26" font-size="3.06">10</tspan><tspan dy="-1.26" font-size="4.5">H</tspan><tspan dy="1.26" font-size="3.06">16</tspan><tspan dy="-1.26" font-size="4.5">NO</tspan><tspan dy="1.26" font-size="3.06">3</tspan><tspan dy="-2.97" font-size="3.06">–</tspan></text><text x="41.60" y="208.60" font-size="4.5" text-anchor="start" fill="#111" stroke="#111" stroke-width="0.12"><tspan dy="0.00" font-size="4.5">(C</tspan><tspan dy="1.26" font-size="3.06">5</tspan><tspan dy="-1.26" font-size="4.5">H</tspan><tspan dy="1.26" font-size="3.06">8</tspan><tspan dy="-1.26" font-size="4.5">O</tspan><tspan dy="1.26" font-size="3.06">1–3</tspan><tspan dy="-1.26" font-size="4.5">NO</tspan><tspan dy="1.26" font-size="3.06">3</tspan><tspan dy="-1.26" font-size="4.5">)</tspan></text><text x="48.00" y="216.00" font-size="4.5" text-anchor="start" fill="#111" stroke="#111" stroke-width="0.12"><tspan dy="0.00" font-size="4.5">C</tspan><tspan dy="1.26" font-size="3.06">5</tspan><tspan dy="-1.26" font-size="4.5">H</tspan><tspan dy="1.26" font-size="3.06">8</tspan><tspan dy="-1.26" font-size="4.5">NO</tspan><tspan dy="1.26" font-size="3.06">3</tspan><tspan dy="-2.97" font-size="3.06">–</tspan></text><text x="161.00" y="241.50" font-size="4.5" text-anchor="start" fill="#111" stroke="#111" stroke-width="0.12"><tspan dy="0.00" font-size="4.5">C</tspan><tspan dy="1.26" font-size="3.06">10</tspan><tspan dy="-1.26" font-size="4.5">H</tspan><tspan dy="1.26" font-size="3.06">16</tspan><tspan dy="-1.26" font-size="4.5">N</tspan><tspan dy="1.26" font-size="3.06">2</tspan><tspan dy="-1.26" font-size="4.5">O</tspan><tspan dy="1.26" font-size="3.06">x</tspan><tspan dy="-2.97" font-size="3.06">–</tspan></text><text x="157.50" y="248.50" font-size="4.5" text-anchor="start" fill="#111" stroke="#111" stroke-width="0.12"><tspan dy="0.00" font-size="4.5">(C</tspan><tspan dy="1.26" font-size="3.06">10</tspan><tspan dy="-1.26" font-size="4.5">H</tspan><tspan dy="1.26" font-size="3.06">16</tspan><tspan dy="-1.26" font-size="4.5">N</tspan><tspan dy="1.26" font-size="3.06">2</tspan><tspan dy="-1.26" font-size="4.5">O</tspan><tspan dy="1.26" font-size="3.06">4–8</tspan><tspan dy="-1.26" font-size="4.5">NO</tspan><tspan dy="1.26" font-size="3.06">3</tspan><tspan dy="-1.26" font-size="4.5">)</tspan></text><text x="112.50" y="253.80" font-size="4.5" text-anchor="start" fill="#111" stroke="#111" stroke-width="0.12"><tspan dy="0.00" font-size="4.5">C</tspan><tspan dy="1.26" font-size="3.06">5</tspan><tspan dy="-1.26" font-size="4.5">H</tspan><tspan dy="1.26" font-size="3.06">8</tspan><tspan dy="-1.26" font-size="4.5">N</tspan><tspan dy="1.26" font-size="3.06">2</tspan><tspan dy="-1.26" font-size="4.5">O</tspan><tspan dy="1.26" font-size="3.06">x</tspan><tspan dy="-2.97" font-size="3.06">–</tspan></text><text x="105.00" y="261.60" font-size="4.5" text-anchor="start" fill="#111" stroke="#111" stroke-width="0.12"><tspan dy="0.00" font-size="4.5">(C</tspan><tspan dy="1.26" font-size="3.06">5</tspan><tspan dy="-1.26" font-size="4.5">H</tspan><tspan dy="1.26" font-size="3.06">8</tspan><tspan dy="-1.26" font-size="4.5">NO</tspan><tspan dy="1.26" font-size="3.06">4–6</tspan><tspan dy="-1.26" font-size="4.5">NO</tspan><tspan dy="1.26" font-size="3.06">3</tspan><tspan dy="-1.26" font-size="4.5">)</tspan></text></g><line x1="63" y1="218.5" x2="66" y2="223" stroke="#111" stroke-width="0.6"/><polygon points="66.00,223.00 63.68,221.42 65.43,220.25" fill="#111"/><line x1="122" y1="185.5" x2="125" y2="190" stroke="#111" stroke-width="0.6"/><polygon points="125.00,190.00 122.68,188.42 124.43,187.25" fill="#111"/><line x1="91" y1="200" x2="93.5" y2="204.5" stroke="#111" stroke-width="0.6"/><polygon points="93.50,204.50 91.32,202.74 93.16,201.72" fill="#111"/><line x1="165" y1="231" x2="168.5" y2="235" stroke="#111" stroke-width="0.6"/><polygon points="168.50,235.00 166.00,233.73 167.58,232.35" fill="#111"/><line x1="116" y1="242.5" x2="119.5" y2="246.5" stroke="#111" stroke-width="0.6"/><polygon points="119.50,246.50 117.00,245.23 118.58,243.85" fill="#111"/><line x1="282.5" y1="200" x2="365" y2="222.5" stroke="#8a8a8a" stroke-width="0.5" stroke-dasharray="1.3 0.7"/><line x1="303" y1="235" x2="318" y2="239.5" stroke="#8a8a8a" stroke-width="0.5" stroke-dasharray="1.3 0.7"/><g fill="#555"><circle cx="358.4" cy="210.3" r="0.51"/><circle cx="309.9" cy="201.0" r="0.42"/><circle cx="320.6" cy="204.3" r="0.56"/><circle cx="330.9" cy="206.9" r="0.52"/><circle cx="358.2" cy="214.5" r="0.53"/><circle cx="288.1" cy="200.2" r="0.58"/><circle cx="293.7" cy="201.5" r="0.41"/><circle cx="299.3" cy="203.0" r="0.54"/><circle cx="305.0" cy="204.4" r="0.41"/><circle cx="310.0" cy="205.7" r="0.58"/><circle cx="315.3" cy="207.0" r="0.47"/><circle cx="320.8" cy="208.4" r="0.51"/><circle cx="326.3" cy="210.0" r="0.50"/><circle cx="331.6" cy="211.4" r="0.53"/><circle cx="337.1" cy="213.3" r="0.56"/><circle cx="342.1" cy="214.1" r="0.52"/><circle cx="347.6" cy="216.1" r="0.48"/><circle cx="282.7" cy="202.9" r="0.56"/><circle cx="288.1" cy="203.8" r="0.56"/><circle cx="294.3" cy="206.2" r="0.41"/><circle cx="304.1" cy="208.5" r="0.40"/><circle cx="315.4" cy="212.2" r="0.46"/><circle cx="320.7" cy="212.6" r="0.52"/><circle cx="326.4" cy="215.2" r="0.47"/><circle cx="342.2" cy="218.4" r="0.47"/><circle cx="288.0" cy="208.6" r="0.51"/><circle cx="293.8" cy="209.7" r="0.55"/><circle cx="303.7" cy="212.6" r="0.43"/><circle cx="310.0" cy="215.0" r="0.57"/><circle cx="315.6" cy="216.0" r="0.53"/><circle cx="326.5" cy="218.9" r="0.55"/><circle cx="337.8" cy="222.0" r="0.55"/><circle cx="282.8" cy="212.1" r="0.57"/><circle cx="288.9" cy="213.3" r="0.48"/><circle cx="293.6" cy="214.7" r="0.55"/><circle cx="304.4" cy="218.0" r="0.55"/><circle cx="310.2" cy="218.8" r="0.43"/><circle cx="315.4" cy="220.3" r="0.55"/><circle cx="325.9" cy="223.6" r="0.45"/><circle cx="283.2" cy="216.6" r="0.53"/><circle cx="288.7" cy="218.2" r="0.55"/><circle cx="299.3" cy="220.9" r="0.59"/><circle cx="304.1" cy="222.1" r="0.55"/><circle cx="310.2" cy="224.6" r="0.51"/><circle cx="315.4" cy="224.8" r="0.49"/><circle cx="320.8" cy="226.7" r="0.59"/><circle cx="283.1" cy="221.3" r="0.53"/><circle cx="293.7" cy="223.7" r="0.56"/><circle cx="299.2" cy="225.0" r="0.51"/><circle cx="305.0" cy="227.1" r="0.48"/><circle cx="309.8" cy="228.1" r="0.46"/><circle cx="283.2" cy="225.5" r="0.56"/><circle cx="288.4" cy="226.9" r="0.53"/><circle cx="304.6" cy="231.5" r="0.53"/><circle cx="288.0" cy="231.4" r="0.45"/><circle cx="294.1" cy="233.3" r="0.51"/><circle cx="283.2" cy="235.2" r="0.43"/><circle cx="288.6" cy="235.8" r="0.56"/></g><circle cx="300.0" cy="229.7" r="4.50" fill="#fbe4c8" stroke="#d8b890" stroke-width="0.4"/><circle cx="296.5" cy="228.2" r="6.00" fill="#f9dcb0" stroke="#c8a878" stroke-width="0.4"/><circle cx="234.7" cy="227.0" r="10.80" fill="#ad70c0" stroke="#7a4898" stroke-width="0.45"/><circle cx="242.0" cy="225.0" r="11.00" fill="#a568bc" stroke="#7a4898" stroke-width="0.45" fill-opacity="0.8"/><circle cx="250.0" cy="222.0" r="12.00" fill="#9e60b6" stroke="#703c8c" stroke-width="0.45" fill-opacity="0.85"/><g fill="none" stroke="#8a50a4" stroke-width="0.35" opacity="0.7"><circle cx="238" cy="229" r="8"/><circle cx="246" cy="226" r="9"/><circle cx="253" cy="224" r="7"/></g><circle cx="261.2" cy="223.7" r="9.80" fill="#4f6cc4" stroke="#2e448e" stroke-width="0.45"/><circle cx="268.0" cy="225.0" r="8.50" fill="#4a66c0" stroke="#2e448e" stroke-width="0.45" fill-opacity="0.9"/><circle cx="256.0" cy="230.0" r="4.00" fill="#4d68c2" stroke="#3a52a0" stroke-width="0.3" fill-opacity="0.9"/><circle cx="263.0" cy="231.0" r="3.50" fill="#4d68c2" stroke="#3a52a0" stroke-width="0.3" fill-opacity="0.9"/><circle cx="270.0" cy="230.0" r="3.00" fill="#4d68c2" stroke="#3a52a0" stroke-width="0.3" fill-opacity="0.9"/><circle cx="256.0" cy="217.0" r="5.00" fill="#4d68c2" stroke="#3a52a0" stroke-width="0.3" fill-opacity="0.9"/><circle cx="266.0" cy="216.0" r="4.50" fill="#4d68c2" stroke="#3a52a0" stroke-width="0.3" fill-opacity="0.9"/><circle cx="278.5" cy="223.7" r="5.20" fill="#4d70c8" stroke="#22387a" stroke-width="0.55"/><circle cx="289.3" cy="227.2" r="6.70" fill="#f8d4a0" stroke="#4a3a28" stroke-width="0.6"/><circle cx="263.0" cy="220.0" r="1.00" fill="#e0a0c0"/><circle cx="222.5" cy="232.0" r="1.20" fill="#8a50a0"/><circle cx="221.5" cy="237.0" r="0.60" fill="#8a50a0"/><circle cx="225.5" cy="237.5" r="0.60" fill="#8a50a0"/><circle cx="268.0" cy="241.7" r="1.20" fill="#4a60b8"/><circle cx="272.5" cy="237.0" r="0.80" fill="#4a60b8"/><circle cx="288.0" cy="236.5" r="1.00" fill="#4a60b8"/><circle cx="283.0" cy="234.0" r="0.60" fill="#4a60b8"/><circle cx="253.0" cy="236.0" r="0.70" fill="#4a60b8"/><g font-family="Liberation Sans, sans-serif"><text x="217.50" y="203.60" font-size="5.1" text-anchor="start" fill="#111" stroke="#111" stroke-width="0.12"><tspan dy="0.00" font-size="5.1">C</tspan><tspan dy="1.43" font-size="3.47">5</tspan><tspan dy="-1.43" font-size="5.1">H</tspan><tspan dy="1.43" font-size="3.47">10</tspan><tspan dy="-1.43" font-size="5.1">O</tspan><tspan dy="1.43" font-size="3.47">2</tspan></text><text x="244.00" y="203.60" font-size="5.1" text-anchor="start" fill="#111" stroke="#111" stroke-width="0.12"><tspan dy="0.00" font-size="5.1">C</tspan><tspan dy="1.43" font-size="3.47">5</tspan><tspan dy="-1.43" font-size="5.1">H</tspan><tspan dy="1.43" font-size="3.47">10</tspan><tspan dy="-1.43" font-size="5.1">O</tspan><tspan dy="1.43" font-size="3.47">3</tspan></text><text x="265.70" y="210.60" font-size="5.1" text-anchor="start" fill="#111" stroke="#111" stroke-width="0.12"><tspan dy="0.00" font-size="5.1">C</tspan><tspan dy="1.43" font-size="3.47">5</tspan><tspan dy="-1.43" font-size="5.1">H</tspan><tspan dy="1.43" font-size="3.47">10</tspan><tspan dy="-1.43" font-size="5.1">O</tspan><tspan dy="1.43" font-size="3.47">4</tspan></text><text x="266.60" y="188.60" font-size="5.1" text-anchor="start" fill="#111" stroke="#111" stroke-width="0.12"><tspan dy="0.00" font-size="5.1">C</tspan><tspan dy="1.43" font-size="3.47">10</tspan><tspan dy="-1.43" font-size="5.1">H</tspan><tspan dy="1.43" font-size="3.47">16</tspan><tspan dy="-1.43" font-size="5.1">O</tspan><tspan dy="1.43" font-size="3.47">x</tspan></text><text x="264.00" y="252.00" font-size="5.0" text-anchor="start" fill="#111" stroke="#111" stroke-width="0.12"><tspan dy="0.00" font-size="5.0">C</tspan><tspan dy="1.40" font-size="3.40">5</tspan><tspan dy="-1.40" font-size="5.0">H</tspan><tspan dy="1.40" font-size="3.40">11</tspan><tspan dy="-1.40" font-size="5.0">NO</tspan><tspan dy="1.40" font-size="3.40">3</tspan></text><text x="293.00" y="252.50" font-size="5.0" text-anchor="start" fill="#111" stroke="#111" stroke-width="0.12"><tspan dy="0.00" font-size="5.0">C</tspan><tspan dy="1.40" font-size="3.40">5</tspan><tspan dy="-1.40" font-size="5.0">H</tspan><tspan dy="1.40" font-size="3.40">10</tspan><tspan dy="-1.40" font-size="5.0">N</tspan><tspan dy="1.40" font-size="3.40">2</tspan><tspan dy="-1.40" font-size="5.0">O</tspan><tspan dy="1.40" font-size="3.40">8</tspan></text></g><line x1="226" y1="206" x2="229" y2="211" stroke="#111" stroke-width="0.6"/><polygon points="229.00,211.00 226.76,209.31 228.56,208.23" fill="#111"/><line x1="277.8" y1="191.5" x2="279.8" y2="196" stroke="#111" stroke-width="0.6"/><polygon points="279.80,196.00 277.78,194.05 279.70,193.20" fill="#111"/><g stroke="#111" stroke-width="0.6"><line x1="257.5" y1="206" x2="262.7" y2="220"/><line x1="273" y1="212" x2="268.7" y2="220.7"/><line x1="278.5" y1="229" x2="278.5" y2="245"/><line x1="291" y1="233.5" x2="300" y2="245"/></g><rect x="388.6" y="149" width="5.9" height="7.60" fill="#e0262c"/><rect x="388.6" y="156.6" width="5.9" height="7.40" fill="#f6cfe0"/><rect x="388.6" y="164" width="5.9" height="7.60" fill="#f4b07a"/><rect x="388.6" y="171.6" width="5.9" height="9.20" fill="#fcdcb4"/><rect x="388.6" y="180.8" width="5.9" height="7.20" fill="#4f6fc0"/><rect x="388.6" y="188" width="5.9" height="7.00" fill="#9a70b8"/><rect x="388.6" y="149" width="5.9" height="46" fill="none" stroke="#555" stroke-width="0.4"/><g font-family="Liberation Sans, sans-serif" font-size="4.6" fill="#222" text-anchor="end"><text x="385.8" y="196.60">0</text><text x="385.8" y="187.40">1</text><text x="385.8" y="178.20">2</text><text x="385.8" y="169.00">3</text><text x="385.8" y="159.80">4</text><text x="385.8" y="150.60">5</text><text transform="translate(376.5 172) rotate(-90)" text-anchor="middle" font-size="5">Number of N</text></g><g stroke="#999" stroke-width="0.95" fill="none"><path d="M24.4 12.5V269.2M211.6 12.5V269.2M24.4 141H397M24.4 269.2H397"/></g><path d="M22.40 141.00H24.40M23.20 135.15H24.40M23.20 129.30H24.40M23.20 123.45H24.40M23.20 117.60H24.40M22.40 111.75H24.40M23.20 105.90H24.40M23.20 100.05H24.40M23.20 94.20H24.40M23.20 88.35H24.40M22.40 82.50H24.40M23.20 76.65H24.40M23.20 70.80H24.40M23.20 64.95H24.40M23.20 59.10H24.40M22.40 53.25H24.40M23.20 47.40H24.40M23.20 41.55H24.40M23.20 35.70H24.40M23.20 29.85H24.40M22.40 24.00H24.40M23.20 18.15H24.40M209.60 141.00H211.60M210.40 135.15H211.60M210.40 129.30H211.60M210.40 123.45H211.60M210.40 117.60H211.60M209.60 111.75H211.60M210.40 105.90H211.60M210.40 100.05H211.60M210.40 94.20H211.60M210.40 88.35H211.60M209.60 82.50H211.60M210.40 76.65H211.60M210.40 70.80H211.60M210.40 64.95H211.60M210.40 59.10H211.60M209.60 53.25H211.60M210.40 47.40H211.60M210.40 41.55H211.60M210.40 35.70H211.60M210.40 29.85H211.60M209.60 24.00H211.60M210.40 18.15H211.60M22.40 269.25H24.40M23.20 263.40H24.40M23.20 257.55H24.40M23.20 251.70H24.40M23.20 245.85H24.40M22.40 240.00H24.40M23.20 234.15H24.40M23.20 228.30H24.40M23.20 222.45H24.40M23.20 216.60H24.40M22.40 210.75H24.40M23.20 204.90H24.40M23.20 199.05H24.40M23.20 193.20H24.40M23.20 187.35H24.40M22.40 181.50H24.40M23.20 175.65H24.40M23.20 169.80H24.40M23.20 163.95H24.40M23.20 158.10H24.40M22.40 152.25H24.40M23.20 146.40H24.40M209.60 269.25H211.60M210.40 263.40H211.60M210.40 257.55H211.60M210.40 251.70H211.60M210.40 245.85H211.60M209.60 240.00H211.60M210.40 234.15H211.60M210.40 228.30H211.60M210.40 222.45H211.60M210.40 216.60H211.60M209.60 210.75H211.60M210.40 204.90H211.60M210.40 199.05H211.60M210.40 193.20H211.60M210.40 187.35H211.60M209.60 181.50H211.60M210.40 175.65H211.60M210.40 169.80H211.60M210.40 163.95H211.60M210.40 158.10H211.60M209.60 152.25H211.60M210.40 146.40H211.60M24.40 141V142.80M35.24 141V142.10M46.08 141V142.10M56.92 141V142.10M67.76 141V142.80M78.60 141V142.10M89.44 141V142.10M100.28 141V142.10M111.12 141V142.80M121.96 141V142.10M132.80 141V142.10M143.64 141V142.10M154.48 141V142.80M165.32 141V142.10M176.16 141V142.10M187.00 141V142.10M197.84 141V142.80M208.68 141V142.10M211.60 141V142.80M218.38 141V142.10M225.16 141V142.10M231.94 141V142.10M238.72 141V142.10M245.50 141V142.80M252.28 141V142.10M259.06 141V142.10M265.84 141V142.10M272.62 141V142.10M279.40 141V142.80M286.18 141V142.10M292.96 141V142.10M299.74 141V142.10M306.52 141V142.10M313.30 141V142.80M320.08 141V142.10M326.86 141V142.10M333.64 141V142.10M340.42 141V142.10M347.20 141V142.80M353.98 141V142.10M360.76 141V142.10M367.54 141V142.10M374.32 141V142.10M381.10 141V142.80M387.88 141V142.10M394.66 141V142.10M24.40 269.2V271.00M35.24 269.2V270.30M46.08 269.2V270.30M56.92 269.2V270.30M67.76 269.2V271.00M78.60 269.2V270.30M89.44 269.2V270.30M100.28 269.2V270.30M111.12 269.2V271.00M121.96 269.2V270.30M132.80 269.2V270.30M143.64 269.2V270.30M154.48 269.2V271.00M165.32 269.2V270.30M176.16 269.2V270.30M187.00 269.2V270.30M197.84 269.2V271.00M208.68 269.2V270.30M211.60 269.2V271.00M218.38 269.2V270.30M225.16 269.2V270.30M231.94 269.2V270.30M238.72 269.2V270.30M245.50 269.2V271.00M252.28 269.2V270.30M259.06 269.2V270.30M265.84 269.2V270.30M272.62 269.2V270.30M279.40 269.2V271.00M286.18 269.2V270.30M292.96 269.2V270.30M299.74 269.2V270.30M306.52 269.2V270.30M313.30 269.2V271.00M320.08 269.2V270.30M326.86 269.2V270.30M333.64 269.2V270.30M340.42 269.2V270.30M347.20 269.2V271.00M353.98 269.2V270.30M360.76 269.2V270.30M367.54 269.2V270.30M374.32 269.2V270.30M381.10 269.2V271.00M387.88 269.2V270.30M394.66 269.2V270.30" stroke="#444" stroke-width="0.6"/><g font-family="Liberation Sans, sans-serif" font-size="4.4" fill="#222" text-anchor="end"><text x="19.4" y="25.55">0.3</text><text x="19.4" y="153.80">0.3</text><text x="19.4" y="54.80">0.2</text><text x="19.4" y="183.05">0.2</text><text x="19.4" y="84.05">0.1</text><text x="19.4" y="212.30">0.1</text><text x="19.4" y="113.30">0</text><text x="19.4" y="241.55">0</text><text x="19.4" y="142.55">–0.1</text><text x="19.4" y="270.80">–0.1</text></g><g font-family="Liberation Sans, sans-serif" font-size="4.4" fill="#222" text-anchor="middle"><text x="24.40" y="277.2">0</text><text x="67.76" y="277.2">200</text><text x="111.12" y="277.2">400</text><text x="154.48" y="277.2">600</text><text x="197.84" y="277.2">800</text><text x="211.60" y="277.2">0</text><text x="245.50" y="277.2">100</text><text x="279.40" y="277.2">200</text><text x="313.30" y="277.2">300</text><text x="347.20" y="277.2">400</text><text x="381.10" y="277.2">500</text></g><g font-family="Liberation Sans, sans-serif" font-size="5" fill="#111" text-anchor="middle"><text x="118.3" y="284">Mass/charge, <tspan font-style="italic">m/z</tspan> (Th)</text><text x="305.5" y="284">Mass/charge, <tspan font-style="italic">m/z</tspan> (Th)</text><text transform="translate(7.7 78.6) rotate(-90)">Mass defect (Th)</text><text transform="translate(7.7 205.3) rotate(-90)">Mass defect (Th)</text></g><g font-family="Liberation Sans, sans-serif" fill="#000"><text x="28.7" y="21" font-size="5.8" font-weight="bold">a</text><text x="38.0" y="20.8" font-size="5.45">Pure isoprene charged</text><text x="215.8" y="21" font-size="5.8" font-weight="bold">b</text><text x="225.1" y="20.8" font-size="5.45">Pure isoprene neutral</text><text x="28.7" y="152.3" font-size="5.8" font-weight="bold">c</text><text x="38.0" y="152.10000000000002" font-size="5.45">Isoprene + NO<tspan font-size="3.5" dy="1.1">3</tspan><tspan font-size="3.5" dy="-2.9">–</tspan><tspan dy="1.8"> charged</tspan></text><text x="215.8" y="152.3" font-size="5.8" font-weight="bold">d</text><text x="225.1" y="152.10000000000002" font-size="5.45">Isoprene + NO<tspan font-size="3.5" dy="1.1">3</tspan><tspan dy="-1.1"> neutral</tspan></text></g></svg></body></html>
